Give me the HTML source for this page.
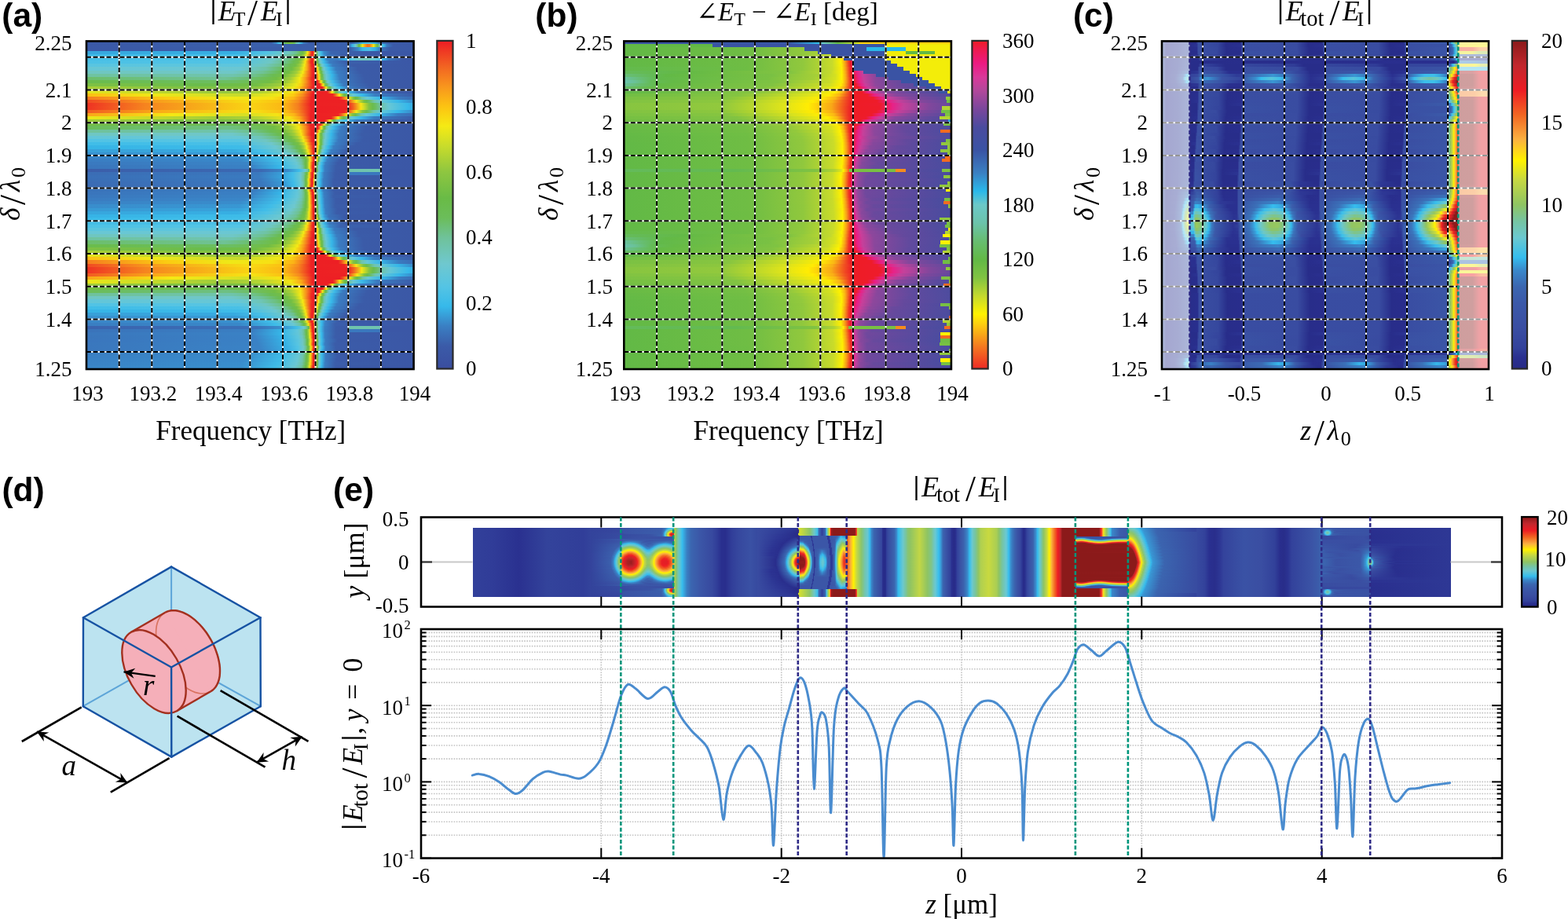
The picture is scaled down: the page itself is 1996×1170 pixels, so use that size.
<!DOCTYPE html>
<html><head><meta charset="utf-8"><title>figure</title>
<style>html,body{margin:0;padding:0;background:#fff}body{width:1996px;height:1170px;position:relative;overflow:hidden}i{position:absolute;display:block}</style>
</head><body>
<i style="left:110px;top:52px;width:417px;height:4px;background:linear-gradient(90deg,#3b59a7 0,#3b5fab 235.5px,#3987c8 241.5px,#3cbbe9 244.5px,#6fc8cd 248.5px,#6dc080 251.5px,#6bbd5e 252.5px,#75bf44 256.5px,#76bf44 260.5px,#6bbd5c 264.5px,#6fc5b5 267.5px,#58c5e1 270.5px,#37afe3 273.5px,#3a7bc0 276.5px,#3b5ba8 283.5px,#3b62ad 337.5px,#3988c9 345.5px,#3bbbe9 351.5px,#4dc1e5 360.5px,#36b2e5 367.5px,#3a76bc 374.5px,#3b5aa7 386.5px,#3b59a7 417px)"></i>
<i style="left:110px;top:56px;width:417px;height:4px;background:linear-gradient(90deg,#3b59a7 0,#3b61ad 250.5px,#3b5eaa 269.5px,#3b61ad 330.5px,#3a7ec3 335.5px,#36b6e8 338.5px,#6cc7d2 342.5px,#6fc29e 344.5px,#6abc51 346.5px,#70bd45 347.5px,#ccdd2a 350.5px,#eee818 351.5px,#f9a11a 354.5px,#f37121 357.5px,#f47920 360.5px,#face13 364.5px,#f5ea14 365.5px,#8dc640 368.5px,#6abc4d 370.5px,#6cbe65 371.5px,#6fc296 372.5px,#6fc8cf 374.5px,#37baea 378.5px,#3a78be 382.5px,#3b5aa8 390.5px,#3b59a7 417px)"></i>
<i style="left:110px;top:60px;width:417px;height:5px;background:linear-gradient(90deg,#3b59a7 0,#3b60ac 336.5px,#3988c9 345.5px,#3bbbe9 351.5px,#4dc1e5 360.5px,#36b2e5 367.5px,#3a76bc 374.5px,#3b5aa7 386.5px,#3b59a7 417px)"></i>
<i style="left:110px;top:65px;width:417px;height:4px;background:linear-gradient(90deg,#37a7de 0,#37afe3 189.5px,#51c3e5 229.5px,#6fc7c2 256.5px,#6ec18c 267.5px,#6abc55 272.5px,#6fbd45 275.5px,#9acb3c 278.5px,#f5ea14 281.5px,#ee3123 286.5px,#ed1e24 287.5px,#ee2524 288.5px,#f36a21 289.5px,#fbc812 290.5px,#bcd730 291.5px,#75bf44 292.5px,#6cbe63 293.5px,#6fc4a9 294.5px,#6ec8cf 295.5px,#3fbce8 298.5px,#3989ca 302.5px,#3b65af 311.5px,#3b58a6 369.5px,#3b57a6 417px)"></i>
<i style="left:110px;top:69px;width:417px;height:4px;background:linear-gradient(90deg,#3cbbe9 0,#44bee7 197.5px,#6fc8ce 242.5px,#6ec190 261.5px,#6abc53 269.5px,#74be44 273.5px,#96c93d 276.5px,#f6e514 280.5px,#ef3d23 285.5px,#ed1c24 287.5px,#ef3323 288.5px,#f9d313 290.5px,#b8d631 291.5px,#77bf44 292.5px,#6bbd5a 293.5px,#6fc3a1 294.5px,#6fc7c7 295.5px,#46bfe7 298.5px,#389fd9 301.5px,#3a76bc 306.5px,#3b5ca9 326.5px,#3b57a6 417px)"></i>
<i style="left:110px;top:73px;width:417px;height:4px;background:linear-gradient(90deg,#46bfe7 0,#4ec2e5 195.5px,#6fc7c5 238.5px,#6ec189 257.5px,#6abc52 266.5px,#74be44 271.5px,#9ecc3a 275.5px,#f4ea15 279.5px,#f47920 283.5px,#ee2724 286.5px,#ed1d24 287.5px,#ee2624 288.5px,#f15c22 289.5px,#faa918 290.5px,#ebe719 291.5px,#9ecc3a 292.5px,#6ebc45 293.5px,#6bbe62 294.5px,#6fc3a1 295.5px,#65c7d6 297.5px,#36b9ea 301.5px,#3a80c3 306.5px,#3a7abf 319.5px,#37aee2 329.5px,#58c5e1 338.5px,#6fc6c1 348.5px,#6fc6bc 358.5px,#61c6da 367.5px,#37b1e5 377.5px,#3a77bd 385.5px,#3b59a7 401.5px,#3b57a6 417px)"></i>
<i style="left:110px;top:77px;width:417px;height:4px;background:linear-gradient(90deg,#4cc1e6 0,#52c3e4 193.5px,#6fc7c3 234.5px,#6ec189 253.5px,#6abc52 263.5px,#77bf44 269.5px,#9ccb3b 273.5px,#f6e314 278.5px,#ee2f23 285.5px,#ed1c24 287.5px,#ee2e23 288.5px,#f4ea14 291.5px,#afd234 292.5px,#7cc143 293.5px,#6abc51 294.5px,#6fc4ad 296.5px,#64c6d7 298.5px,#3abae9 302.5px,#3a7cc1 309.5px,#3b60ac 329.5px,#3b57a6 417px)"></i>
<i style="left:110px;top:81px;width:417px;height:4px;background:linear-gradient(90deg,#59c5e0 0,#5ec6dc 196.5px,#6fc6be 227.5px,#6ec187 247.5px,#6abc52 259.5px,#74be44 266.5px,#a2ce39 272.5px,#f2e916 277.5px,#f89b1c 281.5px,#ee2a24 286.5px,#ed1c24 288.5px,#ee2c24 289.5px,#f8961d 291.5px,#f9d213 292.5px,#d2df26 293.5px,#97c93d 294.5px,#72be44 295.5px,#6abc54 296.5px,#6fc4aa 298.5px,#69c7d4 300.5px,#39bae9 305.5px,#3a7bc0 313.5px,#3b5ba8 338.5px,#3b58a6 417px)"></i>
<i style="left:110px;top:85px;width:417px;height:5px;background:linear-gradient(90deg,#67c7d5 0,#6ac7d3 195.5px,#6fc3a6 228.5px,#6cbe68 246.5px,#6fbd45 261.5px,#a1cd39 270.5px,#eee817 276.5px,#faae17 280.5px,#ef3323 286.5px,#ed1c24 289.5px,#ee2a24 290.5px,#f6831f 292.5px,#f1e916 294.5px,#8ac541 296.5px,#6dbc45 297.5px,#6bbd56 298.5px,#6fc3a6 300.5px,#6dc8d1 302.5px,#38baea 308.5px,#3a7bc0 317.5px,#3b5ba8 345.5px,#3b58a6 417px)"></i>
<i style="left:110px;top:90px;width:417px;height:4px;background:linear-gradient(90deg,#6fc6c0 0,#6fc7c7 186.5px,#6fc296 224.5px,#6abc54 245.5px,#72be44 257.5px,#a0cd3a 267.5px,#f5e914 275.5px,#f47920 282.5px,#ee2724 287.5px,#ed2024 290.5px,#ef3923 291.5px,#fbc812 294.5px,#e8e61b 295.5px,#89c541 297.5px,#6ebd45 298.5px,#6abc53 299.5px,#6fc39e 301.5px,#67c7d5 304.5px,#38baea 310.5px,#3a7dc1 319.5px,#3b5ba8 348.5px,#3b58a6 417px)"></i>
<i style="left:110px;top:94px;width:417px;height:4px;background:linear-gradient(90deg,#6fc3a0 0,#6fc4ae 186.5px,#6ec18b 214.5px,#6abc53 237.5px,#75bf44 252.5px,#a3ce39 264.5px,#f2e916 273.5px,#f9a11a 279.5px,#ee2724 287.5px,#ed1c24 290.5px,#ee2924 291.5px,#f47420 293.5px,#f9d413 295.5px,#dce221 296.5px,#85c341 298.5px,#6cbc46 299.5px,#6abc54 300.5px,#6fc29e 302.5px,#69c7d4 305.5px,#36b8e9 312.5px,#3a7cc1 321.5px,#3b5ba8 352.5px,#3b58a6 417px)"></i>
<i style="left:110px;top:98px;width:417px;height:4px;background:linear-gradient(90deg,#6cbe6b 0,#6fc296 175.5px,#6cbe6a 211.5px,#6fbd45 241.5px,#9fcc3a 259.5px,#f4ea14 271.5px,#f99c1b 278.5px,#ee2a24 286.5px,#ed1c24 290.5px,#ee2424 291.5px,#f36a22 293.5px,#fbc912 295.5px,#e9e61a 296.5px,#8dc640 298.5px,#73be44 299.5px,#6cbe6a 301.5px,#6fc294 302.5px,#6cc8d1 305.5px,#3dbce9 311.5px,#3a7bc0 322.5px,#3b5ba8 354.5px,#3b58a6 417px)"></i>
<i style="left:110px;top:102px;width:417px;height:4px;background:linear-gradient(90deg,#6abc4c 0,#6cbe62 185.5px,#71bd45 232.5px,#a1cd39 255.5px,#f6e514 271.5px,#f8951d 279.5px,#ee2a24 287.5px,#ed1d24 293.5px,#ee2d24 294.5px,#f57f1f 296.5px,#f7df13 298.5px,#d0de27 299.5px,#7ec143 301.5px,#69bb49 302.5px,#6bbd59 303.5px,#6fc3a5 305.5px,#6fc8ce 307.5px,#3fbce8 313.5px,#3a7bc0 324.5px,#3b5ba8 355.5px,#3b58a6 417px)"></i>
<i style="left:110px;top:106px;width:417px;height:4px;background:linear-gradient(90deg,#7ec143 0,#6abc4c 145.5px,#72be45 216.5px,#a1cd39 247.5px,#ede818 267.5px,#fbcb12 273.5px,#f26822 282.5px,#ed2324 288.5px,#ed2124 296.5px,#ef3823 297.5px,#fcc312 300.5px,#eee817 301.5px,#8fc640 303.5px,#74be44 304.5px,#6cbe6a 306.5px,#6fc295 307.5px,#6bc7d2 310.5px,#3cbbe9 316.5px,#3a7abf 327.5px,#3b5ba8 359.5px,#3b58a6 417px)"></i>
<i style="left:110px;top:110px;width:417px;height:5px;background:linear-gradient(90deg,#aad036 0,#81c242 116.5px,#7ec143 202.5px,#a6cf38 236.5px,#eee818 263.5px,#facf13 270.5px,#f57f1f 279.5px,#ee2324 287.5px,#ed1d24 299.5px,#ee2c24 300.5px,#f47620 302.5px,#fad113 304.5px,#e3e41d 305.5px,#8cc540 307.5px,#6abc4e 309.5px,#6cbe63 310.5px,#6fc4a8 312.5px,#66c7d6 315.5px,#36b9ea 322.5px,#3a7ec2 331.5px,#3b5ca9 362.5px,#3b58a6 417px)"></i>
<i style="left:110px;top:115px;width:417px;height:4px;background:linear-gradient(90deg,#e6e51c 0,#96c93d 175.5px,#add235 219.5px,#f6e314 262.5px,#faab18 274.5px,#ed2024 288.5px,#ed2124 306.5px,#f04d23 308.5px,#f8db13 312.5px,#e0e31f 313.5px,#80c242 316.5px,#6dbc45 317.5px,#6bbd60 319.5px,#6fc29e 321.5px,#68c7d4 325.5px,#36b8ea 334.5px,#3a7cc1 346.5px,#3b5ba8 387.5px,#3b59a7 417px)"></i>
<i style="left:110px;top:119px;width:417px;height:4px;background:linear-gradient(90deg,#fcbe13 0,#efe817 84.5px,#c5db2c 195.5px,#efe817 244.5px,#fbcb12 263.5px,#f78c1e 275.5px,#ed1f24 287.5px,#ed2324 313.5px,#f15822 316.5px,#f8dc13 321.5px,#e9e61a 322.5px,#86c441 326.5px,#6abb46 328.5px,#6cbe6b 331.5px,#6fc4a7 334.5px,#67c7d5 339.5px,#36b9ea 351.5px,#3a7dc1 367.5px,#3b5da9 417px)"></i>
<i style="left:110px;top:123px;width:417px;height:4px;background:linear-gradient(90deg,#f57d20 0,#fbcb12 101.5px,#efe817 182.5px,#f7e114 236.5px,#fbb615 263.5px,#f47720 275.5px,#ed2124 286.5px,#ed2224 321.5px,#f15223 325.5px,#f5e914 333.5px,#88c441 339.5px,#69bb46 342.5px,#6bbd59 345.5px,#6fc3a6 350.5px,#67c7d5 357.5px,#37b9ea 373.5px,#3a7bc0 397.5px,#3b6cb5 417px)"></i>
<i style="left:110px;top:127px;width:417px;height:4px;background:linear-gradient(90deg,#f04923 0,#f8971d 77.5px,#f7dc13 205.5px,#fcbe13 252.5px,#f78a1e 269.5px,#ed2024 286.5px,#ed2124 328.5px,#f15d22 334.5px,#f6e314 343.5px,#c0d92e 347.5px,#79c043 353.5px,#6abc4b 356.5px,#6cbe69 360.5px,#6fc4ab 366.5px,#65c7d7 375.5px,#36b7e9 396.5px,#3988c9 417px)"></i>
<i style="left:110px;top:131px;width:417px;height:4px;background:linear-gradient(90deg,#ee3123 0,#f6831f 74.5px,#f9d413 207.5px,#fbb615 251.5px,#f57d20 269.5px,#ed2024 285.5px,#ed2324 332.5px,#f26422 339.5px,#f6e614 349.5px,#81c242 359.5px,#6abc4d 364.5px,#6cbe68 368.5px,#6fc3a5 374.5px,#68c7d4 384.5px,#37b9ea 408.5px,#37a6dd 417px)"></i>
<i style="left:110px;top:135px;width:417px;height:5px;background:linear-gradient(90deg,#ef3323 0,#f6841f 74.5px,#f9d413 207.5px,#fbb715 251.5px,#f57f1f 269.5px,#ed1f24 286.5px,#ed2124 332.5px,#f25f22 339.5px,#f7e214 349.5px,#d6e024 352.5px,#83c342 359.5px,#6abc4c 364.5px,#6cbe63 368.5px,#6fc4a9 375.5px,#67c7d6 385.5px,#36b9ea 409.5px,#37a6de 417px)"></i>
<i style="left:110px;top:140px;width:417px;height:4px;background:linear-gradient(90deg,#f15a22 0,#faab18 90.5px,#f6e214 209.5px,#fbbc14 254.5px,#f6831f 270.5px,#ed1e24 286.5px,#ee2324 328.5px,#f26422 334.5px,#f5e914 343.5px,#86c441 351.5px,#6abc4d 356.5px,#6cbf6f 360.5px,#6fc3a7 365.5px,#67c7d5 374.5px,#36b9ea 395.5px,#3987c8 417px)"></i>
<i style="left:110px;top:144px;width:417px;height:4px;background:linear-gradient(90deg,#f9a519 0,#f5e814 108.5px,#d7e024 201.5px,#f6e314 243.5px,#fbb416 264.5px,#f26822 276.5px,#ed2024 285.5px,#ee2424 320.5px,#f36b21 325.5px,#f7de13 331.5px,#efe817 332.5px,#84c342 338.5px,#6abc4f 342.5px,#6cbf71 345.5px,#6fc4a9 349.5px,#66c7d6 356.5px,#36b6e8 373.5px,#3a7bc0 396.5px,#3b6cb5 417px)"></i>
<i style="left:110px;top:148px;width:417px;height:4px;background:linear-gradient(90deg,#ede818 0,#9dcc3b 173.5px,#b3d433 218.5px,#f6e314 258.5px,#faa719 271.5px,#ed2124 285.5px,#ed2124 311.5px,#f15223 314.5px,#f9d513 319.5px,#f1e916 320.5px,#8bc541 324.5px,#6abc4c 327.5px,#6cbe64 329.5px,#6fc3a4 332.5px,#69c7d4 337.5px,#37b9ea 349.5px,#3a7cc1 366.5px,#3b5ca9 417px)"></i>
<i style="left:110px;top:152px;width:417px;height:4px;background:linear-gradient(90deg,#a3ce39 0,#7dc143 119.5px,#7bc043 202.5px,#a3ce39 236.5px,#efe817 262.5px,#fcc412 270.5px,#f26322 279.5px,#ed2124 285.5px,#ed2124 303.5px,#f04c23 305.5px,#f8db13 309.5px,#e1e41f 310.5px,#80c242 313.5px,#6dbc45 314.5px,#6bbd5f 316.5px,#6fc29e 318.5px,#68c7d4 322.5px,#36b8ea 331.5px,#3a7cc1 343.5px,#3b5ba8 384.5px,#3b59a7 417px)"></i>
<i style="left:110px;top:156px;width:417px;height:4px;background:linear-gradient(90deg,#73be44 0,#6abc53 183.5px,#72be45 223.5px,#9fcc3a 249.5px,#ede818 266.5px,#facc12 271.5px,#f15c22 280.5px,#ed2124 285.5px,#ed2224 297.5px,#f25e22 299.5px,#f6e314 302.5px,#81c242 305.5px,#69bb46 306.5px,#6bbd55 307.5px,#6fc29c 309.5px,#6bc7d2 312.5px,#3fbce8 318.5px,#3a7ac0 330.5px,#3b5ba8 364.5px,#3b58a6 417px)"></i>
<i style="left:110px;top:160px;width:417px;height:5px;background:linear-gradient(90deg,#6bbd58 0,#6ec084 179.5px,#70bd45 238.5px,#9fcc3a 257.5px,#f5e914 270.5px,#f78d1e 278.5px,#ee2924 285.5px,#ed1c24 291.5px,#ee2624 294.5px,#f37021 296.5px,#f9d113 298.5px,#dfe320 299.5px,#86c441 301.5px,#6cbc46 302.5px,#6abc55 303.5px,#6fc39f 305.5px,#68c7d4 308.5px,#3abae9 314.5px,#3a7bc0 324.5px,#3b5ba8 355.5px,#3b58a6 417px)"></i>
<i style="left:110px;top:165px;width:417px;height:4px;background:linear-gradient(90deg,#6fc29c 0,#6fc4ab 185.5px,#6ec189 212.5px,#6abc54 234.5px,#73be44 249.5px,#9dcc3b 261.5px,#f6e414 272.5px,#f47620 280.5px,#ed2324 286.5px,#ed1e24 291.5px,#ee3023 292.5px,#fbb516 295.5px,#f6e314 296.5px,#9dcb3b 298.5px,#69bb4a 300.5px,#6bbd5a 301.5px,#6fc3a7 303.5px,#6fc8cf 305.5px,#3ebce8 311.5px,#3a7bc0 322.5px,#3b5ba8 353.5px,#3b58a6 417px)"></i>
<i style="left:110px;top:169px;width:417px;height:4px;background:linear-gradient(90deg,#6fc7c3 0,#6fc7c9 185.5px,#6fc296 223.5px,#6abc54 243.5px,#74be44 255.5px,#9ecc3a 264.5px,#f6e314 273.5px,#f15422 282.5px,#ed2224 286.5px,#ed1c24 289.5px,#ee2924 290.5px,#f47321 292.5px,#f9d313 294.5px,#dee320 295.5px,#87c441 297.5px,#6dbc45 298.5px,#6abc53 299.5px,#6fc29c 301.5px,#6ac7d3 304.5px,#36b9ea 311.5px,#3a7dc1 320.5px,#3b5ca8 350.5px,#3b58a6 417px)"></i>
<i style="left:110px;top:173px;width:417px;height:4px;background:linear-gradient(90deg,#62c6d9 0,#67c7d5 195.5px,#6fc5b5 222.5px,#6ec085 239.5px,#6abc54 251.5px,#73be44 260.5px,#a3ce39 268.5px,#f6e514 275.5px,#ee2b24 286.5px,#ed1c24 289.5px,#ee2424 290.5px,#f36a21 292.5px,#fbca12 294.5px,#e7e61b 295.5px,#8bc540 297.5px,#71be45 298.5px,#6cbe6c 300.5px,#6fc297 301.5px,#6bc7d2 304.5px,#3cbbe9 310.5px,#3a7abf 321.5px,#3b5ba8 353.5px,#3b58a6 417px)"></i>
<i style="left:110px;top:177px;width:417px;height:4px;background:linear-gradient(90deg,#51c3e5 0,#58c5e1 194.5px,#6fc6c2 228.5px,#6ec187 247.5px,#6abc54 257.5px,#72be45 264.5px,#9acb3c 270.5px,#efe817 276.5px,#faa918 280.5px,#ee3123 286.5px,#ed1c24 289.5px,#ee2624 290.5px,#f47221 292.5px,#f9d613 294.5px,#d9e123 295.5px,#81c242 297.5px,#69bb47 298.5px,#6bbd58 299.5px,#6fc3a6 301.5px,#6fc8cf 303.5px,#3dbbe9 309.5px,#3a79bf 320.5px,#3b5ba8 351.5px,#3b58a6 417px)"></i>
<i style="left:110px;top:181px;width:417px;height:4px;background:linear-gradient(90deg,#40bde8 0,#49c0e6 193.5px,#6fc7cb 235.5px,#6ec18b 254.5px,#6abc53 263.5px,#76bf44 269.5px,#a5ce38 274.5px,#f6e314 279.5px,#ef3423 287.5px,#ed1c24 290.5px,#ee2e24 291.5px,#f78b1e 293.5px,#fcc312 294.5px,#e9e61a 295.5px,#85c341 297.5px,#69bb46 298.5px,#6bbd58 299.5px,#6fc4aa 301.5px,#6bc7d2 303.5px,#38baea 309.5px,#3a7dc2 317.5px,#3b5ca9 343.5px,#3b58a6 417px)"></i>
<i style="left:110px;top:185px;width:417px;height:5px;background:linear-gradient(90deg,#36b4e6 0,#3ebce8 198.5px,#6bc7d2 240.5px,#6fc294 259.5px,#6abc54 267.5px,#75bf44 272.5px,#a1cd39 276.5px,#f2e915 280.5px,#f78b1e 284.5px,#ee2a24 288.5px,#ed1c24 290.5px,#ee3123 291.5px,#f8d913 294.5px,#cadc2a 295.5px,#90c73f 296.5px,#6ebd45 297.5px,#6bbd57 298.5px,#6fc4ad 300.5px,#67c7d5 302.5px,#38baea 307.5px,#3a7ec2 314.5px,#3b5ca9 337.5px,#3b58a6 417px)"></i>
<i style="left:110px;top:190px;width:417px;height:4px;background:linear-gradient(90deg,#38a0d9 0,#37abe0 188.5px,#46bfe7 221.5px,#6fc7ca 252.5px,#6ec18c 265.5px,#6abc52 271.5px,#70bd45 274.5px,#a3ce38 278.5px,#ebe719 281.5px,#fcc013 283.5px,#ee2e24 288.5px,#ed1d24 290.5px,#ef3823 291.5px,#fbb915 293.5px,#e5e51d 294.5px,#a1cd39 295.5px,#74be44 296.5px,#6bbd56 297.5px,#6ec18e 298.5px,#6fc8cf 300.5px,#41bde8 304.5px,#3a7fc3 311.5px,#3b5ca9 331.5px,#3b57a6 417px)"></i>
<i style="left:110px;top:194px;width:417px;height:4px;background:linear-gradient(90deg,#3991cf 0,#389cd7 191.5px,#40bde8 226.5px,#6fc8cf 257.5px,#6fc297 268.5px,#6abc51 274.5px,#79c043 277.5px,#b0d334 280.5px,#e9e61a 282.5px,#f8d813 283.5px,#ee3123 288.5px,#ed1d24 290.5px,#f04223 291.5px,#f8d713 293.5px,#bcd730 294.5px,#7ec143 295.5px,#6abc53 296.5px,#6fc5b7 298.5px,#5dc5dd 300.5px,#37b0e4 304.5px,#3a7dc1 309.5px,#3b5ba8 328.5px,#3b57a6 417px)"></i>
<i style="left:110px;top:198px;width:417px;height:4px;background:linear-gradient(90deg,#3a85c7 0,#3990cf 193.5px,#3fbce8 234.5px,#6dc8d0 262.5px,#6fc29d 271.5px,#6abc54 276.5px,#6cbc46 278.5px,#a0cd3a 281.5px,#e0e31f 283.5px,#f7dd13 284.5px,#f04323 288.5px,#ed1c24 290.5px,#ee3223 291.5px,#f9d213 293.5px,#b9d631 294.5px,#78bf44 295.5px,#6bbd59 296.5px,#6fc3a0 297.5px,#6fc7c6 298.5px,#46bfe7 301.5px,#38a0d9 304.5px,#3a76bc 309.5px,#3b5aa7 329.5px,#3b57a6 417px)"></i>
<i style="left:110px;top:202px;width:417px;height:4px;background:linear-gradient(90deg,#3a7dc2 0,#3988c9 196.5px,#3ebce8 241.5px,#6bc7d2 265.5px,#6fc3a0 273.5px,#6abc50 278.5px,#69bb46 279.5px,#8ac541 281.5px,#f2e915 284.5px,#f89b1c 286.5px,#f04423 288.5px,#ee2724 289.5px,#ed1c24 290.5px,#ef4023 291.5px,#f8991c 292.5px,#ece719 293.5px,#90c73f 294.5px,#6abc4e 295.5px,#6fc6be 297.5px,#56c4e3 299.5px,#37ace1 302.5px,#3a7cc1 306.5px,#3b5ba8 322.5px,#3b57a6 417px)"></i>
<i style="left:110px;top:206px;width:417px;height:4px;background:linear-gradient(90deg,#3a79bf 0,#3a84c6 203.5px,#3ebce8 247.5px,#69c7d3 267.5px,#6fc4aa 273.5px,#6dbf76 276.5px,#6bbd5b 277.5px,#6abb46 279.5px,#92c73f 281.5px,#e2e41e 283.5px,#f9d313 284.5px,#f04523 287.5px,#ee2624 288.5px,#ed1c24 289.5px,#f04d23 290.5px,#faae17 291.5px,#d0de27 292.5px,#7dc143 293.5px,#6bbd5a 294.5px,#6fc3a7 295.5px,#6ec8d0 296.5px,#3dbce9 299.5px,#3a7dc1 304.5px,#3b5ba8 319.5px,#3b57a6 417px)"></i>
<i style="left:110px;top:210px;width:417px;height:5px;background:linear-gradient(90deg,#3a76bc 0,#3a81c4 209.5px,#36b6e8 245.5px,#62c6d9 267.5px,#6fc6c0 272.5px,#6fc29d 275.5px,#6abc54 278.5px,#69bb48 279.5px,#90c73f 281.5px,#e7e61b 283.5px,#fbca12 284.5px,#ef3623 287.5px,#ed1e24 288.5px,#ee2b24 289.5px,#f57f1f 290.5px,#f6e414 291.5px,#97c93d 292.5px,#6abc4e 293.5px,#6fc295 294.5px,#6fc7c5 295.5px,#50c2e5 297.5px,#36b4e7 299.5px,#3a7dc1 303.5px,#3b5ca8 317.5px,#3b57a6 417px)"></i>
<i style="left:110px;top:215px;width:417px;height:4px;background:linear-gradient(90deg,#3b5eaa 0,#3b69b3 222.5px,#398bcb 256.5px,#3cbbe9 270.5px,#6ac7d3 278.5px,#6fc3a1 281.5px,#6bbd57 283.5px,#f7e114 284.5px,#f04523 287.5px,#ee2424 288.5px,#ed1f24 289.5px,#f26322 290.5px,#fbcb12 291.5px,#afd234 292.5px,#69bb46 293.5px,#6fc6bd 295.5px,#53c3e4 297.5px,#36b7e9 299.5px,#3a7dc2 303.5px,#3b5ba8 317.5px,#3b59a7 333.5px,#6fc4ac 334.5px,#6fc5b0 374.5px,#3b57a6 375.5px,#3b57a6 417px)"></i>
<i style="left:110px;top:219px;width:417px;height:4px;background:linear-gradient(90deg,#3b6db5 0,#3a78be 218.5px,#38a0d9 249.5px,#41bde8 262.5px,#68c7d5 272.5px,#6fc3a6 276.5px,#6abc52 279.5px,#6ebd45 280.5px,#88c441 281.5px,#b1d333 282.5px,#f8da13 283.5px,#ef3b23 286.5px,#ed1f24 287.5px,#ee2b24 288.5px,#f6821f 289.5px,#f5e814 290.5px,#90c73f 291.5px,#6abc51 292.5px,#6fc29d 293.5px,#6fc8cb 294.5px,#3dbbe9 297.5px,#3a7bc0 302.5px,#3b5ba8 316.5px,#3b59a6 333.5px,#3a7abf 334.5px,#3a76bd 374.5px,#3b57a6 375.5px,#3b57a6 417px)"></i>
<i style="left:110px;top:223px;width:417px;height:4px;background:linear-gradient(90deg,#3a6fb7 0,#3a7bc0 219.5px,#37a5dc 250.5px,#42bde8 262.5px,#6ac7d3 272.5px,#6fc29e 276.5px,#6bbd5a 278.5px,#6abc4b 279.5px,#97c93d 281.5px,#f7e114 283.5px,#ef3e23 286.5px,#ed2024 287.5px,#ee2924 288.5px,#f57d20 289.5px,#f6e414 290.5px,#93c83e 291.5px,#6abc50 292.5px,#6fc29c 293.5px,#6fc7ca 294.5px,#4cc1e6 296.5px,#37afe3 298.5px,#3a7bc0 302.5px,#3b5ba8 316.5px,#3b57a6 417px)"></i>
<i style="left:110px;top:227px;width:417px;height:4px;background:linear-gradient(90deg,#3a6eb6 0,#3a79bf 221.5px,#389fd8 250.5px,#42bde8 263.5px,#6ac7d3 272.5px,#6fc299 276.5px,#6abc55 278.5px,#6bbc46 279.5px,#85c341 280.5px,#e5e51c 282.5px,#fcc512 283.5px,#f15123 285.5px,#ee2824 286.5px,#ed1d24 287.5px,#f15722 288.5px,#fcc013 289.5px,#b9d631 290.5px,#6ebc45 291.5px,#6fc6ba 293.5px,#53c4e4 295.5px,#36b7e9 297.5px,#3a7dc1 301.5px,#3b5ba8 315.5px,#3b57a6 417px)"></i>
<i style="left:110px;top:231px;width:417px;height:4px;background:linear-gradient(90deg,#3b6cb5 0,#3a78be 223.5px,#389bd6 251.5px,#3ebce8 263.5px,#66c7d6 272.5px,#6fc5b5 275.5px,#6ec083 277.5px,#6bbd59 278.5px,#69bb4a 279.5px,#7dc143 280.5px,#a3ce39 281.5px,#d8e123 282.5px,#fad013 283.5px,#f15c22 285.5px,#ee2e24 286.5px,#ed1c24 287.5px,#f04823 288.5px,#faae17 289.5px,#cadc2a 290.5px,#77bf44 291.5px,#6cbe6c 292.5px,#6fc5b3 293.5px,#68c7d5 294.5px,#37b9ea 297.5px,#3a7ec2 301.5px,#3b5ca9 314.5px,#3b57a6 417px)"></i>
<i style="left:110px;top:235px;width:417px;height:5px;background:linear-gradient(90deg,#3b6bb4 0,#3a77bd 225.5px,#3899d4 252.5px,#3ebce8 264.5px,#65c7d7 272.5px,#6fc5b3 275.5px,#6dc07c 277.5px,#6bbd57 278.5px,#69bb46 279.5px,#85c342 280.5px,#e9e61a 282.5px,#fcc013 283.5px,#f04a23 285.5px,#ee2424 286.5px,#ed2124 287.5px,#f26922 288.5px,#f9d113 289.5px,#a7cf37 290.5px,#69bb49 291.5px,#6fc7c2 293.5px,#50c2e5 295.5px,#36b3e6 297.5px,#3a7cc0 301.5px,#3b5ba8 315.5px,#3b57a6 417px)"></i>
<i style="left:110px;top:240px;width:417px;height:4px;background:linear-gradient(90deg,#3a73ba 0,#3a7ec2 214.5px,#37b1e4 248.5px,#5dc5dd 267.5px,#6fc7c5 272.5px,#6fc29d 275.5px,#6bbd5f 277.5px,#71bd45 279.5px,#89c541 280.5px,#e5e51c 282.5px,#fbc812 283.5px,#f15922 285.5px,#ee2d24 286.5px,#ed1c24 287.5px,#f04623 288.5px,#faac18 289.5px,#ccdd29 290.5px,#78bf44 291.5px,#6cbe6a 292.5px,#6fc5b2 293.5px,#68c7d4 294.5px,#37b9ea 297.5px,#3a7ec2 301.5px,#3b5ca9 314.5px,#3b57a6 417px)"></i>
<i style="left:110px;top:244px;width:417px;height:4px;background:linear-gradient(90deg,#3a75bc 0,#3a80c4 211.5px,#36b6e8 247.5px,#63c6d9 268.5px,#6fc6bb 273.5px,#6ec18d 276.5px,#6bbd56 278.5px,#69bb49 279.5px,#94c83e 281.5px,#f3e915 283.5px,#f6841f 285.5px,#ee2824 287.5px,#ed1d24 288.5px,#f15622 289.5px,#fcbf13 290.5px,#bad630 291.5px,#6ebd45 292.5px,#6fc6ba 294.5px,#53c4e4 296.5px,#36b7e9 298.5px,#3a7dc1 302.5px,#3b5ba8 316.5px,#3b57a6 417px)"></i>
<i style="left:110px;top:248px;width:417px;height:4px;background:linear-gradient(90deg,#3a78be 0,#3a83c5 206.5px,#3ebce8 250.5px,#66c7d6 268.5px,#6fc5b7 273.5px,#6ec18a 276.5px,#6bbd57 278.5px,#75bf44 280.5px,#8cc540 281.5px,#e2e41e 283.5px,#facd13 284.5px,#ef3523 287.5px,#ed1d24 288.5px,#ef3323 289.5px,#f7901e 290.5px,#e8e61b 291.5px,#87c441 292.5px,#6bbd57 293.5px,#6fc3a5 294.5px,#6ec8d0 295.5px,#3abbe9 298.5px,#3a80c4 302.5px,#3b5eaa 314.5px,#3b57a6 417px)"></i>
<i style="left:110px;top:252px;width:417px;height:4px;background:linear-gradient(90deg,#3a7cc1 0,#3a86c8 200.5px,#3dbce9 245.5px,#69c7d4 267.5px,#6fc4ae 273.5px,#6dc07f 276.5px,#69bb49 279.5px,#8cc540 281.5px,#dee320 283.5px,#f9d313 284.5px,#ef3c23 287.5px,#ed2024 288.5px,#ee2724 289.5px,#f47920 290.5px,#f7e114 291.5px,#97c93d 292.5px,#6abc4f 293.5px,#6fc29a 294.5px,#6fc7c9 295.5px,#4dc1e5 297.5px,#37b0e4 299.5px,#3a7bc0 303.5px,#3b5ba8 317.5px,#3b57a6 417px)"></i>
<i style="left:110px;top:256px;width:417px;height:4px;background:linear-gradient(90deg,#3a82c5 0,#398dcc 196.5px,#3fbce8 240.5px,#6ac7d3 265.5px,#6fc3a3 273.5px,#6abc50 278.5px,#6bbb46 279.5px,#92c73f 281.5px,#e2e41e 283.5px,#f9d113 284.5px,#ef3e23 287.5px,#ed2124 288.5px,#ed2324 289.5px,#f36f21 290.5px,#f8d713 291.5px,#a2cd39 292.5px,#69bb4b 293.5px,#6ec190 294.5px,#6fc7c4 295.5px,#4fc2e5 297.5px,#36b3e6 299.5px,#3a7cc1 303.5px,#3b5ba8 317.5px,#3b57a6 417px)"></i>
<i style="left:110px;top:260px;width:417px;height:5px;background:linear-gradient(90deg,#398dcc 0,#3897d3 194.5px,#40bde8 234.5px,#6ec8cf 264.5px,#6fc298 273.5px,#6bbd55 277.5px,#6dbc45 279.5px,#90c73f 281.5px,#dae122 283.5px,#f8dc13 284.5px,#f04f23 287.5px,#ee2a24 288.5px,#ed1c24 289.5px,#f04423 290.5px,#faa819 291.5px,#d2df26 292.5px,#7cc143 293.5px,#6bbe62 294.5px,#6fc4ae 295.5px,#6ac7d3 296.5px,#39bae9 299.5px,#3a7fc3 303.5px,#3b5da9 316.5px,#3b57a6 417px)"></i>
<i style="left:110px;top:265px;width:417px;height:4px;background:linear-gradient(90deg,#3899d4 0,#38a3db 193.5px,#41bde8 227.5px,#6ec8cf 260.5px,#6fc29a 271.5px,#6abc55 276.5px,#6abb46 278.5px,#a0cd3a 281.5px,#e6e51c 283.5px,#f9d213 284.5px,#f04b23 287.5px,#ee2a24 288.5px,#ed1c24 289.5px,#f04123 290.5px,#f9a21a 291.5px,#d9e123 292.5px,#80c242 293.5px,#6bbd59 294.5px,#6fc4a8 295.5px,#6dc8d0 296.5px,#3bbbe9 299.5px,#3a7bc0 304.5px,#3b5ba8 319.5px,#3b57a6 417px)"></i>
<i style="left:110px;top:269px;width:417px;height:4px;background:linear-gradient(90deg,#37a6dd 0,#37afe3 191.5px,#4fc2e5 231.5px,#6fc7c3 259.5px,#6fc295 269.5px,#6abc52 275.5px,#76bf44 278.5px,#96c93d 280.5px,#f5ea14 283.5px,#ee2924 288.5px,#ed1c24 289.5px,#ef3e23 290.5px,#f89a1c 291.5px,#e5e51d 292.5px,#88c441 293.5px,#6abc53 294.5px,#6fc29d 295.5px,#6fc7c9 296.5px,#4fc2e5 298.5px,#36b5e7 300.5px,#3a7ec2 304.5px,#3b5ca9 318.5px,#3b57a6 417px)"></i>
<i style="left:110px;top:273px;width:417px;height:4px;background:linear-gradient(90deg,#36b3e6 0,#3ebce8 203.5px,#6dc8d1 248.5px,#6fc296 266.5px,#6bbd55 273.5px,#74be44 277.5px,#a0cd3a 280.5px,#f5e814 283.5px,#ef3223 288.5px,#ed1f24 289.5px,#ed2224 290.5px,#f26222 291.5px,#fcc013 292.5px,#c5da2d 293.5px,#7ac043 294.5px,#6bbd5a 295.5px,#6fc3a5 296.5px,#6fc8cd 297.5px,#41bde8 300.5px,#3896d3 303.5px,#3a72b9 308.5px,#3b5aa7 328.5px,#3b57a6 417px)"></i>
<i style="left:110px;top:277px;width:417px;height:4px;background:linear-gradient(90deg,#3abbe9 0,#42bee8 197.5px,#6ec8cf 243.5px,#6ec191 263.5px,#6abc51 272.5px,#76bf44 276.5px,#9bcb3b 279.5px,#e3e41d 282.5px,#f7df13 283.5px,#ef3923 288.5px,#ed1c24 290.5px,#ef3b23 291.5px,#f7de13 293.5px,#acd135 294.5px,#70bd45 295.5px,#6cbe65 296.5px,#6fc3a7 297.5px,#6fc8cc 298.5px,#44bee7 301.5px,#389dd7 304.5px,#3a75bc 309.5px,#3b5aa7 329.5px,#3b57a6 417px)"></i>
<i style="left:110px;top:281px;width:417px;height:5px;background:linear-gradient(90deg,#43bee7 0,#4ac0e6 195.5px,#6fc7c8 239.5px,#6ec189 259.5px,#6abc52 268.5px,#6fbd45 272.5px,#a2cd39 277.5px,#f6e514 281.5px,#ef3623 287.5px,#ed1c24 289.5px,#ee3123 290.5px,#fcc013 292.5px,#d5e025 293.5px,#8bc540 294.5px,#69bb4a 295.5px,#6fc4ac 297.5px,#6fc8cc 298.5px,#48c0e6 301.5px,#37a6dd 304.5px,#3a7abf 309.5px,#3b5ba8 329.5px,#3b57a6 417px)"></i>
<i style="left:110px;top:286px;width:417px;height:4px;background:linear-gradient(90deg,#4ec2e5 0,#54c4e4 194.5px,#6fc6c2 234.5px,#6ec18b 253.5px,#6abc52 264.5px,#75bf44 270.5px,#a3ce39 275.5px,#ede718 279.5px,#fbc812 281.5px,#ee2c24 287.5px,#ed1c24 289.5px,#ef3623 290.5px,#fbb615 292.5px,#e7e61b 293.5px,#a3ce38 294.5px,#75bf44 295.5px,#6bbd55 296.5px,#6fc5b2 298.5px,#6fc8ce 299.5px,#41bde8 303.5px,#3a86c8 309.5px,#3b62ae 323.5px,#3b57a6 417px)"></i>
<i style="left:110px;top:290px;width:417px;height:4px;background:linear-gradient(90deg,#5ac5df 0,#60c6db 197.5px,#6fc6bf 226.5px,#6ec187 247.5px,#6abc54 259.5px,#74be44 267.5px,#9fcc3a 273.5px,#f6e314 279.5px,#ef3223 287.5px,#ed1d24 289.5px,#ed1f24 290.5px,#ef3d23 291.5px,#f5ea14 294.5px,#85c342 296.5px,#69bb49 297.5px,#6cbe62 298.5px,#6fc299 299.5px,#6fc8ce 301.5px,#3dbce9 306.5px,#3a7abf 315.5px,#3b5ba8 341.5px,#3b58a6 417px)"></i>
<i style="left:110px;top:294px;width:417px;height:4px;background:linear-gradient(90deg,#68c7d5 0,#6bc7d2 195.5px,#6fc3a3 229.5px,#6abc51 254.5px,#74be44 262.5px,#a5ce38 270.5px,#f4ea15 276.5px,#f57d20 282.5px,#ee2f23 286.5px,#ed1e24 289.5px,#ef3323 290.5px,#facc12 293.5px,#dfe31f 294.5px,#80c242 296.5px,#69bb4a 297.5px,#6bbd5e 298.5px,#6ec190 299.5px,#6fc7c5 301.5px,#4dc1e5 305.5px,#37aee3 309.5px,#3a7abf 317.5px,#3b5ba8 346.5px,#3b58a6 417px)"></i>
<i style="left:110px;top:298px;width:417px;height:4px;background:linear-gradient(90deg,#6fc6c0 0,#6fc7c7 186.5px,#6fc295 224.5px,#6abc54 245.5px,#73be44 257.5px,#9bcb3b 266.5px,#f6e314 275.5px,#f37021 282.5px,#ed2324 287.5px,#ed1c24 289.5px,#ee2a24 290.5px,#f57a20 292.5px,#f7de13 294.5px,#d0de28 295.5px,#7cc143 297.5px,#69bb4b 298.5px,#6bbd5d 299.5px,#6fc4aa 301.5px,#63c6d8 304.5px,#36b8ea 310.5px,#3a7ec2 318.5px,#3b5ca9 346.5px,#3b58a6 417px)"></i>
<i style="left:110px;top:302px;width:417px;height:4px;background:linear-gradient(90deg,#6fc3a0 0,#6fc4ae 185.5px,#6ec18a 214.5px,#6abc53 236.5px,#74be44 251.5px,#a1cd39 263.5px,#f6e314 273.5px,#f37021 281.5px,#ee2724 286.5px,#ed1c24 289.5px,#ee2924 290.5px,#f47520 292.5px,#f9d513 294.5px,#dbe221 295.5px,#85c341 297.5px,#6bbc46 298.5px,#6abc55 299.5px,#6fc29e 301.5px,#69c7d4 304.5px,#36b7e9 311.5px,#3a7cc1 320.5px,#3b5ba8 351.5px,#3b58a6 417px)"></i>
<i style="left:110px;top:306px;width:417px;height:5px;background:linear-gradient(90deg,#6cbe6b 0,#6fc296 175.5px,#6cbe6a 211.5px,#70bd45 241.5px,#9dcb3b 258.5px,#f6e614 271.5px,#f6841f 279.5px,#ee2524 286.5px,#ed1f24 290.5px,#ef3423 291.5px,#f6e514 295.5px,#9ccb3b 297.5px,#69bb4a 299.5px,#6bbd5a 300.5px,#6fc3a5 302.5px,#66c7d6 305.5px,#36b5e7 312.5px,#3a7cc1 321.5px,#3b5ba8 352.5px,#3b58a6 417px)"></i>
<i style="left:110px;top:311px;width:417px;height:4px;background:linear-gradient(90deg,#6abc4c 0,#6bbe62 185.5px,#71bd45 231.5px,#a1cd39 253.5px,#f5e914 268.5px,#f8991c 276.5px,#ee2424 285.5px,#ed1c24 290.5px,#ee2824 291.5px,#f47421 293.5px,#f9d413 295.5px,#dce221 296.5px,#84c342 298.5px,#6bbc46 299.5px,#6bbd55 300.5px,#6fc3a0 302.5px,#68c7d5 305.5px,#3abae9 311.5px,#3a7cc0 321.5px,#3b5ba8 352.5px,#3b58a6 417px)"></i>
<i style="left:110px;top:315px;width:417px;height:4px;background:linear-gradient(90deg,#7ec143 0,#6abc4c 145.5px,#71bd45 215.5px,#a2ce39 246.5px,#f1e916 265.5px,#fab216 273.5px,#ed2224 285.5px,#ed2124 293.5px,#ef3a23 294.5px,#fcc612 297.5px,#ece719 298.5px,#8dc640 300.5px,#72be44 301.5px,#6cbe6c 303.5px,#6fc297 304.5px,#6bc7d2 307.5px,#3bbbe9 313.5px,#3a7cc1 323.5px,#3b5ba8 353.5px,#3b58a6 417px)"></i>
<i style="left:110px;top:319px;width:417px;height:4px;background:linear-gradient(90deg,#aad036 0,#81c242 116.5px,#7ec143 202.5px,#a5cf38 235.5px,#efe817 262.5px,#fcbf13 271.5px,#f15123 281.5px,#ed2024 286.5px,#ed1c24 297.5px,#ee2624 298.5px,#f26822 300.5px,#fcc312 302.5px,#f2e916 303.5px,#99ca3c 305.5px,#69bb49 307.5px,#6bbd58 308.5px,#6fc3a1 310.5px,#69c7d4 313.5px,#38baea 320.5px,#3a7cc1 330.5px,#3b5ba8 363.5px,#3b58a6 417px)"></i>
<i style="left:110px;top:323px;width:417px;height:4px;background:linear-gradient(90deg,#e6e51c 0,#96c93d 175.5px,#aed235 219.5px,#f6e414 260.5px,#faab18 272.5px,#ed2024 286.5px,#ed2324 304.5px,#f15023 306.5px,#f7df13 310.5px,#b7d531 312.5px,#7dc143 314.5px,#6abb46 315.5px,#6cbe64 317.5px,#6fc3a0 319.5px,#67c7d5 323.5px,#36b7e9 332.5px,#3a7cc1 344.5px,#3b5ba8 385.5px,#3b59a7 417px)"></i>
<i style="left:110px;top:327px;width:417px;height:4px;background:linear-gradient(90deg,#fcbe13 0,#efe817 84.5px,#c5db2c 195.5px,#efe817 243.5px,#face13 261.5px,#f8941d 273.5px,#ed1f24 286.5px,#ee2424 312.5px,#f15b22 315.5px,#f7de13 320.5px,#e7e61b 321.5px,#85c341 325.5px,#69bb46 327.5px,#6bbd58 329.5px,#6fc4a9 333.5px,#67c7d6 338.5px,#36b8e9 350.5px,#3a7dc1 366.5px,#3b5ca9 417px)"></i>
<i style="left:110px;top:331px;width:417px;height:5px;background:linear-gradient(90deg,#f57d20 0,#fbcb12 101.5px,#efe817 182.5px,#f7e014 236.5px,#fbb416 263.5px,#f47420 275.5px,#ed2024 286.5px,#ed1f24 320.5px,#f04823 324.5px,#f7df13 332.5px,#dae122 334.5px,#83c342 339.5px,#6abc4f 343.5px,#6dbf72 346.5px,#6fc4aa 350.5px,#66c7d6 357.5px,#36b5e8 374.5px,#3a7bc0 397.5px,#3b6cb5 417px)"></i>
<i style="left:110px;top:336px;width:417px;height:4px;background:linear-gradient(90deg,#f04923 0,#f8971d 77.5px,#f7dc13 205.5px,#fcbe13 252.5px,#f6891e 269.5px,#ed1f24 286.5px,#ed2224 328.5px,#f26022 334.5px,#f6e514 343.5px,#7fc242 352.5px,#6abc4c 356.5px,#6cbe6b 360.5px,#6fc4ac 366.5px,#65c6d7 375.5px,#36b7e8 396.5px,#3987c9 417px)"></i>
<i style="left:110px;top:340px;width:417px;height:4px;background:linear-gradient(90deg,#ee3123 0,#f6831f 74.5px,#f9d413 208.5px,#fbb715 252.5px,#f57e1f 270.5px,#ed1e24 287.5px,#ed2224 333.5px,#f26222 340.5px,#f6e414 350.5px,#82c242 360.5px,#6abc4c 365.5px,#6cbe65 369.5px,#6fc3a4 375.5px,#66c7d6 386.5px,#36b8e9 410.5px,#37a8df 417px)"></i>
<i style="left:110px;top:344px;width:417px;height:4px;background:linear-gradient(90deg,#ef3323 0,#f6841f 74.5px,#f9d413 207.5px,#fbb815 251.5px,#f5811f 269.5px,#ed1f24 286.5px,#ee2424 333.5px,#f26722 340.5px,#f5e914 350.5px,#86c441 359.5px,#69bb4a 364.5px,#6cbe6a 369.5px,#6fc3a7 375.5px,#68c7d5 385.5px,#36b9ea 409.5px,#37a7de 417px)"></i>
<i style="left:110px;top:348px;width:417px;height:4px;background:linear-gradient(90deg,#f15a22 0,#faab18 90.5px,#f6e314 209.5px,#fbbd13 255.5px,#f6861f 271.5px,#ed2024 287.5px,#ed2124 329.5px,#f15c22 335.5px,#f6e214 344.5px,#d0de27 347.5px,#81c242 353.5px,#69bb4b 357.5px,#6cbe68 361.5px,#6fc4ab 367.5px,#65c7d7 376.5px,#36b7e9 397.5px,#3989ca 417px)"></i>
<i style="left:110px;top:352px;width:417px;height:4px;background:linear-gradient(90deg,#f9a519 0,#f5e814 108.5px,#d6e024 202.5px,#f6e314 245.5px,#fbb216 267.5px,#f26622 279.5px,#ed2024 288.5px,#ed1f24 322.5px,#f04a23 326.5px,#f7e114 334.5px,#d8e123 336.5px,#82c342 341.5px,#69bb49 344.5px,#6bbe61 347.5px,#6fc3a1 351.5px,#69c7d4 358.5px,#36b9ea 375.5px,#3a7cc1 398.5px,#3a6db6 417px)"></i>
<i style="left:110px;top:356px;width:417px;height:5px;background:linear-gradient(90deg,#ede818 0,#9ccb3b 174.5px,#b3d433 219.5px,#f6e314 260.5px,#faa918 273.5px,#ed2324 287.5px,#ed1e24 313.5px,#f04823 316.5px,#f6e314 322.5px,#82c242 327.5px,#69bb48 329.5px,#6bbd5a 331.5px,#6fc29e 334.5px,#6bc7d2 339.5px,#3bbbe9 350.5px,#3a7bc0 369.5px,#3b5da9 417px)"></i>
<i style="left:110px;top:361px;width:417px;height:4px;background:linear-gradient(90deg,#a3ce39 0,#7cc143 120.5px,#7ac043 202.5px,#a5ce38 238.5px,#ece718 264.5px,#f8db13 269.5px,#f8951d 278.5px,#ee2824 287.5px,#ed1c24 295.5px,#ed2024 306.5px,#f04923 308.5px,#f8d713 312.5px,#e5e51c 313.5px,#82c342 316.5px,#6abc4f 318.5px,#6bbd5b 319.5px,#6fc29c 321.5px,#69c7d4 325.5px,#36b9ea 334.5px,#3a7cc1 346.5px,#3b5ba8 387.5px,#3b59a7 417px)"></i>
<i style="left:110px;top:365px;width:417px;height:4px;background:linear-gradient(90deg,#73be44 0,#6abc54 181.5px,#72be45 224.5px,#a1cd39 251.5px,#ece719 268.5px,#f8d813 272.5px,#f5821f 280.5px,#ee2624 287.5px,#ed1c24 299.5px,#ee2724 300.5px,#f36c21 302.5px,#fbc712 304.5px,#eee818 305.5px,#95c93e 307.5px,#69bb4b 309.5px,#6bbd5a 310.5px,#6fc3a3 312.5px,#68c7d4 315.5px,#37b9ea 322.5px,#3a7cc1 332.5px,#3b5ba8 365.5px,#3b58a6 417px)"></i>
<i style="left:110px;top:369px;width:417px;height:4px;background:linear-gradient(90deg,#6bbd58 0,#6ec084 179.5px,#71bd45 239.5px,#9fcc3a 258.5px,#f6e414 272.5px,#f6871f 280.5px,#ee2624 287.5px,#ed1d24 295.5px,#ee2f23 296.5px,#f5821f 298.5px,#f6e214 300.5px,#7cc143 303.5px,#69bb4a 304.5px,#6bbd5b 305.5px,#6fc4a7 307.5px,#6ec8d0 309.5px,#3ebce8 315.5px,#3a7ac0 326.5px,#3b5ba8 357.5px,#3b58a6 417px)"></i>
<i style="left:110px;top:373px;width:417px;height:4px;background:linear-gradient(90deg,#6fc29c 0,#6fc4ab 185.5px,#6ec187 213.5px,#6abc54 234.5px,#75be44 250.5px,#a0cd3a 262.5px,#f4ea14 272.5px,#f7921d 279.5px,#ee2924 286.5px,#ed1c24 291.5px,#ed2124 292.5px,#ef3823 293.5px,#fcc312 296.5px,#efe817 297.5px,#90c73f 299.5px,#75be44 300.5px,#6cbe67 302.5px,#6fc193 303.5px,#6cc8d1 306.5px,#3cbbe9 312.5px,#3a7abf 323.5px,#3b5ba8 355.5px,#3b58a6 417px)"></i>
<i style="left:110px;top:377px;width:417px;height:4px;background:linear-gradient(90deg,#6fc7c3 0,#6fc7c9 185.5px,#6fc297 223.5px,#6abc53 244.5px,#73be44 255.5px,#a1cd39 265.5px,#f5ea14 273.5px,#f37121 281.5px,#ee2624 286.5px,#ed1e24 290.5px,#ee3223 291.5px,#f6e214 295.5px,#7dc143 298.5px,#69bb49 299.5px,#6bbd59 300.5px,#6fc3a4 302.5px,#67c7d6 305.5px,#36b6e8 312.5px,#3a7cc1 321.5px,#3b5ba8 352.5px,#3b58a6 417px)"></i>
<i style="left:110px;top:381px;width:417px;height:5px;background:linear-gradient(90deg,#62c6d9 0,#67c7d5 195.5px,#6fc5b5 222.5px,#6dc081 240.5px,#6abc54 251.5px,#72be45 260.5px,#a0cd3a 268.5px,#f5e814 275.5px,#f25f22 283.5px,#ee2424 287.5px,#ed2024 290.5px,#ef3623 291.5px,#fcbe13 294.5px,#f5ea14 295.5px,#96c93d 297.5px,#6abc4c 299.5px,#6bbd60 300.5px,#6fc4a9 302.5px,#64c6d7 305.5px,#38baea 311.5px,#3a7bc0 321.5px,#3b5ba8 353.5px,#3b58a6 417px)"></i>
<i style="left:110px;top:386px;width:417px;height:4px;background:linear-gradient(90deg,#51c3e5 0,#58c5e1 194.5px,#6fc6c1 228.5px,#6ec18b 246.5px,#6bbd55 256.5px,#75bf44 264.5px,#a2ce39 270.5px,#f6e414 276.5px,#ee2824 286.5px,#ed2124 289.5px,#ef3b23 290.5px,#fbcb12 293.5px,#e4e51d 294.5px,#87c441 296.5px,#6dbc45 297.5px,#6abc55 298.5px,#6fc3a0 300.5px,#67c7d5 303.5px,#38baea 309.5px,#3a7dc1 318.5px,#3b5ba8 347.5px,#3b58a6 417px)"></i>
<i style="left:110px;top:390px;width:417px;height:4px;background:linear-gradient(90deg,#40bde8 0,#49c0e6 193.5px,#6fc7c9 235.5px,#6ec18b 253.5px,#6abc52 262.5px,#73be44 267.5px,#9fcc3a 272.5px,#f5e814 277.5px,#f26422 283.5px,#ee2924 286.5px,#ed1c24 288.5px,#ee2824 289.5px,#f5801f 291.5px,#f5ea14 293.5px,#8cc540 295.5px,#6ebd45 296.5px,#6abc55 297.5px,#6fc3a5 299.5px,#6dc8d0 301.5px,#39bae9 307.5px,#3a7bc0 316.5px,#3b5ba8 344.5px,#3b58a6 417px)"></i>
<i style="left:110px;top:394px;width:417px;height:4px;background:linear-gradient(90deg,#36b4e6 0,#3fbce8 198.5px,#6cc8d1 240.5px,#6ec191 258.5px,#6bbd56 265.5px,#73be44 270.5px,#9fcc3a 274.5px,#f1e916 278.5px,#f78b1e 282.5px,#ee2a24 286.5px,#ed1c24 288.5px,#ee3123 289.5px,#f8da13 292.5px,#cadc2b 293.5px,#8fc640 294.5px,#6ebc45 295.5px,#6bbd57 296.5px,#6fc4ae 298.5px,#67c7d5 300.5px,#38baea 305.5px,#3a7ec2 312.5px,#3b5ca9 335.5px,#3b58a6 417px)"></i>
<i style="left:110px;top:398px;width:417px;height:4px;background:linear-gradient(90deg,#38a0d9 0,#37abe1 188.5px,#47bfe7 221.5px,#6fc7c9 251.5px,#6ec18c 263.5px,#6bbd56 268.5px,#73be44 272.5px,#98ca3c 275.5px,#f6e614 279.5px,#ef3623 285.5px,#ed1c24 287.5px,#ee2824 288.5px,#f15922 289.5px,#f7e013 291.5px,#82c242 293.5px,#6abc4d 294.5px,#6fc3a7 296.5px,#66c7d6 298.5px,#3bbbe9 302.5px,#3a7cc1 309.5px,#3b5ba8 330.5px,#3b57a6 417px)"></i>
<i style="left:110px;top:402px;width:417px;height:4px;background:linear-gradient(90deg,#3991cf 0,#389cd7 190.5px,#40bde8 225.5px,#6ec8d0 255.5px,#6fc295 266.5px,#6abc54 271.5px,#73be44 274.5px,#a5cf38 277.5px,#f6e214 280.5px,#ef3923 285.5px,#ed1c24 287.5px,#ef3323 288.5px,#fcc312 290.5px,#d1df27 291.5px,#8ac541 292.5px,#6abc4c 293.5px,#6fc4ad 295.5px,#6fc8cd 296.5px,#47bfe7 299.5px,#37a5dd 302.5px,#3a7abf 307.5px,#3b5ba8 327.5px,#3b57a6 417px)"></i>
<i style="left:110px;top:406px;width:417px;height:5px;background:linear-gradient(90deg,#3a86c8 0,#3991cf 193.5px,#3fbce8 233.5px,#6ec8d0 260.5px,#6fc193 269.5px,#6abc54 273.5px,#6dbc45 275.5px,#a6cf37 278.5px,#e9e61a 280.5px,#f9d313 281.5px,#ef3823 285.5px,#ed2224 286.5px,#ed1d24 287.5px,#f04623 288.5px,#f3e915 290.5px,#9dcc3b 291.5px,#69bb46 292.5px,#6fc4ae 294.5px,#6ec8d0 295.5px,#37b9ea 299.5px,#3a7dc2 304.5px,#3b5ca9 320.5px,#3b57a6 417px)"></i>
<i style="left:110px;top:411px;width:417px;height:4px;background:linear-gradient(90deg,#3a7ec2 0,#3988c9 195.5px,#3ebce8 240.5px,#6ac7d3 263.5px,#6fc3a1 271.5px,#6abc4f 276.5px,#7bc043 278.5px,#add235 280.5px,#f6e514 282.5px,#ef3b23 286.5px,#ed2224 287.5px,#ed1e24 288.5px,#f15422 289.5px,#fab017 290.5px,#d4df25 291.5px,#82c242 292.5px,#6bbd55 293.5px,#6fc29e 294.5px,#6fc7c7 295.5px,#52c3e4 297.5px,#37b9ea 299.5px,#3a81c5 303.5px,#3b5eab 316.5px,#3b57a6 417px)"></i>
<i style="left:110px;top:415px;width:417px;height:4px;background:linear-gradient(90deg,#3b63ae 0,#3a6fb7 216.5px,#3991cf 249.5px,#3fbce8 266.5px,#6cc8d1 276.5px,#6fc3a7 279.5px,#6abc52 282.5px,#6cbc46 283.5px,#faac18 284.5px,#f04c23 286.5px,#ee2924 287.5px,#ed1c24 288.5px,#f04123 289.5px,#f99f1b 290.5px,#e0e31f 291.5px,#86c441 292.5px,#6abc55 293.5px,#6fc3a0 294.5px,#6fc8cb 295.5px,#3fbce8 298.5px,#3a7dc2 303.5px,#3b5ca9 317.5px,#3b59a7 333.5px,#6fc4ac 334.5px,#6fc5b0 374.5px,#3b57a6 375.5px,#3b57a6 417px)"></i>
<i style="left:110px;top:419px;width:417px;height:4px;background:linear-gradient(90deg,#3a73ba 0,#3a7fc3 212.5px,#36b5e7 248.5px,#60c6db 268.5px,#6fc6c1 273.5px,#6fc29b 276.5px,#6bbe61 278.5px,#6dbc45 280.5px,#a3ce39 282.5px,#cede28 283.5px,#fcc212 284.5px,#ee3123 287.5px,#ed1d24 288.5px,#ef3523 289.5px,#f7911e 290.5px,#ebe719 291.5px,#8ac541 292.5px,#6abc54 293.5px,#6fc39f 294.5px,#6fc8cb 295.5px,#3ebce8 298.5px,#3a7cc1 303.5px,#3b5ca8 317.5px,#3b59a7 333.5px,#3a7abf 334.5px,#3a76bd 374.5px,#3b57a6 375.5px,#3b57a6 417px)"></i>
<i style="left:110px;top:423px;width:417px;height:4px;background:linear-gradient(90deg,#3a77bd 0,#3a82c5 211.5px,#36b7e8 248.5px,#63c6d8 269.5px,#6fc5b8 274.5px,#6ec085 277.5px,#6abc52 279.5px,#6abb46 280.5px,#9ecc3a 282.5px,#f6e314 284.5px,#f04823 287.5px,#ee2524 288.5px,#ed1e24 289.5px,#f15c22 290.5px,#fcc412 291.5px,#b7d531 292.5px,#6dbc45 293.5px,#6fc6ba 295.5px,#54c4e4 297.5px,#36b9ea 299.5px,#3a7ec2 303.5px,#3b5ca8 317.5px,#3b57a6 417px)"></i>
<i style="left:110px;top:427px;width:417px;height:4px;background:linear-gradient(90deg,#3a76bc 0,#3a81c5 214.5px,#36b4e7 250.5px,#5ec6dc 269.5px,#6fc6c2 274.5px,#6fc296 277.5px,#6bbd58 279.5px,#77bf44 281.5px,#91c73f 282.5px,#f1e916 284.5px,#fbbd13 285.5px,#f14f23 287.5px,#ee2824 288.5px,#ed1c24 289.5px,#f15322 290.5px,#fbbb14 291.5px,#bfd82f 292.5px,#71bd45 293.5px,#6dbf75 294.5px,#6fc5b7 295.5px,#66c7d6 296.5px,#36b9ea 299.5px,#3a7dc2 303.5px,#3b5ca9 316.5px,#3b57a6 417px)"></i>
<i style="left:110px;top:431px;width:417px;height:5px;background:linear-gradient(90deg,#3a76bd 0,#3a81c5 216.5px,#36b3e6 252.5px,#5dc5dd 270.5px,#6fc6c1 275.5px,#6ec18f 278.5px,#6abc54 280.5px,#69bb46 281.5px,#a4ce38 283.5px,#d6e024 284.5px,#f9d613 285.5px,#ef3723 288.5px,#ed1e24 289.5px,#ee3223 290.5px,#f78e1e 291.5px,#eae71a 292.5px,#88c441 293.5px,#6bbd56 294.5px,#6fc3a4 295.5px,#6ec8d0 296.5px,#3bbbe9 299.5px,#3a7abf 304.5px,#3b5ba8 319.5px,#3b57a6 417px)"></i>
<i style="left:110px;top:436px;width:417px;height:4px;background:linear-gradient(90deg,#3a77bd 0,#3a82c5 218.5px,#37b2e5 253.5px,#58c5e1 269.5px,#6fc7c2 275.5px,#6ec18e 278.5px,#6abc52 280.5px,#6dbc45 281.5px,#86c441 282.5px,#e3e41d 284.5px,#fbc912 285.5px,#f15722 287.5px,#ee2c24 288.5px,#ed1c24 289.5px,#f04a23 290.5px,#fab116 291.5px,#c7db2c 292.5px,#75bf44 293.5px,#6cbf6e 294.5px,#6fc5b4 295.5px,#67c7d5 296.5px,#37b9ea 299.5px,#3a7ec2 303.5px,#3b5ca9 316.5px,#3b57a6 417px)"></i>
<i style="left:110px;top:440px;width:417px;height:4px;background:linear-gradient(90deg,#3a77bd 0,#3a83c6 220.5px,#37afe3 254.5px,#53c4e4 269.5px,#6fc7c5 276.5px,#6ec191 279.5px,#6abc53 281.5px,#6dbc45 282.5px,#86c441 283.5px,#e4e51d 285.5px,#fbc712 286.5px,#f15522 288.5px,#ee2a24 289.5px,#ed1c24 290.5px,#f15023 291.5px,#fbb815 292.5px,#c0d92e 293.5px,#72be45 294.5px,#6dbf75 295.5px,#6fc5b7 296.5px,#66c7d6 297.5px,#36b9ea 300.5px,#3a7dc2 304.5px,#3b5ca9 317.5px,#3b57a6 417px)"></i>
<i style="left:110px;top:444px;width:417px;height:4px;background:linear-gradient(90deg,#3a77bd 0,#3a83c6 222.5px,#37aee3 255.5px,#4dc2e5 268.5px,#6ec8d0 275.5px,#6fc3a4 278.5px,#6cbe63 280.5px,#74be44 282.5px,#91c73f 283.5px,#f6e614 285.5px,#ef4023 288.5px,#ed2024 289.5px,#ee2824 290.5px,#f57b20 291.5px,#f6e314 292.5px,#95c93e 293.5px,#6abc50 294.5px,#6fc29b 295.5px,#6fc7ca 296.5px,#4cc1e6 298.5px,#37afe3 300.5px,#3a7bc0 304.5px,#3b5ba8 318.5px,#3b57a6 417px)"></i>
<i style="left:110px;top:448px;width:417px;height:4px;background:linear-gradient(90deg,#3a7fc3 0,#398aca 204.5px,#3ebce8 251.5px,#67c7d5 270.5px,#6fc5b3 275.5px,#6fc298 277.5px,#6bbd5f 279.5px,#6cbc45 281.5px,#a2ce39 283.5px,#d0de27 284.5px,#f7de13 285.5px,#f04223 288.5px,#ed2224 289.5px,#ed2324 290.5px,#f36f21 291.5px,#f8d713 292.5px,#a1cd39 293.5px,#6abc4c 294.5px,#6ec192 295.5px,#6fc7c5 296.5px,#4fc2e5 298.5px,#37b2e5 300.5px,#3a7bc0 304.5px,#3b5ba8 318.5px,#3b57a6 417px)"></i>
<i style="left:110px;top:452px;width:417px;height:4px;background:linear-gradient(90deg,#3a80c4 0,#398bcb 202.5px,#3ebce8 248.5px,#68c7d4 269.5px,#6fc4a9 275.5px,#6cbe6d 278.5px,#69bb4b 280.5px,#8bc540 282.5px,#e1e41f 284.5px,#facf13 285.5px,#ef3623 288.5px,#ed1e24 289.5px,#ee3023 290.5px,#f78b1e 291.5px,#ece718 292.5px,#89c541 293.5px,#6bbd55 294.5px,#6fc3a3 295.5px,#6fc8cf 296.5px,#3bbbe9 299.5px,#3a7abf 304.5px,#3b5ba8 319.5px,#3b57a6 417px)"></i>
<i style="left:110px;top:456px;width:417px;height:5px;background:linear-gradient(90deg,#3a82c5 0,#398ccc 200.5px,#3fbce8 246.5px,#69c7d4 268.5px,#6fc4ae 274.5px,#6dc07f 277.5px,#6abc54 279.5px,#78bf44 281.5px,#8dc640 282.5px,#e1e41e 284.5px,#fad013 285.5px,#ef3923 288.5px,#ed1f24 289.5px,#ee2b24 290.5px,#f5ea14 292.5px,#8ec640 293.5px,#6abc52 294.5px,#6fc39f 295.5px,#6fc8cc 296.5px,#3cbbe9 299.5px,#3a7abf 304.5px,#3b5ba8 318.5px,#3b57a6 417px)"></i>
<i style="left:110px;top:461px;width:417px;height:4px;background:linear-gradient(90deg,#3a83c6 0,#398ecd 198.5px,#3fbce8 243.5px,#6ac7d3 267.5px,#6fc3a5 274.5px,#6cbf6f 277.5px,#6abc4e 279.5px,#80c242 281.5px,#c2d92d 283.5px,#efe817 284.5px,#fcc412 285.5px,#ee3123 288.5px,#ed1d24 289.5px,#ef3823 290.5px,#f8981c 291.5px,#e0e31f 292.5px,#83c342 293.5px,#6bbd59 294.5px,#6fc4a9 295.5px,#6cc8d1 296.5px,#3abae9 299.5px,#3a7fc3 303.5px,#3b5da9 316.5px,#3b57a6 417px)"></i>
<i style="left:110px;top:465px;width:417px;height:4px;background:linear-gradient(90deg,#3a86c8 0,#3990ce 196.5px,#3fbce8 239.5px,#6bc7d2 265.5px,#6fc3a3 273.5px,#6abc50 278.5px,#6abb46 279.5px,#8ec640 281.5px,#dde221 283.5px,#f8d713 284.5px,#f04423 287.5px,#ee2424 288.5px,#ed1f24 289.5px,#f26122 290.5px,#fbc912 291.5px,#b0d334 292.5px,#69bb46 293.5px,#6fc6be 295.5px,#52c3e4 297.5px,#36b6e8 299.5px,#3a7dc1 303.5px,#3b5ba8 317.5px,#3b57a6 417px)"></i>
<i style="left:794px;top:52px;width:417px;height:4px;background:linear-gradient(90deg,#3a53a4 0,#3a59a8 211.5px,#30a2da 239.5px,#32bae6 247.5px,#52c2d5 251.5px,#6cc8c7 253.5px,#6ac199 261.5px,#64ba46 272.5px,#9bcc3a 286.5px,#dee41a 299.5px,#fdd20f 300.5px,#fdd20f 417px)"></i>
<i style="left:794px;top:56px;width:417px;height:4px;background:linear-gradient(90deg,#62b946 0,#63b946 112.5px,#3a53a4 113.5px,#3a53a4 331.5px,#f3ed09 332.5px,#f3ed09 417px)"></i>
<i style="left:794px;top:60px;width:417px;height:5px;background:linear-gradient(90deg,#62b946 0,#6fbd44 158.5px,#91c83d 228.5px,#92c93d 229.5px,#3a53a4 230.5px,#3a53a4 308.5px,#2ab8ea 309.5px,#2ab8ea 358.5px,#f3ed09 359.5px,#f3ed09 417px)"></i>
<i style="left:794px;top:65px;width:417px;height:4px;background:linear-gradient(90deg,#62b946 0,#6fbd44 158.5px,#91c83d 228.5px,#a5cf37 246.5px,#3a53a4 247.5px,#3a53a4 331.5px,#f3ed09 332.5px,#f3ed09 358.5px,#62b946 359.5px,#62b946 395.5px,#f3ed09 396.5px,#f3ed09 417px)"></i>
<i style="left:794px;top:69px;width:417px;height:4px;background:linear-gradient(90deg,#62b946 0,#6fbd44 158.5px,#91c83d 228.5px,#c4d92e 263.5px,#3a53a4 264.5px,#3a53a4 331.5px,#f3ed09 332.5px,#f3ed09 417px)"></i>
<i style="left:794px;top:73px;width:417px;height:4px;background:linear-gradient(90deg,#62b946 0,#6fbd44 158.5px,#91c83d 228.5px,#c9db2a 265.5px,#ffee02 276.5px,#fcc611 279.5px,#3a53a4 280.5px,#3a53a4 331.5px,#f3ed09 332.5px,#f3ed09 417px)"></i>
<i style="left:794px;top:77px;width:417px;height:4px;background:linear-gradient(90deg,#62b946 0,#6fbd44 158.5px,#91c83d 228.5px,#c8db2b 265.5px,#fff101 276.5px,#f8a318 281.5px,#ef3623 286.5px,#ee1c27 288.5px,#ed1a63 291.5px,#3a53a4 292.5px,#3a53a4 339.5px,#f3ed09 340.5px,#f3ed09 417px)"></i>
<i style="left:794px;top:81px;width:417px;height:4px;background:linear-gradient(90deg,#62b947 0,#6fbd44 158.5px,#91c83d 228.5px,#c8db2b 265.5px,#f5ee08 275.5px,#fee904 277.5px,#f7941b 282.5px,#ef3b23 286.5px,#ee1c25 288.5px,#ed1a53 291.5px,#3a53a4 292.5px,#3a53a4 347.5px,#f3ed09 348.5px,#f3ed09 417px)"></i>
<i style="left:794px;top:85px;width:417px;height:5px;background:linear-gradient(90deg,#63ba4d 0,#6ebd44 156.5px,#90c83d 227.5px,#c7da2b 265.5px,#ffed03 277.5px,#f79c1a 282.5px,#ef3224 287.5px,#ee1b34 290.5px,#ed1b45 291.5px,#3a53a4 292.5px,#3a53a4 355.5px,#f3ed09 356.5px,#f3ed09 417px)"></i>
<i style="left:794px;top:90px;width:417px;height:4px;background:linear-gradient(90deg,#65bb5c 0,#63b946 77.5px,#83c441 212.5px,#c3d92e 263.5px,#f1ec0b 275.5px,#fff001 277.5px,#f8a418 282.5px,#ef3823 287.5px,#ee1c25 289.5px,#e72288 297.5px,#c4419b 303.5px,#be439b 304.5px,#3a53a4 305.5px,#3a53a4 363.5px,#f3ed09 364.5px,#f3ed09 417px)"></i>
<i style="left:794px;top:94px;width:417px;height:4px;background:linear-gradient(90deg,#68be79 0,#62b946 53.5px,#7ac143 189.5px,#a8d036 247.5px,#d4e022 269.5px,#fff200 277.5px,#f9aa17 282.5px,#ef3d23 287.5px,#ee1b30 291.5px,#e72288 298.5px,#c6409a 304.5px,#8b479c 319.5px,#89479c 320.5px,#3a53a4 321.5px,#3a53a4 371.5px,#f3ed09 372.5px,#f3ed09 417px)"></i>
<i style="left:794px;top:98px;width:417px;height:4px;background:linear-gradient(90deg,#6ac2a2 0,#68be79 19.5px,#62b94a 46.5px,#79c143 183.5px,#a4cf37 241.5px,#d6e120 269.5px,#fff100 277.5px,#f9ad16 282.5px,#ef3324 288.5px,#ee1c28 291.5px,#e72389 299.5px,#c6409a 305.5px,#8b479c 320.5px,#74489c 336.5px,#3a53a4 337.5px,#3a53a4 379.5px,#f3ed09 380.5px,#f3ed09 417px)"></i>
<i style="left:794px;top:102px;width:417px;height:4px;background:linear-gradient(90deg,#6bc4af 0,#6ac196 14.5px,#64bb56 35.5px,#65ba46 63.5px,#7fc342 195.5px,#c7da2b 261.5px,#f6ee07 275.5px,#fee307 278.5px,#f7981a 283.5px,#ef3523 288.5px,#ee1c25 290.5px,#ee1c2d 293.5px,#e72288 300.5px,#c5409a 306.5px,#8c479c 320.5px,#67499d 352.5px,#3a53a4 353.5px,#3a53a4 387.5px,#f3ed09 388.5px,#f3ed09 417px)"></i>
<i style="left:794px;top:106px;width:417px;height:4px;background:linear-gradient(90deg,#6ac19a 0,#67bd71 19.5px,#64ba46 46.5px,#81c342 189.5px,#d2df23 262.5px,#ffeb03 276.5px,#fab315 281.5px,#ef3423 288.5px,#ee1c25 290.5px,#ee1c2a 295.5px,#e72288 302.5px,#ca3f9a 307.5px,#8f479c 320.5px,#65499d 356.5px,#5f4a9e 368.5px,#3a53a4 369.5px,#3a53a4 395.5px,#f3ed09 396.5px,#f3ed09 417px)"></i>
<i style="left:794px;top:110px;width:417px;height:5px;background:linear-gradient(90deg,#66bc6a 0,#68bb45 42.5px,#81c342 177.5px,#d5e021 256.5px,#ffee02 273.5px,#f9b016 280.5px,#ef3224 288.5px,#ee1c25 291.5px,#ee1c26 298.5px,#ea1e85 305.5px,#c6409a 311.5px,#8b479c 325.5px,#614a9e 364.5px,#584a9e 384.5px,#3a53a4 385.5px,#3a53a4 403.5px,#f3ed09 404.5px,#f3ed09 417px)"></i>
<i style="left:794px;top:115px;width:417px;height:4px;background:linear-gradient(90deg,#62b948 0,#85c541 165.5px,#d6e120 245.5px,#ffef02 268.5px,#fab814 277.5px,#ee2f24 288.5px,#ee1c25 291.5px,#ee1c26 303.5px,#e82087 311.5px,#c2429b 318.5px,#88479c 334.5px,#5f4a9e 376.5px,#554b9e 400.5px,#3a53a4 401.5px,#3a53a4 411.5px,#f3ed09 412.5px,#f3ed09 417px)"></i>
<i style="left:794px;top:119px;width:417px;height:4px;background:linear-gradient(90deg,#71be44 0,#84c441 146.5px,#d8e11f 231.5px,#ffec03 261.5px,#fab315 274.5px,#ee2d24 288.5px,#ee1c25 291.5px,#ee1c2b 310.5px,#e82087 319.5px,#c6409a 327.5px,#86479c 347.5px,#5a4a9e 399.5px,#534b9e 417px)"></i>
<i style="left:794px;top:123px;width:417px;height:4px;background:linear-gradient(90deg,#7bc143 0,#87c540 133.5px,#d9e21d 217.5px,#ffec03 250.5px,#fab515 269.5px,#f15222 282.5px,#ee2b24 288.5px,#ee1c25 292.5px,#ee1c2d 317.5px,#e72389 329.5px,#c4419b 339.5px,#83479c 364.5px,#5d4a9e 409.5px,#91c83d 410.5px,#91c83d 417px)"></i>
<i style="left:794px;top:127px;width:417px;height:4px;background:linear-gradient(90deg,#81c342 0,#8cc73e 126.5px,#dae21d 205.5px,#ffec03 240.5px,#fab016 265.5px,#f15522 280.5px,#ee1c25 290.5px,#ee1c29 322.5px,#e82187 337.5px,#c6409a 349.5px,#82479c 379.5px,#66499d 410.5px,#71be44 411.5px,#71be44 417px)"></i>
<i style="left:794px;top:131px;width:417px;height:4px;background:linear-gradient(90deg,#87c540 0,#92c93d 126.5px,#dce31c 200.5px,#ffec03 234.5px,#f9a817 264.5px,#ee2b24 287.5px,#ee1c25 291.5px,#ee1c2d 326.5px,#e82188 342.5px,#c3419b 356.5px,#7e479c 391.5px,#68499d 417px)"></i>
<i style="left:794px;top:135px;width:417px;height:5px;background:linear-gradient(90deg,#87c540 0,#92c93d 126.5px,#dce31c 200.5px,#ffec03 234.5px,#f9a717 264.5px,#ee2c24 286.5px,#ee1c25 289.5px,#ee1c2a 325.5px,#e72288 342.5px,#c5419b 355.5px,#80479c 389.5px,#71489d 404.5px,#b3d433 405.5px,#b3d433 417px)"></i>
<i style="left:794px;top:140px;width:417px;height:4px;background:linear-gradient(90deg,#81c342 0,#8cc73e 126.5px,#dae21d 205.5px,#ffeb03 240.5px,#f9ad16 265.5px,#ee2c24 286.5px,#ee1c25 290.5px,#ee1c2a 321.5px,#e82187 336.5px,#c6409a 348.5px,#81479c 379.5px,#6a499d 403.5px,#71be44 404.5px,#71be44 417px)"></i>
<i style="left:794px;top:144px;width:417px;height:4px;background:linear-gradient(90deg,#7cc243 0,#86c540 132.5px,#d9e21e 216.5px,#ffec03 249.5px,#fab814 267.5px,#f25f21 279.5px,#ee2c24 286.5px,#ee1c25 290.5px,#ee1c2b 315.5px,#e82188 327.5px,#c5409a 337.5px,#84479c 362.5px,#5d4a9e 408.5px,#80c342 409.5px,#80c342 417px)"></i>
<i style="left:794px;top:148px;width:417px;height:4px;background:linear-gradient(90deg,#76c043 0,#81c342 143.5px,#d7e11f 230.5px,#ffed02 259.5px,#fbbb13 271.5px,#f14d22 282.5px,#ee1c25 289.5px,#ee1c2c 308.5px,#e82087 317.5px,#c5409a 325.5px,#86479c 345.5px,#5a4a9e 397.5px,#594a9e 401.5px,#b3d433 402.5px,#b3d433 417px)"></i>
<i style="left:794px;top:152px;width:417px;height:4px;background:linear-gradient(90deg,#71be44 0,#7dc242 150.5px,#d5e021 243.5px,#ffeb03 267.5px,#fab614 275.5px,#ee2d24 286.5px,#ee1c25 289.5px,#ee1c28 301.5px,#e72389 309.5px,#c6409a 315.5px,#8c479c 330.5px,#624a9e 369.5px,#504b9f 412.5px,#2eaae0 413.5px,#2eaae0 417px)"></i>
<i style="left:794px;top:156px;width:417px;height:4px;background:linear-gradient(90deg,#6cbc45 0,#78c043 152.5px,#a1ce38 212.5px,#d9e21e 257.5px,#ffee02 271.5px,#f9ac16 278.5px,#ee2f24 286.5px,#ee1c25 289.5px,#ee1c29 296.5px,#e82187 303.5px,#c4419b 309.5px,#8a479c 323.5px,#604a9e 365.5px,#514b9f 406.5px,#78c043 407.5px,#78c043 417px)"></i>
<i style="left:794px;top:160px;width:417px;height:5px;background:linear-gradient(90deg,#68bb45 0,#74bf44 154.5px,#96ca3b 213.5px,#d5e021 262.5px,#ffeb03 274.5px,#fab215 279.5px,#ef3324 286.5px,#ee1c25 289.5px,#ee1c2c 293.5px,#e62389 300.5px,#c93f9a 305.5px,#8e479c 318.5px,#65499d 354.5px,#4d4c9f 417px)"></i>
<i style="left:794px;top:165px;width:417px;height:4px;background:linear-gradient(90deg,#66ba46 0,#72be44 155.5px,#93c93c 219.5px,#d3df22 265.5px,#fff001 275.5px,#fab115 280.5px,#ef3823 286.5px,#ee1c25 288.5px,#ee1c2a 291.5px,#e91f86 298.5px,#c7409a 304.5px,#8d479c 318.5px,#63499d 359.5px,#524b9f 402.5px,#f36b21 403.5px,#f36b21 417px)"></i>
<i style="left:794px;top:169px;width:417px;height:4px;background:linear-gradient(90deg,#64ba46 0,#70be44 157.5px,#92c93d 223.5px,#cddd27 265.5px,#fff001 276.5px,#f9ab17 281.5px,#ef3124 287.5px,#ee1c29 290.5px,#e62489 298.5px,#c5419b 304.5px,#8b479c 319.5px,#604a9e 366.5px,#4e4c9f 417px)"></i>
<i style="left:794px;top:173px;width:417px;height:4px;background:linear-gradient(90deg,#63b946 0,#6fbd44 157.5px,#91c93d 226.5px,#ccdc28 266.5px,#ffed02 277.5px,#f8a019 282.5px,#ef3623 287.5px,#ee1c25 289.5px,#ec1a6e 295.5px,#dd3396 300.5px,#a1489b 311.5px,#75489c 334.5px,#4e4c9f 417px)"></i>
<i style="left:794px;top:177px;width:417px;height:4px;background:linear-gradient(90deg,#63b946 0,#6fbd44 157.5px,#91c83d 227.5px,#c9db2a 266.5px,#f7ee07 276.5px,#fee805 278.5px,#f7931b 283.5px,#ef3c23 287.5px,#ee1c2a 290.5px,#e82087 297.5px,#c6409a 303.5px,#8c479c 317.5px,#62499d 359.5px,#4f4b9f 409.5px,#80c342 410.5px,#80c342 417px)"></i>
<i style="left:794px;top:181px;width:417px;height:4px;background:linear-gradient(90deg,#62b946 0,#6fbd44 158.5px,#91c83d 228.5px,#cbdc29 267.5px,#ffec03 278.5px,#f79b1a 283.5px,#ef3224 288.5px,#ee1b35 291.5px,#e6248a 297.5px,#bf439b 303.5px,#86479c 317.5px,#5d4a9e 367.5px,#504b9f 403.5px,#91c83d 404.5px,#91c83d 417px)"></i>
<i style="left:794px;top:185px;width:417px;height:5px;background:linear-gradient(90deg,#62b946 0,#6fbd44 158.5px,#91c83d 228.5px,#cadc29 267.5px,#ffee02 278.5px,#f8a019 283.5px,#ef3523 288.5px,#ee1b34 291.5px,#e72188 296.5px,#c3419b 301.5px,#88479c 313.5px,#64499d 348.5px,#4d4c9f 411.5px,#91c83d 412.5px,#91c83d 417px)"></i>
<i style="left:794px;top:190px;width:417px;height:4px;background:linear-gradient(90deg,#62b946 0,#6fbd44 158.5px,#90c83d 228.5px,#cadb2a 267.5px,#fff001 278.5px,#f8a318 283.5px,#ef3723 288.5px,#ee1c27 290.5px,#e91f86 295.5px,#c83f9a 299.5px,#8f479c 308.5px,#6d489d 328.5px,#4f4c9f 402.5px,#91c83d 403.5px,#91c83d 417px)"></i>
<i style="left:794px;top:194px;width:417px;height:4px;background:linear-gradient(90deg,#62b946 0,#6fbd44 158.5px,#90c83d 228.5px,#cadb2a 267.5px,#fff001 278.5px,#f8a418 283.5px,#ef3723 288.5px,#ee1c27 290.5px,#eb1b83 294.5px,#c5409a 298.5px,#8c479c 306.5px,#6b499d 325.5px,#4b4c9f 411.5px,#91c83d 412.5px,#91c83d 417px)"></i>
<i style="left:794px;top:198px;width:417px;height:4px;background:linear-gradient(90deg,#62b946 0,#6fbd44 158.5px,#90c83d 228.5px,#cadb29 267.5px,#ffef01 278.5px,#f8a119 283.5px,#ef3623 288.5px,#ee1c29 290.5px,#ec1a7a 293.5px,#d13c9a 296.5px,#91479c 303.5px,#6e489d 317.5px,#4c4c9f 408.5px,#f36b21 409.5px,#f36b21 417px)"></i>
<i style="left:794px;top:202px;width:417px;height:4px;background:linear-gradient(90deg,#62b946 0,#6fbd44 158.5px,#90c83d 228.5px,#cadc29 267.5px,#ffed02 278.5px,#f79d19 283.5px,#ef3324 288.5px,#ee1c2e 290.5px,#e91f86 293.5px,#c4419b 296.5px,#8e479c 302.5px,#6c489d 316.5px,#4c4c9f 404.5px,#f36b21 405.5px,#f36b21 417px)"></i>
<i style="left:794px;top:206px;width:417px;height:4px;background:linear-gradient(90deg,#62b946 0,#6fbd44 158.5px,#90c83d 228.5px,#c8db2b 266.5px,#f5ee08 276.5px,#feea04 278.5px,#f7961b 283.5px,#ee3024 288.5px,#ee2a24 289.5px,#ed1a5c 291.5px,#e3298e 293.5px,#b9459b 296.5px,#83479c 303.5px,#65499d 324.5px,#4a4c9f 417px)"></i>
<i style="left:794px;top:210px;width:417px;height:5px;background:linear-gradient(90deg,#62b946 0,#6fbd44 158.5px,#91c83d 228.5px,#c9db2a 266.5px,#fff101 277.5px,#f8a418 282.5px,#ef3823 287.5px,#ee1c28 289.5px,#e82087 292.5px,#be439b 295.5px,#88479c 301.5px,#68499d 317.5px,#4a4c9f 417px)"></i>
<i style="left:794px;top:215px;width:417px;height:4px;background:linear-gradient(90deg,#64bb5b 0,#63ba50 142.5px,#80c342 244.5px,#b0d234 268.5px,#dde41b 276.5px,#fdf102 279.5px,#f9a817 283.5px,#f26221 286.5px,#78c043 287.5px,#78c043 345.5px,#f68c1d 346.5px,#f68c1d 358.5px,#584b9e 359.5px,#4c4c9f 404.5px,#80c342 405.5px,#80c342 417px)"></i>
<i style="left:794px;top:219px;width:417px;height:4px;background:linear-gradient(90deg,#62b946 0,#6fbd44 158.5px,#91c83d 228.5px,#c8db2b 265.5px,#f5ee08 275.5px,#fee904 277.5px,#f7941b 282.5px,#ef3b23 286.5px,#ee1c25 288.5px,#ea1e85 291.5px,#be439b 294.5px,#87479c 300.5px,#68499d 316.5px,#4a4c9f 417px)"></i>
<i style="left:794px;top:223px;width:417px;height:4px;background:linear-gradient(90deg,#62b946 0,#6fbd44 158.5px,#91c83d 228.5px,#c8db2b 265.5px,#fff101 276.5px,#f8a318 281.5px,#ef3623 286.5px,#ee1c2a 288.5px,#e5258a 291.5px,#c93f9a 293.5px,#90479c 298.5px,#6e489d 309.5px,#4b4c9f 406.5px,#91c83d 407.5px,#91c83d 417px)"></i>
<i style="left:794px;top:227px;width:417px;height:4px;background:linear-gradient(90deg,#62b946 0,#6fbd44 158.5px,#91c83d 228.5px,#c9db2a 265.5px,#ffee02 276.5px,#f89e19 281.5px,#ef3324 286.5px,#ee1b31 288.5px,#ec1a7a 290.5px,#d73a9a 292.5px,#96489b 297.5px,#70489d 307.5px,#4a4c9f 417px)"></i>
<i style="left:794px;top:231px;width:417px;height:4px;background:linear-gradient(90deg,#62b946 0,#6fbd44 158.5px,#91c83d 228.5px,#c9db2a 265.5px,#ffed03 276.5px,#f79a1a 281.5px,#ef3124 286.5px,#ee2a24 287.5px,#ee1b36 288.5px,#ec1a7f 290.5px,#d43b9a 292.5px,#94479c 297.5px,#70489d 307.5px,#4a4c9f 411.5px,#91c83d 412.5px,#91c83d 417px)"></i>
<i style="left:794px;top:235px;width:417px;height:5px;background:linear-gradient(90deg,#62b946 0,#6fbd44 158.5px,#91c83d 228.5px,#c9db2a 265.5px,#ffec03 276.5px,#f79a1a 281.5px,#ef3124 286.5px,#ee2a24 287.5px,#ee1b37 288.5px,#ec1a81 290.5px,#d33b9a 292.5px,#94479c 297.5px,#70489d 307.5px,#4d4c9f 401.5px,#91c83d 402.5px,#91c83d 417px)"></i>
<i style="left:794px;top:240px;width:417px;height:4px;background:linear-gradient(90deg,#62b946 0,#6fbd44 158.5px,#91c83d 228.5px,#c9db2a 265.5px,#ffed02 276.5px,#f79c1a 281.5px,#ef3224 286.5px,#ee1b34 288.5px,#ec1a7e 290.5px,#d53b9a 292.5px,#95479c 297.5px,#70489d 307.5px,#4b4c9f 409.5px,#fff200 410.5px,#fff200 417px)"></i>
<i style="left:794px;top:244px;width:417px;height:4px;background:linear-gradient(90deg,#62b946 0,#6fbd44 158.5px,#91c83d 228.5px,#c9db2a 265.5px,#ffef01 276.5px,#f8a019 281.5px,#ef3423 286.5px,#ee1c2e 288.5px,#ec1a77 290.5px,#d9399a 292.5px,#96489b 297.5px,#70489d 307.5px,#4a4c9f 417px)"></i>
<i style="left:794px;top:248px;width:417px;height:4px;background:linear-gradient(90deg,#62b946 0,#6fbd44 158.5px,#91c83d 228.5px,#c8db2b 265.5px,#f6ee07 275.5px,#fee705 277.5px,#f6901c 282.5px,#ef3823 286.5px,#ee1c27 288.5px,#e72288 291.5px,#cb3e9a 293.5px,#91479c 298.5px,#6e489d 309.5px,#4a4c9f 417px)"></i>
<i style="left:794px;top:252px;width:417px;height:4px;background:linear-gradient(90deg,#62b946 0,#6fbd44 158.5px,#91c83d 228.5px,#c7da2b 265.5px,#ffeb03 277.5px,#f9ad16 281.5px,#ee3024 287.5px,#ee2a24 288.5px,#ee1b39 289.5px,#ec1a82 291.5px,#c0429b 294.5px,#87479c 300.5px,#68499d 316.5px,#4b4c9f 407.5px,#78c043 408.5px,#78c043 417px)"></i>
<i style="left:794px;top:256px;width:417px;height:4px;background:linear-gradient(90deg,#62b946 0,#6fbd44 158.5px,#91c83d 228.5px,#c9db2a 266.5px,#ffef01 277.5px,#f8a019 282.5px,#ef3523 287.5px,#ee1c2d 289.5px,#ec1a75 291.5px,#d93899 293.5px,#97489b 298.5px,#71489d 308.5px,#4b4c9f 406.5px,#f36b21 407.5px,#f36b21 417px)"></i>
<i style="left:794px;top:260px;width:417px;height:5px;background:linear-gradient(90deg,#62b946 0,#6fbd44 158.5px,#90c83d 228.5px,#c8db2a 266.5px,#f6ee07 276.5px,#fee805 278.5px,#f6921c 283.5px,#ef3a23 287.5px,#ee1c25 289.5px,#e91e85 292.5px,#be439b 295.5px,#87479c 301.5px,#68499d 317.5px,#4a4c9f 412.5px,#91c83d 413.5px,#91c83d 417px)"></i>
<i style="left:794px;top:265px;width:417px;height:4px;background:linear-gradient(90deg,#62b946 0,#6fbd44 158.5px,#90c83d 228.5px,#c8db2b 266.5px,#ffeb03 278.5px,#f79a1a 283.5px,#ef3124 288.5px,#ee2a24 289.5px,#ee1b35 290.5px,#ec1a7c 292.5px,#d83a9a 294.5px,#98489b 299.5px,#71489d 309.5px,#4a4c9f 417px)"></i>
<i style="left:794px;top:269px;width:417px;height:4px;background:linear-gradient(90deg,#62b946 0,#6ebd44 158.5px,#90c83d 228.5px,#cadc29 267.5px,#ffee02 278.5px,#f89f19 283.5px,#ef3423 288.5px,#ee1c2d 290.5px,#e72288 293.5px,#bf439b 296.5px,#89479c 302.5px,#69499d 318.5px,#4a4c9f 417px)"></i>
<i style="left:794px;top:273px;width:417px;height:4px;background:linear-gradient(90deg,#62b946 0,#6ebd44 158.5px,#90c83d 228.5px,#cadb2a 267.5px,#fff001 278.5px,#f8a318 283.5px,#ef3723 288.5px,#ee1c28 290.5px,#ec1a82 293.5px,#c83f9a 296.5px,#8f479c 302.5px,#6c489d 316.5px,#4a4c9f 417px)"></i>
<i style="left:794px;top:277px;width:417px;height:4px;background:linear-gradient(90deg,#62b946 0,#6fbd44 158.5px,#90c83d 228.5px,#cadb2a 267.5px,#fff001 278.5px,#f8a418 283.5px,#ef3723 288.5px,#ee1c27 290.5px,#e62389 294.5px,#c4419b 297.5px,#8c479c 304.5px,#6b499d 321.5px,#4e4c9f 401.5px,#91c83d 402.5px,#91c83d 417px)"></i>
<i style="left:794px;top:281px;width:417px;height:5px;background:linear-gradient(90deg,#62b946 0,#6fbd44 158.5px,#90c83d 228.5px,#cadb2a 267.5px,#ffef01 278.5px,#f8a218 283.5px,#ef3623 288.5px,#ee1c28 290.5px,#eb1c83 294.5px,#d03c9a 297.5px,#91479c 305.5px,#6d489d 322.5px,#4c4c9f 410.5px,#78c043 411.5px,#78c043 417px)"></i>
<i style="left:794px;top:286px;width:417px;height:4px;background:linear-gradient(90deg,#62b946 0,#6fbd44 158.5px,#90c83d 228.5px,#cadc29 267.5px,#ffed02 278.5px,#f89e19 283.5px,#ef3424 288.5px,#ee1c29 290.5px,#e72188 295.5px,#c6409a 299.5px,#8a479c 309.5px,#6a499d 333.5px,#4d4c9f 408.5px,#78c043 409.5px,#78c043 417px)"></i>
<i style="left:794px;top:290px;width:417px;height:4px;background:linear-gradient(90deg,#62b947 0,#6fbd44 158.5px,#91c83d 228.5px,#c8db2b 266.5px,#ffeb03 278.5px,#f7981a 283.5px,#ee3024 288.5px,#ee1c2b 290.5px,#eb1b83 295.5px,#c83f9a 300.5px,#8d479c 311.5px,#6a499d 338.5px,#4d4c9f 412.5px,#fff200 413.5px,#fff200 417px)"></i>
<i style="left:794px;top:294px;width:417px;height:4px;background:linear-gradient(90deg,#63ba4d 0,#6ebd44 156.5px,#91c93d 228.5px,#c9db2a 266.5px,#fff100 277.5px,#f8a618 282.5px,#ef3923 287.5px,#ee1c25 289.5px,#e82087 296.5px,#ca3f9a 301.5px,#8f479c 313.5px,#69499d 343.5px,#4f4b9f 408.5px,#b3d433 409.5px,#b3d433 417px)"></i>
<i style="left:794px;top:298px;width:417px;height:4px;background:linear-gradient(90deg,#65bb5c 0,#63b946 77.5px,#83c441 212.5px,#c3d92e 263.5px,#f3ed09 275.5px,#fee208 278.5px,#f5871e 283.5px,#ef3424 287.5px,#ee1c30 290.5px,#eb1c84 296.5px,#c93f9a 302.5px,#8d479c 316.5px,#64499d 355.5px,#514b9f 405.5px,#fff200 406.5px,#fff200 417px)"></i>
<i style="left:794px;top:302px;width:417px;height:4px;background:linear-gradient(90deg,#68be79 0,#62b946 53.5px,#7ac143 189.5px,#a8d036 246.5px,#d7e11f 269.5px,#fff200 276.5px,#f9aa17 281.5px,#ef3d23 286.5px,#ee1b30 290.5px,#e72288 297.5px,#c6409a 303.5px,#8b479c 318.5px,#604a9e 365.5px,#4f4c9f 413.5px,#71be44 414.5px,#71be44 417px)"></i>
<i style="left:794px;top:306px;width:417px;height:5px;background:linear-gradient(90deg,#6ac2a2 0,#68be79 19.5px,#62b94a 46.5px,#79c143 183.5px,#a4cf38 240.5px,#d4e022 267.5px,#ffec03 276.5px,#f8a019 281.5px,#ef3723 286.5px,#ee1c25 288.5px,#ee1b3a 291.5px,#e82087 297.5px,#c83f9a 303.5px,#8c479c 318.5px,#614a9e 363.5px,#524b9e 402.5px,#fff200 403.5px,#fff200 417px)"></i>
<i style="left:794px;top:311px;width:417px;height:4px;background:linear-gradient(90deg,#6bc4af 0,#6ac196 14.5px,#64bb56 35.5px,#65ba46 63.5px,#7fc342 195.5px,#c6da2c 259.5px,#f5ee08 273.5px,#fee307 276.5px,#f7951b 281.5px,#ef3324 286.5px,#ee1c25 289.5px,#ed1b3c 292.5px,#e72389 298.5px,#c4419b 304.5px,#89479c 319.5px,#5f4a9e 366.5px,#524b9e 401.5px,#78c043 402.5px,#78c043 417px)"></i>
<i style="left:794px;top:315px;width:417px;height:4px;background:linear-gradient(90deg,#6ac19a 0,#67bd71 19.5px,#64ba46 46.5px,#81c342 189.5px,#d1df24 260.5px,#fff101 273.5px,#f9ad16 279.5px,#ee3024 286.5px,#ee1c25 289.5px,#ee1c2f 293.5px,#ea1d85 299.5px,#c7409a 305.5px,#8b479c 319.5px,#614a9e 361.5px,#4f4b9f 410.5px,#80c342 411.5px,#80c342 417px)"></i>
<i style="left:794px;top:319px;width:417px;height:4px;background:linear-gradient(90deg,#66bc6a 0,#68bb45 42.5px,#82c442 177.5px,#d4e022 254.5px,#ffed02 271.5px,#f9ab17 278.5px,#ee2e24 286.5px,#ee1c25 289.5px,#ee1c2a 296.5px,#e72288 303.5px,#ca3f9a 308.5px,#8e479c 321.5px,#64499d 357.5px,#514b9f 405.5px,#b3d433 406.5px,#b3d433 417px)"></i>
<i style="left:794px;top:323px;width:417px;height:4px;background:linear-gradient(90deg,#62b948 0,#85c541 165.5px,#d6e120 244.5px,#ffeb03 267.5px,#fab714 275.5px,#ee2e24 286.5px,#ee1c25 289.5px,#ee1c28 301.5px,#e72288 309.5px,#c0429b 316.5px,#88479c 332.5px,#5e4a9e 376.5px,#4f4b9f 417px)"></i>
<i style="left:794px;top:327px;width:417px;height:4px;background:linear-gradient(90deg,#71be44 0,#84c441 146.5px,#d7e11f 230.5px,#ffed02 259.5px,#fab515 272.5px,#ee2d24 286.5px,#ee1c25 289.5px,#ee1c2a 308.5px,#e91f86 317.5px,#c6409a 325.5px,#87479c 345.5px,#5b4a9e 396.5px,#544b9e 412.5px,#71be44 413.5px,#71be44 417px)"></i>
<i style="left:794px;top:331px;width:417px;height:5px;background:linear-gradient(90deg,#7bc143 0,#87c540 133.5px,#d8e21e 216.5px,#ffec03 249.5px,#fab914 267.5px,#f26221 279.5px,#ee2d24 286.5px,#ee1c25 289.5px,#ee1c29 315.5px,#e91f86 327.5px,#c7409a 337.5px,#85479c 362.5px,#5f4a9e 405.5px,#71be44 406.5px,#71be44 417px)"></i>
<i style="left:794px;top:336px;width:417px;height:4px;background:linear-gradient(90deg,#81c342 0,#8cc73e 126.5px,#dae21d 205.5px,#ffeb03 240.5px,#f9af16 265.5px,#f15122 280.5px,#ee2a24 288.5px,#ee1c25 290.5px,#ee1c2c 322.5px,#e72389 337.5px,#c4419b 349.5px,#80479c 380.5px,#624a9e 417px)"></i>
<i style="left:794px;top:340px;width:417px;height:4px;background:linear-gradient(90deg,#87c540 0,#92c93d 126.5px,#dce31c 200.5px,#ffec03 234.5px,#f9a817 264.5px,#ee2b24 287.5px,#ee1c25 291.5px,#ee1c2c 326.5px,#e82187 342.5px,#c4419b 356.5px,#7f479c 390.5px,#6d489d 409.5px,#91c83d 410.5px,#91c83d 417px)"></i>
<i style="left:794px;top:344px;width:417px;height:4px;background:linear-gradient(90deg,#87c540 0,#92c93d 126.5px,#dce31c 200.5px,#ffec03 234.5px,#f9aa17 264.5px,#f04323 282.5px,#ee2a24 288.5px,#ee1c25 290.5px,#ee1c2b 326.5px,#e72389 343.5px,#c5419b 356.5px,#80479c 390.5px,#68499d 417px)"></i>
<i style="left:794px;top:348px;width:417px;height:4px;background:linear-gradient(90deg,#81c342 0,#8cc73e 126.5px,#dae21d 205.5px,#ffec03 240.5px,#f9ae16 266.5px,#f15122 281.5px,#ee2a24 289.5px,#ee1c25 291.5px,#ee1c2b 323.5px,#e72289 338.5px,#c4419b 350.5px,#80479c 381.5px,#62499d 417px)"></i>
<i style="left:794px;top:352px;width:417px;height:4px;background:linear-gradient(90deg,#7cc243 0,#86c540 132.5px,#d9e21d 217.5px,#ffec03 250.5px,#fab714 269.5px,#f25f21 281.5px,#ee2c24 288.5px,#ee1c25 291.5px,#ee1c2a 317.5px,#e82187 329.5px,#c5409a 339.5px,#84479c 364.5px,#614a9e 403.5px,#80c342 404.5px,#80c342 417px)"></i>
<i style="left:794px;top:356px;width:417px;height:5px;background:linear-gradient(90deg,#76c043 0,#81c342 143.5px,#d8e11f 231.5px,#ffec03 261.5px,#fab515 274.5px,#ee2e24 288.5px,#ee1c25 291.5px,#ee1c29 310.5px,#ea1e85 319.5px,#c7409a 327.5px,#87479c 347.5px,#5a4a9e 398.5px,#544b9e 413.5px,#91c83d 414.5px,#91c83d 417px)"></i>
<i style="left:794px;top:361px;width:417px;height:4px;background:linear-gradient(90deg,#71be44 0,#7dc242 150.5px,#d5e021 244.5px,#ffeb03 269.5px,#f9b016 278.5px,#ee3024 288.5px,#ee1c25 291.5px,#ee1c2d 304.5px,#e91f86 311.5px,#c93f9a 317.5px,#8d479c 332.5px,#63499d 368.5px,#524b9e 406.5px,#f36b21 407.5px,#f36b21 417px)"></i>
<i style="left:794px;top:365px;width:417px;height:4px;background:linear-gradient(90deg,#6cbc45 0,#78c043 152.5px,#a2ce38 213.5px,#dae21d 259.5px,#ffee02 273.5px,#f9b016 280.5px,#ef3224 288.5px,#ee1c25 291.5px,#ee1c26 298.5px,#e91e85 305.5px,#c6409a 311.5px,#8b479c 325.5px,#614a9e 364.5px,#4e4c9f 417px)"></i>
<i style="left:794px;top:369px;width:417px;height:4px;background:linear-gradient(90deg,#68bb45 0,#74bf44 154.5px,#96ca3c 213.5px,#d4e021 263.5px,#fff100 275.5px,#fab016 281.5px,#ef3224 288.5px,#ee1c25 291.5px,#ee1c2c 295.5px,#e6248a 302.5px,#c2429b 308.5px,#89479c 322.5px,#604a9e 365.5px,#4d4c9f 417px)"></i>
<i style="left:794px;top:373px;width:417px;height:4px;background:linear-gradient(90deg,#66ba46 0,#72be44 155.5px,#93c93c 219.5px,#d3df22 266.5px,#fff200 276.5px,#fab714 281.5px,#ee3124 288.5px,#ee1c25 291.5px,#ed1b3f 294.5px,#e6248a 300.5px,#c3419b 306.5px,#89479c 321.5px,#5f4a9e 368.5px,#4e4c9f 417px)"></i>
<i style="left:794px;top:377px;width:417px;height:4px;background:linear-gradient(90deg,#64ba46 0,#70be44 157.5px,#92c93d 223.5px,#cedd26 266.5px,#ffed02 277.5px,#f8a418 282.5px,#ef3a23 287.5px,#ee1c25 289.5px,#ee1b37 292.5px,#e91e85 298.5px,#c93f9a 304.5px,#8c479c 319.5px,#614a9e 363.5px,#4e4c9f 417px)"></i>
<i style="left:794px;top:381px;width:417px;height:5px;background:linear-gradient(90deg,#63b946 0,#6fbd44 157.5px,#92c93d 226.5px,#ccdc28 266.5px,#ffed03 277.5px,#f89f19 282.5px,#ef3523 287.5px,#ee1c25 289.5px,#e91e85 297.5px,#c93f9a 303.5px,#8e479c 317.5px,#65499d 356.5px,#4e4c9f 417px)"></i>
<i style="left:794px;top:386px;width:417px;height:4px;background:linear-gradient(90deg,#63b946 0,#6fbd44 157.5px,#91c83d 227.5px,#c8db2b 265.5px,#fdf102 276.5px,#fbc012 280.5px,#ee3024 287.5px,#ee1b33 290.5px,#e91f86 296.5px,#c7409a 302.5px,#8c479c 316.5px,#63499d 357.5px,#514b9f 402.5px,#78c043 403.5px,#78c043 417px)"></i>
<i style="left:794px;top:390px;width:417px;height:4px;background:linear-gradient(90deg,#62b946 0,#6fbd44 158.5px,#91c93d 228.5px,#c8db2b 265.5px,#f7ee06 275.5px,#fee705 277.5px,#f6901c 282.5px,#ef3923 286.5px,#ee1c25 288.5px,#e82087 295.5px,#c93f9a 300.5px,#8f479c 312.5px,#69499d 342.5px,#4d4c9f 413.5px,#91c83d 414.5px,#91c83d 417px)"></i>
<i style="left:794px;top:394px;width:417px;height:4px;background:linear-gradient(90deg,#62b946 0,#6fbd44 158.5px,#91c83d 228.5px,#c9db2a 265.5px,#ffef01 276.5px,#f8a019 281.5px,#ef3523 286.5px,#ee1b35 289.5px,#e72288 294.5px,#c3419b 299.5px,#88479c 311.5px,#65499d 345.5px,#4c4c9f 417px)"></i>
<i style="left:794px;top:398px;width:417px;height:4px;background:linear-gradient(90deg,#62b946 0,#6fbd44 158.5px,#91c83d 228.5px,#c9db2a 265.5px,#ffed02 276.5px,#f79c1a 281.5px,#ef3224 286.5px,#ee1c2b 288.5px,#e62389 293.5px,#c5419b 297.5px,#8a479c 307.5px,#6a499d 331.5px,#4b4c9f 417px)"></i>
<i style="left:794px;top:402px;width:417px;height:4px;background:linear-gradient(90deg,#62b946 0,#6fbd44 158.5px,#91c83d 228.5px,#c9db2a 265.5px,#ffec03 276.5px,#f79a1a 281.5px,#ef3124 286.5px,#ee1c2f 288.5px,#e72288 292.5px,#cb3e9a 295.5px,#8f479c 303.5px,#6c489d 321.5px,#4b4c9f 413.5px,#f36b21 414.5px,#f36b21 417px)"></i>
<i style="left:794px;top:406px;width:417px;height:5px;background:linear-gradient(90deg,#62b946 0,#6fbd44 158.5px,#91c83d 228.5px,#c9db2a 265.5px,#ffed03 276.5px,#f79a1a 281.5px,#ef3124 286.5px,#ee1b30 288.5px,#eb1b83 291.5px,#cc3e9a 294.5px,#8f479c 301.5px,#6d489d 316.5px,#4c4c9f 405.5px,#b3d433 406.5px,#b3d433 417px)"></i>
<i style="left:794px;top:411px;width:417px;height:4px;background:linear-gradient(90deg,#62b946 0,#6fbd44 158.5px,#91c83d 228.5px,#c9db2a 265.5px,#ffee02 276.5px,#f89d19 281.5px,#ef3324 286.5px,#ee1c2f 288.5px,#e91f86 291.5px,#c4419b 294.5px,#8d479c 300.5px,#6c489d 314.5px,#4b4c9f 410.5px,#91c83d 411.5px,#91c83d 417px)"></i>
<i style="left:794px;top:415px;width:417px;height:4px;background:linear-gradient(90deg,#64bb5b 0,#63ba50 142.5px,#80c342 243.5px,#aed235 267.5px,#dae21d 275.5px,#ffea04 279.5px,#f36821 285.5px,#78c043 286.5px,#78c043 345.5px,#f68c1d 346.5px,#f68c1d 358.5px,#584b9e 359.5px,#4b4c9f 407.5px,#f36b21 408.5px,#f36b21 417px)"></i>
<i style="left:794px;top:419px;width:417px;height:4px;background:linear-gradient(90deg,#62b946 0,#6fbd44 158.5px,#91c83d 228.5px,#c8db2b 265.5px,#f5ee08 275.5px,#fee904 277.5px,#f7931b 282.5px,#ef3b23 286.5px,#ee1c25 288.5px,#eb1c84 291.5px,#c1429b 294.5px,#89479c 300.5px,#69499d 315.5px,#4a4c9f 417px)"></i>
<i style="left:794px;top:423px;width:417px;height:4px;background:linear-gradient(90deg,#62b946 0,#6fbd44 158.5px,#91c83d 228.5px,#cadb2a 266.5px,#ffed02 277.5px,#f79c1a 282.5px,#ef3224 287.5px,#ee1b33 289.5px,#ec1a7b 291.5px,#d73a9a 293.5px,#96489b 298.5px,#71489d 308.5px,#4d4c9f 402.5px,#fff200 403.5px,#fff200 417px)"></i>
<i style="left:794px;top:427px;width:417px;height:4px;background:linear-gradient(90deg,#62b946 0,#6fbd44 158.5px,#91c83d 228.5px,#c9db2a 266.5px,#fff101 277.5px,#f8a418 282.5px,#ef3723 287.5px,#ee1c29 289.5px,#e62389 292.5px,#ca3f9a 294.5px,#91479c 299.5px,#6e489d 310.5px,#4c4c9f 402.5px,#f36b21 403.5px,#f36b21 417px)"></i>
<i style="left:794px;top:431px;width:417px;height:5px;background:linear-gradient(90deg,#62b946 0,#6fbd44 158.5px,#90c83d 228.5px,#c8db2b 266.5px,#f5ee08 276.5px,#feea04 278.5px,#f7961b 283.5px,#ef3d23 287.5px,#ee2a24 289.5px,#ed1a62 291.5px,#eb1c84 292.5px,#bf439b 295.5px,#87479c 301.5px,#68499d 317.5px,#4c4c9f 402.5px,#71be44 403.5px,#71be44 417px)"></i>
<i style="left:794px;top:436px;width:417px;height:4px;background:linear-gradient(90deg,#62b946 0,#6fbd44 158.5px,#90c83d 228.5px,#cadc29 267.5px,#ffed02 278.5px,#f79c19 283.5px,#ef3324 288.5px,#ee1b32 290.5px,#ec1a7b 292.5px,#d63a9a 294.5px,#95479c 299.5px,#70489d 309.5px,#4d4c9f 401.5px,#78c043 402.5px,#78c043 417px)"></i>
<i style="left:794px;top:440px;width:417px;height:4px;background:linear-gradient(90deg,#62b946 0,#6ebd44 158.5px,#90c83d 228.5px,#cadb29 267.5px,#ffef01 278.5px,#f8a119 283.5px,#ef3623 288.5px,#ee1c2b 290.5px,#ec1a73 292.5px,#da3899 294.5px,#97489b 299.5px,#71489d 309.5px,#4a4c9f 417px)"></i>
<i style="left:794px;top:444px;width:417px;height:4px;background:linear-gradient(90deg,#62b946 0,#6ebd44 158.5px,#90c83d 228.5px,#cadb2a 267.5px,#fff001 278.5px,#f8a318 283.5px,#ef3723 288.5px,#ee1c29 290.5px,#e62489 293.5px,#c93f9a 295.5px,#90479c 300.5px,#6e489d 311.5px,#4a4c9f 413.5px,#80c342 414.5px,#80c342 417px)"></i>
<i style="left:794px;top:448px;width:417px;height:4px;background:linear-gradient(90deg,#62b946 0,#6ebd44 158.5px,#90c83d 228.5px,#cadb2a 267.5px,#fff001 278.5px,#f8a318 283.5px,#ef3723 288.5px,#ee1c29 290.5px,#e6248a 293.5px,#c93f9a 295.5px,#90479c 300.5px,#6e489d 311.5px,#4d4c9f 401.5px,#91c83d 402.5px,#91c83d 417px)"></i>
<i style="left:794px;top:452px;width:417px;height:4px;background:linear-gradient(90deg,#62b946 0,#6ebd44 158.5px,#90c83d 228.5px,#cadb29 267.5px,#ffef02 278.5px,#f8a119 283.5px,#ef3523 288.5px,#ee1c2c 290.5px,#ec1a74 292.5px,#da3899 294.5px,#97489b 299.5px,#70489d 309.5px,#4a4c9f 417px)"></i>
<i style="left:794px;top:456px;width:417px;height:5px;background:linear-gradient(90deg,#62b946 0,#6fbd44 158.5px,#90c83d 228.5px,#c8db2b 266.5px,#ffec03 278.5px,#f79c1a 283.5px,#ef3224 288.5px,#ee1b33 290.5px,#ec1a7c 292.5px,#d53a9a 294.5px,#95479c 299.5px,#70489d 309.5px,#4c4c9f 402.5px,#fff200 403.5px,#fff200 417px)"></i>
<i style="left:794px;top:461px;width:417px;height:4px;background:linear-gradient(90deg,#62b946 0,#6fbd44 158.5px,#90c83d 228.5px,#c8db2b 266.5px,#f5ee07 276.5px,#fee904 278.5px,#f7951b 283.5px,#ef3c23 287.5px,#ee2a24 289.5px,#ed1a64 291.5px,#ea1d84 292.5px,#be439b 295.5px,#87479c 301.5px,#68499d 317.5px,#4c4c9f 403.5px,#78c043 404.5px,#78c043 417px)"></i>
<i style="left:794px;top:465px;width:417px;height:4px;background:linear-gradient(90deg,#62b946 0,#6fbd44 158.5px,#91c83d 228.5px,#c9db2a 266.5px,#fff001 277.5px,#f8a318 282.5px,#ef3623 287.5px,#ee1c2a 289.5px,#e6248a 292.5px,#c93f9a 294.5px,#91479c 299.5px,#6e489d 310.5px,#4a4c9f 417px)"></i>
<i style="left:1479px;top:52px;width:416px;height:4px;background:linear-gradient(90deg,#3b74ba 0,#3a4da2 2.5px,#2a2f8f 5.5px,#2f3a96 20.5px,#3a53a5 34.5px,#282d8a 35.5px,#282d8a 43.5px,#3a51a4 46.5px,#34449c 72.5px,#282d8a 81.5px,#282d8a 99.5px,#3a51a4 102.5px,#394ca1 171.5px,#282d8a 186.5px,#282d8a 203.5px,#3a51a4 206.5px,#394ca1 275.5px,#282d8a 290.5px,#282d8a 307.5px,#3a51a4 310.5px,#3b5aaa 364.5px,#3a86c8 367.5px,#37ace3 368.5px,#45c0e5 369.5px,#6fc6bf 371.5px,#97c75f 374.5px,#c3d745 376.5px,#fdd61b 377.5px,#fee111 400.5px,#ffeb07 416px)"></i>
<i style="left:1479px;top:56px;width:416px;height:4px;background:linear-gradient(90deg,#3b74ba 0,#3a4da2 2.5px,#2a2f8f 5.5px,#2f3a96 20.5px,#3a53a5 34.5px,#282d8a 35.5px,#2c3392 44.5px,#3a50a3 46.5px,#35469d 71.5px,#282d8a 81.5px,#2a3090 100.5px,#3a4fa3 102.5px,#394ca1 171.5px,#282d8a 186.5px,#2a3090 204.5px,#3a4fa3 206.5px,#394ca1 275.5px,#282d8a 290.5px,#2a3090 308.5px,#3a4fa3 310.5px,#3a52a5 365.5px,#3b65af 368.5px,#3991d0 370.5px,#35baec 371.5px,#6ac8d1 373.5px,#8ac46f 376.5px,#fee30f 377.5px,#ffed05 400.5px,#fbf005 416px)"></i>
<i style="left:1479px;top:60px;width:416px;height:5px;background:linear-gradient(90deg,#3b74ba 0,#3a4da2 2.5px,#2a2f8f 5.5px,#2f3a96 20.5px,#3a53a5 34.5px,#282d8a 35.5px,#2a2f8e 44.5px,#3a4fa3 46.5px,#36489e 70.5px,#282d8a 82.5px,#292e8d 100.5px,#3a4ea2 102.5px,#394ca1 171.5px,#282d8a 187.5px,#292e8d 204.5px,#3a4ea2 206.5px,#394ca1 275.5px,#282d8a 291.5px,#292e8d 308.5px,#3a4ea2 310.5px,#3b55a6 363.5px,#34439c 364.5px,#3b6ab3 370.5px,#3bbeea 373.5px,#6dc7c9 375.5px,#73c5ac 376.5px,#f04323 377.5px,#f04523 395.5px,#f78f33 404.5px,#f89837 416px)"></i>
<i style="left:1479px;top:65px;width:416px;height:4px;background:linear-gradient(90deg,#3b74ba 0,#3a4da2 2.5px,#2a2f8f 5.5px,#2f3a96 20.5px,#3a53a5 34.5px,#282d8a 35.5px,#292d8b 44.5px,#3a4da2 46.5px,#37499f 69.5px,#282d8a 82.5px,#282d8a 100.5px,#3a51a4 103.5px,#384ba0 172.5px,#282d8a 187.5px,#282d8a 204.5px,#3a51a4 207.5px,#384ba0 276.5px,#282d8a 291.5px,#282d8a 308.5px,#3a51a4 311.5px,#3b54a6 363.5px,#34439c 364.5px,#3b6ab3 370.5px,#3bbeeb 373.5px,#6dc7c9 375.5px,#73c5ad 376.5px,#e9e81a 377.5px,#e7e71c 395.5px,#bbd449 402.5px,#abce53 408.5px,#abce53 416px)"></i>
<i style="left:1479px;top:69px;width:416px;height:4px;background:linear-gradient(90deg,#3b74ba 0,#3a4da2 2.5px,#2a2f8f 5.5px,#2f3a96 20.5px,#3a53a5 34.5px,#282d8a 35.5px,#2c3492 45.5px,#3a4fa2 47.5px,#34439c 71.5px,#282d8a 80.5px,#2a3090 101.5px,#3a4ea2 103.5px,#37499f 171.5px,#282d8a 185.5px,#2a3090 205.5px,#3a4ea2 207.5px,#37499f 275.5px,#282d8a 289.5px,#2a3090 309.5px,#3a4ea2 311.5px,#3a51a4 365.5px,#3b72b9 369.5px,#3a87c9 370.5px,#36aee4 371.5px,#46c0e4 372.5px,#6fc6be 374.5px,#86c47b 376.5px,#3b5fac 377.5px,#3b59a9 416px)"></i>
<i style="left:1479px;top:73px;width:416px;height:4px;background:linear-gradient(90deg,#3b74ba 0,#3a4da2 2.5px,#2a2f8f 5.5px,#2f3a96 20.5px,#3a53a5 34.5px,#282d8a 35.5px,#292e8c 46.5px,#34459c 48.5px,#2e3895 65.5px,#282d8a 82.5px,#282d8a 102.5px,#35469d 105.5px,#313e98 167.5px,#282d8a 179.5px,#282d8a 206.5px,#35469d 209.5px,#313e98 271.5px,#282d8a 283.5px,#282d8a 310.5px,#35469d 313.5px,#35469d 363.5px,#292e8c 364.5px,#3a51a4 368.5px,#3b70b8 372.5px,#3a85c8 373.5px,#37abe2 374.5px,#44c0e6 375.5px,#60c6d6 376.5px,#2f3a96 377.5px,#2f3a96 416px)"></i>
<i style="left:1479px;top:77px;width:416px;height:4px;background:linear-gradient(90deg,#3b74ba 0,#3a4da2 2.5px,#2a2f8f 5.5px,#2f3b96 20.5px,#3a53a5 34.5px,#282d8a 35.5px,#2a2f8f 363.5px,#272a86 371.5px,#3a52a5 376.5px,#3a87c9 377.5px,#3a7dc2 399.5px,#3b70b8 416px)"></i>
<i style="left:1479px;top:81px;width:416px;height:4px;background:linear-gradient(90deg,#3b74ba 0,#3a4da2 2.5px,#2a2f8f 5.5px,#2f3b97 20.5px,#3b54a6 34.5px,#282d8a 35.5px,#282d8a 46.5px,#35459d 49.5px,#2e3995 65.5px,#282d8a 80.5px,#282d8a 102.5px,#35469d 105.5px,#303c97 168.5px,#282d8a 180.5px,#282d8a 206.5px,#35469d 209.5px,#303c97 272.5px,#282d8a 284.5px,#282d8a 310.5px,#35469d 313.5px,#35469d 363.5px,#3b6ab3 367.5px,#3cbeea 370.5px,#6dc7c8 372.5px,#8fc463 375.5px,#a6cc56 376.5px,#fee30e 377.5px,#fee60c 395.5px,#fdf102 397.5px,#c6d843 406.5px,#c6d843 416px)"></i>
<i style="left:1479px;top:85px;width:416px;height:5px;background:linear-gradient(90deg,#3b74ba 0,#3a4da2 2.5px,#2a2f8f 5.5px,#2f3a96 19.5px,#3b57a8 34.5px,#282d8a 35.5px,#282d8a 45.5px,#394ca1 47.5px,#36469e 70.5px,#282d8a 81.5px,#282d8a 101.5px,#3a50a3 104.5px,#37499f 172.5px,#282d8a 185.5px,#282d8a 205.5px,#3a50a3 208.5px,#37499f 276.5px,#282d8a 289.5px,#282d8a 309.5px,#3a50a3 312.5px,#3a53a5 363.5px,#5ac5d9 364.5px,#81c485 367.5px,#91c562 368.5px,#bed548 370.5px,#f6ee0b 372.5px,#fedd14 373.5px,#fcbe33 374.5px,#f99f39 375.5px,#f5812d 376.5px,#4cc2e1 377.5px,#49c1e3 416px)"></i>
<i style="left:1479px;top:90px;width:416px;height:4px;background:linear-gradient(90deg,#3b74ba 0,#3a4da2 2.5px,#2a2f8f 5.5px,#2f3b96 18.5px,#3b6bb4 34.5px,#292f8e 35.5px,#2e3895 45.5px,#3b56a7 48.5px,#36489e 74.5px,#2a2f8f 85.5px,#2a2f8f 101.5px,#3a4fa3 103.5px,#3b58a8 158.5px,#313d98 180.5px,#282d8b 188.5px,#292e8d 205.5px,#3a4fa2 207.5px,#3b58a9 261.5px,#313e99 284.5px,#292d8c 292.5px,#2a3190 309.5px,#3a50a3 311.5px,#3b5dab 353.5px,#3b59a9 363.5px,#72c6b4 364.5px,#8bc46e 366.5px,#cedb3a 369.5px,#ebe918 370.5px,#fee909 371.5px,#faab3e 373.5px,#f15023 376.5px,#a52023 377.5px,#a82124 395.5px,#e21f26 403.5px,#ed2124 409.5px,#ed2124 416px)"></i>
<i style="left:1479px;top:94px;width:416px;height:4px;background:linear-gradient(90deg,#3b74ba 0,#3a4da2 2.5px,#2a308f 5.5px,#303c97 17.5px,#3b66b0 27.5px,#3a89cb 29.5px,#37bded 31.5px,#4cc2e1 34.5px,#33419b 35.5px,#37499f 45.5px,#3b6cb4 50.5px,#3b60ad 66.5px,#2f3b97 95.5px,#313d98 101.5px,#3b5cab 105.5px,#3a7bc0 124.5px,#3997d4 141.5px,#3a53a5 172.5px,#292f8e 189.5px,#2d3593 205.5px,#3b57a8 208.5px,#3a7dc1 229.5px,#3997d4 245.5px,#3a53a5 276.5px,#2a3090 293.5px,#34449c 309.5px,#3b6ab3 315.5px,#38a2dc 327.5px,#3bbeeb 334.5px,#3ebfe9 346.5px,#37a9e1 353.5px,#3b76bc 363.5px,#92c561 364.5px,#bed547 366.5px,#f6ee0a 368.5px,#fedc15 369.5px,#fcbd33 370.5px,#f99f39 371.5px,#f26222 373.5px,#ee2624 375.5px,#e11f26 376.5px,#8c1a1a 377.5px,#8f1b1b 395.5px,#d0232a 403.5px,#df1f27 407.5px,#df1f27 416px)"></i>
<i style="left:1479px;top:98px;width:416px;height:4px;background:linear-gradient(90deg,#3b74ba 0,#3a4da2 2.5px,#2a308f 5.5px,#2f3a96 16.5px,#3b69b2 26.5px,#3cbeea 29.5px,#67c7d2 31.5px,#70c6ba 34.5px,#36479e 35.5px,#3b58a8 46.5px,#3a85c8 49.5px,#3994d2 58.5px,#3b54a6 76.5px,#34449c 101.5px,#3b63af 106.5px,#398ece 119.5px,#38beec 126.5px,#59c4da 139.5px,#3abeeb 151.5px,#3b65af 165.5px,#2a308f 189.5px,#303c97 205.5px,#3b5eac 209.5px,#3a85c8 222.5px,#38beed 230.5px,#59c4da 243.5px,#3abeeb 255.5px,#3b65b0 269.5px,#2d3694 293.5px,#3a52a5 310.5px,#3a86c9 315.5px,#39beec 321.5px,#6dc7c6 330.5px,#75c4a7 340.5px,#6fc7c0 350.5px,#57c4db 356.5px,#35bbed 361.5px,#37a6de 363.5px,#e6e71d 364.5px,#ffed04 365.5px,#fbaf40 367.5px,#f15422 370.5px,#eb1c24 372.5px,#b32428 375.5px,#8b1a1a 377.5px,#8e1b1b 395.5px,#d0232a 403.5px,#de2027 407.5px,#de2027 416px)"></i>
<i style="left:1479px;top:102px;width:416px;height:4px;background:linear-gradient(90deg,#3b74ba 0,#3a4da2 2.5px,#2a308f 5.5px,#303c97 17.5px,#3b66b0 27.5px,#3a89cb 29.5px,#37bded 31.5px,#4cc2e1 34.5px,#33419b 35.5px,#3a52a4 46.5px,#3b6db5 51.5px,#3b5aa9 69.5px,#2f3b97 98.5px,#303c97 101.5px,#3b5caa 105.5px,#3a7bc0 124.5px,#3997d4 141.5px,#3a53a5 172.5px,#292f8e 189.5px,#2c3493 205.5px,#3b57a8 208.5px,#3a7fc3 230.5px,#3997d4 245.5px,#3a53a5 276.5px,#2a3090 293.5px,#34449c 309.5px,#3b6ab3 315.5px,#38a2dc 327.5px,#3bbeeb 334.5px,#3ebfe9 346.5px,#37aae1 353.5px,#3b76bc 363.5px,#fdd31e 364.5px,#fbb53c 365.5px,#ef3b23 369.5px,#ed1e24 370.5px,#b62429 373.5px,#8b1a1a 375.5px,#8e1b1b 395.5px,#d0232a 403.5px,#de2027 407.5px,#de2027 416px)"></i>
<i style="left:1479px;top:106px;width:416px;height:4px;background:linear-gradient(90deg,#3b74ba 0,#3a4da2 2.5px,#2a2f8f 5.5px,#2f3b96 18.5px,#3b6bb4 34.5px,#2a2f8f 35.5px,#2d3693 45.5px,#3b56a7 48.5px,#37489f 74.5px,#2a2f8f 85.5px,#292f8e 101.5px,#3a4fa2 103.5px,#3b59a9 156.5px,#313f99 180.5px,#292d8b 188.5px,#292e8d 205.5px,#3a4ea2 207.5px,#3b59a9 259.5px,#323f99 284.5px,#292e8c 292.5px,#2a308f 309.5px,#3a50a3 311.5px,#3b5eac 351.5px,#3b5aa9 363.5px,#e7e71c 364.5px,#ffed05 365.5px,#fbaf3f 367.5px,#f15322 370.5px,#eb1d24 372.5px,#b22328 375.5px,#8b1a1a 377.5px,#8e1b1b 395.5px,#d0232a 403.5px,#de2027 407.5px,#de2027 416px)"></i>
<i style="left:1479px;top:110px;width:416px;height:5px;background:linear-gradient(90deg,#3b74ba 0,#3a4da2 2.5px,#2a2f8f 5.5px,#2f3a96 19.5px,#3b57a8 34.5px,#282d8b 35.5px,#292e8d 45.5px,#3a4ea2 47.5px,#384aa0 70.5px,#282d8b 84.5px,#292d8b 101.5px,#394da1 103.5px,#3a50a3 169.5px,#2d3794 181.5px,#282d8b 205.5px,#394da1 207.5px,#3a50a3 273.5px,#2d3794 285.5px,#292d8b 309.5px,#394da1 311.5px,#3b55a7 363.5px,#94c660 364.5px,#c1d646 366.5px,#f9ef07 368.5px,#fcba36 370.5px,#f57d2c 372.5px,#ed2324 375.5px,#df1f27 376.5px,#931c1d 377.5px,#961d1e 395.5px,#d42229 403.5px,#e31f26 408.5px,#e31f26 416px)"></i>
<i style="left:1479px;top:115px;width:416px;height:4px;background:linear-gradient(90deg,#3b74ba 0,#3a4da2 2.5px,#2a2f8f 5.5px,#2f3b97 20.5px,#3b54a6 34.5px,#282d8a 35.5px,#292e8d 45.5px,#3a4ea2 47.5px,#36489e 71.5px,#282d8a 84.5px,#292d8b 101.5px,#394da1 103.5px,#3a4ea2 171.5px,#282d8a 188.5px,#292d8b 205.5px,#394da1 207.5px,#3a4ea2 275.5px,#282d8a 292.5px,#292d8b 309.5px,#394da1 311.5px,#3b55a6 363.5px,#74c5ac 364.5px,#8fc463 366.5px,#d6df30 369.5px,#f3ed0e 370.5px,#fee012 371.5px,#fcc130 372.5px,#f9a23a 373.5px,#f26522 375.5px,#f04723 376.5px,#f5822d 377.5px,#f78b31 397.5px,#faaa3e 407.5px,#faaa3e 416px)"></i>
<i style="left:1479px;top:119px;width:416px;height:4px;background:linear-gradient(90deg,#3b74ba 0,#3a4da2 2.5px,#2a2f8f 5.5px,#2f3b96 20.5px,#3a53a5 34.5px,#282d8a 35.5px,#292f8e 45.5px,#3a4fa2 47.5px,#36489e 71.5px,#282d8a 83.5px,#292e8c 101.5px,#3a4ea2 103.5px,#394ca1 172.5px,#282d8a 188.5px,#292e8c 205.5px,#3a4ea2 207.5px,#394ca1 276.5px,#282d8a 292.5px,#292e8c 309.5px,#3a4ea2 311.5px,#3b55a6 363.5px,#6dc7c9 364.5px,#8fc463 367.5px,#d5df31 370.5px,#f2ec0f 371.5px,#fee011 372.5px,#fcc12f 373.5px,#f9a33b 374.5px,#f26622 376.5px,#f5822d 377.5px,#f78b31 397.5px,#faaa3e 407.5px,#faaa3e 416px)"></i>
<i style="left:1479px;top:123px;width:416px;height:4px;background:linear-gradient(90deg,#3b74ba 0,#3a4da2 2.5px,#2a2f8f 5.5px,#2f3a96 20.5px,#3a53a5 34.5px,#282d8a 35.5px,#2a2f8f 45.5px,#3a4fa3 47.5px,#35469d 72.5px,#282d8a 83.5px,#292e8d 101.5px,#3a4ea2 103.5px,#394ca1 172.5px,#282d8a 187.5px,#292e8d 205.5px,#3a4ea2 207.5px,#394ca1 276.5px,#282d8a 291.5px,#292e8d 309.5px,#3a4ea2 311.5px,#3b55a6 363.5px,#53c3dd 364.5px,#6cc8cc 365.5px,#8dc469 368.5px,#d2dd35 371.5px,#efea13 372.5px,#fee50d 373.5px,#faa73c 375.5px,#f68830 376.5px,#931c1d 377.5px,#961d1e 395.5px,#d42229 403.5px,#e31f26 408.5px,#e31f26 416px)"></i>
<i style="left:1479px;top:127px;width:416px;height:4px;background:linear-gradient(90deg,#3b74ba 0,#3a4da2 2.5px,#2a2f8f 5.5px,#2f3a96 20.5px,#3a53a5 34.5px,#282d8a 35.5px,#2b3291 45.5px,#3a50a3 47.5px,#35469d 72.5px,#282d8a 82.5px,#2a2f8f 101.5px,#3a4fa3 103.5px,#394ca1 172.5px,#282d8a 187.5px,#2a2f8f 205.5px,#3a4fa3 207.5px,#394ca1 276.5px,#282d8a 291.5px,#2a2f8f 309.5px,#3a4fa3 311.5px,#3b55a6 363.5px,#398fce 364.5px,#36b7ea 365.5px,#68c7d2 367.5px,#89c472 370.5px,#cada3e 373.5px,#ffec06 375.5px,#fdcd24 376.5px,#8b1a1a 377.5px,#8e1b1b 395.5px,#d0232a 403.5px,#de2027 407.5px,#de2027 416px)"></i>
<i style="left:1479px;top:131px;width:416px;height:4px;background:linear-gradient(90deg,#3b74ba 0,#3a4da2 2.5px,#2a2f8f 5.5px,#2f3a96 20.5px,#3a53a5 34.5px,#282d8a 35.5px,#282d8a 44.5px,#3a50a4 47.5px,#35469d 72.5px,#282d8a 82.5px,#2b3291 101.5px,#3a50a3 103.5px,#394ca1 172.5px,#282d8a 187.5px,#2b3291 205.5px,#3a50a3 207.5px,#394ca1 276.5px,#282d8a 291.5px,#2b3291 309.5px,#3a50a3 311.5px,#3b5baa 364.5px,#3a86c9 367.5px,#36ade3 368.5px,#46c0e5 369.5px,#6fc6be 371.5px,#97c75e 374.5px,#c4d744 376.5px,#8b1a1a 377.5px,#8e1b1b 395.5px,#d0232a 403.5px,#de2027 407.5px,#de2027 416px)"></i>
<i style="left:1479px;top:135px;width:416px;height:5px;background:linear-gradient(90deg,#3b74ba 0,#3a4da2 2.5px,#2a2f8f 5.5px,#2f3a96 20.5px,#3a53a5 34.5px,#282d8a 35.5px,#282d8a 44.5px,#3a51a4 47.5px,#34449c 73.5px,#282d8a 82.5px,#282d8a 100.5px,#3a51a4 103.5px,#394ca1 172.5px,#282d8a 187.5px,#282d8a 204.5px,#3a51a4 207.5px,#394ca1 276.5px,#282d8a 291.5px,#282d8a 308.5px,#3a51a4 311.5px,#3a53a5 365.5px,#3b66b0 368.5px,#3995d3 370.5px,#36bdee 371.5px,#6bc8ce 373.5px,#8cc46b 376.5px,#8b1a1a 377.5px,#8e1b1b 395.5px,#d0232a 403.5px,#de2027 407.5px,#de2027 416px)"></i>
<i style="left:1479px;top:140px;width:416px;height:4px;background:linear-gradient(90deg,#3b74ba 0,#3a4da2 2.5px,#2a2f8f 5.5px,#2f3a96 20.5px,#3a53a5 34.5px,#282d8a 35.5px,#282d8b 44.5px,#394da1 46.5px,#384ba0 68.5px,#282d8a 83.5px,#282d8a 100.5px,#3a51a4 103.5px,#384ba0 172.5px,#282d8a 187.5px,#282d8a 204.5px,#3a51a4 207.5px,#384ba0 276.5px,#282d8a 291.5px,#282d8a 308.5px,#3a51a4 311.5px,#3a53a5 365.5px,#3b66b0 368.5px,#3995d3 370.5px,#36bdee 371.5px,#6bc8ce 373.5px,#8cc46b 376.5px,#8b1a1a 377.5px,#8e1b1b 395.5px,#d0232a 403.5px,#de2027 407.5px,#de2027 416px)"></i>
<i style="left:1479px;top:144px;width:416px;height:4px;background:linear-gradient(90deg,#3b74ba 0,#3a4da2 2.5px,#2a2f8f 5.5px,#2f3a96 20.5px,#3a53a5 34.5px,#282d8a 35.5px,#292e8d 44.5px,#3a4ea2 46.5px,#36489e 70.5px,#282d8a 82.5px,#292d8b 100.5px,#3a4da2 102.5px,#394ca1 171.5px,#282d8a 187.5px,#292d8b 204.5px,#3a4da2 206.5px,#394ca1 275.5px,#282d8a 291.5px,#292d8b 308.5px,#3a4da2 310.5px,#3b5baa 364.5px,#3a86c9 367.5px,#36ade3 368.5px,#46c0e5 369.5px,#6fc6be 371.5px,#97c75e 374.5px,#c4d744 376.5px,#8b1a1a 377.5px,#8e1b1b 395.5px,#d0232a 403.5px,#de2027 407.5px,#de2027 416px)"></i>
<i style="left:1479px;top:148px;width:416px;height:4px;background:linear-gradient(90deg,#3b74ba 0,#3a4da2 2.5px,#2a2f8f 5.5px,#2f3a96 20.5px,#3a53a5 34.5px,#282d8a 35.5px,#2a3090 44.5px,#3a4fa3 46.5px,#35469d 71.5px,#282d8a 81.5px,#292f8e 100.5px,#3a4fa2 102.5px,#394ca1 171.5px,#282d8a 186.5px,#292f8e 204.5px,#3a4fa2 206.5px,#394ca1 275.5px,#282d8a 290.5px,#292f8e 308.5px,#3a4fa2 310.5px,#3b55a6 363.5px,#398ece 364.5px,#36b7ea 365.5px,#68c7d2 367.5px,#89c472 370.5px,#cada3e 373.5px,#ffec06 375.5px,#fdcd24 376.5px,#8b1a1a 377.5px,#8e1b1b 395.5px,#d0232a 403.5px,#de2027 407.5px,#de2027 416px)"></i>
<i style="left:1479px;top:152px;width:416px;height:4px;background:linear-gradient(90deg,#3b74ba 0,#3a4da2 2.5px,#2a2f8f 5.5px,#2f3a96 20.5px,#3a53a5 34.5px,#282d8a 35.5px,#282d8a 43.5px,#3a51a4 46.5px,#35459d 71.5px,#282d8a 81.5px,#2b3392 100.5px,#3a50a3 102.5px,#394ca1 171.5px,#282d8a 186.5px,#2b3392 204.5px,#3a50a3 206.5px,#394ca1 275.5px,#282d8a 290.5px,#2b3392 308.5px,#3a50a3 310.5px,#3b55a6 363.5px,#53c3dd 364.5px,#6cc8cd 365.5px,#8dc469 368.5px,#d1dd36 371.5px,#eeea14 372.5px,#fee50d 373.5px,#faa73c 375.5px,#f68930 376.5px,#8b1a1a 377.5px,#8e1b1b 395.5px,#d0232a 403.5px,#de2027 407.5px,#de2027 416px)"></i>
<i style="left:1479px;top:156px;width:416px;height:4px;background:linear-gradient(90deg,#3b74ba 0,#3a4da2 2.5px,#2a2f8f 5.5px,#2f3a96 20.5px,#3a53a5 34.5px,#282d8a 35.5px,#282d8a 43.5px,#3a52a4 46.5px,#34439c 72.5px,#282d8a 81.5px,#282d8a 99.5px,#3a51a4 102.5px,#384ba0 171.5px,#282d8a 186.5px,#282d8a 203.5px,#3a51a4 206.5px,#384ba0 275.5px,#282d8a 290.5px,#282d8a 307.5px,#3a51a4 310.5px,#3b55a6 363.5px,#6cc8cd 364.5px,#8dc469 367.5px,#d1dd36 370.5px,#eeea14 371.5px,#fee50d 372.5px,#faa73c 374.5px,#f36a24 376.5px,#8b1a1a 377.5px,#8e1b1b 395.5px,#d0232a 403.5px,#de2027 407.5px,#de2027 416px)"></i>
<i style="left:1479px;top:160px;width:416px;height:9px;background:linear-gradient(90deg,#3b74ba 0,#3a4da2 2.5px,#2a2f8f 5.5px,#2f3a96 20.5px,#3a53a5 34.5px,#282d8a 35.5px,#2a2f8f 43.5px,#3a4fa3 45.5px,#36489e 69.5px,#282d8a 81.5px,#292e8d 99.5px,#3a4ea2 101.5px,#394ca1 170.5px,#282d8a 186.5px,#292e8d 203.5px,#3a4ea2 205.5px,#394ca1 274.5px,#282d8a 290.5px,#292e8d 307.5px,#3a4ea2 309.5px,#3b55a6 363.5px,#6ec7c3 364.5px,#93c561 367.5px,#c0d647 369.5px,#f8ef08 371.5px,#fcbc35 373.5px,#f57e2c 375.5px,#f26022 376.5px,#8b1a1a 377.5px,#8e1b1b 395.5px,#d0232a 403.5px,#de2027 407.5px,#de2027 416px)"></i>
<i style="left:1479px;top:169px;width:416px;height:4px;background:linear-gradient(90deg,#3b74ba 0,#3a4da2 2.5px,#2a2f8f 5.5px,#2f3a96 20.5px,#3a53a5 34.5px,#282d8a 35.5px,#282d8a 42.5px,#3a51a4 45.5px,#34449c 71.5px,#282d8a 80.5px,#282d8a 98.5px,#3a50a3 101.5px,#394ca1 170.5px,#282d8a 185.5px,#282d8a 202.5px,#3a50a3 205.5px,#394ca1 274.5px,#282d8a 289.5px,#282d8a 306.5px,#3a50a3 309.5px,#3b55a6 363.5px,#6ec7c2 364.5px,#94c660 367.5px,#c1d646 369.5px,#f9ef07 371.5px,#fcba36 373.5px,#f57d2c 375.5px,#f25f22 376.5px,#8b1a1a 377.5px,#8e1b1b 395.5px,#d0232a 403.5px,#de2027 407.5px,#de2027 416px)"></i>
<i style="left:1479px;top:173px;width:416px;height:4px;background:linear-gradient(90deg,#3b74ba 0,#3a4da2 2.5px,#2a2f8f 5.5px,#2f3a96 20.5px,#3a53a5 34.5px,#282d8a 35.5px,#282d8b 42.5px,#394da1 44.5px,#384ba0 66.5px,#282d8a 81.5px,#282d8a 98.5px,#3a51a4 101.5px,#384ba0 170.5px,#282d8a 185.5px,#282d8a 202.5px,#3a51a4 205.5px,#384ba0 274.5px,#282d8a 289.5px,#282d8a 306.5px,#3a51a4 309.5px,#3b55a6 363.5px,#6ec7c2 364.5px,#94c660 367.5px,#c1d646 369.5px,#f9ef07 371.5px,#fcba36 373.5px,#f57d2c 375.5px,#f25f22 376.5px,#8b1a1a 377.5px,#8e1b1b 395.5px,#d0232a 403.5px,#de2027 407.5px,#de2027 416px)"></i>
<i style="left:1479px;top:177px;width:416px;height:4px;background:linear-gradient(90deg,#3b74ba 0,#3a4da2 2.5px,#2a2f8f 5.5px,#2f3a96 20.5px,#3a53a5 34.5px,#282d8a 35.5px,#292f8e 42.5px,#3a4fa2 44.5px,#36489e 68.5px,#282d8a 80.5px,#292e8c 98.5px,#3a4ea2 100.5px,#394ca1 169.5px,#282d8a 185.5px,#292e8c 202.5px,#3a4ea2 204.5px,#394ca1 273.5px,#282d8a 289.5px,#292e8c 306.5px,#3a4ea2 308.5px,#3b55a6 363.5px,#6ec7c2 364.5px,#94c660 367.5px,#c1d646 369.5px,#f9ef07 371.5px,#fcba36 373.5px,#f57d2c 375.5px,#f25f22 376.5px,#8b1a1a 377.5px,#8e1b1b 395.5px,#d0232a 403.5px,#de2027 407.5px,#de2027 416px)"></i>
<i style="left:1479px;top:181px;width:416px;height:4px;background:linear-gradient(90deg,#3b74ba 0,#3a4da2 2.5px,#2a2f8f 5.5px,#2f3a96 20.5px,#3a53a5 34.5px,#282d8a 35.5px,#2c3493 42.5px,#3a50a3 44.5px,#35469d 69.5px,#282d8a 79.5px,#2a3090 98.5px,#3a4fa3 100.5px,#394ca1 169.5px,#282d8a 184.5px,#2a3090 202.5px,#3a4fa3 204.5px,#394ca1 273.5px,#282d8a 288.5px,#2a3090 306.5px,#3a4fa3 308.5px,#3b55a6 363.5px,#6ec7c2 364.5px,#94c660 367.5px,#c1d646 369.5px,#f9ef07 371.5px,#fcba36 373.5px,#f57d2c 375.5px,#f25f22 376.5px,#8b1a1a 377.5px,#8e1b1b 395.5px,#d0232a 403.5px,#de2027 407.5px,#de2027 416px)"></i>
<i style="left:1479px;top:185px;width:416px;height:5px;background:linear-gradient(90deg,#3b74ba 0,#3a4da2 2.5px,#2a2f8f 5.5px,#2f3a96 20.5px,#3a53a5 34.5px,#282d8a 35.5px,#282d8a 41.5px,#3a51a4 44.5px,#34439c 70.5px,#282d8a 79.5px,#282d8a 97.5px,#3a51a4 100.5px,#394ba1 169.5px,#282d8a 184.5px,#282d8a 201.5px,#3a51a4 204.5px,#394ba1 273.5px,#282d8a 288.5px,#282d8a 305.5px,#3a51a4 308.5px,#3b55a6 363.5px,#6ec7c2 364.5px,#94c660 367.5px,#c1d646 369.5px,#f9ef07 371.5px,#fcba36 373.5px,#f57d2c 375.5px,#f25f22 376.5px,#8b1a1a 377.5px,#8e1b1b 395.5px,#d0232a 403.5px,#de2027 407.5px,#de2027 416px)"></i>
<i style="left:1479px;top:190px;width:416px;height:8px;background:linear-gradient(90deg,#3b74ba 0,#3a4da2 2.5px,#2a2f8f 5.5px,#2f3a96 20.5px,#3a53a5 34.5px,#282d8a 35.5px,#292f8e 41.5px,#3a4ea2 43.5px,#36489e 67.5px,#282d8a 79.5px,#292e8c 97.5px,#3a4da2 99.5px,#394ca1 168.5px,#282d8a 184.5px,#292e8c 201.5px,#3a4da2 203.5px,#394ca1 272.5px,#282d8a 288.5px,#292e8c 305.5px,#3a4da2 307.5px,#3b55a6 363.5px,#6ec7c2 364.5px,#94c660 367.5px,#c1d646 369.5px,#f9ef07 371.5px,#fcba36 373.5px,#f57d2c 375.5px,#f25f22 376.5px,#8b1a1a 377.5px,#8e1b1b 395.5px,#d0232a 403.5px,#de2027 407.5px,#de2027 416px)"></i>
<i style="left:1479px;top:198px;width:416px;height:4px;background:linear-gradient(90deg,#3b74ba 0,#3a4da2 2.5px,#2a2f8f 5.5px,#2f3a96 20.5px,#3a53a5 34.5px,#282d8a 35.5px,#282d8a 40.5px,#3a50a4 43.5px,#35469d 68.5px,#282d8a 78.5px,#2b3291 97.5px,#3a50a3 99.5px,#394ca1 168.5px,#282d8a 183.5px,#2b3291 201.5px,#3a50a3 203.5px,#394ca1 272.5px,#282d8a 287.5px,#2b3291 305.5px,#3a50a3 307.5px,#3b55a6 363.5px,#6ec7c2 364.5px,#94c660 367.5px,#c1d646 369.5px,#f9ef07 371.5px,#fcba36 373.5px,#f57d2c 375.5px,#f25f22 376.5px,#8b1a1a 377.5px,#8e1b1b 395.5px,#d0232a 403.5px,#de2027 407.5px,#de2027 416px)"></i>
<i style="left:1479px;top:202px;width:416px;height:4px;background:linear-gradient(90deg,#3b74ba 0,#3a4da2 2.5px,#2a2f8f 5.5px,#2f3b96 20.5px,#3a53a5 34.5px,#282d8a 35.5px,#282d8a 40.5px,#3a51a4 43.5px,#34439c 69.5px,#282d8a 78.5px,#282d8a 96.5px,#3a51a4 99.5px,#384ba0 168.5px,#282d8a 183.5px,#282d8a 200.5px,#3a51a4 203.5px,#384ba0 272.5px,#282d8a 287.5px,#282d8a 304.5px,#3a51a4 307.5px,#3b55a6 363.5px,#6ec7c2 364.5px,#94c660 367.5px,#c1d646 369.5px,#f9ef07 371.5px,#fcba36 373.5px,#f57d2c 375.5px,#f25f22 376.5px,#8b1a1a 377.5px,#8e1b1b 395.5px,#d0232a 403.5px,#de2027 407.5px,#de2027 416px)"></i>
<i style="left:1479px;top:206px;width:416px;height:9px;background:linear-gradient(90deg,#3b74ba 0,#3a4da2 2.5px,#2a2f8f 5.5px,#2f3b96 20.5px,#3b54a6 34.5px,#282d8a 35.5px,#292e8d 40.5px,#3a4ea2 42.5px,#36489e 66.5px,#282d8a 78.5px,#292d8c 96.5px,#3a4da2 98.5px,#394ca1 167.5px,#282d8a 183.5px,#292d8c 200.5px,#3a4da2 202.5px,#394ca1 271.5px,#282d8a 287.5px,#292d8c 304.5px,#3a4da2 306.5px,#3b55a6 363.5px,#6ec7c2 364.5px,#94c660 367.5px,#c1d646 369.5px,#f9ef07 371.5px,#fcba36 373.5px,#f57d2c 375.5px,#f25f22 376.5px,#8b1a1a 377.5px,#8e1b1b 395.5px,#d0232a 403.5px,#de2027 407.5px,#de2027 416px)"></i>
<i style="left:1479px;top:215px;width:416px;height:4px;background:linear-gradient(90deg,#3b74ba 0,#3a4da2 2.5px,#2a2f8f 5.5px,#2f3b97 20.5px,#3b54a6 34.5px,#282d8a 35.5px,#2c3392 40.5px,#3a50a3 42.5px,#35469d 67.5px,#282d8a 77.5px,#2a308f 96.5px,#3a4fa3 98.5px,#394ca1 167.5px,#282d8a 182.5px,#2a308f 200.5px,#3a4fa3 202.5px,#394ca1 271.5px,#282d8a 286.5px,#2a308f 304.5px,#3a4fa3 306.5px,#3b55a6 363.5px,#6ec7c2 364.5px,#94c660 367.5px,#c1d646 369.5px,#f9ef07 371.5px,#fcba36 373.5px,#f57d2c 375.5px,#f25f22 376.5px,#8b1a1a 377.5px,#8e1b1b 395.5px,#d0232a 403.5px,#de2027 407.5px,#de2027 416px)"></i>
<i style="left:1479px;top:219px;width:416px;height:4px;background:linear-gradient(90deg,#3b74ba 0,#3a4da2 2.5px,#2a2f8f 5.5px,#303b97 20.5px,#3b54a6 34.5px,#282d8b 35.5px,#282d8b 39.5px,#3a51a4 42.5px,#34449c 68.5px,#282d8a 77.5px,#2c3492 96.5px,#3a50a3 98.5px,#394ca1 167.5px,#282d8a 182.5px,#2c3492 200.5px,#3a50a3 202.5px,#394ca1 271.5px,#282d8a 286.5px,#2c3492 304.5px,#3a50a3 306.5px,#3b55a6 363.5px,#6ec7c2 364.5px,#94c660 367.5px,#c1d646 369.5px,#f9ef07 371.5px,#fcba36 373.5px,#f57d2c 375.5px,#f25f22 376.5px,#8b1a1a 377.5px,#8e1b1b 395.5px,#d0232a 403.5px,#de2027 407.5px,#de2027 416px)"></i>
<i style="left:1479px;top:223px;width:416px;height:8px;background:linear-gradient(90deg,#3b74ba 0,#3a4da2 2.5px,#2a2f8f 5.5px,#303c97 20.5px,#3b55a7 34.5px,#292d8b 35.5px,#292d8c 39.5px,#3a52a5 42.5px,#34449c 68.5px,#282d8a 77.5px,#282d8a 95.5px,#3a51a4 98.5px,#394ca1 167.5px,#282d8a 182.5px,#282d8a 199.5px,#3a51a4 202.5px,#394ca1 271.5px,#282d8a 286.5px,#282d8a 303.5px,#3a51a4 306.5px,#3b55a7 363.5px,#6ec7c2 364.5px,#94c660 367.5px,#c1d646 369.5px,#f9ef07 371.5px,#fcba36 373.5px,#f57d2c 375.5px,#f25f22 376.5px,#8b1a1a 377.5px,#8e1b1b 395.5px,#d0232a 403.5px,#de2027 407.5px,#de2027 416px)"></i>
<i style="left:1479px;top:231px;width:416px;height:4px;background:linear-gradient(90deg,#3b74ba 0,#3a4da2 2.5px,#2a2f8f 5.5px,#2f3a96 19.5px,#3b58a8 34.5px,#292e8d 35.5px,#2a2f8f 39.5px,#3a4fa3 41.5px,#384aa0 64.5px,#282d8b 78.5px,#282d8b 95.5px,#394ca1 97.5px,#3a52a4 161.5px,#2e3895 175.5px,#282d8a 194.5px,#282d8b 199.5px,#394ca1 201.5px,#3a52a4 265.5px,#2e3895 279.5px,#282d8a 298.5px,#282d8b 303.5px,#394ca1 305.5px,#3b56a7 363.5px,#6ec7c1 364.5px,#94c660 367.5px,#c1d646 369.5px,#faf006 371.5px,#fcba37 373.5px,#f25e22 376.5px,#8b1a1a 377.5px,#8e1b1b 395.5px,#d0232a 403.5px,#de2027 407.5px,#de2027 416px)"></i>
<i style="left:1479px;top:235px;width:416px;height:5px;background:linear-gradient(90deg,#3b74ba 0,#3a4da2 2.5px,#2a2f8f 5.5px,#303b97 19.5px,#3b5baa 34.5px,#2a2f8f 35.5px,#2c3492 39.5px,#3a51a4 41.5px,#37499f 65.5px,#292d8b 77.5px,#292d8c 95.5px,#3a4da2 97.5px,#3a50a3 164.5px,#2c3492 176.5px,#292d8c 199.5px,#3a4da2 201.5px,#3a50a3 268.5px,#2c3492 280.5px,#292d8c 303.5px,#3a4da2 305.5px,#3b58a8 363.5px,#6fc7c0 364.5px,#95c65f 367.5px,#c2d745 369.5px,#fbf005 371.5px,#fcb838 373.5px,#f15d22 376.5px,#931c1d 377.5px,#961d1e 395.5px,#d42229 403.5px,#e31f26 408.5px,#e31f26 416px)"></i>
<i style="left:1479px;top:240px;width:416px;height:4px;background:linear-gradient(90deg,#3b74ba 0,#3a4da2 2.5px,#2a2f8f 5.5px,#303d98 19.5px,#3b61ae 34.5px,#2c3493 35.5px,#303c97 39.5px,#3b56a7 42.5px,#33439b 69.5px,#292d8c 77.5px,#292e8d 95.5px,#3a4ea2 97.5px,#3a52a4 163.5px,#2d3593 176.5px,#292e8d 199.5px,#3a4ea2 201.5px,#3a52a4 267.5px,#2d3593 280.5px,#292e8d 303.5px,#3a4ea2 305.5px,#3b5baa 363.5px,#6fc6be 364.5px,#97c75e 367.5px,#c4d744 369.5px,#fef102 371.5px,#fbb53b 373.5px,#f15a22 376.5px,#f5822d 377.5px,#f78b31 397.5px,#faaa3e 407.5px,#faaa3e 416px)"></i>
<i style="left:1479px;top:244px;width:416px;height:4px;background:linear-gradient(90deg,#3b74ba 0,#3a4da2 2.5px,#2a2f8f 5.5px,#2f3b97 18.5px,#3b70b7 34.5px,#313e99 35.5px,#34449c 39.5px,#3b5baa 44.5px,#33419b 70.5px,#292e8c 77.5px,#292f8e 95.5px,#3a4fa2 97.5px,#3b56a7 159.5px,#2e3895 176.5px,#292f8e 199.5px,#3a4fa2 201.5px,#3b56a7 263.5px,#2e3895 280.5px,#292f8e 303.5px,#3a4fa2 305.5px,#3b61ad 363.5px,#71c6b8 364.5px,#9cc95b 367.5px,#cada3e 369.5px,#ffed05 371.5px,#fbaf3f 373.5px,#f15422 376.5px,#f5822d 377.5px,#f78b31 397.5px,#faaa3e 407.5px,#faaa3e 416px)"></i>
<i style="left:1479px;top:248px;width:416px;height:4px;background:linear-gradient(90deg,#3b74ba 0,#3a4da2 2.5px,#2a2f8f 5.5px,#313d98 18.5px,#3b67b1 29.5px,#3a8dce 34.5px,#35469d 35.5px,#3a52a4 40.5px,#3b61ad 45.5px,#32409a 71.5px,#292e8d 78.5px,#292f8e 95.5px,#3a4fa3 97.5px,#3b5eac 154.5px,#303b97 176.5px,#292e8d 186.5px,#2a2f8e 199.5px,#3a4fa3 201.5px,#3b5eac 258.5px,#303b97 280.5px,#292e8d 290.5px,#2a2f8e 303.5px,#3a4fa3 305.5px,#3b73ba 363.5px,#74c5ab 364.5px,#90c462 366.5px,#bdd548 368.5px,#f4ed0d 370.5px,#fedf13 371.5px,#fcc031 372.5px,#f9a13a 373.5px,#f26422 375.5px,#f04623 376.5px,#931c1d 377.5px,#961d1e 395.5px,#d42229 403.5px,#e31f26 408.5px,#e31f26 416px)"></i>
<i style="left:1479px;top:252px;width:416px;height:4px;background:linear-gradient(90deg,#3b74ba 0,#3a4da2 2.5px,#2a308f 5.5px,#303b97 17.5px,#3b63ae 27.5px,#36bded 32.5px,#3fbfe8 34.5px,#394ca1 35.5px,#3b56a7 40.5px,#3b6eb6 44.5px,#313f99 72.5px,#292f8e 79.5px,#2a2f8f 95.5px,#3a4fa3 97.5px,#3b6bb4 148.5px,#2f3b97 177.5px,#292e8d 189.5px,#2a2f8f 199.5px,#3a4fa3 201.5px,#3b6bb4 252.5px,#2f3b97 281.5px,#292e8d 293.5px,#2a2f8f 303.5px,#3a4fa3 305.5px,#3b73ba 339.5px,#389ad6 355.5px,#37abe2 362.5px,#37a7df 363.5px,#7dc48f 364.5px,#8dc469 365.5px,#d1dd36 368.5px,#eeea13 369.5px,#fee50d 370.5px,#faa73c 372.5px,#f04c23 375.5px,#ee2e23 376.5px,#8b1a1a 377.5px,#8e1b1b 395.5px,#d0232a 403.5px,#de2027 407.5px,#de2027 416px)"></i>
<i style="left:1479px;top:256px;width:416px;height:4px;background:linear-gradient(90deg,#3b74ba 0,#3a4da2 2.5px,#2a308f 5.5px,#313d98 17.5px,#3b64af 26.5px,#3a8dcd 28.5px,#36b2e7 29.5px,#64c7d4 32.5px,#6cc8cc 34.5px,#3a52a5 35.5px,#3b5eab 40.5px,#3a81c5 42.5px,#3a78bd 50.5px,#2f3996 74.5px,#2a308f 95.5px,#3a50a3 97.5px,#3b75bc 129.5px,#3a85c7 147.5px,#32419a 177.5px,#292f8e 188.5px,#2a3090 199.5px,#3a50a3 201.5px,#3b75bc 233.5px,#3a85c7 251.5px,#32419a 281.5px,#292f8e 292.5px,#2a3090 303.5px,#3a50a3 305.5px,#3b72b9 331.5px,#38beec 348.5px,#6cc8cc 361.5px,#6ac8d0 363.5px,#93c561 364.5px,#bfd647 366.5px,#f8ef09 368.5px,#fedb16 369.5px,#fcbc34 370.5px,#f99d39 371.5px,#f26022 373.5px,#ee2524 375.5px,#e01f27 376.5px,#8b1a1a 377.5px,#8e1b1b 395.5px,#d0232a 403.5px,#de2027 407.5px,#de2027 416px)"></i>
<i style="left:1479px;top:260px;width:416px;height:5px;background:linear-gradient(90deg,#3b74ba 0,#3a4da2 2.5px,#2a308f 5.5px,#2f3b97 16.5px,#3b63ae 25.5px,#3994d2 27.5px,#38beec 28.5px,#6cc8cc 30.5px,#79c49a 33.5px,#7ac497 34.5px,#3b59a9 35.5px,#3b5baa 39.5px,#3b6cb5 40.5px,#36b3e8 42.5px,#35baec 45.5px,#3b60ad 60.5px,#2a308f 83.5px,#2a3090 95.5px,#3a50a3 97.5px,#3b71b9 121.5px,#35bdee 141.5px,#37a9e1 151.5px,#3b5eac 165.5px,#2a3090 188.5px,#2a3090 199.5px,#3a50a3 201.5px,#3b71b9 225.5px,#35bdee 245.5px,#37a9e1 255.5px,#3b5eac 269.5px,#2a3090 292.5px,#2a3090 303.5px,#3a50a3 305.5px,#3b72b9 326.5px,#389bd7 333.5px,#3cbeea 338.5px,#6ec7c5 350.5px,#7ec48f 356.5px,#8ec465 360.5px,#8dc469 363.5px,#bdd548 364.5px,#f4ed0d 366.5px,#fedf13 367.5px,#fcc031 368.5px,#f9a13a 369.5px,#f26422 371.5px,#ee2924 373.5px,#d1232a 375.5px,#be262c 376.5px,#8b1a1a 377.5px,#8e1b1b 395.5px,#d0232a 403.5px,#de2027 407.5px,#de2027 416px)"></i>
<i style="left:1479px;top:265px;width:416px;height:4px;background:linear-gradient(90deg,#3b74ba 0,#3a4da2 2.5px,#2a308f 5.5px,#303c98 16.5px,#3b60ad 24.5px,#3a8dcd 26.5px,#38beec 27.5px,#6fc7bf 29.5px,#8ec467 32.5px,#97c75e 34.5px,#3b65af 35.5px,#3b68b2 39.5px,#3fbfe8 41.5px,#58c4db 42.5px,#57c4db 46.5px,#35baec 52.5px,#3a79be 58.5px,#3b55a6 66.5px,#2a308f 87.5px,#2a3090 95.5px,#3a50a3 97.5px,#3b72b9 117.5px,#38a0da 125.5px,#3cbeea 130.5px,#5fc5d7 142.5px,#45c0e5 153.5px,#36afe5 157.5px,#3b65af 165.5px,#2a3090 191.5px,#2a3190 199.5px,#3a50a3 201.5px,#3b72b9 221.5px,#38a0da 229.5px,#3cbeea 234.5px,#5fc5d7 246.5px,#45c0e5 257.5px,#36afe5 261.5px,#3b65af 269.5px,#2a3090 295.5px,#2b3191 303.5px,#3a50a3 305.5px,#3b74bb 323.5px,#38a0db 329.5px,#39beec 332.5px,#6dc7c6 340.5px,#85c47d 350.5px,#a3cb57 354.5px,#d4de33 358.5px,#edea15 361.5px,#e7e71d 363.5px,#fef101 364.5px,#fbb53b 366.5px,#ef3c23 370.5px,#ed1f24 371.5px,#b72529 374.5px,#8b1a1a 376.5px,#8e1b1b 395.5px,#d0232a 403.5px,#de2027 407.5px,#de2027 416px)"></i>
<i style="left:1479px;top:269px;width:416px;height:4px;background:linear-gradient(90deg,#3b74ba 0,#3a4da2 2.5px,#2a308f 5.5px,#313e98 16.5px,#3b65af 24.5px,#3a7fc3 25.5px,#36afe5 26.5px,#53c3dd 27.5px,#6ec7c2 28.5px,#8ac46f 30.5px,#adcf51 32.5px,#b9d34b 34.5px,#3a84c7 35.5px,#3a86c9 39.5px,#39beec 40.5px,#66c7d3 41.5px,#72c5b2 43.5px,#65c7d4 50.5px,#38beec 55.5px,#3b71b8 61.5px,#394da1 71.5px,#2a3090 91.5px,#2b3291 95.5px,#3a50a3 97.5px,#3b72b9 114.5px,#38a0da 121.5px,#3dbfea 125.5px,#6dc7c9 134.5px,#72c6b3 144.5px,#63c6d5 154.5px,#36b7ea 160.5px,#3b75bc 165.5px,#3b54a6 172.5px,#2a3191 195.5px,#2b3291 199.5px,#3b56a7 202.5px,#3b72b9 218.5px,#38a0da 225.5px,#3dbfea 229.5px,#6dc7c9 238.5px,#72c6b3 248.5px,#63c6d5 258.5px,#36b7ea 264.5px,#3b75bc 269.5px,#3b54a6 276.5px,#2b3191 299.5px,#2b3392 303.5px,#3b56a7 306.5px,#3b72b9 320.5px,#3996d3 325.5px,#35bced 328.5px,#6ec7c5 335.5px,#96c75f 346.5px,#c6d843 352.5px,#fef102 355.5px,#fbb13f 358.5px,#f68a31 361.5px,#f79134 363.5px,#faa73c 364.5px,#f04c23 367.5px,#e61e25 369.5px,#ad2226 372.5px,#8b1a1a 374.5px,#8e1b1b 395.5px,#d0232a 403.5px,#de2027 407.5px,#de2027 416px)"></i>
<i style="left:1479px;top:273px;width:416px;height:4px;background:linear-gradient(90deg,#3b74ba 0,#3a4da2 2.5px,#2a308f 5.5px,#2f3a96 15.5px,#3b5eac 23.5px,#3b6db5 24.5px,#3a8ccd 25.5px,#3dbfea 26.5px,#66c7d3 27.5px,#86c479 29.5px,#9ec95a 30.5px,#d2dd35 33.5px,#d5df31 34.5px,#35b9eb 35.5px,#35b9eb 39.5px,#59c4da 40.5px,#7cc493 42.5px,#81c486 44.5px,#5ec5d7 54.5px,#36b4e8 58.5px,#3b76bc 62.5px,#3b55a7 68.5px,#2b3291 91.5px,#2c3492 95.5px,#3b56a7 98.5px,#3b72b9 112.5px,#389bd7 118.5px,#35bdee 121.5px,#6dc7c7 129.5px,#80c489 141.5px,#7ac499 149.5px,#60c6d6 158.5px,#35bbed 162.5px,#3a7bc0 166.5px,#3b59a9 171.5px,#2c3392 196.5px,#2c3493 199.5px,#3b56a7 202.5px,#3b72b9 216.5px,#389bd7 222.5px,#35bdee 225.5px,#6dc7c7 233.5px,#80c489 245.5px,#7ac499 253.5px,#60c6d6 262.5px,#35bbed 266.5px,#3a7bc0 270.5px,#3b59a9 275.5px,#2c3392 300.5px,#2d3593 303.5px,#3b56a7 306.5px,#3b77bd 319.5px,#3997d4 323.5px,#37bded 326.5px,#6ec7c5 332.5px,#93c561 340.5px,#cddb3b 348.5px,#f5ed0c 351.5px,#feea08 352.5px,#fcba36 354.5px,#f5822e 356.5px,#f04b23 358.5px,#ed2324 360.5px,#ed2124 363.5px,#f26723 364.5px,#ee2b24 366.5px,#e41e26 367.5px,#aa2225 370.5px,#8b1a1a 372.5px,#8e1b1b 395.5px,#d0232a 403.5px,#de2027 407.5px,#de2027 416px)"></i>
<i style="left:1479px;top:277px;width:416px;height:4px;background:linear-gradient(90deg,#3b74ba 0,#3a4da2 2.5px,#2a308f 5.5px,#2f3a96 15.5px,#3b60ad 23.5px,#3b72b9 24.5px,#46c0e5 26.5px,#6cc7ca 27.5px,#8ec467 29.5px,#d6df31 32.5px,#e6e71d 34.5px,#4fc2e0 35.5px,#4fc2e0 39.5px,#6cc8cd 40.5px,#8ac470 42.5px,#91c562 44.5px,#67c7d2 55.5px,#35baec 59.5px,#3b76bc 63.5px,#3b55a6 69.5px,#2b3392 91.5px,#2d3593 95.5px,#3b59a9 99.5px,#3b73ba 111.5px,#3996d3 116.5px,#3cbeea 120.5px,#6ec7c2 127.5px,#8dc469 139.5px,#8cc46a 147.5px,#70c6bc 157.5px,#5fc5d7 160.5px,#39beec 163.5px,#3a7bc0 167.5px,#3b5dab 171.5px,#2c3493 195.5px,#2d3694 199.5px,#3b59a9 203.5px,#3b73ba 215.5px,#3996d4 220.5px,#3cbeea 224.5px,#6ec7c2 231.5px,#8dc469 243.5px,#8cc46a 251.5px,#70c6bc 261.5px,#5fc5d7 264.5px,#39beec 267.5px,#3a7bc0 271.5px,#3b5dab 275.5px,#2c3593 298.5px,#2d3794 303.5px,#3b5aa9 307.5px,#3a78be 318.5px,#37a9e1 323.5px,#3cbeea 325.5px,#6dc7c7 330.5px,#99c85d 338.5px,#d5df31 345.5px,#ffef03 349.5px,#fbb53b 352.5px,#ef3d23 356.5px,#ed1c24 357.5px,#b42428 361.5px,#ba252a 363.5px,#f04323 364.5px,#ee2524 365.5px,#a62023 369.5px,#901b1c 370.5px,#8e1b1b 395.5px,#d0232a 403.5px,#de2027 407.5px,#de2027 416px)"></i>
<i style="left:1479px;top:281px;width:416px;height:5px;background:linear-gradient(90deg,#3b74ba 0,#3a4da2 2.5px,#2a308f 5.5px,#2f3a96 15.5px,#3b60ad 23.5px,#3b72b9 24.5px,#46c0e5 26.5px,#6cc7ca 27.5px,#8ec467 29.5px,#d6df31 32.5px,#e6e71d 34.5px,#5fc5d7 35.5px,#5ec5d7 39.5px,#6dc7c6 40.5px,#90c462 42.5px,#9cc95b 44.5px,#89c471 48.5px,#65c7d3 56.5px,#36b3e7 60.5px,#3a7cc1 63.5px,#3b5cab 67.5px,#2c3492 90.5px,#2d3694 95.5px,#3b59a9 99.5px,#3b77bd 111.5px,#389fda 116.5px,#3bbeeb 119.5px,#6dc7c9 125.5px,#91c562 137.5px,#97c75f 147.5px,#86c479 152.5px,#5dc5d8 161.5px,#35bdee 164.5px,#3b76bc 168.5px,#3b55a6 174.5px,#2d3693 197.5px,#33439b 200.5px,#3b5dab 205.5px,#3b77bd 215.5px,#389fda 220.5px,#3bbeeb 223.5px,#6dc7c9 229.5px,#91c562 241.5px,#97c75f 251.5px,#86c479 256.5px,#5dc5d8 265.5px,#35bdee 268.5px,#3b76bc 272.5px,#3b55a6 278.5px,#2d3694 301.5px,#34439c 304.5px,#3b5eac 309.5px,#3b75bc 317.5px,#3996d4 321.5px,#39beec 324.5px,#6dc7c8 329.5px,#92c561 336.5px,#d5df32 343.5px,#fef201 347.5px,#fbb13f 351.5px,#ef3c23 355.5px,#eb1d25 356.5px,#aa2225 359.5px,#8f1b1b 362.5px,#961d1e 363.5px,#f04323 364.5px,#ee2524 365.5px,#a62023 369.5px,#901b1c 370.5px,#8e1b1b 395.5px,#d0232a 403.5px,#de2027 407.5px,#de2027 416px)"></i>
<i style="left:1479px;top:286px;width:416px;height:4px;background:linear-gradient(90deg,#3b74ba 0,#3a4da2 2.5px,#2a308f 5.5px,#2f3a96 15.5px,#3b5eac 23.5px,#3b6db5 24.5px,#3a8ccd 25.5px,#3dbfea 26.5px,#66c7d3 27.5px,#86c479 29.5px,#9ec95a 30.5px,#d2dd35 33.5px,#d5df31 34.5px,#5fc5d7 35.5px,#5ec5d7 39.5px,#6bc8cf 40.5px,#8cc469 42.5px,#9cc95c 44.5px,#8ac471 48.5px,#66c7d3 56.5px,#36b4e8 60.5px,#3a7cc1 63.5px,#3b5dab 67.5px,#2c3492 90.5px,#313e98 96.5px,#3b5baa 100.5px,#3b77bd 111.5px,#389fda 116.5px,#3bbeeb 119.5px,#6dc7c9 125.5px,#91c562 137.5px,#97c75f 147.5px,#86c479 152.5px,#5ec5d7 161.5px,#36bded 164.5px,#3a77bd 168.5px,#3b57a8 173.5px,#2d3693 197.5px,#313e99 200.5px,#3b5caa 204.5px,#3b77bd 215.5px,#389fda 220.5px,#3bbeeb 223.5px,#6dc7c9 229.5px,#91c562 241.5px,#97c75f 251.5px,#86c479 256.5px,#5ec5d7 265.5px,#36bded 268.5px,#3a77bd 272.5px,#3b57a8 277.5px,#2d3694 300.5px,#32409a 304.5px,#3b5dab 308.5px,#3b75bc 317.5px,#3996d4 321.5px,#39beec 324.5px,#6dc7c8 329.5px,#92c561 336.5px,#d5df32 343.5px,#fef201 347.5px,#fbb13f 351.5px,#ef3c23 355.5px,#eb1d25 356.5px,#aa2225 359.5px,#8f1b1b 362.5px,#961d1e 363.5px,#f26723 364.5px,#ee2b24 366.5px,#e41e26 367.5px,#aa2225 370.5px,#8b1a1a 372.5px,#8e1b1b 395.5px,#d0232a 403.5px,#de2027 407.5px,#de2027 416px)"></i>
<i style="left:1479px;top:290px;width:416px;height:4px;background:linear-gradient(90deg,#3b74ba 0,#3a4da2 2.5px,#2a308f 5.5px,#313e98 16.5px,#3b65af 24.5px,#3a7fc3 25.5px,#36afe5 26.5px,#53c3dd 27.5px,#6ec7c2 28.5px,#8ac46f 30.5px,#adcf51 32.5px,#b9d34b 34.5px,#4fc2e0 35.5px,#55c3dc 40.5px,#80c488 42.5px,#8cc46a 43.5px,#8ec467 45.5px,#5cc5d8 56.5px,#35bdee 59.5px,#3a78be 63.5px,#3b58a8 68.5px,#2b3392 91.5px,#2e3895 96.5px,#3b57a8 99.5px,#3b73ba 111.5px,#3996d3 116.5px,#3cbeea 120.5px,#6ec7c2 127.5px,#8dc469 139.5px,#8cc46a 147.5px,#70c6bb 157.5px,#60c6d6 160.5px,#36b3e7 164.5px,#3a7ec3 167.5px,#3b59a9 172.5px,#2c3593 196.5px,#2e3995 200.5px,#3b58a8 203.5px,#3b73ba 215.5px,#3996d4 220.5px,#3cbeea 224.5px,#6ec7c2 231.5px,#8dc469 243.5px,#8cc46a 251.5px,#70c6bb 261.5px,#60c6d6 264.5px,#36b3e7 268.5px,#3a7ec2 271.5px,#3b59a9 276.5px,#2c3593 300.5px,#2f3a96 304.5px,#3b58a8 307.5px,#3a78be 318.5px,#37a9e1 323.5px,#3cbeea 325.5px,#6dc7c7 330.5px,#99c85d 338.5px,#d5df31 345.5px,#ffef03 349.5px,#fbb53b 352.5px,#ef3d23 356.5px,#ed1c24 357.5px,#b42428 361.5px,#ba252a 363.5px,#faa73c 364.5px,#f04c23 367.5px,#e61e25 369.5px,#ad2226 372.5px,#8b1a1a 374.5px,#8e1b1b 395.5px,#d0232a 403.5px,#de2027 407.5px,#de2027 416px)"></i>
<i style="left:1479px;top:294px;width:416px;height:4px;background:linear-gradient(90deg,#3b74ba 0,#3a4da2 2.5px,#2a308f 5.5px,#303c98 16.5px,#3b60ad 24.5px,#3a8dcd 26.5px,#38beec 27.5px,#6fc7bf 29.5px,#8ec467 32.5px,#97c75e 34.5px,#35b9eb 35.5px,#36b7ea 40.5px,#59c4da 41.5px,#7bc496 43.5px,#7fc48d 45.5px,#60c6d6 54.5px,#35b9eb 58.5px,#3a7abf 62.5px,#3b59a9 67.5px,#2b3291 90.5px,#2c3593 96.5px,#3b56a7 99.5px,#3b72b9 112.5px,#389bd7 118.5px,#35bdee 121.5px,#6dc7c7 129.5px,#80c488 141.5px,#7ac498 149.5px,#62c6d5 158.5px,#38beed 162.5px,#3b75bb 167.5px,#3a53a5 174.5px,#2c3392 196.5px,#2d3593 200.5px,#3b56a7 203.5px,#3b72b9 216.5px,#389bd7 222.5px,#35bdee 225.5px,#6dc7c7 233.5px,#80c488 245.5px,#7ac498 253.5px,#62c6d5 262.5px,#38beed 266.5px,#3b75bb 271.5px,#3a53a5 278.5px,#2c3392 300.5px,#2d3694 304.5px,#3b57a8 307.5px,#3b77bd 319.5px,#3997d4 323.5px,#37bded 326.5px,#6ec7c5 332.5px,#93c561 340.5px,#cddb3b 348.5px,#f5ed0c 351.5px,#feea08 352.5px,#fcba36 354.5px,#f5822e 356.5px,#f04b23 358.5px,#ed2324 360.5px,#ed2124 363.5px,#fef101 364.5px,#fbb53b 366.5px,#ef3c23 370.5px,#ed1f24 371.5px,#b72529 374.5px,#8b1a1a 376.5px,#8e1b1b 395.5px,#d0232a 403.5px,#de2027 407.5px,#de2027 416px)"></i>
<i style="left:1479px;top:298px;width:416px;height:4px;background:linear-gradient(90deg,#3b74ba 0,#3a4da2 2.5px,#2a308f 5.5px,#2f3b97 16.5px,#3b63ae 25.5px,#3994d2 27.5px,#38beec 28.5px,#6cc8cc 30.5px,#79c49a 33.5px,#7ac497 34.5px,#3a84c7 35.5px,#3a83c6 40.5px,#37a9e0 41.5px,#56c4dc 42.5px,#6ec7c5 43.5px,#71c6b7 45.5px,#5fc5d7 51.5px,#35b8eb 56.5px,#3a7fc3 60.5px,#3b5aa9 66.5px,#2a3090 89.5px,#2b3291 96.5px,#3b54a6 99.5px,#3b72b9 114.5px,#38a0da 121.5px,#3dbfea 125.5px,#6dc7c9 134.5px,#72c5b3 144.5px,#64c7d4 154.5px,#35bdee 160.5px,#3b72b9 166.5px,#384ba0 177.5px,#2b3191 197.5px,#2c3392 200.5px,#3b55a6 203.5px,#3b72b9 218.5px,#38a0da 225.5px,#3dbfea 229.5px,#6dc7c9 238.5px,#72c5b3 248.5px,#64c7d4 258.5px,#35bdee 264.5px,#3b72b9 270.5px,#384ba0 281.5px,#2b3291 301.5px,#2c3492 304.5px,#3b55a6 307.5px,#3b72b9 320.5px,#3996d3 325.5px,#35bced 328.5px,#6ec7c5 335.5px,#96c75f 346.5px,#c6d843 352.5px,#fef102 355.5px,#fbb13f 358.5px,#f68a31 361.5px,#f79134 363.5px,#bdd548 364.5px,#f4ed0d 366.5px,#fedf13 367.5px,#fcc031 368.5px,#f9a13a 369.5px,#f26422 371.5px,#ee2924 373.5px,#d1232a 375.5px,#be262c 376.5px,#8b1a1a 377.5px,#8e1b1b 395.5px,#d0232a 403.5px,#de2027 407.5px,#de2027 416px)"></i>
<i style="left:1479px;top:302px;width:416px;height:4px;background:linear-gradient(90deg,#3b74ba 0,#3a4da2 2.5px,#2a308f 5.5px,#313d98 17.5px,#3b64af 26.5px,#3a8dcd 28.5px,#36b2e7 29.5px,#64c7d4 32.5px,#6cc8cc 34.5px,#3b65af 35.5px,#3b65af 40.5px,#3b70b7 41.5px,#389ed9 42.5px,#45c0e5 43.5px,#5ac5d9 45.5px,#35bdee 52.5px,#3b6fb7 60.5px,#2b3291 82.5px,#2a3090 96.5px,#3b57a7 100.5px,#3b72b9 117.5px,#38a0da 125.5px,#3cbeea 130.5px,#5fc5d7 142.5px,#46c0e4 153.5px,#36b4e8 157.5px,#3b6ab3 165.5px,#2b3191 189.5px,#2a3090 200.5px,#3b57a8 204.5px,#3b72b9 221.5px,#38a0da 229.5px,#3cbeea 234.5px,#5fc5d7 246.5px,#46c0e4 257.5px,#36b4e8 261.5px,#3b6ab3 269.5px,#2b3191 293.5px,#2b3191 304.5px,#3b57a8 308.5px,#3b74bb 323.5px,#38a0db 329.5px,#39beec 332.5px,#6dc7c6 340.5px,#85c47d 350.5px,#a3cb57 354.5px,#d4de33 358.5px,#edea15 361.5px,#e7e71d 363.5px,#93c561 364.5px,#bfd647 366.5px,#f8ef09 368.5px,#fedb16 369.5px,#fcbc34 370.5px,#f99d39 371.5px,#f26022 373.5px,#ee2524 375.5px,#e01f27 376.5px,#8b1a1a 377.5px,#8e1b1b 395.5px,#d0232a 403.5px,#de2027 407.5px,#de2027 416px)"></i>
<i style="left:1479px;top:306px;width:416px;height:5px;background:linear-gradient(90deg,#3b74ba 0,#3a4da2 2.5px,#2a308f 5.5px,#303b97 17.5px,#3b63ae 27.5px,#36bded 32.5px,#3fbfe8 34.5px,#3b59a9 35.5px,#3b5aaa 41.5px,#3b69b2 42.5px,#37ace3 44.5px,#36b5e9 46.5px,#3b60ad 61.5px,#2a308f 83.5px,#2a3090 97.5px,#3a50a3 99.5px,#3b75bb 122.5px,#35bdee 141.5px,#37abe2 151.5px,#3b5fac 166.5px,#2a3090 188.5px,#2a3190 201.5px,#3a50a3 203.5px,#3b75bb 226.5px,#35bdee 245.5px,#37abe2 255.5px,#3b5fac 270.5px,#2a3090 292.5px,#2b3191 305.5px,#3a50a4 307.5px,#3b72b9 326.5px,#389bd7 333.5px,#3cbeea 338.5px,#6ec7c5 350.5px,#7ec48f 356.5px,#8ec465 360.5px,#8dc469 363.5px,#7dc48f 364.5px,#8dc469 365.5px,#d1dd36 368.5px,#eeea14 369.5px,#fee50d 370.5px,#faa73c 372.5px,#f04c23 375.5px,#ee2e23 376.5px,#8b1a1a 377.5px,#8e1b1b 395.5px,#d0232a 403.5px,#de2027 407.5px,#de2027 416px)"></i>
<i style="left:1479px;top:311px;width:416px;height:4px;background:linear-gradient(90deg,#3b74ba 0,#3a4da2 2.5px,#2a2f8f 5.5px,#313d98 18.5px,#3b67b1 29.5px,#3a8dce 34.5px,#3a52a5 35.5px,#3b58a9 42.5px,#3a82c5 45.5px,#313d98 75.5px,#292f8e 83.5px,#292f8e 97.5px,#3a53a5 100.5px,#3b75bc 129.5px,#3a85c8 147.5px,#323f99 179.5px,#2a2f8f 187.5px,#292f8e 201.5px,#3a53a5 204.5px,#3b75bc 233.5px,#3a85c8 251.5px,#323f99 283.5px,#2a2f8f 291.5px,#292f8e 305.5px,#3b54a6 308.5px,#3b72b9 331.5px,#38beec 348.5px,#6cc8cc 361.5px,#6ac8d0 363.5px,#8fc463 366.5px,#d6df30 369.5px,#f3ed0e 370.5px,#fee012 371.5px,#fcc130 372.5px,#f9a23a 373.5px,#f26522 375.5px,#f04723 376.5px,#941c1d 377.5px,#961d1e 395.5px,#d52229 403.5px,#e31e26 408.5px,#e31e26 416px)"></i>
<i style="left:1479px;top:315px;width:416px;height:4px;background:linear-gradient(90deg,#3b74ba 0,#3a4da2 2.5px,#2a2f8f 5.5px,#2f3b97 18.5px,#3b70b7 34.5px,#394ca1 35.5px,#3a51a4 42.5px,#3b6bb4 46.5px,#2f3a96 75.5px,#292e8c 87.5px,#292e8d 97.5px,#3a52a4 100.5px,#3b6bb4 149.5px,#303b97 179.5px,#292e8d 188.5px,#292e8d 201.5px,#3a52a4 204.5px,#3b6bb4 253.5px,#303b97 283.5px,#292e8d 292.5px,#292e8d 305.5px,#3a52a4 308.5px,#3b73ba 339.5px,#389ad6 355.5px,#37abe2 362.5px,#37a7df 363.5px,#6fc6bd 364.5px,#98c75e 367.5px,#c4d744 369.5px,#fef101 371.5px,#fbb53b 373.5px,#f15a22 376.5px,#f89334 377.5px,#f99c38 397.5px,#fbb739 404.5px,#fcbc35 416px)"></i>
<i style="left:1479px;top:319px;width:416px;height:4px;background:linear-gradient(90deg,#3b74ba 0,#3a4da2 2.5px,#2a2f8f 5.5px,#303d98 19.5px,#3b61ae 34.5px,#35469d 35.5px,#37499f 42.5px,#3b60ad 47.5px,#313d98 74.5px,#292e8c 82.5px,#2a2f8f 98.5px,#3a50a3 100.5px,#3b5eac 155.5px,#313e99 178.5px,#292e8d 185.5px,#2a308f 202.5px,#3a50a3 204.5px,#3b5eac 259.5px,#313e99 282.5px,#292e8d 289.5px,#2a308f 306.5px,#3a50a3 308.5px,#3b73ba 363.5px,#5cc5d8 364.5px,#82c483 367.5px,#93c561 368.5px,#c0d647 370.5px,#f8ef09 372.5px,#fedb16 373.5px,#fcbc34 374.5px,#f99d38 375.5px,#f57f2c 376.5px,#f99b38 377.5px,#faa43b 397.5px,#fcbb35 403.5px,#fcc32d 416px)"></i>
<i style="left:1479px;top:323px;width:416px;height:4px;background:linear-gradient(90deg,#3b74ba 0,#3a4da2 2.5px,#2a2f8f 5.5px,#303b97 19.5px,#3b5baa 34.5px,#313e99 35.5px,#32419a 42.5px,#3b5aaa 46.5px,#32419a 73.5px,#292d8c 81.5px,#292d8c 98.5px,#394da1 100.5px,#3b58a8 159.5px,#303c97 178.5px,#292d8c 187.5px,#292d8c 202.5px,#394da1 204.5px,#3b58a8 263.5px,#303c97 282.5px,#292d8c 291.5px,#292d8c 306.5px,#3a4da2 308.5px,#3b61ad 363.5px,#3dbfe9 366.5px,#6dc7c6 368.5px,#90c562 371.5px,#bdd548 373.5px,#f5ed0c 375.5px,#fede13 376.5px,#ed1f24 377.5px,#ed2224 395.5px,#f57f2d 406.5px,#f57f2d 416px)"></i>
<i style="left:1479px;top:327px;width:416px;height:4px;background:linear-gradient(90deg,#3b74ba 0,#3a4da2 2.5px,#2a2f8f 5.5px,#2f3a96 19.5px,#3b58a8 34.5px,#2c3493 35.5px,#2c3492 42.5px,#3b55a6 45.5px,#35459d 71.5px,#292d8b 81.5px,#292d8b 98.5px,#3a51a4 101.5px,#3a50a3 168.5px,#292d8b 186.5px,#292d8b 202.5px,#3a51a4 205.5px,#3a50a3 272.5px,#292d8b 290.5px,#292d8b 306.5px,#3a51a4 309.5px,#3b5baa 363.5px,#3b55a7 365.5px,#3b70b8 368.5px,#3a85c8 369.5px,#37abe2 370.5px,#44c0e6 371.5px,#6fc7bf 373.5px,#96c75f 376.5px,#7ac497 377.5px,#78c49c 396.5px,#70c6ba 408.5px,#70c6ba 416px)"></i>
<i style="left:1479px;top:331px;width:416px;height:5px;background:linear-gradient(90deg,#3b74ba 0,#3a4da2 2.5px,#2a2f8f 5.5px,#303c98 20.5px,#3b56a7 34.5px,#2a2f8f 35.5px,#2a2f8f 42.5px,#3a52a5 45.5px,#36479e 70.5px,#282d8b 81.5px,#2a3090 99.5px,#3a50a3 101.5px,#3a4ea2 169.5px,#282d8b 186.5px,#2a3090 203.5px,#3a50a3 205.5px,#3a4ea2 273.5px,#282d8b 290.5px,#2a3090 307.5px,#3a50a3 309.5px,#3b58a8 363.5px,#33429b 364.5px,#3b66b0 370.5px,#3995d3 372.5px,#35bdee 373.5px,#6bc8cf 375.5px,#72c5b3 376.5px,#3b70b8 377.5px,#3b6fb7 416px)"></i>
<i style="left:1479px;top:336px;width:416px;height:4px;background:linear-gradient(90deg,#3b74ba 0,#3a4da2 2.5px,#2a2f8f 5.5px,#303c97 20.5px,#3b55a6 34.5px,#292e8d 35.5px,#2a3190 43.5px,#3a50a3 45.5px,#37489f 69.5px,#282d8b 81.5px,#292e8c 99.5px,#3a4ea2 101.5px,#3a4ea2 169.5px,#282d8b 186.5px,#292e8c 203.5px,#3a4ea2 205.5px,#3a4ea2 273.5px,#282d8b 290.5px,#292e8c 307.5px,#3a4ea2 309.5px,#3b55a7 365.5px,#3b70b8 368.5px,#3a85c8 369.5px,#37aae1 370.5px,#44c0e6 371.5px,#6fc7c0 373.5px,#96c65f 376.5px,#ffed05 377.5px,#f6ee0a 397.5px,#c6d843 406.5px,#c6d843 416px)"></i>
<i style="left:1479px;top:340px;width:416px;height:4px;background:linear-gradient(90deg,#3b74ba 0,#3a4da2 2.5px,#2a2f8f 5.5px,#303b97 20.5px,#3b54a6 34.5px,#292d8c 35.5px,#292e8c 43.5px,#3a4ea2 45.5px,#394ca1 67.5px,#282d8a 82.5px,#282d8a 99.5px,#3a51a4 102.5px,#394ca1 171.5px,#282d8a 186.5px,#282d8a 203.5px,#3a51a4 206.5px,#394ca1 275.5px,#282d8a 290.5px,#282d8a 307.5px,#3a51a4 310.5px,#3b55a7 363.5px,#3cbeea 366.5px,#6dc7c8 368.5px,#8fc463 371.5px,#d6df30 374.5px,#f3ec0e 375.5px,#fee012 376.5px,#cf232a 377.5px,#d72229 396.5px,#ed1d24 400.5px,#f04e23 406.5px,#f04e23 416px)"></i>
<i style="left:1479px;top:344px;width:416px;height:4px;background:linear-gradient(90deg,#3b74ba 0,#3a4da2 2.5px,#2a2f8f 5.5px,#2f3b97 20.5px,#3b54a6 34.5px,#292d8b 35.5px,#282d8b 43.5px,#3a51a4 46.5px,#34449c 72.5px,#282d8a 81.5px,#282d8a 99.5px,#3a50a3 102.5px,#394ca1 171.5px,#282d8a 186.5px,#282d8a 203.5px,#3a50a3 206.5px,#394ca1 275.5px,#282d8a 290.5px,#282d8a 307.5px,#3a50a4 310.5px,#3b55a6 363.5px,#58c4db 364.5px,#74c5ac 366.5px,#8fc463 368.5px,#d6df30 371.5px,#f3ed0e 372.5px,#fee012 373.5px,#fcc130 374.5px,#f9a23a 375.5px,#f6832e 376.5px,#f5ed0c 377.5px,#edea15 416px)"></i>
<i style="left:1479px;top:348px;width:416px;height:4px;background:linear-gradient(90deg,#3b74ba 0,#3a4da2 2.5px,#2a2f8f 5.5px,#2f3b97 20.5px,#3b54a6 34.5px,#282d8b 35.5px,#2b3392 44.5px,#3a50a3 46.5px,#35469d 71.5px,#282d8a 81.5px,#2a2f8f 100.5px,#3a4fa3 102.5px,#394ca1 171.5px,#282d8a 186.5px,#2a2f8f 204.5px,#3a4fa3 206.5px,#394ca1 275.5px,#282d8a 290.5px,#2a2f8f 308.5px,#3a4fa3 310.5px,#3b55a6 363.5px,#6dc7c8 364.5px,#8fc463 367.5px,#d6df30 370.5px,#f3ed0e 371.5px,#fee012 372.5px,#fcc130 373.5px,#f9a23a 374.5px,#f26522 376.5px,#eb1c24 377.5px,#ed2324 396.5px,#f26622 406.5px,#f26622 416px)"></i>
<i style="left:1479px;top:352px;width:416px;height:9px;background:linear-gradient(90deg,#3b74ba 0,#3a4da2 2.5px,#2a2f8f 5.5px,#2f3b96 20.5px,#3a53a5 34.5px,#282d8a 35.5px,#292e8d 44.5px,#3a4ea2 46.5px,#36489e 70.5px,#282d8a 83.5px,#292d8b 100.5px,#394da1 102.5px,#3a4ea2 170.5px,#282d8a 187.5px,#292d8b 204.5px,#394da1 206.5px,#3a4ea2 274.5px,#282d8a 291.5px,#292d8b 308.5px,#394da1 310.5px,#3b55a6 363.5px,#6ec7c2 364.5px,#94c660 367.5px,#c1d646 369.5px,#f9ef07 371.5px,#fcbb36 373.5px,#f57d2c 375.5px,#f25f22 376.5px,#8c1a1a 377.5px,#8f1b1b 395.5px,#d0232a 403.5px,#df2027 407.5px,#df2027 416px)"></i>
<i style="left:1479px;top:361px;width:416px;height:4px;background:linear-gradient(90deg,#3b74ba 0,#3a4da2 2.5px,#2a2f8f 5.5px,#2f3a96 20.5px,#3a53a5 34.5px,#282d8a 35.5px,#282d8a 44.5px,#3a51a4 47.5px,#34439c 73.5px,#282d8a 82.5px,#282d8a 100.5px,#3a51a4 103.5px,#394ba1 172.5px,#282d8a 187.5px,#282d8a 204.5px,#3a51a4 207.5px,#394ba1 276.5px,#282d8a 291.5px,#282d8a 308.5px,#3a51a4 311.5px,#3b55a6 363.5px,#6ec7c2 364.5px,#94c660 367.5px,#c1d646 369.5px,#f9ef07 371.5px,#fcba36 373.5px,#f57d2c 375.5px,#f25f22 376.5px,#8b1a1a 377.5px,#8e1b1b 395.5px,#d0232a 403.5px,#de2027 407.5px,#de2027 416px)"></i>
<i style="left:1479px;top:365px;width:416px;height:8px;background:linear-gradient(90deg,#3b74ba 0,#3a4da2 2.5px,#2a2f8f 5.5px,#2f3a96 20.5px,#3a53a5 34.5px,#282d8a 35.5px,#282d8a 44.5px,#3a50a3 47.5px,#35469d 72.5px,#282d8a 82.5px,#2b3191 101.5px,#3a50a3 103.5px,#394ca1 172.5px,#282d8a 187.5px,#2b3191 205.5px,#3a50a3 207.5px,#394ca1 276.5px,#282d8a 291.5px,#2b3191 309.5px,#3a50a3 311.5px,#3b55a6 363.5px,#6ec7c2 364.5px,#94c660 367.5px,#c1d646 369.5px,#f9ef07 371.5px,#fcba36 373.5px,#f57d2c 375.5px,#f25f22 376.5px,#8b1a1a 377.5px,#8e1b1b 395.5px,#d0232a 403.5px,#de2027 407.5px,#de2027 416px)"></i>
<i style="left:1479px;top:373px;width:416px;height:50px;background:linear-gradient(90deg,#3b74ba 0,#3a4da2 2.5px,#2a2f8f 5.5px,#2f3a96 20.5px,#3a53a5 34.5px,#282d8a 35.5px,#292f8e 45.5px,#3a4ea2 47.5px,#36489e 71.5px,#282d8a 83.5px,#292d8c 101.5px,#394da2 103.5px,#394ca1 172.5px,#282d8a 188.5px,#292d8c 205.5px,#394da2 207.5px,#394ca1 276.5px,#282d8a 292.5px,#292d8c 309.5px,#394da2 311.5px,#3b55a6 363.5px,#6ec7c2 364.5px,#94c660 367.5px,#c1d646 369.5px,#f9ef07 371.5px,#fcba36 373.5px,#f57d2c 375.5px,#f25f22 376.5px,#8b1a1a 377.5px,#8e1b1b 395.5px,#d0232a 403.5px,#de2027 407.5px,#de2027 416px)"></i>
<i style="left:1479px;top:423px;width:416px;height:4px;background:linear-gradient(90deg,#3b74ba 0,#3a4da2 2.5px,#2a2f8f 5.5px,#2f3a96 20.5px,#3a53a5 34.5px,#282d8a 35.5px,#282d8a 44.5px,#3a51a4 47.5px,#35459d 72.5px,#282d8a 82.5px,#2b3392 101.5px,#3a50a3 103.5px,#394ca1 172.5px,#282d8a 187.5px,#2b3392 205.5px,#3a50a3 207.5px,#394ca1 276.5px,#282d8a 291.5px,#2b3392 309.5px,#3a50a3 311.5px,#3b55a6 363.5px,#6ec7c2 364.5px,#94c660 367.5px,#c1d646 369.5px,#f9ef07 371.5px,#fcba36 373.5px,#f57d2c 375.5px,#f25f22 376.5px,#8b1a1a 377.5px,#8e1b1b 395.5px,#d0232a 403.5px,#de2027 407.5px,#de2027 416px)"></i>
<i style="left:1479px;top:427px;width:416px;height:4px;background:linear-gradient(90deg,#3b74ba 0,#3a4da2 2.5px,#2a2f8f 5.5px,#2f3a96 20.5px,#3a53a5 34.5px,#282d8a 35.5px,#282d8a 44.5px,#3a51a4 47.5px,#34439c 73.5px,#282d8a 82.5px,#282d8a 100.5px,#3a51a4 103.5px,#394ba1 172.5px,#282d8a 187.5px,#282d8a 204.5px,#3a51a4 207.5px,#394ba1 276.5px,#282d8a 291.5px,#282d8a 308.5px,#3a51a4 311.5px,#3b55a6 363.5px,#6ec7c2 364.5px,#94c660 367.5px,#c1d646 369.5px,#f9ef07 371.5px,#fcba36 373.5px,#f57d2c 375.5px,#f25f22 376.5px,#8b1a1a 377.5px,#8e1b1b 395.5px,#d0232a 403.5px,#de2027 407.5px,#de2027 416px)"></i>
<i style="left:1479px;top:431px;width:416px;height:9px;background:linear-gradient(90deg,#3b74ba 0,#3a4da2 2.5px,#2a2f8f 5.5px,#2f3a96 20.5px,#3a53a5 34.5px,#282d8a 35.5px,#292e8c 44.5px,#3a4ea2 46.5px,#374a9f 69.5px,#282d8a 83.5px,#292d8b 100.5px,#3a52a4 103.5px,#384ba0 172.5px,#282d8a 187.5px,#292d8b 204.5px,#3a52a4 207.5px,#384ba0 276.5px,#282d8a 291.5px,#292d8b 308.5px,#3a52a4 311.5px,#3b55a6 363.5px,#6ec7c2 364.5px,#94c660 367.5px,#c1d646 369.5px,#f9ef07 371.5px,#fcba36 373.5px,#f57d2c 375.5px,#f25f22 376.5px,#8b1a1a 377.5px,#8e1b1b 395.5px,#d0232a 403.5px,#de2027 407.5px,#de2027 416px)"></i>
<i style="left:1479px;top:440px;width:416px;height:4px;background:linear-gradient(90deg,#3b74ba 0,#3a4da2 2.5px,#2a2f8f 5.5px,#2f3b96 20.5px,#3a53a5 34.5px,#282d8a 35.5px,#2b3191 44.5px,#3a50a3 46.5px,#35469d 71.5px,#282d8a 81.5px,#2a2f8f 100.5px,#3a4fa3 102.5px,#394ca1 171.5px,#282d8a 186.5px,#2a2f8f 204.5px,#3a4fa3 206.5px,#394ca1 275.5px,#282d8a 290.5px,#2a2f8f 308.5px,#3a4fa3 310.5px,#3b55a6 363.5px,#6fc7c1 364.5px,#95c660 367.5px,#c1d646 369.5px,#faf006 371.5px,#fcb937 373.5px,#f15e22 376.5px,#8b1a1a 377.5px,#8e1b1b 395.5px,#d0232a 403.5px,#de2027 407.5px,#de2027 416px)"></i>
<i style="left:1479px;top:444px;width:416px;height:4px;background:linear-gradient(90deg,#3b74ba 0,#3a4da2 2.5px,#2a2f8f 5.5px,#2f3b97 20.5px,#3b54a6 34.5px,#282d8a 35.5px,#282d8a 43.5px,#3a51a4 46.5px,#34449c 72.5px,#282d8a 81.5px,#2c3492 100.5px,#3a50a3 102.5px,#394ca1 171.5px,#282d8a 186.5px,#2c3492 204.5px,#3a50a3 206.5px,#394ca1 275.5px,#282d8a 290.5px,#2c3492 308.5px,#3a50a3 310.5px,#3b55a6 363.5px,#70c6bd 364.5px,#98c75e 367.5px,#c5d844 369.5px,#fef201 371.5px,#fbb53b 373.5px,#f15922 376.5px,#bc262b 377.5px,#be262c 395.5px,#ed1c24 402.5px,#ef3d23 406.5px,#ef3d23 416px)"></i>
<i style="left:1479px;top:448px;width:416px;height:4px;background:linear-gradient(90deg,#3b74ba 0,#3a4da2 2.5px,#2a2f8f 5.5px,#2f3a96 19.5px,#3b57a8 34.5px,#282d8a 35.5px,#2d3694 47.5px,#292f8e 102.5px,#2f3996 113.5px,#292e8c 166.5px,#292f8e 206.5px,#2f3996 217.5px,#292e8c 270.5px,#292f8e 310.5px,#2f3996 321.5px,#2f3a96 363.5px,#292e8c 364.5px,#3b55a7 369.5px,#3b70b8 372.5px,#3a85c8 373.5px,#37aae1 374.5px,#44c0e6 375.5px,#5fc6d7 376.5px,#3b55a7 377.5px,#3a53a5 416px)"></i>
<i style="left:1479px;top:452px;width:416px;height:4px;background:linear-gradient(90deg,#3b74ba 0,#3a4da2 2.5px,#2a2f8f 5.5px,#2f3b96 18.5px,#3b6bb4 34.5px,#282d8a 35.5px,#292d8b 43.5px,#394da1 45.5px,#36479e 69.5px,#282d8a 81.5px,#282d8a 99.5px,#3a51a4 102.5px,#384ba0 170.5px,#282d8a 184.5px,#282d8a 203.5px,#3a51a4 206.5px,#384ba0 274.5px,#282d8a 288.5px,#282d8a 307.5px,#3a51a4 310.5px,#3b54a6 363.5px,#7cc493 364.5px,#8bc46c 365.5px,#cfdc39 368.5px,#ece917 369.5px,#fee80a 370.5px,#faaa3d 372.5px,#f04f23 375.5px,#ee3123 376.5px,#bad44a 377.5px,#b4d14e 396.5px,#8bc46e 407.5px,#8bc46e 416px)"></i>
<i style="left:1479px;top:456px;width:416px;height:5px;background:linear-gradient(90deg,#3b74ba 0,#3a4da2 2.5px,#2a308f 5.5px,#303c97 17.5px,#3b66b0 27.5px,#3a89cb 29.5px,#37bded 31.5px,#4cc2e1 34.5px,#292f8e 35.5px,#2a3191 42.5px,#3b54a6 45.5px,#3a53a5 69.5px,#2b3392 98.5px,#3b56a7 102.5px,#3b5caa 161.5px,#2f3a96 180.5px,#292e8c 191.5px,#2a3090 203.5px,#3a50a3 205.5px,#3b5eab 263.5px,#2f3a96 284.5px,#292e8c 295.5px,#2b3191 307.5px,#3a50a3 309.5px,#3b5fac 363.5px,#b8d34b 364.5px,#eeea14 366.5px,#fee50d 367.5px,#faa73c 369.5px,#f04c23 372.5px,#e61e25 374.5px,#c2272d 376.5px,#921c1d 377.5px,#951c1e 395.5px,#d52229 403.5px,#e41e26 407.5px,#e41e26 416px)"></i>
<i style="left:1479px;top:461px;width:416px;height:4px;background:linear-gradient(90deg,#3b74ba 0,#3a4da2 2.5px,#2a308f 5.5px,#2f3a96 16.5px,#3b69b2 26.5px,#3cbeea 29.5px,#67c7d2 31.5px,#70c6ba 34.5px,#2d3694 35.5px,#394ca1 43.5px,#3b6bb4 49.5px,#3a80c4 62.5px,#3a53a5 81.5px,#384aa0 99.5px,#3b5dab 104.5px,#3b6ab3 127.5px,#36b6e9 148.5px,#389ed9 157.5px,#3b5dab 169.5px,#2a2f8f 191.5px,#292e8d 202.5px,#3a52a4 205.5px,#3b70b8 233.5px,#36b5e9 251.5px,#37a4dd 260.5px,#3b5dab 273.5px,#2a308f 295.5px,#292f8e 306.5px,#3a53a5 309.5px,#3b71b8 331.5px,#36b6ea 349.5px,#37a5de 359.5px,#3990d0 363.5px,#b8d34b 364.5px,#eeea14 366.5px,#fee50d 367.5px,#faa73c 369.5px,#f04c23 372.5px,#e61e25 374.5px,#c2272d 376.5px,#8b1a1a 377.5px,#8e1b1b 395.5px,#d0232a 403.5px,#de2027 407.5px,#de2027 416px)"></i>
<i style="left:1479px;top:465px;width:416px;height:4px;background:linear-gradient(90deg,#3b74ba 0,#3a4da2 2.5px,#2a308f 5.5px,#303c97 17.5px,#3b66b0 27.5px,#3a89cb 29.5px,#37bded 31.5px,#4cc2e1 34.5px,#2b3291 35.5px,#32419a 42.5px,#3b61ad 47.5px,#3b67b1 63.5px,#33429b 98.5px,#3b5baa 103.5px,#3b6bb4 132.5px,#3a88ca 150.5px,#313d98 181.5px,#292e8c 197.5px,#292e8c 202.5px,#3a4da2 204.5px,#3b73ba 239.5px,#3a86c9 256.5px,#313d98 285.5px,#292e8d 301.5px,#292e8d 306.5px,#3a4ea2 308.5px,#3b74ba 337.5px,#3a88ca 354.5px,#3a79be 363.5px,#90c463 364.5px,#d6df30 367.5px,#f3ed0e 368.5px,#fedf12 369.5px,#fcc030 370.5px,#f9a23a 371.5px,#f26522 373.5px,#ee2924 375.5px,#e31e26 376.5px,#8b1a1a 377.5px,#8e1b1b 395.5px,#d0232a 403.5px,#de2027 407.5px,#de2027 416px)"></i>
<i style="left:602px;top:672px;width:1245px;height:88px;background:linear-gradient(90deg,#32409a 0,#303c98 25.5px,#2a3190 58.5px,#33439b 94.5px,#313e99 140.5px,#384ba0 164.5px,#3b58a8 173.5px,#3b65af 176.5px,#3a7ec2 178.5px,#3993d2 179.5px,#36b4e8 180.5px,#48c1e3 181.5px,#64c7d4 182.5px,#71c6b9 183.5px,#7cc493 184.5px,#8fc463 185.5px,#afcf51 186.5px,#d3de33 187.5px,#ffee04 188.5px,#fcc32e 189.5px,#faa83d 190.5px,#f36f26 192.5px,#ef3223 194.5px,#e71d25 195.5px,#be262c 197.5px,#b9252a 198.5px,#c9252b 200.5px,#ea1d25 205.5px,#ed2224 206.5px,#ef3923 208.5px,#f26723 211.5px,#fbaf40 216.5px,#fff200 221.5px,#f3ed0e 222.5px,#eeea13 223.5px,#f8ef08 224.5px,#ffef03 225.5px,#fbb73a 230.5px,#faab3e 231.5px,#f26222 237.5px,#ed2224 242.5px,#e91d25 243.5px,#e11f27 244.5px,#e91d25 245.5px,#ee2424 246.5px,#f25f22 250.5px,#f36d25 251.5px,#f68730 252.5px,#fbb739 253.5px,#fee40d 254.5px,#e4e61f 255.5px,#c1d646 256.5px,#8ec467 258.5px,#77c4a0 260.5px,#6dc7c6 262.5px,#64c6d4 263.5px,#43c0e6 265.5px,#37bded 266.5px,#3a8ccc 270.5px,#3b67b1 276.5px,#3b56a7 289.5px,#37499f 304.5px,#313e99 310.5px,#292f8e 316.5px,#292e8d 321.5px,#313e99 329.5px,#36479e 337.5px,#3a51a4 353.5px,#33429b 372.5px,#292f8e 379.5px,#282b88 383.5px,#2a2f8f 386.5px,#3a4ea2 391.5px,#3b59a9 394.5px,#3b6cb4 396.5px,#3a7fc3 397.5px,#3898d5 398.5px,#35bced 399.5px,#6bc8cf 401.5px,#73c5ae 402.5px,#83c482 403.5px,#9cc95c 404.5px,#bed548 405.5px,#ebe918 406.5px,#fdd021 407.5px,#f89435 408.5px,#f15422 409.5px,#ee2424 410.5px,#d62229 411.5px,#b72529 412.5px,#911b1c 413.5px,#8b1a1a 414.5px,#8b1a1a 421.5px,#8e1b1b 422.5px,#cc242b 423.5px,#ef3523 424.5px,#f57f2c 425.5px,#fcc32e 426.5px,#f1eb11 427.5px,#bed548 428.5px,#7cc493 429.5px,#56c4dc 430.5px,#3991d0 431.5px,#3b61ad 432.5px,#384ba0 433.5px,#2f3a96 434.5px,#303c97 435.5px,#3a50a3 437.5px,#3b6ab3 439.5px,#3a82c5 440.5px,#36b2e6 441.5px,#51c3df 442.5px,#6cc8cd 445.5px,#3fbfe9 448.5px,#36b6e9 449.5px,#3a81c5 450.5px,#3b61ae 451.5px,#3b57a8 452.5px,#3a52a4 453.5px,#35459d 454.5px,#2a3090 455.5px,#292e8d 456.5px,#2d3794 457.5px,#3b56a7 459.5px,#3a7abf 460.5px,#36afe5 461.5px,#62c6d5 462.5px,#7bc494 463.5px,#b0d050 464.5px,#e6e71e 465.5px,#fff002 466.5px,#fbb23e 468.5px,#f37026 470.5px,#ee2924 472.5px,#ef3323 473.5px,#f26322 476.5px,#faab3e 480.5px,#fcbd33 481.5px,#fff101 484.5px,#c5d844 488.5px,#92c561 493.5px,#74c5aa 498.5px,#68c7d1 502.5px,#44c0e6 504.5px,#36b6ea 505.5px,#3a85c8 507.5px,#3b65af 510.5px,#384ba0 518.5px,#35459d 520.5px,#2a308f 521.5px,#272b88 523.5px,#292e8d 525.5px,#313f99 526.5px,#374a9f 528.5px,#3b65af 536.5px,#3a8bcc 539.5px,#37a7df 540.5px,#36b8ea 541.5px,#3bbeeb 542.5px,#6cc8cc 547.5px,#7ac499 551.5px,#87c476 553.5px,#8fc463 556.5px,#c1d646 568.5px,#8fc463 578.5px,#80c489 583.5px,#71c6b8 586.5px,#6ac8d1 588.5px,#3dbfea 592.5px,#35b9eb 593.5px,#389cd8 595.5px,#3b74bb 597.5px,#3b65af 598.5px,#3b57a8 601.5px,#33429b 607.5px,#2a3090 609.5px,#282b88 612.5px,#2a2f8f 614.5px,#33429b 616.5px,#3a52a4 620.5px,#3b60ad 624.5px,#3b76bc 627.5px,#3a88ca 629.5px,#36b0e5 631.5px,#3abeeb 632.5px,#6ac8d0 635.5px,#6fc7c0 636.5px,#77c49f 639.5px,#91c562 643.5px,#b0d050 646.5px,#c8d940 656.5px,#aace54 666.5px,#8fc463 669.5px,#77c49e 673.5px,#6bc8d0 678.5px,#61c6d6 679.5px,#41bfe7 681.5px,#35b9eb 682.5px,#3991d0 684.5px,#3a7abf 686.5px,#3b64af 689.5px,#3b55a7 692.5px,#37499f 696.5px,#2c3493 699.5px,#282c8a 700.5px,#292e8d 702.5px,#35459d 705.5px,#3a51a4 708.5px,#3b5fac 712.5px,#3b65af 713.5px,#3b75bb 714.5px,#3a8dcd 716.5px,#35baec 718.5px,#55c4dc 720.5px,#67c7d2 721.5px,#74c5ab 723.5px,#7dc490 724.5px,#8ec465 726.5px,#c2d645 730.5px,#e6e71e 732.5px,#f9ef07 733.5px,#fee20f 734.5px,#fbb53b 736.5px,#f78e32 738.5px,#f36a24 740.5px,#ed1f24 744.5px,#d72229 746.5px,#ca252b 747.5px,#b42428 748.5px,#9b1e20 749.5px,#8b1a1a 750.5px,#8b1a1a 844.5px,#9f1f21 845.5px,#cc242b 846.5px,#ed2224 847.5px,#f15a22 848.5px,#f79033 849.5px,#fcc22f 850.5px,#fff101 851.5px,#d6df30 852.5px,#b7d34c 853.5px,#90c562 855.5px,#78c49d 857.5px,#6dc7c6 859.5px,#63c6d4 860.5px,#42c0e7 862.5px,#35b9eb 863.5px,#37a3dc 864.5px,#3a86c9 868.5px,#3b65b0 879.5px,#3b56a7 904.5px,#36479e 925.5px,#33429b 931.5px,#2a3090 937.5px,#292e8c 944.5px,#2d3694 950.5px,#34439c 955.5px,#3a52a5 981.5px,#3a4ea2 1003.5px,#32419a 1020.5px,#292e8d 1027.5px,#282d8a 1032.5px,#2b3392 1037.5px,#33429b 1042.5px,#3b54a6 1068.5px,#3b5caa 1076.5px,#3b6bb3 1081.5px,#384ba0 1094.5px,#33429b 1096.5px,#2a2f8f 1098.5px,#282c8a 1100.5px,#2a3090 1102.5px,#34449c 1104.5px,#384ba0 1109.5px,#33429b 1115.5px,#2a3090 1117.5px,#282c89 1120.5px,#2a3090 1122.5px,#313f99 1123.5px,#3b56a7 1128.5px,#3b66b0 1132.5px,#3a83c6 1134.5px,#3997d4 1137.5px,#36b1e6 1140.5px,#3a8bcc 1142.5px,#3b63ae 1146.5px,#3b56a7 1149.5px,#303b97 1162.5px,#2a308f 1169.5px,#2e3895 1245px)"></i>
<i style="left:752px;top:672px;width:128px;height:1px;background:linear-gradient(90deg,#33429b 0,#35459d 38.5px,#3a53a5 40.5px,#3b5dab 90.5px,#3a7bc0 95.5px,#35baec 99.5px,#46c0e4 103.5px,#3bbeea 105.5px,#c1d646 106.5px,#8ec467 108.5px,#72c6b4 111.5px,#53c3dd 114.5px,#37bded 116.5px,#3a7ec2 122.5px,#3b64af 128px)"></i>
<i style="left:752px;top:673px;width:128px;height:1px;background:linear-gradient(90deg,#33429b 0,#35469d 38.5px,#3a53a5 40.5px,#3b5dab 90.5px,#3b76bc 94.5px,#3dbfea 98.5px,#68c7d1 102.5px,#5dc5d8 105.5px,#c1d646 106.5px,#8ec467 108.5px,#72c6b4 111.5px,#53c3dd 114.5px,#37bded 116.5px,#3a7ec2 122.5px,#3b64af 128px)"></i>
<i style="left:752px;top:674px;width:128px;height:1px;background:linear-gradient(90deg,#33429b 0,#35469d 38.5px,#3a53a5 40.5px,#3b5eac 90.5px,#3b70b8 93.5px,#3992d1 95.5px,#36b3e7 96.5px,#6cc7ca 99.5px,#78c49e 102.5px,#77c49f 104.5px,#74c5ab 105.5px,#c1d646 106.5px,#8ec467 108.5px,#72c6b4 111.5px,#53c3dd 114.5px,#37bded 116.5px,#3a7ec2 122.5px,#3b64af 128px)"></i>
<i style="left:752px;top:675px;width:128px;height:1px;background:linear-gradient(90deg,#33429b 0,#36479e 38.5px,#3a53a5 40.5px,#3b5baa 89.5px,#3a78be 93.5px,#3a8acb 94.5px,#36afe5 95.5px,#66c7d3 97.5px,#8ac46f 100.5px,#a4cc57 102.5px,#9ac85d 105.5px,#c1d646 106.5px,#8ec467 108.5px,#72c6b4 111.5px,#53c3dd 114.5px,#37bded 116.5px,#3a7ec2 122.5px,#3b64af 128px)"></i>
<i style="left:752px;top:676px;width:128px;height:1px;background:linear-gradient(90deg,#33439b 0,#36479e 38.5px,#3a53a5 41.5px,#3b5cab 89.5px,#3b6fb7 92.5px,#3a81c5 93.5px,#43c0e6 95.5px,#67c7d2 96.5px,#87c478 98.5px,#f0eb12 102.5px,#f3ed0e 104.5px,#e2e522 105.5px,#c1d646 106.5px,#8ec467 108.5px,#72c6b4 111.5px,#53c3dd 114.5px,#37bded 116.5px,#3a7ec2 122.5px,#3b64af 128px)"></i>
<i style="left:752px;top:677px;width:128px;height:1px;background:linear-gradient(90deg,#33439b 0,#37489f 38.5px,#3a53a5 41.5px,#3b5dab 89.5px,#3b76bc 92.5px,#3a8dcd 93.5px,#35bdee 94.5px,#5cc5d8 95.5px,#72c5b2 96.5px,#88c474 97.5px,#fee60b 100.5px,#fcbd33 101.5px,#f89535 103.5px,#f89a37 104.5px,#fbb040 105.5px,#c1d646 106.5px,#8ec467 108.5px,#72c6b4 111.5px,#53c3dd 114.5px,#37bded 116.5px,#3a7ec2 122.5px,#3b64af 128px)"></i>
<i style="left:752px;top:678px;width:128px;height:1px;background:linear-gradient(90deg,#33439b 0,#37499f 38.5px,#3a53a5 42.5px,#3b5dab 89.5px,#3b69b2 91.5px,#389dd9 93.5px,#45c0e5 94.5px,#6dc7c8 95.5px,#7ec48e 96.5px,#d9e12d 98.5px,#fdd819 99.5px,#f99d38 100.5px,#f36c25 101.5px,#f04b23 102.5px,#ef3d23 103.5px,#f04223 104.5px,#f15a22 105.5px,#c1d646 106.5px,#8ec467 108.5px,#72c6b4 111.5px,#53c3dd 114.5px,#37bded 116.5px,#3a7ec2 122.5px,#3b64af 128px)"></i>
<i style="left:752px;top:679px;width:128px;height:1px;background:linear-gradient(90deg,#33439b 0,#384aa0 38.5px,#3a53a5 46.5px,#3b5eab 89.5px,#3b6cb4 91.5px,#3a80c4 92.5px,#37a9e1 93.5px,#51c3de 94.5px,#71c6b8 95.5px,#8ac470 96.5px,#bbd44a 97.5px,#fdf102 98.5px,#faab3e 99.5px,#f26823 100.5px,#ef3323 101.5px,#e51e26 102.5px,#de2027 104.5px,#ed1e24 105.5px,#c1d646 106.5px,#8ec467 108.5px,#72c6b4 111.5px,#53c3dd 114.5px,#37bded 116.5px,#3a7ec2 122.5px,#3b64af 128px)"></i>
<i style="left:752px;top:680px;width:128px;height:1px;background:linear-gradient(90deg,#33439b 0,#3a53a5 75.5px,#3b62ae 90.5px,#3a81c5 92.5px,#36aee4 93.5px,#56c4dc 94.5px,#72c5b1 95.5px,#8fc464 96.5px,#c4d744 97.5px,#fee50d 98.5px,#f89937 99.5px,#f15422 100.5px,#ed1d24 101.5px,#cc242b 103.5px,#e01f27 105.5px,#c1d646 106.5px,#8ec467 108.5px,#72c6b4 111.5px,#53c3dd 114.5px,#37bded 116.5px,#3a7ec2 122.5px,#3b64af 128px)"></i>
<i style="left:752px;top:681px;width:128px;height:1px;background:linear-gradient(90deg,#33439b 0,#3a53a5 76.5px,#3b62ae 90.5px,#3a80c4 92.5px,#37abe1 93.5px,#52c3de 94.5px,#71c6b6 95.5px,#8bc46d 96.5px,#bdd548 97.5px,#fff002 98.5px,#faa63c 99.5px,#f26322 100.5px,#ee2e24 101.5px,#e11f26 102.5px,#db2128 104.5px,#eb1d24 105.5px,#c1d646 106.5px,#8ec467 108.5px,#72c6b4 111.5px,#53c3dd 114.5px,#37bded 116.5px,#3a7ec2 122.5px,#3b64af 128px)"></i>
<i style="left:752px;top:682px;width:128px;height:1px;background:linear-gradient(90deg,#33439b 0,#3a53a5 76.5px,#3b62ae 90.5px,#3a7cc1 92.5px,#389fda 93.5px,#47c1e4 94.5px,#6ec7c5 95.5px,#80c489 96.5px,#dfe425 98.5px,#fdd120 99.5px,#f89435 100.5px,#f26222 101.5px,#f04123 102.5px,#ee3223 103.5px,#ef3723 104.5px,#f15023 105.5px,#c1d646 106.5px,#8ec467 108.5px,#72c6b4 111.5px,#53c3dd 114.5px,#37bded 116.5px,#3a7ec2 122.5px,#3b64af 128px)"></i>
<i style="left:752px;top:683px;width:128px;height:3px;background:linear-gradient(90deg,#33439b 0,#3a51a4 61.5px,#3a4fa3 105.5px,#c1d646 106.5px,#8ec467 108.5px,#72c6b4 111.5px,#53c3dd 114.5px,#37bded 116.5px,#3a7ec2 122.5px,#3b64af 128px)"></i>
<i style="left:752px;top:686px;width:128px;height:2px;background:linear-gradient(90deg,#33439b 0,#3b5baa 42.5px,#3b55a7 62.5px,#3b57a8 87.5px,#3b54a6 105.5px,#c1d646 106.5px,#8ec467 108.5px,#72c6b4 111.5px,#53c3dd 114.5px,#37bded 116.5px,#3a7ec2 122.5px,#3b64af 128px)"></i>
<i style="left:752px;top:688px;width:128px;height:1px;background:linear-gradient(90deg,#33439b 0,#3b54a6 38.5px,#3b6fb7 51.5px,#3a50a3 75.5px,#3b60ad 99.5px,#3b58a8 105.5px,#c1d646 106.5px,#8ec467 108.5px,#72c6b4 111.5px,#53c3dd 114.5px,#37bded 116.5px,#3a7ec2 122.5px,#3b64af 128px)"></i>
<i style="left:752px;top:689px;width:128px;height:1px;background:linear-gradient(90deg,#33439b 0,#3b56a7 38.5px,#3a7abf 45.5px,#3a7bc0 54.5px,#3a53a5 69.5px,#3b6ab3 97.5px,#3b5baa 105.5px,#c1d646 106.5px,#8ec467 108.5px,#72c6b4 111.5px,#53c3dd 114.5px,#37bded 116.5px,#3a7ec2 122.5px,#3b64af 128px)"></i>
<i style="left:752px;top:690px;width:128px;height:1px;background:linear-gradient(90deg,#33439b 0,#3b58a8 38.5px,#3b73ba 40.5px,#389ed9 50.5px,#3b5aa9 66.5px,#3b5dab 81.5px,#3a7dc2 95.5px,#3b61ad 105.5px,#c1d646 106.5px,#8ec467 108.5px,#72c6b4 111.5px,#53c3dd 114.5px,#37bded 116.5px,#3a7ec2 122.5px,#3b64af 128px)"></i>
<i style="left:752px;top:691px;width:128px;height:1px;background:linear-gradient(90deg,#33439b 0,#3b5aa9 38.5px,#3a7dc2 39.5px,#36bded 47.5px,#36b6e9 54.5px,#3b64af 64.5px,#3b58a8 76.5px,#3a7abf 86.5px,#3995d3 95.5px,#3b66b0 105.5px,#c1d646 106.5px,#8ec467 108.5px,#72c6b4 111.5px,#53c3dd 114.5px,#37bded 116.5px,#3a7ec2 122.5px,#3b64af 128px)"></i>
<i style="left:752px;top:692px;width:128px;height:1px;background:linear-gradient(90deg,#33439b 0,#3b5dab 38.5px,#3994d2 39.5px,#35bcee 42.5px,#55c3dc 49.5px,#3fbfe9 56.5px,#37a7df 59.5px,#3b70b8 64.5px,#3b58a8 73.5px,#3b71b9 82.5px,#36b7ea 92.5px,#37ace2 98.5px,#3b75bb 105.5px,#c1d646 106.5px,#8ec467 108.5px,#72c6b4 111.5px,#53c3dd 114.5px,#37bded 116.5px,#3a7ec2 122.5px,#3b64af 128px)"></i>
<i style="left:752px;top:693px;width:128px;height:1px;background:linear-gradient(90deg,#33439b 0,#3b5fac 37.5px,#3b61ad 38.5px,#36b6e9 39.5px,#6bc8ce 47.5px,#60c6d6 55.5px,#35bbed 60.5px,#3a7fc3 64.5px,#3b60ad 69.5px,#3b64af 78.5px,#3996d3 84.5px,#3abeeb 88.5px,#4bc1e2 95.5px,#36b5e9 101.5px,#3a84c7 105.5px,#c1d646 106.5px,#8ec467 108.5px,#72c6b4 111.5px,#53c3dd 114.5px,#37bded 116.5px,#3a7ec2 122.5px,#3b64af 128px)"></i>
<i style="left:752px;top:694px;width:128px;height:1px;background:linear-gradient(90deg,#33439b 0,#3b5eab 35.5px,#3b65b0 38.5px,#48c1e4 39.5px,#6dc7ca 43.5px,#74c5ac 50.5px,#62c6d5 58.5px,#35bbed 62.5px,#3a7cc1 66.5px,#3b61ad 71.5px,#3b6fb7 78.5px,#3997d5 82.5px,#3abeeb 85.5px,#64c7d4 92.5px,#56c4dc 99.5px,#36bdee 103.5px,#389fda 105.5px,#c1d646 106.5px,#8ec467 108.5px,#72c6b4 111.5px,#53c3dd 114.5px,#37bded 116.5px,#3a7ec2 122.5px,#3b64af 128px)"></i>
<i style="left:752px;top:695px;width:128px;height:1px;background:linear-gradient(90deg,#33439b 0,#3b5eac 34.5px,#3b6fb7 38.5px,#60c6d6 39.5px,#80c489 48.5px,#7dc491 53.5px,#65c7d3 60.5px,#36b5e8 64.5px,#3a80c4 67.5px,#3b64af 72.5px,#3b74bb 77.5px,#37a5de 81.5px,#3cbeea 83.5px,#6dc7c9 89.5px,#70c6bd 96.5px,#60c6d6 101.5px,#36bded 105.5px,#c1d646 106.5px,#8ec467 108.5px,#72c6b4 111.5px,#53c3dd 114.5px,#37bded 116.5px,#3a7ec2 122.5px,#3b64af 128px)"></i>
<i style="left:752px;top:696px;width:128px;height:1px;background:linear-gradient(90deg,#33439b 0,#3b5fac 33.5px,#3a7abf 38.5px,#6fc7c1 39.5px,#8cc469 46.5px,#90c462 52.5px,#7cc493 57.5px,#63c6d5 62.5px,#36bded 65.5px,#3a7cc1 69.5px,#3b70b7 74.5px,#3a8dcd 78.5px,#3abeeb 81.5px,#6dc7c7 86.5px,#78c49d 93.5px,#71c6b9 100.5px,#59c4da 104.5px,#4cc2e1 105.5px,#c1d646 106.5px,#8ec467 108.5px,#72c6b4 111.5px,#53c3dd 114.5px,#37bded 116.5px,#3a7ec2 122.5px,#3b64af 128px)"></i>
<i style="left:752px;top:697px;width:128px;height:1px;background:linear-gradient(90deg,#33439b 0,#3b5fac 32.5px,#3a86c9 38.5px,#75c4a7 39.5px,#90c463 43.5px,#adcf52 50.5px,#8cc46c 57.5px,#6bc8d0 63.5px,#3cbeea 66.5px,#3a82c6 70.5px,#3a81c4 75.5px,#37a8e0 78.5px,#35bbed 79.5px,#6ec7c5 84.5px,#85c47d 91.5px,#86c47a 96.5px,#63c6d4 105.5px,#c1d646 106.5px,#8ec467 108.5px,#72c6b4 111.5px,#53c3dd 114.5px,#37bded 116.5px,#3a7ec2 122.5px,#3b64af 128px)"></i>
<i style="left:752px;top:698px;width:128px;height:1px;background:linear-gradient(90deg,#33439b 0,#3b5eac 31.5px,#3a8bcc 37.5px,#389dd8 38.5px,#82c485 39.5px,#9ec95a 42.5px,#c6d843 49.5px,#b2d14e 55.5px,#8dc468 59.5px,#6cc7ca 64.5px,#36b8ea 68.5px,#3a8acc 71.5px,#3a89ca 74.5px,#39beec 78.5px,#6dc7c8 82.5px,#8ec467 89.5px,#98c75e 96.5px,#8cc46b 99.5px,#6fc7c1 105.5px,#c1d646 106.5px,#8ec467 108.5px,#72c6b4 111.5px,#53c3dd 114.5px,#37bded 116.5px,#3a7ec2 122.5px,#3b64af 128px)"></i>
<i style="left:752px;top:699px;width:128px;height:1px;background:linear-gradient(90deg,#33439b 0,#3b5eac 30.5px,#3a81c4 35.5px,#36b7ea 38.5px,#91c562 39.5px,#e1e423 47.5px,#e3e521 52.5px,#8ac46f 61.5px,#6ec7c5 65.5px,#36bded 69.5px,#389cd8 72.5px,#37abe2 75.5px,#3fbfe9 77.5px,#6fc7c1 81.5px,#94c660 87.5px,#b3d14e 94.5px,#90c462 101.5px,#74c5aa 105.5px,#c1d646 106.5px,#8ec467 108.5px,#72c6b4 111.5px,#53c3dd 114.5px,#37bded 116.5px,#3a7ec2 122.5px,#3b64af 128px)"></i>
<i style="left:752px;top:700px;width:128px;height:1px;background:linear-gradient(90deg,#33439b 0,#3b5dab 29.5px,#3a80c4 34.5px,#35bced 37.5px,#44c0e5 38.5px,#a6cc56 39.5px,#dce229 43.5px,#ffef03 47.5px,#ffed05 52.5px,#f6ee0b 54.5px,#b8d34b 59.5px,#8ec465 62.5px,#6ec7c3 66.5px,#3cbeea 70.5px,#35b9eb 74.5px,#6cc8cc 79.5px,#95c660 85.5px,#c8d941 92.5px,#bdd548 98.5px,#90c463 103.5px,#7ec48d 105.5px,#c1d646 106.5px,#8ec467 108.5px,#72c6b4 111.5px,#53c3dd 114.5px,#37bded 116.5px,#3a7ec2 122.5px,#3b64af 128px)"></i>
<i style="left:752px;top:701px;width:128px;height:1px;background:linear-gradient(90deg,#33439b 0,#3b5fac 29.5px,#3a7ec3 33.5px,#35bdee 36.5px,#58c4da 38.5px,#bad44a 39.5px,#faf005 43.5px,#fcc52c 49.5px,#feda17 54.5px,#fff200 56.5px,#b1d04f 61.5px,#91c562 63.5px,#6fc7c1 67.5px,#44c0e6 71.5px,#42c0e7 74.5px,#6dc7c9 78.5px,#90c463 83.5px,#e0e424 91.5px,#e3e521 96.5px,#8bc46d 105.5px,#c1d646 106.5px,#8ec467 108.5px,#72c6b4 111.5px,#53c3dd 114.5px,#37bded 116.5px,#3a7ec2 122.5px,#3b64af 128px)"></i>
<i style="left:752px;top:702px;width:128px;height:1px;background:linear-gradient(90deg,#33439b 0,#3b5eab 28.5px,#3a7bc0 32.5px,#38a0da 34.5px,#35baec 35.5px,#6bc8ce 38.5px,#d1dd36 39.5px,#f8ef08 41.5px,#fdd71a 43.5px,#fbb23e 46.5px,#faa43b 51.5px,#fcb938 54.5px,#fef101 58.5px,#c5d844 61.5px,#92c561 64.5px,#6fc7c1 68.5px,#54c3dd 71.5px,#52c3de 74.5px,#6dc7c7 77.5px,#94c660 82.5px,#d7e02f 87.5px,#fdf102 91.5px,#faf006 97.5px,#a9ce54 104.5px,#9bc85c 105.5px,#c1d646 106.5px,#8ec467 108.5px,#72c6b4 111.5px,#53c3dd 114.5px,#37bded 116.5px,#3a7ec2 122.5px,#3b64af 128px)"></i>
<i style="left:752px;top:703px;width:128px;height:1px;background:linear-gradient(90deg,#33439b 0,#3b60ad 28.5px,#3a84c7 32.5px,#36b4e8 34.5px,#6bc8cf 37.5px,#71c6b9 38.5px,#ebe917 39.5px,#fff101 40.5px,#fbb838 43.5px,#f6842f 48.5px,#f78f33 53.5px,#fbb33d 56.5px,#feea08 59.5px,#f3ec0e 60.5px,#c7d942 62.5px,#92c562 65.5px,#73c5af 68.5px,#63c6d4 71.5px,#62c6d5 74.5px,#75c4a4 78.5px,#96c75f 81.5px,#d2de35 85.5px,#fef102 88.5px,#fdce23 93.5px,#fee20f 98.5px,#f8ef08 100.5px,#bbd449 104.5px,#accf52 105.5px,#c1d646 106.5px,#8ec467 108.5px,#72c6b4 111.5px,#53c3dd 114.5px,#37bded 116.5px,#3a7ec2 122.5px,#3b64af 128px)"></i>
<i style="left:752px;top:704px;width:128px;height:1px;background:linear-gradient(90deg,#34439c 0,#3b5eac 27.5px,#3b72b9 30.5px,#398fcf 32.5px,#3dbfea 34.5px,#68c7d2 36.5px,#76c4a3 38.5px,#ffed05 39.5px,#fbac3e 42.5px,#f36b24 47.5px,#f26823 52.5px,#faa63c 57.5px,#fdce23 59.5px,#fee40d 60.5px,#f6ee0b 61.5px,#c7d842 63.5px,#8fc463 66.5px,#73c5b0 69.5px,#6bc8ce 72.5px,#6fc7c1 75.5px,#7ec48d 78.5px,#96c65f 80.5px,#c5d844 83.5px,#fbf005 86.5px,#fbb43c 92.5px,#fcbd33 97.5px,#ffee04 101.5px,#bdd548 105.5px,#c1d646 106.5px,#8ec467 108.5px,#72c6b4 111.5px,#53c3dd 114.5px,#37bded 116.5px,#3a7ec2 122.5px,#3b64af 128px)"></i>
<i style="left:752px;top:705px;width:128px;height:1px;background:linear-gradient(90deg,#34439c 0,#3b5fac 27.5px,#3a86c8 31.5px,#35bcee 33.5px,#6fc7c1 36.5px,#81c485 38.5px,#fdd31e 39.5px,#fcbb35 40.5px,#f79133 42.5px,#f04d23 47.5px,#f04623 51.5px,#f4792a 56.5px,#fbb33d 59.5px,#fee30e 61.5px,#f5ed0c 62.5px,#c4d744 64.5px,#8cc469 67.5px,#73c5af 70.5px,#6fc7c0 73.5px,#75c4a5 76.5px,#94c660 79.5px,#c5d843 82.5px,#fff002 85.5px,#fbb13f 89.5px,#f89535 94.5px,#fbb739 99.5px,#fee60c 102.5px,#f8ef08 103.5px,#c1d646 106.5px,#8ec467 108.5px,#72c6b4 111.5px,#53c3dd 114.5px,#37bded 116.5px,#3a7ec2 122.5px,#3b64af 128px)"></i>
<i style="left:752px;top:706px;width:128px;height:1px;background:linear-gradient(90deg,#34439c 0,#3b5dab 26.5px,#3b71b9 29.5px,#3991d0 31.5px,#41bfe8 33.5px,#6cc8ca 35.5px,#8dc467 38.5px,#fcbc35 39.5px,#f78c32 41.5px,#f15422 44.5px,#ee2c24 48.5px,#ee2f23 52.5px,#f37026 57.5px,#fbb23e 60.5px,#fee70b 62.5px,#f0eb12 63.5px,#bed547 65.5px,#89c471 68.5px,#77c4a0 70.5px,#72c5b3 73.5px,#7cc492 76.5px,#90c562 78.5px,#c3d745 81.5px,#ffee04 84.5px,#fbb53b 87.5px,#f5802d 92.5px,#f68930 97.5px,#fbac3e 100.5px,#f9ef07 104.5px,#c1d646 106.5px,#8ec467 108.5px,#72c6b4 111.5px,#53c3dd 114.5px,#37bded 116.5px,#3a7ec2 122.5px,#3b64af 128px)"></i>
<i style="left:752px;top:707px;width:128px;height:1px;background:linear-gradient(90deg,#34439c 0,#3b5eac 26.5px,#3a84c7 30.5px,#35bdee 32.5px,#65c7d3 34.5px,#78c49e 36.5px,#9ec95b 38.5px,#faa63c 39.5px,#f04c23 43.5px,#eb1d24 47.5px,#ed1e24 53.5px,#f36d25 58.5px,#fbb63a 61.5px,#ffee04 63.5px,#b7d34c 66.5px,#92c561 68.5px,#78c49e 71.5px,#77c4a1 74.5px,#9cc95b 78.5px,#d4de33 81.5px,#fff002 83.5px,#fbb040 86.5px,#f36e26 91.5px,#f36a24 96.5px,#faa63c 101.5px,#fdce23 103.5px,#fee40d 104.5px,#f5ee0b 105.5px,#c1d646 106.5px,#8ec467 108.5px,#72c6b4 111.5px,#53c3dd 114.5px,#37bded 116.5px,#3a7ec2 122.5px,#3b64af 128px)"></i>
<i style="left:752px;top:708px;width:128px;height:1px;background:linear-gradient(90deg,#34439c 0,#3b60ad 26.5px,#3a8bcc 30.5px,#3ebfe9 32.5px,#6cc7ca 34.5px,#93c561 37.5px,#aecf51 38.5px,#f79234 39.5px,#f04a23 42.5px,#e91d25 45.5px,#d82128 51.5px,#ed2024 55.5px,#f36f26 59.5px,#f9a33b 61.5px,#fcbf32 62.5px,#f8ef08 64.5px,#c3d745 66.5px,#8dc467 69.5px,#7ac497 72.5px,#82c483 75.5px,#a7cd55 78.5px,#ccdb3c 80.5px,#fbf005 82.5px,#fbb13f 85.5px,#f26122 90.5px,#f15023 95.5px,#f5812d 100.5px,#faa63c 102.5px,#fcbb36 103.5px,#ffea07 105.5px,#c1d646 106.5px,#8ec467 108.5px,#72c6b4 111.5px,#53c3dd 114.5px,#37bded 116.5px,#3a7ec2 122.5px,#3b64af 128px)"></i>
<i style="left:752px;top:709px;width:128px;height:1px;background:linear-gradient(90deg,#34439c 0,#3b5dab 25.5px,#3b72b9 28.5px,#3995d3 30.5px,#36b4e8 31.5px,#61c6d6 33.5px,#77c49f 35.5px,#89c473 36.5px,#bed548 38.5px,#f5802d 39.5px,#ef3623 42.5px,#e61e25 44.5px,#c9252b 50.5px,#ed1c24 56.5px,#f47629 60.5px,#fbae3f 62.5px,#feea08 64.5px,#ebe918 65.5px,#b9d34b 67.5px,#8ac46f 70.5px,#80c489 73.5px,#a0ca59 77.5px,#c2d745 79.5px,#f2ec10 81.5px,#fee70b 82.5px,#fbb63a 84.5px,#f15a22 89.5px,#ef3b23 94.5px,#f26022 99.5px,#faaa3d 103.5px,#feda17 105.5px,#c1d646 106.5px,#8ec467 108.5px,#72c6b4 111.5px,#53c3dd 114.5px,#37bded 116.5px,#3a7ec2 122.5px,#3b64af 128px)"></i>
<i style="left:752px;top:710px;width:128px;height:1px;background:linear-gradient(90deg,#34439c 0,#3b5dab 25.5px,#3b75bc 28.5px,#389dd8 30.5px,#36bdee 31.5px,#6ac8d1 33.5px,#7dc48f 35.5px,#90c462 36.5px,#cedc3a 38.5px,#f37026 39.5px,#ee2524 42.5px,#c5262c 47.5px,#c3262d 52.5px,#ed1e24 57.5px,#f26622 60.5px,#f99f39 62.5px,#fcbd33 63.5px,#fedc15 64.5px,#f7ee09 65.5px,#c1d646 67.5px,#89c473 71.5px,#85c47d 73.5px,#99c85d 76.5px,#cddb3b 79.5px,#fef201 81.5px,#fcbf31 83.5px,#faa73c 84.5px,#f15822 88.5px,#ee2b24 93.5px,#ef3923 97.5px,#f6852f 102.5px,#fbb33d 104.5px,#fdcc25 105.5px,#c1d646 106.5px,#8ec467 108.5px,#72c6b4 111.5px,#53c3dd 114.5px,#37bded 116.5px,#3a7ec2 122.5px,#3b64af 128px)"></i>
<i style="left:752px;top:711px;width:128px;height:1px;background:linear-gradient(90deg,#34439c 0,#3b5eac 25.5px,#3a78be 28.5px,#37a4dd 30.5px,#3cbeea 31.5px,#6dc7c9 33.5px,#9ac85d 36.5px,#b8d34b 37.5px,#dee327 38.5px,#f26222 39.5px,#ea1d25 42.5px,#b52429 48.5px,#bf262c 53.5px,#e61e25 57.5px,#ee2624 58.5px,#f47528 61.5px,#fbb13f 63.5px,#ffef02 65.5px,#c9da3f 67.5px,#8dc468 71.5px,#89c472 73.5px,#a0ca59 76.5px,#c0d646 78.5px,#efeb12 80.5px,#fee80a 81.5px,#fbb33d 83.5px,#f04b23 88.5px,#ed2124 92.5px,#ee2324 96.5px,#f26322 101.5px,#faa63c 104.5px,#fcc030 105.5px,#c1d646 106.5px,#8ec467 108.5px,#72c6b4 111.5px,#53c3dd 114.5px,#37bded 116.5px,#3a7ec2 122.5px,#3b64af 128px)"></i>
<i style="left:752px;top:712px;width:128px;height:1px;background:linear-gradient(90deg,#34439c 0,#3b5fac 25.5px,#3a7ac0 28.5px,#41bfe7 31.5px,#6ec7c3 33.5px,#88c475 35.5px,#c1d646 37.5px,#ece916 38.5px,#f15822 39.5px,#ed2324 41.5px,#b12327 47.5px,#af2327 52.5px,#ec1c24 58.5px,#f36a24 61.5px,#faa73c 63.5px,#fee60b 65.5px,#edea15 66.5px,#bbd44a 68.5px,#91c562 71.5px,#8fc463 74.5px,#c6d843 78.5px,#f8ef09 80.5px,#fedf13 81.5px,#faa93d 83.5px,#f15123 87.5px,#ed1c24 91.5px,#ed2024 97.5px,#f36d25 102.5px,#fbb73a 105.5px,#c1d646 106.5px,#8ec467 108.5px,#72c6b4 111.5px,#53c3dd 114.5px,#37bded 116.5px,#3a7ec2 122.5px,#3b64af 128px)"></i>
<i style="left:752px;top:713px;width:128px;height:1px;background:linear-gradient(90deg,#34439c 0,#3b5fac 25.5px,#3a7cc1 28.5px,#36afe5 30.5px,#5fc6d6 32.5px,#78c49c 34.5px,#8bc46c 35.5px,#c9da3f 37.5px,#f7ee09 38.5px,#f15023 39.5px,#ec1c24 41.5px,#aa2125 47.5px,#a82124 52.5px,#d92128 57.5px,#e71e25 58.5px,#f04623 60.5px,#f5802d 62.5px,#f9a039 63.5px,#fcbf31 64.5px,#fee012 65.5px,#f3ec0e 66.5px,#bfd547 68.5px,#8fc463 72.5px,#9cc95b 75.5px,#cbdb3d 78.5px,#fef101 80.5px,#fcbc34 82.5px,#f9a23a 83.5px,#f04823 87.5px,#ed1d24 90.5px,#e51e26 96.5px,#ee2f23 99.5px,#f57c2b 103.5px,#fbaf40 105.5px,#c1d646 106.5px,#8ec467 108.5px,#72c6b4 111.5px,#53c3dd 114.5px,#37bded 116.5px,#3a7ec2 122.5px,#3b64af 128px)"></i>
<i style="left:752px;top:714px;width:128px;height:4px;background:linear-gradient(90deg,#34439c 0,#3b60ad 25.5px,#3a7ec2 28.5px,#36b3e7 30.5px,#63c6d4 32.5px,#7bc495 34.5px,#8fc464 35.5px,#d1dd36 37.5px,#fff002 38.5px,#f04923 39.5px,#e81d25 41.5px,#ab2225 46.5px,#9d1e20 51.5px,#d52229 57.5px,#ee2424 59.5px,#f57a2a 62.5px,#fcb937 64.5px,#f8ef08 66.5px,#c3d745 68.5px,#98c75e 71.5px,#97c75f 74.5px,#d0dd37 78.5px,#ffee04 80.5px,#fbb63a 82.5px,#f04223 87.5px,#e91d25 90.5px,#e11f26 96.5px,#ec1c24 98.5px,#f25f22 102.5px,#faa93d 105.5px,#c1d646 106.5px,#8ec467 108.5px,#72c6b4 111.5px,#53c3dd 114.5px,#37bded 116.5px,#3a7ec2 122.5px,#3b64af 128px)"></i>
<i style="left:752px;top:718px;width:128px;height:1px;background:linear-gradient(90deg,#34439c 0,#3b5fac 25.5px,#3a7cc1 28.5px,#36afe5 30.5px,#5fc6d6 32.5px,#78c49c 34.5px,#8bc46c 35.5px,#c9da3f 37.5px,#f7ee09 38.5px,#f15023 39.5px,#ec1c24 41.5px,#aa2125 47.5px,#a82124 52.5px,#d92128 57.5px,#e71e25 58.5px,#f04623 60.5px,#f5802d 62.5px,#f9a039 63.5px,#fcbf31 64.5px,#fee012 65.5px,#f3ec0e 66.5px,#bfd547 68.5px,#8fc463 72.5px,#9cc95b 75.5px,#cbdb3d 78.5px,#fef101 80.5px,#fcbc34 82.5px,#f9a23a 83.5px,#f04823 87.5px,#ed1d24 90.5px,#e51e26 96.5px,#ee2f23 99.5px,#f57c2b 103.5px,#fbaf40 105.5px,#c1d646 106.5px,#8ec467 108.5px,#72c6b4 111.5px,#53c3dd 114.5px,#37bded 116.5px,#3a7ec2 122.5px,#3b64af 128px)"></i>
<i style="left:752px;top:719px;width:128px;height:1px;background:linear-gradient(90deg,#34439c 0,#3b5fac 25.5px,#3a7ac0 28.5px,#41bfe7 31.5px,#6ec7c3 33.5px,#88c475 35.5px,#c1d646 37.5px,#ece916 38.5px,#f15822 39.5px,#ed2324 41.5px,#b12327 47.5px,#af2327 52.5px,#ec1c24 58.5px,#f36a24 61.5px,#faa73c 63.5px,#fee60b 65.5px,#edea15 66.5px,#bbd44a 68.5px,#91c562 71.5px,#8fc463 74.5px,#c6d843 78.5px,#f8ef09 80.5px,#fedf13 81.5px,#faa93d 83.5px,#f15123 87.5px,#ed1c24 91.5px,#ed2024 97.5px,#f36d25 102.5px,#fbb73a 105.5px,#c1d646 106.5px,#8ec467 108.5px,#72c6b4 111.5px,#53c3dd 114.5px,#37bded 116.5px,#3a7ec2 122.5px,#3b64af 128px)"></i>
<i style="left:752px;top:720px;width:128px;height:1px;background:linear-gradient(90deg,#34439c 0,#3b5eac 25.5px,#3a78be 28.5px,#37a4dd 30.5px,#3cbeea 31.5px,#6dc7c9 33.5px,#9ac85d 36.5px,#b8d34b 37.5px,#dee327 38.5px,#f26222 39.5px,#ea1d25 42.5px,#b52429 48.5px,#bf262c 53.5px,#e61e25 57.5px,#ee2624 58.5px,#f47528 61.5px,#fbb13f 63.5px,#ffef02 65.5px,#c9da3f 67.5px,#8dc468 71.5px,#89c472 73.5px,#a0ca59 76.5px,#c0d646 78.5px,#efeb12 80.5px,#fee80a 81.5px,#fbb33d 83.5px,#f04b23 88.5px,#ed2124 92.5px,#ee2324 96.5px,#f26322 101.5px,#faa63c 104.5px,#fcc030 105.5px,#c1d646 106.5px,#8ec467 108.5px,#72c6b4 111.5px,#53c3dd 114.5px,#37bded 116.5px,#3a7ec2 122.5px,#3b64af 128px)"></i>
<i style="left:752px;top:721px;width:128px;height:1px;background:linear-gradient(90deg,#34439c 0,#3b5dab 25.5px,#3b75bc 28.5px,#389dd8 30.5px,#36bdee 31.5px,#6ac8d1 33.5px,#7dc48f 35.5px,#90c462 36.5px,#cedc3a 38.5px,#f37026 39.5px,#ee2524 42.5px,#c5262c 47.5px,#c3262d 52.5px,#ed1e24 57.5px,#f26622 60.5px,#f99f39 62.5px,#fcbd33 63.5px,#fedc15 64.5px,#f7ee09 65.5px,#c1d646 67.5px,#89c473 71.5px,#85c47d 73.5px,#99c85d 76.5px,#cddb3b 79.5px,#fef201 81.5px,#fcbf31 83.5px,#faa73c 84.5px,#f15822 88.5px,#ee2b24 93.5px,#ef3923 97.5px,#f6852f 102.5px,#fbb33d 104.5px,#fdcc25 105.5px,#c1d646 106.5px,#8ec467 108.5px,#72c6b4 111.5px,#53c3dd 114.5px,#37bded 116.5px,#3a7ec2 122.5px,#3b64af 128px)"></i>
<i style="left:752px;top:722px;width:128px;height:1px;background:linear-gradient(90deg,#34439c 0,#3b5dab 25.5px,#3b72b9 28.5px,#3995d3 30.5px,#36b4e8 31.5px,#61c6d6 33.5px,#77c49f 35.5px,#89c473 36.5px,#bed548 38.5px,#f5802d 39.5px,#ef3623 42.5px,#e61e25 44.5px,#c9252b 50.5px,#ed1c24 56.5px,#f47629 60.5px,#fbae3f 62.5px,#feea08 64.5px,#ebe918 65.5px,#b9d34b 67.5px,#8ac46f 70.5px,#80c489 73.5px,#a0ca59 77.5px,#c2d745 79.5px,#f2ec10 81.5px,#fee70b 82.5px,#fbb63a 84.5px,#f15a22 89.5px,#ef3b23 94.5px,#f26022 99.5px,#faaa3d 103.5px,#feda17 105.5px,#c1d646 106.5px,#8ec467 108.5px,#72c6b4 111.5px,#53c3dd 114.5px,#37bded 116.5px,#3a7ec2 122.5px,#3b64af 128px)"></i>
<i style="left:752px;top:723px;width:128px;height:1px;background:linear-gradient(90deg,#34439c 0,#3b60ad 26.5px,#3a8bcc 30.5px,#3ebfe9 32.5px,#6cc7ca 34.5px,#93c561 37.5px,#aecf51 38.5px,#f79234 39.5px,#f04a23 42.5px,#e91d25 45.5px,#d82128 51.5px,#ed2024 55.5px,#f36f26 59.5px,#f9a33b 61.5px,#fcbf32 62.5px,#f8ef08 64.5px,#c3d745 66.5px,#8dc467 69.5px,#7ac497 72.5px,#82c483 75.5px,#a7cd55 78.5px,#ccdb3c 80.5px,#fbf005 82.5px,#fbb13f 85.5px,#f26122 90.5px,#f15023 95.5px,#f5812d 100.5px,#faa63c 102.5px,#fcbb36 103.5px,#ffea07 105.5px,#c1d646 106.5px,#8ec467 108.5px,#72c6b4 111.5px,#53c3dd 114.5px,#37bded 116.5px,#3a7ec2 122.5px,#3b64af 128px)"></i>
<i style="left:752px;top:724px;width:128px;height:1px;background:linear-gradient(90deg,#34439c 0,#3b5eac 26.5px,#3a84c7 30.5px,#35bdee 32.5px,#65c7d3 34.5px,#78c49e 36.5px,#9ec95b 38.5px,#faa63c 39.5px,#f04c23 43.5px,#eb1d24 47.5px,#ed1e24 53.5px,#f36d25 58.5px,#fbb63a 61.5px,#ffee04 63.5px,#b7d34c 66.5px,#92c561 68.5px,#78c49e 71.5px,#77c4a1 74.5px,#9cc95b 78.5px,#d4de33 81.5px,#fff002 83.5px,#fbb040 86.5px,#f36e26 91.5px,#f36a24 96.5px,#faa63c 101.5px,#fdce23 103.5px,#fee40d 104.5px,#f5ee0b 105.5px,#c1d646 106.5px,#8ec467 108.5px,#72c6b4 111.5px,#53c3dd 114.5px,#37bded 116.5px,#3a7ec2 122.5px,#3b64af 128px)"></i>
<i style="left:752px;top:725px;width:128px;height:1px;background:linear-gradient(90deg,#34439c 0,#3b5dab 26.5px,#3b71b9 29.5px,#3991d0 31.5px,#41bfe8 33.5px,#6cc8ca 35.5px,#8dc467 38.5px,#fcbc35 39.5px,#f78c32 41.5px,#f15422 44.5px,#ee2c24 48.5px,#ee2f23 52.5px,#f37026 57.5px,#fbb23e 60.5px,#fee70b 62.5px,#f0eb12 63.5px,#bed547 65.5px,#89c471 68.5px,#77c4a0 70.5px,#72c5b3 73.5px,#7cc492 76.5px,#90c562 78.5px,#c3d745 81.5px,#ffee04 84.5px,#fbb53b 87.5px,#f5802d 92.5px,#f68930 97.5px,#fbac3e 100.5px,#f9ef07 104.5px,#c1d646 106.5px,#8ec467 108.5px,#72c6b4 111.5px,#53c3dd 114.5px,#37bded 116.5px,#3a7ec2 122.5px,#3b64af 128px)"></i>
<i style="left:752px;top:726px;width:128px;height:1px;background:linear-gradient(90deg,#34439c 0,#3b5fac 27.5px,#3a86c8 31.5px,#35bcee 33.5px,#6fc7c1 36.5px,#81c485 38.5px,#fdd31e 39.5px,#fcbb35 40.5px,#f79133 42.5px,#f04d23 47.5px,#f04623 51.5px,#f4792a 56.5px,#fbb33d 59.5px,#fee30e 61.5px,#f5ed0c 62.5px,#c4d744 64.5px,#8cc469 67.5px,#73c5af 70.5px,#6fc7c0 73.5px,#75c4a5 76.5px,#94c660 79.5px,#c5d843 82.5px,#fff002 85.5px,#fbb13f 89.5px,#f89535 94.5px,#fbb739 99.5px,#fee60c 102.5px,#f8ef08 103.5px,#c1d646 106.5px,#8ec467 108.5px,#72c6b4 111.5px,#53c3dd 114.5px,#37bded 116.5px,#3a7ec2 122.5px,#3b64af 128px)"></i>
<i style="left:752px;top:727px;width:128px;height:1px;background:linear-gradient(90deg,#34439c 0,#3b5eac 27.5px,#3b72b9 30.5px,#398fcf 32.5px,#3dbfea 34.5px,#68c7d2 36.5px,#76c4a3 38.5px,#ffed05 39.5px,#fbac3e 42.5px,#f36b24 47.5px,#f26823 52.5px,#faa63c 57.5px,#fdce23 59.5px,#fee40d 60.5px,#f6ee0b 61.5px,#c7d842 63.5px,#8fc463 66.5px,#73c5b0 69.5px,#6bc8ce 72.5px,#6fc7c1 75.5px,#7ec48d 78.5px,#96c65f 80.5px,#c5d844 83.5px,#fbf005 86.5px,#fbb43c 92.5px,#fcbd33 97.5px,#ffee04 101.5px,#bdd548 105.5px,#c1d646 106.5px,#8ec467 108.5px,#72c6b4 111.5px,#53c3dd 114.5px,#37bded 116.5px,#3a7ec2 122.5px,#3b64af 128px)"></i>
<i style="left:752px;top:728px;width:128px;height:1px;background:linear-gradient(90deg,#33439b 0,#3b60ad 28.5px,#3a84c7 32.5px,#36b4e8 34.5px,#6bc8cf 37.5px,#71c6b9 38.5px,#ebe917 39.5px,#fff101 40.5px,#fbb838 43.5px,#f6842f 48.5px,#f78f33 53.5px,#fbb33d 56.5px,#feea08 59.5px,#f3ec0e 60.5px,#c7d942 62.5px,#92c562 65.5px,#73c5af 68.5px,#63c6d4 71.5px,#62c6d5 74.5px,#75c4a4 78.5px,#96c75f 81.5px,#d2de35 85.5px,#fef102 88.5px,#fdce23 93.5px,#fee20f 98.5px,#f8ef08 100.5px,#bbd449 104.5px,#accf52 105.5px,#c1d646 106.5px,#8ec467 108.5px,#72c6b4 111.5px,#53c3dd 114.5px,#37bded 116.5px,#3a7ec2 122.5px,#3b64af 128px)"></i>
<i style="left:752px;top:729px;width:128px;height:1px;background:linear-gradient(90deg,#33439b 0,#3b5eab 28.5px,#3a7bc0 32.5px,#38a0da 34.5px,#35baec 35.5px,#6bc8ce 38.5px,#d1dd36 39.5px,#f8ef08 41.5px,#fdd71a 43.5px,#fbb23e 46.5px,#faa43b 51.5px,#fcb938 54.5px,#fef101 58.5px,#c5d844 61.5px,#92c561 64.5px,#6fc7c1 68.5px,#54c3dd 71.5px,#52c3de 74.5px,#6dc7c7 77.5px,#94c660 82.5px,#d7e02f 87.5px,#fdf102 91.5px,#faf006 97.5px,#a9ce54 104.5px,#9bc85c 105.5px,#c1d646 106.5px,#8ec467 108.5px,#72c6b4 111.5px,#53c3dd 114.5px,#37bded 116.5px,#3a7ec2 122.5px,#3b64af 128px)"></i>
<i style="left:752px;top:730px;width:128px;height:1px;background:linear-gradient(90deg,#33439b 0,#3b5fac 29.5px,#3a7ec3 33.5px,#35bdee 36.5px,#58c4da 38.5px,#bad44a 39.5px,#faf005 43.5px,#fcc52c 49.5px,#feda17 54.5px,#fff200 56.5px,#b1d04f 61.5px,#91c562 63.5px,#6fc7c1 67.5px,#44c0e6 71.5px,#42c0e7 74.5px,#6dc7c9 78.5px,#90c463 83.5px,#e0e424 91.5px,#e3e521 96.5px,#8bc46d 105.5px,#c1d646 106.5px,#8ec467 108.5px,#72c6b4 111.5px,#53c3dd 114.5px,#37bded 116.5px,#3a7ec2 122.5px,#3b64af 128px)"></i>
<i style="left:752px;top:731px;width:128px;height:1px;background:linear-gradient(90deg,#33439b 0,#3b5dab 29.5px,#3a80c4 34.5px,#35bced 37.5px,#44c0e5 38.5px,#a6cc56 39.5px,#dce229 43.5px,#ffef03 47.5px,#ffed05 52.5px,#f6ee0b 54.5px,#b8d34b 59.5px,#8ec465 62.5px,#6ec7c3 66.5px,#3cbeea 70.5px,#35b9eb 74.5px,#6cc8cc 79.5px,#95c660 85.5px,#c8d941 92.5px,#bdd548 98.5px,#90c463 103.5px,#7ec48d 105.5px,#c1d646 106.5px,#8ec467 108.5px,#72c6b4 111.5px,#53c3dd 114.5px,#37bded 116.5px,#3a7ec2 122.5px,#3b64af 128px)"></i>
<i style="left:752px;top:732px;width:128px;height:1px;background:linear-gradient(90deg,#33439b 0,#3b5eac 30.5px,#3a81c4 35.5px,#36b7ea 38.5px,#91c562 39.5px,#e1e423 47.5px,#e3e521 52.5px,#8ac46f 61.5px,#6ec7c5 65.5px,#36bded 69.5px,#389cd8 72.5px,#37abe2 75.5px,#3fbfe9 77.5px,#6fc7c1 81.5px,#94c660 87.5px,#b3d14e 94.5px,#90c462 101.5px,#74c5aa 105.5px,#c1d646 106.5px,#8ec467 108.5px,#72c6b4 111.5px,#53c3dd 114.5px,#37bded 116.5px,#3a7ec2 122.5px,#3b64af 128px)"></i>
<i style="left:752px;top:733px;width:128px;height:1px;background:linear-gradient(90deg,#33439b 0,#3b5eac 31.5px,#3a8bcc 37.5px,#389dd8 38.5px,#82c485 39.5px,#9ec95a 42.5px,#c6d843 49.5px,#b2d14e 55.5px,#8dc468 59.5px,#6cc7ca 64.5px,#36b8ea 68.5px,#3a8acc 71.5px,#3a89ca 74.5px,#39beec 78.5px,#6dc7c8 82.5px,#8ec467 89.5px,#98c75e 96.5px,#8cc46b 99.5px,#6fc7c1 105.5px,#c1d646 106.5px,#8ec467 108.5px,#72c6b4 111.5px,#53c3dd 114.5px,#37bded 116.5px,#3a7ec2 122.5px,#3b64af 128px)"></i>
<i style="left:752px;top:734px;width:128px;height:1px;background:linear-gradient(90deg,#33439b 0,#3b5fac 32.5px,#3a86c9 38.5px,#75c4a7 39.5px,#90c463 43.5px,#adcf52 50.5px,#8cc46c 57.5px,#6bc8d0 63.5px,#3cbeea 66.5px,#3a82c6 70.5px,#3a81c4 75.5px,#37a8e0 78.5px,#35bbed 79.5px,#6ec7c5 84.5px,#85c47d 91.5px,#86c47a 96.5px,#63c6d4 105.5px,#c1d646 106.5px,#8ec467 108.5px,#72c6b4 111.5px,#53c3dd 114.5px,#37bded 116.5px,#3a7ec2 122.5px,#3b64af 128px)"></i>
<i style="left:752px;top:735px;width:128px;height:1px;background:linear-gradient(90deg,#33439b 0,#3b5fac 33.5px,#3a7abf 38.5px,#6fc7c1 39.5px,#8cc469 46.5px,#90c462 52.5px,#7cc493 57.5px,#63c6d5 62.5px,#36bded 65.5px,#3a7cc1 69.5px,#3b70b7 74.5px,#3a8dcd 78.5px,#3abeeb 81.5px,#6dc7c7 86.5px,#78c49d 93.5px,#71c6b9 100.5px,#59c4da 104.5px,#4cc2e1 105.5px,#c1d646 106.5px,#8ec467 108.5px,#72c6b4 111.5px,#53c3dd 114.5px,#37bded 116.5px,#3a7ec2 122.5px,#3b64af 128px)"></i>
<i style="left:752px;top:736px;width:128px;height:1px;background:linear-gradient(90deg,#33439b 0,#3b5eac 34.5px,#3b6fb7 38.5px,#60c6d6 39.5px,#80c489 48.5px,#7dc491 53.5px,#65c7d3 60.5px,#36b5e8 64.5px,#3a80c4 67.5px,#3b64af 72.5px,#3b74bb 77.5px,#37a5de 81.5px,#3cbeea 83.5px,#6dc7c9 89.5px,#70c6bd 96.5px,#60c6d6 101.5px,#36bded 105.5px,#c1d646 106.5px,#8ec467 108.5px,#72c6b4 111.5px,#53c3dd 114.5px,#37bded 116.5px,#3a7ec2 122.5px,#3b64af 128px)"></i>
<i style="left:752px;top:737px;width:128px;height:1px;background:linear-gradient(90deg,#33439b 0,#3b5eab 35.5px,#3b65b0 38.5px,#48c1e4 39.5px,#6dc7ca 43.5px,#74c5ac 50.5px,#62c6d5 58.5px,#35bbed 62.5px,#3a7cc1 66.5px,#3b61ad 71.5px,#3b6fb7 78.5px,#3997d5 82.5px,#3abeeb 85.5px,#64c7d4 92.5px,#56c4dc 99.5px,#36bdee 103.5px,#389fda 105.5px,#c1d646 106.5px,#8ec467 108.5px,#72c6b4 111.5px,#53c3dd 114.5px,#37bded 116.5px,#3a7ec2 122.5px,#3b64af 128px)"></i>
<i style="left:752px;top:738px;width:128px;height:1px;background:linear-gradient(90deg,#33439b 0,#3b5fac 37.5px,#3b61ad 38.5px,#36b6e9 39.5px,#6bc8ce 47.5px,#60c6d6 55.5px,#35bbed 60.5px,#3a7fc3 64.5px,#3b60ad 69.5px,#3b64af 78.5px,#3996d3 84.5px,#3abeeb 88.5px,#4bc1e2 95.5px,#36b5e9 101.5px,#3a84c7 105.5px,#c1d646 106.5px,#8ec467 108.5px,#72c6b4 111.5px,#53c3dd 114.5px,#37bded 116.5px,#3a7ec2 122.5px,#3b64af 128px)"></i>
<i style="left:752px;top:739px;width:128px;height:1px;background:linear-gradient(90deg,#33439b 0,#3b5dab 38.5px,#3994d2 39.5px,#35bcee 42.5px,#55c3dc 49.5px,#3fbfe9 56.5px,#37a7df 59.5px,#3b70b8 64.5px,#3b58a8 73.5px,#3b71b9 82.5px,#36b7ea 92.5px,#37ace2 98.5px,#3b75bb 105.5px,#c1d646 106.5px,#8ec467 108.5px,#72c6b4 111.5px,#53c3dd 114.5px,#37bded 116.5px,#3a7ec2 122.5px,#3b64af 128px)"></i>
<i style="left:752px;top:740px;width:128px;height:1px;background:linear-gradient(90deg,#33439b 0,#3b5aa9 38.5px,#3a7dc2 39.5px,#36bded 47.5px,#36b6e9 54.5px,#3b64af 64.5px,#3b58a8 76.5px,#3a7abf 86.5px,#3995d3 95.5px,#3b66b0 105.5px,#c1d646 106.5px,#8ec467 108.5px,#72c6b4 111.5px,#53c3dd 114.5px,#37bded 116.5px,#3a7ec2 122.5px,#3b64af 128px)"></i>
<i style="left:752px;top:741px;width:128px;height:1px;background:linear-gradient(90deg,#33439b 0,#3b58a8 38.5px,#3b73ba 40.5px,#389ed9 50.5px,#3b5aa9 66.5px,#3b5dab 81.5px,#3a7dc2 95.5px,#3b61ad 105.5px,#c1d646 106.5px,#8ec467 108.5px,#72c6b4 111.5px,#53c3dd 114.5px,#37bded 116.5px,#3a7ec2 122.5px,#3b64af 128px)"></i>
<i style="left:752px;top:742px;width:128px;height:1px;background:linear-gradient(90deg,#33439b 0,#3b56a7 38.5px,#3a7abf 45.5px,#3a7bc0 54.5px,#3a53a5 69.5px,#3b6ab3 97.5px,#3b5baa 105.5px,#c1d646 106.5px,#8ec467 108.5px,#72c6b4 111.5px,#53c3dd 114.5px,#37bded 116.5px,#3a7ec2 122.5px,#3b64af 128px)"></i>
<i style="left:752px;top:743px;width:128px;height:1px;background:linear-gradient(90deg,#33439b 0,#3b54a6 38.5px,#3b6fb7 51.5px,#3a50a3 75.5px,#3b60ad 99.5px,#3b58a8 105.5px,#c1d646 106.5px,#8ec467 108.5px,#72c6b4 111.5px,#53c3dd 114.5px,#37bded 116.5px,#3a7ec2 122.5px,#3b64af 128px)"></i>
<i style="left:752px;top:744px;width:128px;height:2px;background:linear-gradient(90deg,#33439b 0,#3b5baa 42.5px,#3b55a7 62.5px,#3b57a8 87.5px,#3b54a6 105.5px,#c1d646 106.5px,#8ec467 108.5px,#72c6b4 111.5px,#53c3dd 114.5px,#37bded 116.5px,#3a7ec2 122.5px,#3b64af 128px)"></i>
<i style="left:752px;top:746px;width:128px;height:3px;background:linear-gradient(90deg,#33439b 0,#3a51a4 61.5px,#3a4fa3 105.5px,#c1d646 106.5px,#8ec467 108.5px,#72c6b4 111.5px,#53c3dd 114.5px,#37bded 116.5px,#3a7ec2 122.5px,#3b64af 128px)"></i>
<i style="left:752px;top:749px;width:128px;height:1px;background:linear-gradient(90deg,#33439b 0,#3a53a5 76.5px,#3b62ae 90.5px,#3a7cc1 92.5px,#389fda 93.5px,#47c1e4 94.5px,#6ec7c5 95.5px,#80c489 96.5px,#dfe425 98.5px,#fdd120 99.5px,#f89435 100.5px,#f26222 101.5px,#f04123 102.5px,#ee3223 103.5px,#ef3723 104.5px,#f15023 105.5px,#c1d646 106.5px,#8ec467 108.5px,#72c6b4 111.5px,#53c3dd 114.5px,#37bded 116.5px,#3a7ec2 122.5px,#3b64af 128px)"></i>
<i style="left:752px;top:750px;width:128px;height:1px;background:linear-gradient(90deg,#33439b 0,#3a53a5 76.5px,#3b62ae 90.5px,#3a80c4 92.5px,#37abe1 93.5px,#52c3de 94.5px,#71c6b6 95.5px,#8bc46d 96.5px,#bdd548 97.5px,#fff002 98.5px,#faa63c 99.5px,#f26322 100.5px,#ee2e24 101.5px,#e11f26 102.5px,#db2128 104.5px,#eb1d24 105.5px,#c1d646 106.5px,#8ec467 108.5px,#72c6b4 111.5px,#53c3dd 114.5px,#37bded 116.5px,#3a7ec2 122.5px,#3b64af 128px)"></i>
<i style="left:752px;top:751px;width:128px;height:1px;background:linear-gradient(90deg,#33439b 0,#3a53a5 75.5px,#3b62ae 90.5px,#3a81c5 92.5px,#36aee4 93.5px,#56c4dc 94.5px,#72c5b1 95.5px,#8fc464 96.5px,#c4d744 97.5px,#fee50d 98.5px,#f89937 99.5px,#f15422 100.5px,#ed1d24 101.5px,#cc242b 103.5px,#e01f27 105.5px,#c1d646 106.5px,#8ec467 108.5px,#72c6b4 111.5px,#53c3dd 114.5px,#37bded 116.5px,#3a7ec2 122.5px,#3b64af 128px)"></i>
<i style="left:752px;top:752px;width:128px;height:1px;background:linear-gradient(90deg,#33439b 0,#384aa0 38.5px,#3a53a5 46.5px,#3b5eab 89.5px,#3b6cb4 91.5px,#3a80c4 92.5px,#37a9e1 93.5px,#51c3de 94.5px,#71c6b8 95.5px,#8ac470 96.5px,#bbd44a 97.5px,#fdf102 98.5px,#faab3e 99.5px,#f26823 100.5px,#ef3323 101.5px,#e51e26 102.5px,#de2027 104.5px,#ed1e24 105.5px,#c1d646 106.5px,#8ec467 108.5px,#72c6b4 111.5px,#53c3dd 114.5px,#37bded 116.5px,#3a7ec2 122.5px,#3b64af 128px)"></i>
<i style="left:752px;top:753px;width:128px;height:1px;background:linear-gradient(90deg,#33439b 0,#37499f 38.5px,#3a53a5 42.5px,#3b5dab 89.5px,#3b69b2 91.5px,#389dd9 93.5px,#45c0e5 94.5px,#6dc7c8 95.5px,#7ec48e 96.5px,#d9e12d 98.5px,#fdd819 99.5px,#f99d38 100.5px,#f36c25 101.5px,#f04b23 102.5px,#ef3d23 103.5px,#f04223 104.5px,#f15a22 105.5px,#c1d646 106.5px,#8ec467 108.5px,#72c6b4 111.5px,#53c3dd 114.5px,#37bded 116.5px,#3a7ec2 122.5px,#3b64af 128px)"></i>
<i style="left:752px;top:754px;width:128px;height:1px;background:linear-gradient(90deg,#33439b 0,#37489f 38.5px,#3a53a5 41.5px,#3b5dab 89.5px,#3b76bc 92.5px,#3a8dcd 93.5px,#35bdee 94.5px,#5cc5d8 95.5px,#72c5b2 96.5px,#88c474 97.5px,#fee60b 100.5px,#fcbd33 101.5px,#f89535 103.5px,#f89a37 104.5px,#fbb040 105.5px,#c1d646 106.5px,#8ec467 108.5px,#72c6b4 111.5px,#53c3dd 114.5px,#37bded 116.5px,#3a7ec2 122.5px,#3b64af 128px)"></i>
<i style="left:752px;top:755px;width:128px;height:1px;background:linear-gradient(90deg,#33439b 0,#36479e 38.5px,#3a53a5 41.5px,#3b5cab 89.5px,#3b6fb7 92.5px,#3a81c5 93.5px,#43c0e6 95.5px,#67c7d2 96.5px,#87c478 98.5px,#f0eb12 102.5px,#f3ed0e 104.5px,#e2e522 105.5px,#c1d646 106.5px,#8ec467 108.5px,#72c6b4 111.5px,#53c3dd 114.5px,#37bded 116.5px,#3a7ec2 122.5px,#3b64af 128px)"></i>
<i style="left:752px;top:756px;width:128px;height:1px;background:linear-gradient(90deg,#33429b 0,#36479e 38.5px,#3a53a5 40.5px,#3b5baa 89.5px,#3a78be 93.5px,#3a8acb 94.5px,#36afe5 95.5px,#66c7d3 97.5px,#8ac46f 100.5px,#a4cc57 102.5px,#9ac85d 105.5px,#c1d646 106.5px,#8ec467 108.5px,#72c6b4 111.5px,#53c3dd 114.5px,#37bded 116.5px,#3a7ec2 122.5px,#3b64af 128px)"></i>
<i style="left:752px;top:757px;width:128px;height:1px;background:linear-gradient(90deg,#33429b 0,#35469d 38.5px,#3a53a5 40.5px,#3b5eac 90.5px,#3b70b8 93.5px,#3992d1 95.5px,#36b3e7 96.5px,#6cc7ca 99.5px,#78c49e 102.5px,#77c49f 104.5px,#74c5ab 105.5px,#c1d646 106.5px,#8ec467 108.5px,#72c6b4 111.5px,#53c3dd 114.5px,#37bded 116.5px,#3a7ec2 122.5px,#3b64af 128px)"></i>
<i style="left:752px;top:758px;width:128px;height:1px;background:linear-gradient(90deg,#33429b 0,#35469d 38.5px,#3a53a5 40.5px,#3b5dab 90.5px,#3b76bc 94.5px,#3dbfea 98.5px,#68c7d1 102.5px,#5dc5d8 105.5px,#c1d646 106.5px,#8ec467 108.5px,#72c6b4 111.5px,#53c3dd 114.5px,#37bded 116.5px,#3a7ec2 122.5px,#3b64af 128px)"></i>
<i style="left:752px;top:759px;width:128px;height:1px;background:linear-gradient(90deg,#33429b 0,#35459d 38.5px,#3a53a5 40.5px,#3b5dab 90.5px,#3a7bc0 95.5px,#35baec 99.5px,#46c0e4 103.5px,#3bbeea 105.5px,#c1d646 106.5px,#8ec467 108.5px,#72c6b4 111.5px,#53c3dd 114.5px,#37bded 116.5px,#3a7ec2 122.5px,#3b64af 128px)"></i>
<i style="left:964px;top:672px;width:136px;height:2px;background:linear-gradient(90deg,#394ca1 0,#2d3593 51.5px,#dae12c 52.5px,#9fca5a 63.5px,#8fc463 66.5px,#6dc7c6 72.5px,#3fbfe9 76.5px,#3b6ab3 78.5px,#32409a 82.5px,#3b66b0 86.5px,#389fda 87.5px,#60c6d6 88.5px,#a3cb57 90.5px,#dbe22a 91.5px,#f89736 92.5px,#ea1d25 93.5px,#961d1e 94.5px,#8b1a1a 97.5px,#8b1a1a 123.5px,#971d1e 124.5px,#d42229 125.5px,#f04a23 126.5px,#bad44a 127.5px,#8ac46e 132.5px,#78c49e 136px)"></i>
<i style="left:964px;top:674px;width:136px;height:2px;background:linear-gradient(90deg,#394ca1 0,#2d3794 40.5px,#2a308f 51.5px,#dae12c 52.5px,#9fca5a 63.5px,#8fc463 66.5px,#6dc7c6 72.5px,#3fbfe9 76.5px,#3b6ab3 78.5px,#32409a 82.5px,#3b66b0 86.5px,#389fda 87.5px,#60c6d6 88.5px,#a3cb57 90.5px,#dbe22a 91.5px,#f89736 92.5px,#ea1d25 93.5px,#961d1e 94.5px,#8b1a1a 97.5px,#8b1a1a 123.5px,#971d1e 124.5px,#d42229 125.5px,#f04a23 126.5px,#bad44a 127.5px,#8ac46e 132.5px,#78c49e 136px)"></i>
<i style="left:964px;top:676px;width:136px;height:2px;background:linear-gradient(90deg,#394ca1 0,#2e3895 35.5px,#292e8c 51.5px,#dae12c 52.5px,#9fca5a 63.5px,#8fc463 66.5px,#6dc7c6 72.5px,#3fbfe9 76.5px,#3b6ab3 78.5px,#32409a 82.5px,#3b66b0 86.5px,#389fda 87.5px,#60c6d6 88.5px,#a3cb57 90.5px,#dbe22a 91.5px,#f89736 92.5px,#ea1d25 93.5px,#961d1e 94.5px,#8b1a1a 97.5px,#8b1a1a 123.5px,#971d1e 124.5px,#d42229 125.5px,#f04a23 126.5px,#bad44a 127.5px,#8ac46e 132.5px,#78c49e 136px)"></i>
<i style="left:964px;top:678px;width:136px;height:2px;background:linear-gradient(90deg,#394ca1 0,#2e3895 32.5px,#282c89 51.5px,#dae12c 52.5px,#9fca5a 63.5px,#8fc463 66.5px,#6dc7c6 72.5px,#3fbfe9 76.5px,#3b6ab3 78.5px,#32409a 82.5px,#3b66b0 86.5px,#389fda 87.5px,#60c6d6 88.5px,#a3cb57 90.5px,#dbe22a 91.5px,#f89736 92.5px,#ea1d25 93.5px,#961d1e 94.5px,#8b1a1a 97.5px,#8b1a1a 123.5px,#971d1e 124.5px,#d42229 125.5px,#f04a23 126.5px,#bad44a 127.5px,#8ac46e 132.5px,#78c49e 136px)"></i>
<i style="left:964px;top:680px;width:136px;height:2px;background:linear-gradient(90deg,#394ca1 0,#2d3794 30.5px,#282c89 51.5px,#dae12c 52.5px,#9fca5a 63.5px,#8fc463 66.5px,#6dc7c6 72.5px,#3fbfe9 76.5px,#3b6ab3 78.5px,#32409a 82.5px,#3b66b0 86.5px,#389fda 87.5px,#60c6d6 88.5px,#a3cb57 90.5px,#dbe22a 91.5px,#f89736 92.5px,#ea1d25 93.5px,#961d1e 94.5px,#8b1a1a 97.5px,#8b1a1a 123.5px,#971d1e 124.5px,#d42229 125.5px,#f04a23 126.5px,#bad44a 127.5px,#8ac46e 132.5px,#78c49e 136px)"></i>
<i style="left:964px;top:682px;width:136px;height:1px;background:linear-gradient(90deg,#394ca1 0,#2e3795 28.5px,#272a87 53.5px,#3b56a7 54.5px,#3b56a7 67.5px,#2e3996 68.5px,#3b56a7 69.5px,#3b56a7 87.5px,#2e3996 88.5px,#2e3996 90.5px,#3b56a7 91.5px,#3b60ad 101.5px,#3a80c4 104.5px,#37a5de 106.5px,#3a77bd 113.5px,#f26322 114.5px,#faab3e 118.5px,#fff101 122.5px,#c5d844 126.5px,#8ac46e 132.5px,#78c49e 136px)"></i>
<i style="left:964px;top:683px;width:136px;height:1px;background:linear-gradient(90deg,#394ca1 0,#2e3795 27.5px,#292e8d 47.5px,#272b87 53.5px,#3b56a7 54.5px,#3b56a7 67.5px,#2e3996 68.5px,#2e3996 69.5px,#3b56a7 70.5px,#3b56a7 88.5px,#2e3996 89.5px,#2e3996 91.5px,#3b56a7 92.5px,#3b5fac 100.5px,#3a7bc0 103.5px,#37bded 106.5px,#3a83c6 113.5px,#f26322 114.5px,#faab3e 118.5px,#fff101 122.5px,#c5d844 126.5px,#8ac46e 132.5px,#78c49e 136px)"></i>
<i style="left:964px;top:684px;width:136px;height:1px;background:linear-gradient(90deg,#394ca1 0,#2e3795 26.5px,#292e8d 44.5px,#2c3593 51.5px,#282b88 53.5px,#3b56a7 54.5px,#3b56a7 67.5px,#2e3996 68.5px,#2e3996 69.5px,#3b56a7 70.5px,#3b56a7 88.5px,#2e3996 89.5px,#2e3996 91.5px,#3b56a7 92.5px,#3b5dab 99.5px,#3b75bc 102.5px,#389ed9 104.5px,#35bdee 105.5px,#46c0e5 106.5px,#36b6e9 110.5px,#3997d4 113.5px,#f26322 114.5px,#faab3e 118.5px,#fff101 122.5px,#c5d844 126.5px,#8ac46e 132.5px,#78c49e 136px)"></i>
<i style="left:964px;top:685px;width:136px;height:1px;background:linear-gradient(90deg,#394ca1 0,#2e3895 25.5px,#292e8c 41.5px,#303c97 51.5px,#282c8a 53.5px,#3b56a7 54.5px,#3b56a7 68.5px,#2e3996 69.5px,#3b56a7 70.5px,#3b56a7 88.5px,#2e3996 89.5px,#2e3996 91.5px,#3b56a7 92.5px,#3b60ad 99.5px,#3a7ec3 102.5px,#36b1e6 104.5px,#53c3dd 106.5px,#42c0e7 110.5px,#36b0e5 113.5px,#f26322 114.5px,#faab3e 118.5px,#fff101 122.5px,#c5d844 126.5px,#8ac46e 132.5px,#78c49e 136px)"></i>
<i style="left:964px;top:686px;width:136px;height:1px;background:linear-gradient(90deg,#394ca1 0,#2d3694 25.5px,#292f8e 40.5px,#33439b 51.5px,#292d8b 52.5px,#292d8b 53.5px,#3b59a9 54.5px,#3b56a7 68.5px,#2e3996 69.5px,#3b56a7 70.5px,#3b56a7 88.5px,#2e3996 89.5px,#2e3996 91.5px,#3b56a7 92.5px,#3b58a8 98.5px,#3a88ca 102.5px,#39beec 104.5px,#6ac8d0 107.5px,#3ebfe9 113.5px,#f26322 114.5px,#faab3e 118.5px,#fff101 122.5px,#c5d844 126.5px,#8ac46e 132.5px,#78c49e 136px)"></i>
<i style="left:964px;top:687px;width:136px;height:1px;background:linear-gradient(90deg,#394ca1 0,#2d3694 24.5px,#292e8d 38.5px,#36469e 51.5px,#292f8e 52.5px,#292f8e 53.5px,#3b60ad 54.5px,#3b56a7 68.5px,#2e3996 69.5px,#3b56a7 70.5px,#3b56a7 89.5px,#2e3996 90.5px,#2e3996 92.5px,#3b56a7 93.5px,#3b59a9 98.5px,#3899d6 102.5px,#36b7ea 103.5px,#6cc8cc 106.5px,#70c6bc 107.5px,#50c2df 113.5px,#f26322 114.5px,#faab3e 118.5px,#fff101 122.5px,#c5d844 126.5px,#8ac46e 132.5px,#78c49e 136px)"></i>
<i style="left:964px;top:688px;width:136px;height:1px;background:linear-gradient(90deg,#394ca1 0,#2d3794 23.5px,#292f8e 37.5px,#384ba0 51.5px,#2c3492 52.5px,#2c3492 53.5px,#3b68b1 54.5px,#3b56a7 66.5px,#3b56a7 68.5px,#2e3996 69.5px,#2e3996 70.5px,#3b56a7 71.5px,#3b56a7 89.5px,#2e3996 90.5px,#2e3996 92.5px,#3b56a7 93.5px,#3b5aa9 98.5px,#398ece 101.5px,#3ebfe9 103.5px,#6ac8d0 105.5px,#74c5ac 107.5px,#62c6d5 113.5px,#f26322 114.5px,#faab3e 118.5px,#fff101 122.5px,#c5d844 126.5px,#8ac46e 132.5px,#78c49e 136px)"></i>
<i style="left:964px;top:689px;width:136px;height:1px;background:linear-gradient(90deg,#394ca1 0,#2c3593 23.5px,#2a2f8e 36.5px,#3a50a3 51.5px,#313f99 52.5px,#323f99 53.5px,#3a7bc0 54.5px,#3b75bc 57.5px,#3b5caa 60.5px,#3b56a7 69.5px,#2e3996 70.5px,#3b56a7 71.5px,#3b56a7 89.5px,#2e3996 90.5px,#2e3996 92.5px,#3b56a7 93.5px,#3b5baa 98.5px,#3b68b1 99.5px,#35bdee 102.5px,#6ec7c3 105.5px,#79c49b 107.5px,#73c5ad 110.5px,#6dc7c6 113.5px,#f26322 114.5px,#faab3e 118.5px,#fff101 122.5px,#c5d844 126.5px,#8ac46e 132.5px,#78c49e 136px)"></i>
<i style="left:964px;top:690px;width:136px;height:1px;background:linear-gradient(90deg,#394ca1 0,#2d3694 22.5px,#292e8d 34.5px,#3a53a5 50.5px,#34449c 53.5px,#3997d4 54.5px,#3a8bcc 57.5px,#3b62ae 60.5px,#3b56a7 69.5px,#2e3996 70.5px,#3b56a7 71.5px,#3b56a7 89.5px,#2e3996 90.5px,#2e3996 92.5px,#3b56a7 93.5px,#3b5cab 98.5px,#3b6bb4 99.5px,#36b2e6 101.5px,#57c4db 103.5px,#71c6b5 105.5px,#81c486 107.5px,#85c47c 108.5px,#72c5b3 113.5px,#f26322 114.5px,#faab3e 118.5px,#fff101 122.5px,#c5d844 126.5px,#8ac46e 132.5px,#78c49e 136px)"></i>
<i style="left:964px;top:691px;width:136px;height:1px;background:linear-gradient(90deg,#394ca1 0,#2d3794 21.5px,#292e8d 33.5px,#3b55a6 49.5px,#3b56a7 51.5px,#37499f 53.5px,#38beec 54.5px,#36b4e8 57.5px,#3b6fb7 60.5px,#3b56a7 65.5px,#3b56a7 69.5px,#2e3996 70.5px,#3b56a7 71.5px,#3b56a7 89.5px,#2e3996 90.5px,#2e3996 93.5px,#3b56a7 94.5px,#3b5dab 98.5px,#3b6eb6 99.5px,#39beec 101.5px,#6fc7c0 104.5px,#91c562 108.5px,#77c49f 113.5px,#f26322 114.5px,#faab3e 118.5px,#fff101 122.5px,#c5d844 126.5px,#8ac46e 132.5px,#78c49e 136px)"></i>
<i style="left:964px;top:692px;width:136px;height:1px;background:linear-gradient(90deg,#394ca1 0,#2c3593 21.5px,#292e8d 32.5px,#3b56a7 47.5px,#3b59a9 51.5px,#3a4ea2 53.5px,#57c4db 54.5px,#4cc2e1 57.5px,#3ebfe9 58.5px,#3a83c6 60.5px,#3b5fac 63.5px,#3b56a7 69.5px,#2e3996 70.5px,#2e3996 71.5px,#3b56a7 72.5px,#3b56a7 90.5px,#2e3996 91.5px,#2e3996 93.5px,#3b56a7 94.5px,#3b5fac 98.5px,#3b72b9 99.5px,#37a5de 100.5px,#45c0e5 101.5px,#6cc8cb 103.5px,#92c561 107.5px,#a2cb58 108.5px,#87c478 112.5px,#82c484 113.5px,#f26322 114.5px,#faab3e 118.5px,#fff101 122.5px,#c5d844 126.5px,#8ac46e 132.5px,#78c49e 136px)"></i>
<i style="left:964px;top:693px;width:136px;height:1px;background:linear-gradient(90deg,#394ca1 0,#2d3794 20.5px,#292e8c 31.5px,#3b58a8 46.5px,#3b60ad 51.5px,#3a52a5 53.5px,#6ec7c3 54.5px,#60c6d6 58.5px,#42c0e7 59.5px,#37a8e0 60.5px,#3a85c8 61.5px,#3b60ad 64.5px,#3b56a7 69.5px,#2e3996 70.5px,#2e3996 71.5px,#3b56a7 72.5px,#3b56a7 90.5px,#2e3996 91.5px,#2e3996 93.5px,#3b56a7 94.5px,#3b60ad 98.5px,#3b75bb 99.5px,#37ace2 100.5px,#51c3de 101.5px,#6fc6be 103.5px,#8dc467 106.5px,#afd050 108.5px,#8cc46a 113.5px,#f26322 114.5px,#faab3e 118.5px,#fff101 122.5px,#c5d844 126.5px,#8ac46e 132.5px,#78c49e 136px)"></i>
<i style="left:964px;top:694px;width:136px;height:1px;background:linear-gradient(90deg,#394ca1 0,#2c3493 20.5px,#292f8e 31.5px,#3b5dab 46.5px,#3b69b2 51.5px,#3b57a8 52.5px,#3b57a8 53.5px,#77c4a0 54.5px,#71c6b7 58.5px,#44c0e5 60.5px,#37abe2 61.5px,#3a87c9 62.5px,#3b5baa 65.5px,#3b56a7 69.5px,#2e3996 70.5px,#2e3996 71.5px,#3b56a7 72.5px,#3b56a7 90.5px,#2e3996 91.5px,#2e3996 93.5px,#3b56a7 94.5px,#3b61ad 98.5px,#3a78be 99.5px,#36b3e7 100.5px,#5dc5d8 101.5px,#7bc496 104.5px,#97c75e 106.5px,#bbd449 108.5px,#9ac85d 113.5px,#f26322 114.5px,#faab3e 118.5px,#fff101 122.5px,#c5d844 126.5px,#8ac46e 132.5px,#78c49e 136px)"></i>
<i style="left:964px;top:695px;width:136px;height:1px;background:linear-gradient(90deg,#394ca1 0,#2d3694 19.5px,#292e8d 30.5px,#3b61ad 45.5px,#3a7bc0 51.5px,#3b5fac 52.5px,#3b5fac 53.5px,#8ac46f 54.5px,#7ec48d 58.5px,#64c7d4 60.5px,#45c0e5 61.5px,#37ace2 62.5px,#3a87c9 63.5px,#3b58a8 66.5px,#3b56a7 70.5px,#2e3996 71.5px,#3b56a7 72.5px,#3b56a7 90.5px,#2e3996 91.5px,#2e3996 93.5px,#3b56a7 94.5px,#3b62ae 98.5px,#3a7bc0 99.5px,#35b9eb 100.5px,#69c8d1 101.5px,#82c484 104.5px,#90c462 105.5px,#c7d942 108.5px,#cddb3b 109.5px,#a9ce54 113.5px,#f26322 114.5px,#faab3e 118.5px,#fff101 122.5px,#c5d844 126.5px,#8ac46e 132.5px,#78c49e 136px)"></i>
<i style="left:964px;top:696px;width:136px;height:1px;background:linear-gradient(90deg,#394ca1 0,#2c3593 19.5px,#292e8d 29.5px,#3b64af 44.5px,#3a8dcd 51.5px,#3b6ab3 52.5px,#3b6bb4 53.5px,#a5cc56 54.5px,#92c561 58.5px,#63c6d4 61.5px,#45c0e5 62.5px,#37abe2 63.5px,#3b6cb4 65.5px,#3b56a7 67.5px,#3b56a7 70.5px,#2e3996 71.5px,#3b56a7 72.5px,#3b56a7 90.5px,#2e3996 91.5px,#2e3996 93.5px,#3b56a7 94.5px,#3b63ae 98.5px,#3a7ec2 99.5px,#37bded 100.5px,#6dc7c8 101.5px,#89c473 104.5px,#e2e522 109.5px,#b8d34b 113.5px,#f26322 114.5px,#faab3e 118.5px,#fff101 122.5px,#c5d844 126.5px,#8ac46e 132.5px,#78c49e 136px)"></i>
<i style="left:964px;top:697px;width:136px;height:1px;background:linear-gradient(90deg,#394ca1 0,#2b3392 19.5px,#2a2f8e 29.5px,#3b66b0 43.5px,#37ace3 51.5px,#3a83c6 52.5px,#3a84c7 53.5px,#c4d744 54.5px,#aecf51 58.5px,#97c75e 59.5px,#71c6b9 61.5px,#42c0e7 63.5px,#37a7df 64.5px,#3b62ae 66.5px,#3b56a7 70.5px,#2e3996 71.5px,#3b56a7 72.5px,#3b59a9 85.5px,#3b56a7 90.5px,#2e3996 91.5px,#2e3996 94.5px,#3b56a7 95.5px,#3b64af 98.5px,#3a81c4 99.5px,#3bbeeb 100.5px,#6ec7c3 101.5px,#8fc463 104.5px,#cbda3d 107.5px,#f7ee0a 109.5px,#c7d942 113.5px,#f26322 114.5px,#faab3e 118.5px,#fff101 122.5px,#c5d844 126.5px,#8ac46e 132.5px,#78c49e 136px)"></i>
<i style="left:964px;top:698px;width:136px;height:1px;background:linear-gradient(90deg,#394ca1 0,#2d3593 18.5px,#292e8d 28.5px,#3b63ae 41.5px,#37a5de 47.5px,#3cbeea 50.5px,#40bfe8 51.5px,#36b0e5 52.5px,#36b2e7 53.5px,#ebe917 54.5px,#ccdb3c 58.5px,#93c561 60.5px,#6fc6bd 62.5px,#3ebfe9 64.5px,#389ad6 65.5px,#3b6ab3 66.5px,#3b56a7 68.5px,#3b56a7 70.5px,#2e3996 71.5px,#3b56a7 72.5px,#3b5fac 84.5px,#3b56a7 91.5px,#2e3996 92.5px,#2e3996 94.5px,#3b56a7 95.5px,#3b65af 98.5px,#3a84c7 99.5px,#3fbfe9 100.5px,#6fc7bf 101.5px,#88c474 103.5px,#d8e02d 107.5px,#f3ec0e 108.5px,#fee50d 109.5px,#fef201 110.5px,#dae12c 113.5px,#f26322 114.5px,#faab3e 118.5px,#fff101 122.5px,#c5d844 126.5px,#8ac46e 132.5px,#78c49e 136px)"></i>
<i style="left:964px;top:699px;width:136px;height:1px;background:linear-gradient(90deg,#394ca1 0,#2c3492 18.5px,#2a2f8f 28.5px,#3b63ae 40.5px,#37a3dd 45.5px,#3abeeb 47.5px,#59c4da 51.5px,#51c3df 53.5px,#fedc15 54.5px,#faf006 57.5px,#f2ec10 58.5px,#dbe12b 59.5px,#8dc467 61.5px,#77c49e 62.5px,#56c4dc 64.5px,#37bded 65.5px,#3a7ac0 66.5px,#3b60ad 67.5px,#3b56a7 70.5px,#2e3996 71.5px,#2e3996 72.5px,#3b56a7 73.5px,#3b67b1 81.5px,#3b56a7 91.5px,#2e3996 92.5px,#2e3996 94.5px,#3b56a7 95.5px,#3b66b0 98.5px,#3a86c9 99.5px,#42c0e7 100.5px,#70c6bb 101.5px,#81c486 102.5px,#8ec465 103.5px,#ccdb3c 106.5px,#fff001 108.5px,#fdd21f 109.5px,#ffec06 111.5px,#ece916 113.5px,#f26322 114.5px,#faab3e 118.5px,#fff101 122.5px,#c5d844 126.5px,#8ac46e 132.5px,#78c49e 136px)"></i>
<i style="left:964px;top:700px;width:136px;height:1px;background:linear-gradient(90deg,#394ca1 0,#2b3291 18.5px,#292e8d 27.5px,#3b6cb5 40.5px,#37bded 45.5px,#6cc8ce 50.5px,#6dc7c7 53.5px,#fbb040 54.5px,#fdd819 58.5px,#ffec06 59.5px,#cfdc38 60.5px,#88c475 62.5px,#6cc8cc 64.5px,#4fc2e0 65.5px,#398dce 66.5px,#3b66b0 67.5px,#3b56a7 70.5px,#2e3996 71.5px,#2e3996 72.5px,#3b56a7 73.5px,#3b5eac 78.5px,#3b75bc 82.5px,#3b56a7 89.5px,#3b56a7 91.5px,#2e3996 92.5px,#2e3996 94.5px,#3b56a7 95.5px,#3b68b1 98.5px,#3a89cb 99.5px,#46c0e5 100.5px,#71c6b7 101.5px,#87c477 102.5px,#abce53 104.5px,#d8e02e 106.5px,#f2ec0f 107.5px,#fee20f 108.5px,#fcc42d 109.5px,#fef101 113.5px,#f26322 114.5px,#faab3e 118.5px,#fff101 122.5px,#c5d844 126.5px,#8ac46e 132.5px,#78c49e 136px)"></i>
<i style="left:964px;top:701px;width:136px;height:1px;background:linear-gradient(90deg,#394ca1 0,#2c3593 17.5px,#2a2f8f 27.5px,#3b6ab3 39.5px,#389ad6 42.5px,#3cbeea 44.5px,#6dc7c6 48.5px,#76c4a4 53.5px,#f6862f 54.5px,#fbb040 58.5px,#fcbf31 59.5px,#f5ee0c 60.5px,#c2d745 61.5px,#9dc95b 62.5px,#72c5b3 64.5px,#65c7d3 65.5px,#36aee4 66.5px,#3b73ba 67.5px,#3b56a7 69.5px,#3b56a7 70.5px,#2e3996 71.5px,#2e3996 72.5px,#3b56a7 73.5px,#3b60ad 78.5px,#3a7ec3 82.5px,#3b56a7 89.5px,#3b56a7 91.5px,#2e3996 92.5px,#2e3996 94.5px,#3b56a7 95.5px,#3b6ab3 98.5px,#398ece 99.5px,#49c1e3 100.5px,#72c5b3 101.5px,#8dc469 102.5px,#c9d940 105.5px,#fef201 107.5px,#fbb63b 109.5px,#fcc52c 111.5px,#fee110 113.5px,#f26322 114.5px,#faab3e 118.5px,#fff101 122.5px,#c5d844 126.5px,#8ac46e 132.5px,#78c49e 136px)"></i>
<i style="left:964px;top:702px;width:136px;height:1px;background:linear-gradient(90deg,#394ca1 0,#2c3392 17.5px,#292e8d 26.5px,#3b66b0 38.5px,#3899d5 41.5px,#3fbfe9 43.5px,#6dc7c9 46.5px,#86c479 52.5px,#88c475 53.5px,#f15c22 54.5px,#f89435 59.5px,#fdd41d 60.5px,#e3e521 61.5px,#b5d24d 62.5px,#91c562 63.5px,#6fc7c0 65.5px,#41bfe7 66.5px,#3a80c4 67.5px,#3b62ae 68.5px,#3b56a7 71.5px,#2e3996 72.5px,#3b56a7 73.5px,#3b62ae 78.5px,#3a87c9 82.5px,#3b56a7 89.5px,#3b56a7 91.5px,#2e3996 92.5px,#2e3996 94.5px,#3b56a7 95.5px,#3b6cb4 98.5px,#3992d1 99.5px,#4cc2e1 100.5px,#73c5b0 101.5px,#93c660 102.5px,#d3de33 105.5px,#eeea14 106.5px,#fee70b 107.5px,#faa83d 109.5px,#faa43b 110.5px,#fbb23e 111.5px,#fdcf21 113.5px,#f26322 114.5px,#faab3e 118.5px,#fff101 122.5px,#c5d844 126.5px,#8ac46e 132.5px,#78c49e 136px)"></i>
<i style="left:964px;top:703px;width:136px;height:1px;background:linear-gradient(90deg,#394ca1 0,#2b3291 17.5px,#292f8e 26.5px,#3b64af 37.5px,#3994d2 40.5px,#3ebfe9 42.5px,#6ec7c4 45.5px,#91c562 50.5px,#a1ca59 53.5px,#ef3423 54.5px,#f36f26 59.5px,#fbac3e 60.5px,#ffeb06 61.5px,#cfdc38 62.5px,#88c476 64.5px,#57c4db 66.5px,#3993d2 67.5px,#3b67b1 68.5px,#3b56a7 71.5px,#2e3996 72.5px,#3b56a7 73.5px,#3b64af 78.5px,#3995d3 82.5px,#3b56a7 89.5px,#3b56a7 91.5px,#2e3996 92.5px,#2e3996 94.5px,#3b56a7 95.5px,#3b6eb6 98.5px,#3996d4 99.5px,#4fc2df 100.5px,#74c5ac 101.5px,#9bc85c 102.5px,#c3d745 104.5px,#f8ef08 106.5px,#fcbc34 108.5px,#f99c38 109.5px,#f79234 110.5px,#fbb040 112.5px,#fcbf32 113.5px,#f26322 114.5px,#faab3e 118.5px,#fff101 122.5px,#c5d844 126.5px,#8ac46e 132.5px,#78c49e 136px)"></i>
<i style="left:964px;top:704px;width:136px;height:1px;background:linear-gradient(90deg,#394ca1 0,#2b3191 17.5px,#2a308f 26.5px,#3b6cb4 37.5px,#37a8e0 40.5px,#3bbeeb 41.5px,#6ec7c2 44.5px,#93c561 48.5px,#bcd449 52.5px,#c0d647 53.5px,#e41e26 54.5px,#ee2624 56.5px,#f04b23 59.5px,#f6852f 60.5px,#fcc829 61.5px,#edea15 62.5px,#bcd449 63.5px,#97c75e 64.5px,#6bc8ce 66.5px,#36ade3 67.5px,#3b72b9 68.5px,#3b56a7 70.5px,#3b56a7 71.5px,#2e3996 72.5px,#3b56a7 73.5px,#3b66b0 78.5px,#37a5dd 82.5px,#3b56a7 89.5px,#3b56a7 91.5px,#2e3996 92.5px,#2e3996 94.5px,#3b56a7 95.5px,#3b5eac 97.5px,#3b70b7 98.5px,#389ad6 99.5px,#52c3de 100.5px,#74c5a9 101.5px,#a1cb58 102.5px,#cbda3d 104.5px,#ffef03 106.5px,#fbb13f 108.5px,#f79033 109.5px,#f5822d 110.5px,#fbaf40 113.5px,#f26322 114.5px,#faab3e 118.5px,#fff101 122.5px,#c5d844 126.5px,#8ac46e 132.5px,#78c49e 136px)"></i>
<i style="left:964px;top:705px;width:136px;height:1px;background:linear-gradient(90deg,#394ca1 0,#2c3493 16.5px,#292e8d 25.5px,#3b65af 36.5px,#389ed9 39.5px,#35bced 40.5px,#6ec7c4 43.5px,#9bc85c 47.5px,#e4e620 52.5px,#e9e81a 53.5px,#cd242b 54.5px,#ed1d24 58.5px,#ee2a24 59.5px,#f26022 60.5px,#faa63c 61.5px,#fee60b 62.5px,#89c472 65.5px,#71c6b8 66.5px,#3cbeea 67.5px,#3a7dc1 68.5px,#3b61ad 69.5px,#3b56a7 71.5px,#2e3996 72.5px,#3b56a7 73.5px,#3b60ad 77.5px,#3a82c6 79.5px,#36b3e7 82.5px,#36b0e5 83.5px,#3a80c4 86.5px,#3b56a7 89.5px,#3b56a7 91.5px,#2e3996 92.5px,#2e3996 94.5px,#3b56a7 95.5px,#3b5cab 97.5px,#3b71b9 98.5px,#389dd9 99.5px,#55c3dc 100.5px,#75c4a6 101.5px,#a4cb57 102.5px,#d4de33 104.5px,#efeb12 105.5px,#fee50d 106.5px,#faa63c 108.5px,#f47227 110.5px,#f9a13a 113.5px,#f26322 114.5px,#faab3e 118.5px,#fff101 122.5px,#c5d844 126.5px,#8ac46e 132.5px,#78c49e 136px)"></i>
<i style="left:964px;top:706px;width:136px;height:1px;background:linear-gradient(90deg,#394ca1 0,#2c3392 16.5px,#292f8e 25.5px,#3b6cb4 36.5px,#3990d0 38.5px,#36afe4 39.5px,#59c4da 41.5px,#7cc492 44.5px,#8bc46d 45.5px,#c8d940 48.5px,#f5ed0c 50.5px,#ffeb07 51.5px,#fdd819 53.5px,#b62429 54.5px,#e21f26 59.5px,#ef3e23 60.5px,#f6862f 61.5px,#fdc928 62.5px,#ece916 63.5px,#bbd449 64.5px,#96c75f 65.5px,#4cc2e1 67.5px,#3a87c9 68.5px,#3b64af 69.5px,#3b56a7 71.5px,#2e3996 72.5px,#3b56a7 73.5px,#3b61ad 77.5px,#3a87c9 79.5px,#37a6df 80.5px,#37bded 83.5px,#3a7ec2 87.5px,#3b61ae 88.5px,#3b56a7 91.5px,#2f3a96 92.5px,#2f3b97 95.5px,#3b56a7 96.5px,#3b5baa 97.5px,#3b73ba 98.5px,#38a1db 99.5px,#57c4db 100.5px,#76c4a4 101.5px,#a6cc56 102.5px,#dce22a 104.5px,#f7ef09 105.5px,#fedc15 106.5px,#fcbd33 107.5px,#f99d38 108.5px,#f26422 110.5px,#f89334 113.5px,#f26322 114.5px,#faab3e 118.5px,#fff101 122.5px,#c5d844 126.5px,#8ac46e 132.5px,#78c49e 136px)"></i>
<i style="left:964px;top:707px;width:136px;height:1px;background:linear-gradient(90deg,#394ca1 0,#2b3392 16.5px,#2a2f8f 25.5px,#3b64af 35.5px,#389fda 38.5px,#37bded 39.5px,#67c7d2 41.5px,#78c49c 43.5px,#9dc95b 45.5px,#cfdc39 47.5px,#edea16 48.5px,#fee80a 49.5px,#fcb937 51.5px,#f9a33b 53.5px,#9d1e20 54.5px,#d0232a 59.5px,#ed1e24 60.5px,#f26823 61.5px,#fbad3f 62.5px,#ffed05 63.5px,#cddb3b 64.5px,#a5cc56 65.5px,#80c489 66.5px,#5cc5d8 67.5px,#3899d5 68.5px,#3b69b3 69.5px,#3b56a7 70.5px,#3b56a7 71.5px,#2e3996 72.5px,#3b56a7 73.5px,#3b62ae 77.5px,#398fce 79.5px,#36b2e7 80.5px,#41bfe7 83.5px,#35baec 84.5px,#3a84c7 87.5px,#3b64af 88.5px,#3b56a7 91.5px,#3b56a7 92.5px,#2e3996 93.5px,#2f3a96 95.5px,#3b56a7 96.5px,#3b59a9 97.5px,#3b74bb 98.5px,#37a4dd 99.5px,#59c4da 100.5px,#76c4a1 101.5px,#a8cd55 102.5px,#e3e521 104.5px,#fff200 105.5px,#fbb53c 107.5px,#f15722 110.5px,#f6872f 113.5px,#f26322 114.5px,#faab3e 118.5px,#fff101 122.5px,#c5d844 126.5px,#8ac46e 132.5px,#78c49e 136px)"></i>
<i style="left:964px;top:708px;width:136px;height:1px;background:linear-gradient(90deg,#394ca1 0,#292e8c 24.5px,#3b67b1 35.5px,#3a8ccd 37.5px,#37ade3 38.5px,#41c0e7 39.5px,#6dc7c6 41.5px,#96c75f 44.5px,#cddb3b 46.5px,#f0eb12 47.5px,#fede13 48.5px,#fcbc35 49.5px,#f6842f 51.5px,#f36a24 53.5px,#8b1a1a 54.5px,#bf272c 59.5px,#dc2027 60.5px,#f04d23 61.5px,#f89435 62.5px,#fdd61b 63.5px,#e1e424 64.5px,#8ac470 66.5px,#6ac8d0 67.5px,#37aae1 68.5px,#3b71b8 69.5px,#3b56a7 70.5px,#3b56a7 71.5px,#2e3996 72.5px,#3b56a7 73.5px,#3b63af 77.5px,#3996d4 79.5px,#35bdee 80.5px,#4bc1e2 83.5px,#36b2e7 85.5px,#3a8ccd 87.5px,#3b68b1 88.5px,#3b56a7 91.5px,#3b56a7 92.5px,#2e3996 93.5px,#2f3996 95.5px,#3b56a7 96.5px,#3b58a9 97.5px,#3b75bc 98.5px,#37a6df 99.5px,#5bc5d9 100.5px,#77c49e 101.5px,#aace54 102.5px,#e9e81a 104.5px,#ffeb07 105.5px,#fbad3f 107.5px,#f36a24 109.5px,#f04c23 110.5px,#f57c2b 113.5px,#f26322 114.5px,#faab3e 118.5px,#fff101 122.5px,#c5d844 126.5px,#8ac46e 132.5px,#78c49e 136px)"></i>
<i style="left:964px;top:709px;width:136px;height:1px;background:linear-gradient(90deg,#394ca1 0,#292e8d 24.5px,#3b61ad 34.5px,#3997d4 37.5px,#35b9eb 38.5px,#66c7d3 40.5px,#7ac497 42.5px,#8cc46a 43.5px,#c3d745 45.5px,#e9e81a 46.5px,#fee012 47.5px,#fbb63a 48.5px,#f04e23 51.5px,#ef3823 53.5px,#8b1a1a 54.5px,#961d1e 57.5px,#ad2226 59.5px,#ef3423 61.5px,#fcc12f 63.5px,#f2ec0f 64.5px,#bfd647 65.5px,#95c660 66.5px,#6ec7c3 67.5px,#35baec 68.5px,#3a77bd 69.5px,#3b57a8 70.5px,#3b56a7 71.5px,#2e3996 72.5px,#303c97 73.5px,#3b56a7 74.5px,#3b64af 77.5px,#389dd8 79.5px,#3cbeea 80.5px,#53c3dd 83.5px,#35bdee 85.5px,#3996d3 87.5px,#3b6eb6 88.5px,#3b56a7 90.5px,#3b56a7 92.5px,#2e3996 93.5px,#2e3996 95.5px,#3b56a7 96.5px,#3b58a8 97.5px,#3b76bd 98.5px,#37a8e0 99.5px,#5dc5d8 100.5px,#78c49c 101.5px,#abce53 102.5px,#efeb13 104.5px,#fee50d 105.5px,#faa63c 107.5px,#f26322 109.5px,#f04123 110.5px,#f47227 113.5px,#f26322 114.5px,#faab3e 118.5px,#fff101 122.5px,#c5d844 126.5px,#8ac46e 132.5px,#78c49e 136px)"></i>
<i style="left:964px;top:710px;width:136px;height:1px;background:linear-gradient(90deg,#394ca1 0,#292e8d 24.5px,#3b63ae 34.5px,#3a84c7 36.5px,#3abeeb 38.5px,#6cc8cb 40.5px,#98c75e 43.5px,#dae12c 45.5px,#ffed05 46.5px,#fcbe33 47.5px,#f78f33 48.5px,#f26222 49.5px,#ee2824 51.5px,#e51e26 53.5px,#8b1a1a 54.5px,#911c1c 58.5px,#9d1e20 59.5px,#bd262b 60.5px,#ed1f24 61.5px,#f36924 62.5px,#fbaf3f 63.5px,#ffef03 64.5px,#cbda3d 65.5px,#a1ca59 66.5px,#71c6b7 67.5px,#3cbfea 68.5px,#3a7dc2 69.5px,#3b59a9 70.5px,#3b56a7 71.5px,#2e3996 72.5px,#303c97 73.5px,#3b56a7 74.5px,#3b65b0 77.5px,#3a7bc0 78.5px,#37a3dc 79.5px,#42c0e7 80.5px,#5ac5d9 83.5px,#36b3e7 86.5px,#389fda 87.5px,#3b73ba 88.5px,#3b56a7 90.5px,#3b56a7 92.5px,#2e3996 93.5px,#2e3996 95.5px,#3b56a7 96.5px,#3b57a8 97.5px,#3a77bd 98.5px,#37aae1 99.5px,#5ec5d7 100.5px,#79c49a 101.5px,#accf52 102.5px,#d9e12c 103.5px,#f4ed0d 104.5px,#fee012 105.5px,#fcc130 106.5px,#f9a13a 107.5px,#f15d22 109.5px,#ef3923 110.5px,#f26924 113.5px,#f26322 114.5px,#faab3e 118.5px,#fff101 122.5px,#c5d844 126.5px,#8ac46e 132.5px,#78c49e 136px)"></i>
<i style="left:964px;top:711px;width:136px;height:1px;background:linear-gradient(90deg,#394ca1 0,#292d8b 23.5px,#3b65af 34.5px,#3a88ca 36.5px,#37aae1 37.5px,#41bfe7 38.5px,#6ec7c2 40.5px,#89c473 42.5px,#c3d745 44.5px,#efea13 45.5px,#fdd21f 46.5px,#f99f39 47.5px,#f36a24 48.5px,#ed1f24 50.5px,#cc242b 53.5px,#8b1a1a 54.5px,#901b1c 59.5px,#ae2226 60.5px,#e41e26 61.5px,#f15822 62.5px,#f99f39 63.5px,#fee111 64.5px,#d7e02f 65.5px,#abce53 66.5px,#73c5ad 67.5px,#45c0e5 68.5px,#3a82c5 69.5px,#3b5baa 70.5px,#3b56a7 71.5px,#2e3996 72.5px,#303c97 73.5px,#3b56a7 74.5px,#3b66b0 77.5px,#3a7ec2 78.5px,#37a7df 79.5px,#47c1e4 80.5px,#61c6d6 83.5px,#35bbec 86.5px,#37a6df 87.5px,#3a78bd 88.5px,#3b5fac 89.5px,#3b56a7 92.5px,#2e3996 93.5px,#2e3996 95.5px,#3b56a7 96.5px,#3b57a8 97.5px,#3a78be 98.5px,#37ace3 99.5px,#5fc6d6 100.5px,#7ac498 101.5px,#aecf51 102.5px,#dde328 103.5px,#f8ef08 104.5px,#fedb16 105.5px,#fcbc34 106.5px,#f99c38 107.5px,#ef3423 110.5px,#f26222 113.5px,#f47328 115.5px,#faab3e 118.5px,#fff101 122.5px,#c5d844 126.5px,#8ac46e 132.5px,#78c49e 136px)"></i>
<i style="left:964px;top:712px;width:136px;height:1px;background:linear-gradient(90deg,#394ca1 0,#292d8b 23.5px,#3b66b0 34.5px,#398ece 36.5px,#36b1e6 37.5px,#62c6d5 39.5px,#7bc496 41.5px,#8ec464 42.5px,#d2dd35 44.5px,#fff002 45.5px,#fcbb35 46.5px,#f04a23 48.5px,#ee2524 49.5px,#ad2226 53.5px,#8b1a1a 54.5px,#8b1a1a 59.5px,#a11f22 60.5px,#da2128 61.5px,#f04b23 62.5px,#f79234 63.5px,#fdd51c 64.5px,#e1e423 65.5px,#b3d14e 66.5px,#75c4a4 67.5px,#4bc2e2 68.5px,#3a86c9 69.5px,#3b5dab 70.5px,#3b56a7 71.5px,#2e3996 72.5px,#303c97 73.5px,#3b56a7 74.5px,#3b68b1 77.5px,#3a7fc3 78.5px,#37abe2 79.5px,#4bc1e2 80.5px,#66c7d3 83.5px,#38beec 86.5px,#37ace3 87.5px,#3a7bc0 88.5px,#3b60ad 89.5px,#3b56a7 92.5px,#2e3996 93.5px,#2e3996 95.5px,#3b56a7 96.5px,#3b57a7 97.5px,#3a79be 98.5px,#36ade3 99.5px,#60c6d6 100.5px,#7bc497 101.5px,#aecf51 102.5px,#e1e424 103.5px,#fcf004 104.5px,#fcb838 106.5px,#ee2f23 110.5px,#f47328 115.5px,#faab3e 118.5px,#fff101 122.5px,#c5d844 126.5px,#8ac46e 132.5px,#78c49e 136px)"></i>
<i style="left:964px;top:713px;width:136px;height:1px;background:linear-gradient(90deg,#394ca1 0,#292d8c 23.5px,#3b69b2 34.5px,#3993d1 36.5px,#36b6ea 37.5px,#67c7d2 39.5px,#7ec48d 41.5px,#95c660 42.5px,#b5d24d 43.5px,#dee327 44.5px,#fee111 45.5px,#faa83d 46.5px,#f36d25 47.5px,#ef3823 48.5px,#e51e26 49.5px,#9a1e1f 52.5px,#8b1a1a 54.5px,#8b1a1a 59.5px,#981d1f 60.5px,#d42229 61.5px,#ef4023 62.5px,#f68930 63.5px,#fdcc25 64.5px,#e9e81a 65.5px,#b8d34b 66.5px,#78c49c 67.5px,#50c3df 68.5px,#3a8acc 69.5px,#3b5fac 70.5px,#3b56a7 71.5px,#2f3996 72.5px,#303c97 73.5px,#3b56a7 74.5px,#3b69b2 77.5px,#3a81c4 78.5px,#36aee4 79.5px,#4ec2e0 80.5px,#6ac8d1 83.5px,#3bbeeb 86.5px,#36b1e6 87.5px,#3a7ec2 88.5px,#3b61ad 89.5px,#3b56a7 92.5px,#2e3996 93.5px,#2e3996 95.5px,#3b56a7 96.5px,#3b56a7 97.5px,#3a79bf 98.5px,#36aee4 99.5px,#61c6d5 100.5px,#7bc495 101.5px,#afd050 102.5px,#e3e521 103.5px,#fef201 104.5px,#fbb53b 106.5px,#ee2c24 110.5px,#f47328 115.5px,#faab3e 118.5px,#fff101 122.5px,#c5d844 126.5px,#8ac46e 132.5px,#78c49e 136px)"></i>
<i style="left:964px;top:714px;width:136px;height:1px;background:linear-gradient(90deg,#394ca1 0,#292d8c 23.5px,#3b6ab3 34.5px,#3996d4 36.5px,#35baec 37.5px,#6ac8d0 39.5px,#81c486 41.5px,#99c85d 42.5px,#bbd44a 43.5px,#e6e71d 44.5px,#fdd61b 45.5px,#f99b38 46.5px,#f15d22 47.5px,#ee2c24 48.5px,#dc2028 49.5px,#c0272d 50.5px,#8b1a1a 52.5px,#921c1c 60.5px,#cf242a 61.5px,#ef3923 62.5px,#fcc62b 64.5px,#eeea14 65.5px,#bcd449 66.5px,#7bc497 67.5px,#54c3dd 68.5px,#398fce 69.5px,#3b60ad 70.5px,#3b56a7 71.5px,#2f3a96 72.5px,#303c97 73.5px,#3b56a7 74.5px,#3b6ab3 77.5px,#3a82c5 78.5px,#36b0e5 79.5px,#50c2df 80.5px,#6bc8cf 83.5px,#36b4e8 87.5px,#3a80c4 88.5px,#3b61ad 89.5px,#3b56a7 92.5px,#2e3996 93.5px,#2e3996 95.5px,#3b56a7 96.5px,#3b56a7 97.5px,#3a7abf 98.5px,#36afe5 99.5px,#62c6d5 100.5px,#7bc495 101.5px,#b0d050 102.5px,#e5e61f 103.5px,#fff101 104.5px,#fbb43d 106.5px,#f04e23 109.5px,#ee2a24 110.5px,#f47328 115.5px,#faab3e 118.5px,#fff101 122.5px,#c5d844 126.5px,#8ac46e 132.5px,#78c49e 136px)"></i>
<i style="left:964px;top:715px;width:136px;height:2px;background:linear-gradient(90deg,#394ca1 0,#292d8c 23.5px,#3b6bb4 34.5px,#3998d5 36.5px,#35bced 37.5px,#6bc8cf 39.5px,#82c483 41.5px,#9bc95c 42.5px,#bdd548 43.5px,#eae918 44.5px,#fdd120 45.5px,#f89535 46.5px,#f15522 47.5px,#ee2524 48.5px,#b8252a 50.5px,#921c1d 51.5px,#8e1b1b 60.5px,#cd242b 61.5px,#ef3623 62.5px,#fcc32d 64.5px,#f0eb11 65.5px,#bed548 66.5px,#7cc494 67.5px,#56c4dc 68.5px,#3991d0 69.5px,#3b61ad 70.5px,#3b56a7 71.5px,#2f3a96 72.5px,#303c97 73.5px,#3b56a7 74.5px,#3b6ab3 77.5px,#3a82c5 78.5px,#36b1e6 79.5px,#51c3df 80.5px,#6cc8ce 83.5px,#36b6e9 87.5px,#3a81c5 88.5px,#3b61ae 89.5px,#3b56a7 92.5px,#2e3996 93.5px,#2e3996 95.5px,#3b56a7 96.5px,#3b56a7 97.5px,#3a7abf 98.5px,#36afe5 99.5px,#62c6d5 100.5px,#7bc494 101.5px,#b0d050 102.5px,#e6e61e 103.5px,#fff002 104.5px,#fbb33d 106.5px,#f04d23 109.5px,#ee2924 110.5px,#f47328 115.5px,#faab3e 118.5px,#fff101 122.5px,#c5d844 126.5px,#8ac46e 132.5px,#78c49e 136px)"></i>
<i style="left:964px;top:717px;width:136px;height:1px;background:linear-gradient(90deg,#394ca1 0,#292d8c 23.5px,#3b6ab3 34.5px,#3996d4 36.5px,#35baec 37.5px,#6ac8d0 39.5px,#81c486 41.5px,#99c85d 42.5px,#bbd44a 43.5px,#e6e71d 44.5px,#fdd61b 45.5px,#f99b38 46.5px,#f15d22 47.5px,#ee2c24 48.5px,#dc2028 49.5px,#c0272d 50.5px,#8b1a1a 52.5px,#921c1c 60.5px,#cf242a 61.5px,#ef3923 62.5px,#fcc62b 64.5px,#eeea14 65.5px,#bcd449 66.5px,#7bc497 67.5px,#54c3dd 68.5px,#398fce 69.5px,#3b60ad 70.5px,#3b56a7 71.5px,#2f3a96 72.5px,#303c97 73.5px,#3b56a7 74.5px,#3b6ab3 77.5px,#3a82c5 78.5px,#36b0e5 79.5px,#50c2df 80.5px,#6bc8cf 83.5px,#36b4e8 87.5px,#3a80c4 88.5px,#3b61ad 89.5px,#3b56a7 92.5px,#2e3996 93.5px,#2e3996 95.5px,#3b56a7 96.5px,#3b56a7 97.5px,#3a7abf 98.5px,#36afe5 99.5px,#62c6d5 100.5px,#7bc495 101.5px,#b0d050 102.5px,#e5e61f 103.5px,#fff101 104.5px,#fbb43d 106.5px,#f04e23 109.5px,#ee2a24 110.5px,#f47328 115.5px,#faab3e 118.5px,#fff101 122.5px,#c5d844 126.5px,#8ac46e 132.5px,#78c49e 136px)"></i>
<i style="left:964px;top:718px;width:136px;height:1px;background:linear-gradient(90deg,#394ca1 0,#292d8c 23.5px,#3b69b2 34.5px,#3993d1 36.5px,#36b6ea 37.5px,#67c7d2 39.5px,#7ec48d 41.5px,#95c660 42.5px,#b5d24d 43.5px,#dee327 44.5px,#fee111 45.5px,#faa83d 46.5px,#f36d25 47.5px,#ef3823 48.5px,#e51e26 49.5px,#9a1e1f 52.5px,#8b1a1a 54.5px,#8b1a1a 59.5px,#981d1f 60.5px,#d42229 61.5px,#ef4023 62.5px,#f68930 63.5px,#fdcc25 64.5px,#e9e81a 65.5px,#b8d34b 66.5px,#78c49c 67.5px,#50c3df 68.5px,#3a8acc 69.5px,#3b5fac 70.5px,#3b56a7 71.5px,#2f3996 72.5px,#303c97 73.5px,#3b56a7 74.5px,#3b69b2 77.5px,#3a81c4 78.5px,#36aee4 79.5px,#4ec2e0 80.5px,#6ac8d1 83.5px,#3bbeeb 86.5px,#36b1e6 87.5px,#3a7ec2 88.5px,#3b61ad 89.5px,#3b56a7 92.5px,#2e3996 93.5px,#2e3996 95.5px,#3b56a7 96.5px,#3b56a7 97.5px,#3a79bf 98.5px,#36aee4 99.5px,#61c6d5 100.5px,#7bc495 101.5px,#afd050 102.5px,#e3e521 103.5px,#fef201 104.5px,#fbb53b 106.5px,#ee2c24 110.5px,#f47328 115.5px,#faab3e 118.5px,#fff101 122.5px,#c5d844 126.5px,#8ac46e 132.5px,#78c49e 136px)"></i>
<i style="left:964px;top:719px;width:136px;height:1px;background:linear-gradient(90deg,#394ca1 0,#292d8b 23.5px,#3b66b0 34.5px,#398ece 36.5px,#36b1e6 37.5px,#62c6d5 39.5px,#7bc496 41.5px,#8ec464 42.5px,#d2dd35 44.5px,#fff002 45.5px,#fcbb35 46.5px,#f04a23 48.5px,#ee2524 49.5px,#ad2226 53.5px,#8b1a1a 54.5px,#8b1a1a 59.5px,#a11f22 60.5px,#da2128 61.5px,#f04b23 62.5px,#f79234 63.5px,#fdd51c 64.5px,#e1e423 65.5px,#b3d14e 66.5px,#75c4a4 67.5px,#4bc2e2 68.5px,#3a86c9 69.5px,#3b5dab 70.5px,#3b56a7 71.5px,#2e3996 72.5px,#303c97 73.5px,#3b56a7 74.5px,#3b68b1 77.5px,#3a7fc3 78.5px,#37abe2 79.5px,#4bc1e2 80.5px,#66c7d3 83.5px,#38beec 86.5px,#37ace3 87.5px,#3a7bc0 88.5px,#3b60ad 89.5px,#3b56a7 92.5px,#2e3996 93.5px,#2e3996 95.5px,#3b56a7 96.5px,#3b57a7 97.5px,#3a79be 98.5px,#36ade3 99.5px,#60c6d6 100.5px,#7bc497 101.5px,#aecf51 102.5px,#e1e424 103.5px,#fcf004 104.5px,#fcb838 106.5px,#ee2f23 110.5px,#f47328 115.5px,#faab3e 118.5px,#fff101 122.5px,#c5d844 126.5px,#8ac46e 132.5px,#78c49e 136px)"></i>
<i style="left:964px;top:720px;width:136px;height:1px;background:linear-gradient(90deg,#394ca1 0,#292d8b 23.5px,#3b65af 34.5px,#3a88ca 36.5px,#37aae1 37.5px,#41bfe7 38.5px,#6ec7c2 40.5px,#89c473 42.5px,#c3d745 44.5px,#efea13 45.5px,#fdd21f 46.5px,#f99f39 47.5px,#f36a24 48.5px,#ed1f24 50.5px,#cc242b 53.5px,#8b1a1a 54.5px,#901b1c 59.5px,#ae2226 60.5px,#e41e26 61.5px,#f15822 62.5px,#f99f39 63.5px,#fee111 64.5px,#d7e02f 65.5px,#abce53 66.5px,#73c5ad 67.5px,#45c0e5 68.5px,#3a82c5 69.5px,#3b5baa 70.5px,#3b56a7 71.5px,#2e3996 72.5px,#303c97 73.5px,#3b56a7 74.5px,#3b66b0 77.5px,#3a7ec2 78.5px,#37a7df 79.5px,#47c1e4 80.5px,#61c6d6 83.5px,#35bbec 86.5px,#37a6df 87.5px,#3a78bd 88.5px,#3b5fac 89.5px,#3b56a7 92.5px,#2e3996 93.5px,#2e3996 95.5px,#3b56a7 96.5px,#3b57a8 97.5px,#3a78be 98.5px,#37ace3 99.5px,#5fc6d6 100.5px,#7ac498 101.5px,#aecf51 102.5px,#dde328 103.5px,#f8ef08 104.5px,#fedb16 105.5px,#fcbc34 106.5px,#f99c38 107.5px,#ef3423 110.5px,#f26222 113.5px,#f47328 115.5px,#faab3e 118.5px,#fff101 122.5px,#c5d844 126.5px,#8ac46e 132.5px,#78c49e 136px)"></i>
<i style="left:964px;top:721px;width:136px;height:1px;background:linear-gradient(90deg,#394ca1 0,#292e8d 24.5px,#3b63ae 34.5px,#3a84c7 36.5px,#3abeeb 38.5px,#6cc8cb 40.5px,#98c75e 43.5px,#dae12c 45.5px,#ffed05 46.5px,#fcbe33 47.5px,#f78f33 48.5px,#f26222 49.5px,#ee2824 51.5px,#e51e26 53.5px,#8b1a1a 54.5px,#911c1c 58.5px,#9d1e20 59.5px,#bd262b 60.5px,#ed1f24 61.5px,#f36924 62.5px,#fbaf3f 63.5px,#ffef03 64.5px,#cbda3d 65.5px,#a1ca59 66.5px,#71c6b7 67.5px,#3cbfea 68.5px,#3a7dc2 69.5px,#3b59a9 70.5px,#3b56a7 71.5px,#2e3996 72.5px,#303c97 73.5px,#3b56a7 74.5px,#3b65b0 77.5px,#3a7bc0 78.5px,#37a3dc 79.5px,#42c0e7 80.5px,#5ac5d9 83.5px,#36b3e7 86.5px,#389fda 87.5px,#3b73ba 88.5px,#3b56a7 90.5px,#3b56a7 92.5px,#2e3996 93.5px,#2e3996 95.5px,#3b56a7 96.5px,#3b57a8 97.5px,#3a77bd 98.5px,#37aae1 99.5px,#5ec5d7 100.5px,#79c49a 101.5px,#accf52 102.5px,#d9e12c 103.5px,#f4ed0d 104.5px,#fee012 105.5px,#fcc130 106.5px,#f9a13a 107.5px,#f15d22 109.5px,#ef3923 110.5px,#f26924 113.5px,#f26322 114.5px,#faab3e 118.5px,#fff101 122.5px,#c5d844 126.5px,#8ac46e 132.5px,#78c49e 136px)"></i>
<i style="left:964px;top:722px;width:136px;height:1px;background:linear-gradient(90deg,#394ca1 0,#292e8d 24.5px,#3b61ad 34.5px,#3997d4 37.5px,#35b9eb 38.5px,#66c7d3 40.5px,#7ac497 42.5px,#8cc46a 43.5px,#c3d745 45.5px,#e9e81a 46.5px,#fee012 47.5px,#fbb63a 48.5px,#f04e23 51.5px,#ef3823 53.5px,#8b1a1a 54.5px,#961d1e 57.5px,#ad2226 59.5px,#ef3423 61.5px,#fcc12f 63.5px,#f2ec0f 64.5px,#bfd647 65.5px,#95c660 66.5px,#6ec7c3 67.5px,#35baec 68.5px,#3a77bd 69.5px,#3b57a8 70.5px,#3b56a7 71.5px,#2e3996 72.5px,#303c97 73.5px,#3b56a7 74.5px,#3b64af 77.5px,#389dd8 79.5px,#3cbeea 80.5px,#53c3dd 83.5px,#35bdee 85.5px,#3996d3 87.5px,#3b6eb6 88.5px,#3b56a7 90.5px,#3b56a7 92.5px,#2e3996 93.5px,#2e3996 95.5px,#3b56a7 96.5px,#3b58a8 97.5px,#3b76bd 98.5px,#37a8e0 99.5px,#5dc5d8 100.5px,#78c49c 101.5px,#abce53 102.5px,#efeb13 104.5px,#fee50d 105.5px,#faa63c 107.5px,#f26322 109.5px,#f04123 110.5px,#f47227 113.5px,#f26322 114.5px,#faab3e 118.5px,#fff101 122.5px,#c5d844 126.5px,#8ac46e 132.5px,#78c49e 136px)"></i>
<i style="left:964px;top:723px;width:136px;height:1px;background:linear-gradient(90deg,#394ca1 0,#292e8c 24.5px,#3b67b1 35.5px,#3a8ccd 37.5px,#37ade3 38.5px,#41c0e7 39.5px,#6dc7c6 41.5px,#96c75f 44.5px,#cddb3b 46.5px,#f0eb12 47.5px,#fede13 48.5px,#fcbc35 49.5px,#f6842f 51.5px,#f36a24 53.5px,#8b1a1a 54.5px,#bf272c 59.5px,#dc2027 60.5px,#f04d23 61.5px,#f89435 62.5px,#fdd61b 63.5px,#e1e424 64.5px,#8ac470 66.5px,#6ac8d0 67.5px,#37aae1 68.5px,#3b71b8 69.5px,#3b56a7 70.5px,#3b56a7 71.5px,#2e3996 72.5px,#3b56a7 73.5px,#3b63af 77.5px,#3996d4 79.5px,#35bdee 80.5px,#4bc1e2 83.5px,#36b2e7 85.5px,#3a8ccd 87.5px,#3b68b1 88.5px,#3b56a7 91.5px,#3b56a7 92.5px,#2e3996 93.5px,#2f3996 95.5px,#3b56a7 96.5px,#3b58a9 97.5px,#3b75bc 98.5px,#37a6df 99.5px,#5bc5d9 100.5px,#77c49e 101.5px,#aace54 102.5px,#e9e81a 104.5px,#ffeb07 105.5px,#fbad3f 107.5px,#f36a24 109.5px,#f04c23 110.5px,#f57c2b 113.5px,#f26322 114.5px,#faab3e 118.5px,#fff101 122.5px,#c5d844 126.5px,#8ac46e 132.5px,#78c49e 136px)"></i>
<i style="left:964px;top:724px;width:136px;height:1px;background:linear-gradient(90deg,#394ca1 0,#2b3392 16.5px,#2a2f8f 25.5px,#3b64af 35.5px,#389fda 38.5px,#37bded 39.5px,#67c7d2 41.5px,#78c49c 43.5px,#9dc95b 45.5px,#cfdc39 47.5px,#edea16 48.5px,#fee80a 49.5px,#fcb937 51.5px,#f9a33b 53.5px,#9d1e20 54.5px,#d0232a 59.5px,#ed1e24 60.5px,#f26823 61.5px,#fbad3f 62.5px,#ffed05 63.5px,#cddb3b 64.5px,#a5cc56 65.5px,#80c489 66.5px,#5cc5d8 67.5px,#3899d5 68.5px,#3b69b3 69.5px,#3b56a7 70.5px,#3b56a7 71.5px,#2e3996 72.5px,#3b56a7 73.5px,#3b62ae 77.5px,#398fce 79.5px,#36b2e7 80.5px,#41bfe7 83.5px,#35baec 84.5px,#3a84c7 87.5px,#3b64af 88.5px,#3b56a7 91.5px,#3b56a7 92.5px,#2e3996 93.5px,#2f3a96 95.5px,#3b56a7 96.5px,#3b59a9 97.5px,#3b74bb 98.5px,#37a4dd 99.5px,#59c4da 100.5px,#76c4a1 101.5px,#a8cd55 102.5px,#e3e521 104.5px,#fff200 105.5px,#fbb53c 107.5px,#f15722 110.5px,#f6872f 113.5px,#f26322 114.5px,#faab3e 118.5px,#fff101 122.5px,#c5d844 126.5px,#8ac46e 132.5px,#78c49e 136px)"></i>
<i style="left:964px;top:725px;width:136px;height:1px;background:linear-gradient(90deg,#394ca1 0,#2c3392 16.5px,#292f8e 25.5px,#3b6cb4 36.5px,#3990d0 38.5px,#36afe4 39.5px,#59c4da 41.5px,#7cc492 44.5px,#8bc46d 45.5px,#c8d940 48.5px,#f5ed0c 50.5px,#ffeb07 51.5px,#fdd819 53.5px,#b62429 54.5px,#e21f26 59.5px,#ef3e23 60.5px,#f6862f 61.5px,#fdc928 62.5px,#ece916 63.5px,#bbd449 64.5px,#96c75f 65.5px,#4cc2e1 67.5px,#3a87c9 68.5px,#3b64af 69.5px,#3b56a7 71.5px,#2e3996 72.5px,#3b56a7 73.5px,#3b61ad 77.5px,#3a87c9 79.5px,#37a6df 80.5px,#37bded 83.5px,#3a7ec2 87.5px,#3b61ae 88.5px,#3b56a7 91.5px,#2f3a96 92.5px,#2f3b97 95.5px,#3b56a7 96.5px,#3b5baa 97.5px,#3b73ba 98.5px,#38a1db 99.5px,#57c4db 100.5px,#76c4a4 101.5px,#a6cc56 102.5px,#dce22a 104.5px,#f7ef09 105.5px,#fedc15 106.5px,#fcbd33 107.5px,#f99d38 108.5px,#f26422 110.5px,#f89334 113.5px,#f26322 114.5px,#faab3e 118.5px,#fff101 122.5px,#c5d844 126.5px,#8ac46e 132.5px,#78c49e 136px)"></i>
<i style="left:964px;top:726px;width:136px;height:1px;background:linear-gradient(90deg,#394ca1 0,#2c3493 16.5px,#292e8d 25.5px,#3b65af 36.5px,#389ed9 39.5px,#35bced 40.5px,#6ec7c4 43.5px,#9bc85c 47.5px,#e4e620 52.5px,#e9e81a 53.5px,#cd242b 54.5px,#ed1d24 58.5px,#ee2a24 59.5px,#f26022 60.5px,#faa63c 61.5px,#fee60b 62.5px,#89c472 65.5px,#71c6b8 66.5px,#3cbeea 67.5px,#3a7dc1 68.5px,#3b61ad 69.5px,#3b56a7 71.5px,#2e3996 72.5px,#3b56a7 73.5px,#3b60ad 77.5px,#3a82c6 79.5px,#36b3e7 82.5px,#36b0e5 83.5px,#3a80c4 86.5px,#3b56a7 89.5px,#3b56a7 91.5px,#2e3996 92.5px,#2e3996 94.5px,#3b56a7 95.5px,#3b5cab 97.5px,#3b71b9 98.5px,#389dd9 99.5px,#55c3dc 100.5px,#75c4a6 101.5px,#a4cb57 102.5px,#d4de33 104.5px,#efeb12 105.5px,#fee50d 106.5px,#faa63c 108.5px,#f47227 110.5px,#f9a13a 113.5px,#f26322 114.5px,#faab3e 118.5px,#fff101 122.5px,#c5d844 126.5px,#8ac46e 132.5px,#78c49e 136px)"></i>
<i style="left:964px;top:727px;width:136px;height:1px;background:linear-gradient(90deg,#394ca1 0,#2b3191 17.5px,#2a308f 26.5px,#3b6cb4 37.5px,#37a8e0 40.5px,#3bbeeb 41.5px,#6ec7c2 44.5px,#93c561 48.5px,#bcd449 52.5px,#c0d647 53.5px,#e41e26 54.5px,#ee2624 56.5px,#f04b23 59.5px,#f6852f 60.5px,#fcc829 61.5px,#edea15 62.5px,#bcd449 63.5px,#97c75e 64.5px,#6bc8ce 66.5px,#36ade3 67.5px,#3b72b9 68.5px,#3b56a7 70.5px,#3b56a7 71.5px,#2e3996 72.5px,#3b56a7 73.5px,#3b66b0 78.5px,#37a5dd 82.5px,#3b56a7 89.5px,#3b56a7 91.5px,#2e3996 92.5px,#2e3996 94.5px,#3b56a7 95.5px,#3b5eac 97.5px,#3b70b7 98.5px,#389ad6 99.5px,#52c3de 100.5px,#74c5a9 101.5px,#a1cb58 102.5px,#cbda3d 104.5px,#ffef03 106.5px,#fbb13f 108.5px,#f79033 109.5px,#f5822d 110.5px,#fbaf40 113.5px,#f26322 114.5px,#faab3e 118.5px,#fff101 122.5px,#c5d844 126.5px,#8ac46e 132.5px,#78c49e 136px)"></i>
<i style="left:964px;top:728px;width:136px;height:1px;background:linear-gradient(90deg,#394ca1 0,#2b3291 17.5px,#292f8e 26.5px,#3b64af 37.5px,#3994d2 40.5px,#3ebfe9 42.5px,#6ec7c4 45.5px,#91c562 50.5px,#a1ca59 53.5px,#ef3423 54.5px,#f36f26 59.5px,#fbac3e 60.5px,#ffeb06 61.5px,#cfdc38 62.5px,#88c476 64.5px,#57c4db 66.5px,#3993d2 67.5px,#3b67b1 68.5px,#3b56a7 71.5px,#2e3996 72.5px,#3b56a7 73.5px,#3b64af 78.5px,#3995d3 82.5px,#3b56a7 89.5px,#3b56a7 91.5px,#2e3996 92.5px,#2e3996 94.5px,#3b56a7 95.5px,#3b6eb6 98.5px,#3996d4 99.5px,#4fc2df 100.5px,#74c5ac 101.5px,#9bc85c 102.5px,#c3d745 104.5px,#f8ef08 106.5px,#fcbc34 108.5px,#f99c38 109.5px,#f79234 110.5px,#fbb040 112.5px,#fcbf32 113.5px,#f26322 114.5px,#faab3e 118.5px,#fff101 122.5px,#c5d844 126.5px,#8ac46e 132.5px,#78c49e 136px)"></i>
<i style="left:964px;top:729px;width:136px;height:1px;background:linear-gradient(90deg,#394ca1 0,#2c3392 17.5px,#292e8d 26.5px,#3b66b0 38.5px,#3899d5 41.5px,#3fbfe9 43.5px,#6dc7c9 46.5px,#86c479 52.5px,#88c475 53.5px,#f15c22 54.5px,#f89435 59.5px,#fdd41d 60.5px,#e3e521 61.5px,#b5d24d 62.5px,#91c562 63.5px,#6fc7c0 65.5px,#41bfe7 66.5px,#3a80c4 67.5px,#3b62ae 68.5px,#3b56a7 71.5px,#2e3996 72.5px,#3b56a7 73.5px,#3b62ae 78.5px,#3a87c9 82.5px,#3b56a7 89.5px,#3b56a7 91.5px,#2e3996 92.5px,#2e3996 94.5px,#3b56a7 95.5px,#3b6cb4 98.5px,#3992d1 99.5px,#4cc2e1 100.5px,#73c5b0 101.5px,#93c660 102.5px,#d3de33 105.5px,#eeea14 106.5px,#fee70b 107.5px,#faa83d 109.5px,#faa43b 110.5px,#fbb23e 111.5px,#fdcf21 113.5px,#f26322 114.5px,#faab3e 118.5px,#fff101 122.5px,#c5d844 126.5px,#8ac46e 132.5px,#78c49e 136px)"></i>
<i style="left:964px;top:730px;width:136px;height:1px;background:linear-gradient(90deg,#394ca1 0,#2c3593 17.5px,#2a2f8f 27.5px,#3b6ab3 39.5px,#389ad6 42.5px,#3cbeea 44.5px,#6dc7c6 48.5px,#76c4a4 53.5px,#f6862f 54.5px,#fbb040 58.5px,#fcbf31 59.5px,#f5ee0c 60.5px,#c2d745 61.5px,#9dc95b 62.5px,#72c5b3 64.5px,#65c7d3 65.5px,#36aee4 66.5px,#3b73ba 67.5px,#3b56a7 69.5px,#3b56a7 70.5px,#2e3996 71.5px,#2e3996 72.5px,#3b56a7 73.5px,#3b60ad 78.5px,#3a7ec3 82.5px,#3b56a7 89.5px,#3b56a7 91.5px,#2e3996 92.5px,#2e3996 94.5px,#3b56a7 95.5px,#3b6ab3 98.5px,#398ece 99.5px,#49c1e3 100.5px,#72c5b3 101.5px,#8dc469 102.5px,#c9d940 105.5px,#fef201 107.5px,#fbb63b 109.5px,#fcc52c 111.5px,#fee110 113.5px,#f26322 114.5px,#faab3e 118.5px,#fff101 122.5px,#c5d844 126.5px,#8ac46e 132.5px,#78c49e 136px)"></i>
<i style="left:964px;top:731px;width:136px;height:1px;background:linear-gradient(90deg,#394ca1 0,#2b3291 18.5px,#292e8d 27.5px,#3b6cb5 40.5px,#37bded 45.5px,#6cc8ce 50.5px,#6dc7c7 53.5px,#fbb040 54.5px,#fdd819 58.5px,#ffec06 59.5px,#cfdc38 60.5px,#88c475 62.5px,#6cc8cc 64.5px,#4fc2e0 65.5px,#398dce 66.5px,#3b66b0 67.5px,#3b56a7 70.5px,#2e3996 71.5px,#2e3996 72.5px,#3b56a7 73.5px,#3b5eac 78.5px,#3b75bc 82.5px,#3b56a7 89.5px,#3b56a7 91.5px,#2e3996 92.5px,#2e3996 94.5px,#3b56a7 95.5px,#3b68b1 98.5px,#3a89cb 99.5px,#46c0e5 100.5px,#71c6b7 101.5px,#87c477 102.5px,#abce53 104.5px,#d8e02e 106.5px,#f2ec0f 107.5px,#fee20f 108.5px,#fcc42d 109.5px,#fef101 113.5px,#f26322 114.5px,#faab3e 118.5px,#fff101 122.5px,#c5d844 126.5px,#8ac46e 132.5px,#78c49e 136px)"></i>
<i style="left:964px;top:732px;width:136px;height:1px;background:linear-gradient(90deg,#394ca1 0,#2c3492 18.5px,#2a2f8f 28.5px,#3b63ae 40.5px,#37a3dd 45.5px,#3abeeb 47.5px,#59c4da 51.5px,#51c3df 53.5px,#fedc15 54.5px,#faf006 57.5px,#f2ec10 58.5px,#dbe12b 59.5px,#8dc467 61.5px,#77c49e 62.5px,#56c4dc 64.5px,#37bded 65.5px,#3a7ac0 66.5px,#3b60ad 67.5px,#3b56a7 70.5px,#2e3996 71.5px,#2e3996 72.5px,#3b56a7 73.5px,#3b67b1 81.5px,#3b56a7 91.5px,#2e3996 92.5px,#2e3996 94.5px,#3b56a7 95.5px,#3b66b0 98.5px,#3a86c9 99.5px,#42c0e7 100.5px,#70c6bb 101.5px,#81c486 102.5px,#8ec465 103.5px,#ccdb3c 106.5px,#fff001 108.5px,#fdd21f 109.5px,#ffec06 111.5px,#ece916 113.5px,#f26322 114.5px,#faab3e 118.5px,#fff101 122.5px,#c5d844 126.5px,#8ac46e 132.5px,#78c49e 136px)"></i>
<i style="left:964px;top:733px;width:136px;height:1px;background:linear-gradient(90deg,#394ca1 0,#2d3593 18.5px,#292e8d 28.5px,#3b63ae 41.5px,#37a5de 47.5px,#3cbeea 50.5px,#40bfe8 51.5px,#36b0e5 52.5px,#36b2e7 53.5px,#ebe917 54.5px,#ccdb3c 58.5px,#93c561 60.5px,#6fc6bd 62.5px,#3ebfe9 64.5px,#389ad6 65.5px,#3b6ab3 66.5px,#3b56a7 68.5px,#3b56a7 70.5px,#2e3996 71.5px,#3b56a7 72.5px,#3b5fac 84.5px,#3b56a7 91.5px,#2e3996 92.5px,#2e3996 94.5px,#3b56a7 95.5px,#3b65af 98.5px,#3a84c7 99.5px,#3fbfe9 100.5px,#6fc7bf 101.5px,#88c474 103.5px,#d8e02d 107.5px,#f3ec0e 108.5px,#fee50d 109.5px,#fef201 110.5px,#dae12c 113.5px,#f26322 114.5px,#faab3e 118.5px,#fff101 122.5px,#c5d844 126.5px,#8ac46e 132.5px,#78c49e 136px)"></i>
<i style="left:964px;top:734px;width:136px;height:1px;background:linear-gradient(90deg,#394ca1 0,#2b3392 19.5px,#2a2f8e 29.5px,#3b66b0 43.5px,#37ace3 51.5px,#3a83c6 52.5px,#3a84c7 53.5px,#c4d744 54.5px,#aecf51 58.5px,#97c75e 59.5px,#71c6b9 61.5px,#42c0e7 63.5px,#37a7df 64.5px,#3b62ae 66.5px,#3b56a7 70.5px,#2e3996 71.5px,#3b56a7 72.5px,#3b59a9 85.5px,#3b56a7 90.5px,#2e3996 91.5px,#2e3996 94.5px,#3b56a7 95.5px,#3b64af 98.5px,#3a81c4 99.5px,#3bbeeb 100.5px,#6ec7c3 101.5px,#8fc463 104.5px,#cbda3d 107.5px,#f7ee0a 109.5px,#c7d942 113.5px,#f26322 114.5px,#faab3e 118.5px,#fff101 122.5px,#c5d844 126.5px,#8ac46e 132.5px,#78c49e 136px)"></i>
<i style="left:964px;top:735px;width:136px;height:1px;background:linear-gradient(90deg,#394ca1 0,#2c3593 19.5px,#292e8d 29.5px,#3b64af 44.5px,#3a8dcd 51.5px,#3b6ab3 52.5px,#3b6bb4 53.5px,#a5cc56 54.5px,#92c561 58.5px,#63c6d4 61.5px,#45c0e5 62.5px,#37abe2 63.5px,#3b6cb4 65.5px,#3b56a7 67.5px,#3b56a7 70.5px,#2e3996 71.5px,#3b56a7 72.5px,#3b56a7 90.5px,#2e3996 91.5px,#2e3996 93.5px,#3b56a7 94.5px,#3b63ae 98.5px,#3a7ec2 99.5px,#37bded 100.5px,#6dc7c8 101.5px,#89c473 104.5px,#e2e522 109.5px,#b8d34b 113.5px,#f26322 114.5px,#faab3e 118.5px,#fff101 122.5px,#c5d844 126.5px,#8ac46e 132.5px,#78c49e 136px)"></i>
<i style="left:964px;top:736px;width:136px;height:1px;background:linear-gradient(90deg,#394ca1 0,#2d3694 19.5px,#292e8d 30.5px,#3b61ad 45.5px,#3a7bc0 51.5px,#3b5fac 52.5px,#3b5fac 53.5px,#8ac46f 54.5px,#7ec48d 58.5px,#64c7d4 60.5px,#45c0e5 61.5px,#37ace2 62.5px,#3a87c9 63.5px,#3b58a8 66.5px,#3b56a7 70.5px,#2e3996 71.5px,#3b56a7 72.5px,#3b56a7 90.5px,#2e3996 91.5px,#2e3996 93.5px,#3b56a7 94.5px,#3b62ae 98.5px,#3a7bc0 99.5px,#35b9eb 100.5px,#69c8d1 101.5px,#82c484 104.5px,#90c462 105.5px,#c7d942 108.5px,#cddb3b 109.5px,#a9ce54 113.5px,#f26322 114.5px,#faab3e 118.5px,#fff101 122.5px,#c5d844 126.5px,#8ac46e 132.5px,#78c49e 136px)"></i>
<i style="left:964px;top:737px;width:136px;height:1px;background:linear-gradient(90deg,#394ca1 0,#2c3493 20.5px,#292f8e 31.5px,#3b5dab 46.5px,#3b69b2 51.5px,#3b57a8 52.5px,#3b57a8 53.5px,#77c4a0 54.5px,#71c6b7 58.5px,#44c0e5 60.5px,#37abe2 61.5px,#3a87c9 62.5px,#3b5baa 65.5px,#3b56a7 69.5px,#2e3996 70.5px,#2e3996 71.5px,#3b56a7 72.5px,#3b56a7 90.5px,#2e3996 91.5px,#2e3996 93.5px,#3b56a7 94.5px,#3b61ad 98.5px,#3a78be 99.5px,#36b3e7 100.5px,#5dc5d8 101.5px,#7bc496 104.5px,#97c75e 106.5px,#bbd449 108.5px,#9ac85d 113.5px,#f26322 114.5px,#faab3e 118.5px,#fff101 122.5px,#c5d844 126.5px,#8ac46e 132.5px,#78c49e 136px)"></i>
<i style="left:964px;top:738px;width:136px;height:1px;background:linear-gradient(90deg,#394ca1 0,#2d3794 20.5px,#292e8c 31.5px,#3b58a8 46.5px,#3b60ad 51.5px,#3a52a5 53.5px,#6ec7c3 54.5px,#60c6d6 58.5px,#42c0e7 59.5px,#37a8e0 60.5px,#3a85c8 61.5px,#3b60ad 64.5px,#3b56a7 69.5px,#2e3996 70.5px,#2e3996 71.5px,#3b56a7 72.5px,#3b56a7 90.5px,#2e3996 91.5px,#2e3996 93.5px,#3b56a7 94.5px,#3b60ad 98.5px,#3b75bb 99.5px,#37ace2 100.5px,#51c3de 101.5px,#6fc6be 103.5px,#8dc467 106.5px,#afd050 108.5px,#8cc46a 113.5px,#f26322 114.5px,#faab3e 118.5px,#fff101 122.5px,#c5d844 126.5px,#8ac46e 132.5px,#78c49e 136px)"></i>
<i style="left:964px;top:739px;width:136px;height:1px;background:linear-gradient(90deg,#394ca1 0,#2c3593 21.5px,#292e8d 32.5px,#3b56a7 47.5px,#3b59a9 51.5px,#3a4ea2 53.5px,#57c4db 54.5px,#4cc2e1 57.5px,#3ebfe9 58.5px,#3a83c6 60.5px,#3b5fac 63.5px,#3b56a7 69.5px,#2e3996 70.5px,#2e3996 71.5px,#3b56a7 72.5px,#3b56a7 90.5px,#2e3996 91.5px,#2e3996 93.5px,#3b56a7 94.5px,#3b5fac 98.5px,#3b72b9 99.5px,#37a5de 100.5px,#45c0e5 101.5px,#6cc8cb 103.5px,#92c561 107.5px,#a2cb58 108.5px,#87c478 112.5px,#82c484 113.5px,#f26322 114.5px,#faab3e 118.5px,#fff101 122.5px,#c5d844 126.5px,#8ac46e 132.5px,#78c49e 136px)"></i>
<i style="left:964px;top:740px;width:136px;height:1px;background:linear-gradient(90deg,#394ca1 0,#2d3794 21.5px,#292e8d 33.5px,#3b55a6 49.5px,#3b56a7 51.5px,#37499f 53.5px,#38beec 54.5px,#36b4e8 57.5px,#3b6fb7 60.5px,#3b56a7 65.5px,#3b56a7 69.5px,#2e3996 70.5px,#3b56a7 71.5px,#3b56a7 89.5px,#2e3996 90.5px,#2e3996 93.5px,#3b56a7 94.5px,#3b5dab 98.5px,#3b6eb6 99.5px,#39beec 101.5px,#6fc7c0 104.5px,#91c562 108.5px,#77c49f 113.5px,#f26322 114.5px,#faab3e 118.5px,#fff101 122.5px,#c5d844 126.5px,#8ac46e 132.5px,#78c49e 136px)"></i>
<i style="left:964px;top:741px;width:136px;height:1px;background:linear-gradient(90deg,#394ca1 0,#2d3694 22.5px,#292e8d 34.5px,#3a53a5 50.5px,#34449c 53.5px,#3997d4 54.5px,#3a8bcc 57.5px,#3b62ae 60.5px,#3b56a7 69.5px,#2e3996 70.5px,#3b56a7 71.5px,#3b56a7 89.5px,#2e3996 90.5px,#2e3996 92.5px,#3b56a7 93.5px,#3b5cab 98.5px,#3b6bb4 99.5px,#36b2e6 101.5px,#57c4db 103.5px,#71c6b5 105.5px,#81c486 107.5px,#85c47c 108.5px,#72c5b3 113.5px,#f26322 114.5px,#faab3e 118.5px,#fff101 122.5px,#c5d844 126.5px,#8ac46e 132.5px,#78c49e 136px)"></i>
<i style="left:964px;top:742px;width:136px;height:1px;background:linear-gradient(90deg,#394ca1 0,#2c3593 23.5px,#2a2f8e 36.5px,#3a50a3 51.5px,#313f99 52.5px,#323f99 53.5px,#3a7bc0 54.5px,#3b75bc 57.5px,#3b5caa 60.5px,#3b56a7 69.5px,#2e3996 70.5px,#3b56a7 71.5px,#3b56a7 89.5px,#2e3996 90.5px,#2e3996 92.5px,#3b56a7 93.5px,#3b5baa 98.5px,#3b68b1 99.5px,#35bdee 102.5px,#6ec7c3 105.5px,#79c49b 107.5px,#73c5ad 110.5px,#6dc7c6 113.5px,#f26322 114.5px,#faab3e 118.5px,#fff101 122.5px,#c5d844 126.5px,#8ac46e 132.5px,#78c49e 136px)"></i>
<i style="left:964px;top:743px;width:136px;height:1px;background:linear-gradient(90deg,#394ca1 0,#2d3794 23.5px,#292f8e 37.5px,#384ba0 51.5px,#2c3492 52.5px,#2c3492 53.5px,#3b68b1 54.5px,#3b56a7 66.5px,#3b56a7 68.5px,#2e3996 69.5px,#2e3996 70.5px,#3b56a7 71.5px,#3b56a7 89.5px,#2e3996 90.5px,#2e3996 92.5px,#3b56a7 93.5px,#3b5aa9 98.5px,#398ece 101.5px,#3ebfe9 103.5px,#6ac8d0 105.5px,#74c5ac 107.5px,#62c6d5 113.5px,#f26322 114.5px,#faab3e 118.5px,#fff101 122.5px,#c5d844 126.5px,#8ac46e 132.5px,#78c49e 136px)"></i>
<i style="left:964px;top:744px;width:136px;height:1px;background:linear-gradient(90deg,#394ca1 0,#2d3694 24.5px,#292e8d 38.5px,#36469e 51.5px,#292f8e 52.5px,#292f8e 53.5px,#3b60ad 54.5px,#3b56a7 68.5px,#2e3996 69.5px,#3b56a7 70.5px,#3b56a7 89.5px,#2e3996 90.5px,#2e3996 92.5px,#3b56a7 93.5px,#3b59a9 98.5px,#3899d6 102.5px,#36b7ea 103.5px,#6cc8cc 106.5px,#70c6bc 107.5px,#50c2df 113.5px,#f26322 114.5px,#faab3e 118.5px,#fff101 122.5px,#c5d844 126.5px,#8ac46e 132.5px,#78c49e 136px)"></i>
<i style="left:964px;top:745px;width:136px;height:1px;background:linear-gradient(90deg,#394ca1 0,#2d3694 25.5px,#292f8e 40.5px,#33439b 51.5px,#292d8b 52.5px,#292d8b 53.5px,#3b59a9 54.5px,#3b56a7 68.5px,#2e3996 69.5px,#3b56a7 70.5px,#3b56a7 88.5px,#2e3996 89.5px,#2e3996 91.5px,#3b56a7 92.5px,#3b58a8 98.5px,#3a88ca 102.5px,#39beec 104.5px,#6ac8d0 107.5px,#3ebfe9 113.5px,#f26322 114.5px,#faab3e 118.5px,#fff101 122.5px,#c5d844 126.5px,#8ac46e 132.5px,#78c49e 136px)"></i>
<i style="left:964px;top:746px;width:136px;height:1px;background:linear-gradient(90deg,#394ca1 0,#2e3895 25.5px,#292e8c 41.5px,#303c97 51.5px,#282c8a 53.5px,#3b56a7 54.5px,#3b56a7 68.5px,#2e3996 69.5px,#3b56a7 70.5px,#3b56a7 88.5px,#2e3996 89.5px,#2e3996 91.5px,#3b56a7 92.5px,#3b60ad 99.5px,#3a7ec3 102.5px,#36b1e6 104.5px,#53c3dd 106.5px,#42c0e7 110.5px,#36b0e5 113.5px,#f26322 114.5px,#faab3e 118.5px,#fff101 122.5px,#c5d844 126.5px,#8ac46e 132.5px,#78c49e 136px)"></i>
<i style="left:964px;top:747px;width:136px;height:1px;background:linear-gradient(90deg,#394ca1 0,#2e3795 26.5px,#292e8d 44.5px,#2c3593 51.5px,#282b88 53.5px,#3b56a7 54.5px,#3b56a7 67.5px,#2e3996 68.5px,#2e3996 69.5px,#3b56a7 70.5px,#3b56a7 88.5px,#2e3996 89.5px,#2e3996 91.5px,#3b56a7 92.5px,#3b5dab 99.5px,#3b75bc 102.5px,#389ed9 104.5px,#35bdee 105.5px,#46c0e5 106.5px,#36b6e9 110.5px,#3997d4 113.5px,#f26322 114.5px,#faab3e 118.5px,#fff101 122.5px,#c5d844 126.5px,#8ac46e 132.5px,#78c49e 136px)"></i>
<i style="left:964px;top:748px;width:136px;height:1px;background:linear-gradient(90deg,#394ca1 0,#2e3795 27.5px,#292e8d 47.5px,#272b87 53.5px,#3b56a7 54.5px,#3b56a7 67.5px,#2e3996 68.5px,#2e3996 69.5px,#3b56a7 70.5px,#3b56a7 88.5px,#2e3996 89.5px,#2e3996 91.5px,#3b56a7 92.5px,#3b5fac 100.5px,#3a7bc0 103.5px,#37bded 106.5px,#3a83c6 113.5px,#f26322 114.5px,#faab3e 118.5px,#fff101 122.5px,#c5d844 126.5px,#8ac46e 132.5px,#78c49e 136px)"></i>
<i style="left:964px;top:749px;width:136px;height:1px;background:linear-gradient(90deg,#394ca1 0,#2e3795 28.5px,#272a87 53.5px,#3b56a7 54.5px,#3b56a7 67.5px,#2e3996 68.5px,#3b56a7 69.5px,#3b56a7 87.5px,#2e3996 88.5px,#2e3996 90.5px,#3b56a7 91.5px,#3b60ad 101.5px,#3a80c4 104.5px,#37a5de 106.5px,#3a77bd 113.5px,#f26322 114.5px,#faab3e 118.5px,#fff101 122.5px,#c5d844 126.5px,#8ac46e 132.5px,#78c49e 136px)"></i>
<i style="left:964px;top:750px;width:136px;height:3px;background:linear-gradient(90deg,#394ca1 0,#2e3895 30.5px,#282c89 51.5px,#dae12c 52.5px,#9fca5a 63.5px,#8fc463 66.5px,#6dc7c6 72.5px,#3fbfe9 76.5px,#3b6ab3 78.5px,#32409a 82.5px,#3b66b0 86.5px,#389fda 87.5px,#60c6d6 88.5px,#a3cb57 90.5px,#dbe22a 91.5px,#f89736 92.5px,#ea1d25 93.5px,#961d1e 94.5px,#8b1a1a 97.5px,#8b1a1a 123.5px,#971d1e 124.5px,#d42229 125.5px,#f04a23 126.5px,#bad44a 127.5px,#8ac46e 132.5px,#78c49e 136px)"></i>
<i style="left:964px;top:753px;width:136px;height:2px;background:linear-gradient(90deg,#394ca1 0,#2e3794 34.5px,#282d8b 51.5px,#dae12c 52.5px,#9fca5a 63.5px,#8fc463 66.5px,#6dc7c6 72.5px,#3fbfe9 76.5px,#3b6ab3 78.5px,#32409a 82.5px,#3b66b0 86.5px,#389fda 87.5px,#60c6d6 88.5px,#a3cb57 90.5px,#dbe22a 91.5px,#f89736 92.5px,#ea1d25 93.5px,#961d1e 94.5px,#8b1a1a 97.5px,#8b1a1a 123.5px,#971d1e 124.5px,#d42229 125.5px,#f04a23 126.5px,#bad44a 127.5px,#8ac46e 132.5px,#78c49e 136px)"></i>
<i style="left:964px;top:755px;width:136px;height:2px;background:linear-gradient(90deg,#394ca1 0,#2d3794 38.5px,#292f8e 51.5px,#dae12c 52.5px,#9fca5a 63.5px,#8fc463 66.5px,#6dc7c6 72.5px,#3fbfe9 76.5px,#3b6ab3 78.5px,#32409a 82.5px,#3b66b0 86.5px,#389fda 87.5px,#60c6d6 88.5px,#a3cb57 90.5px,#dbe22a 91.5px,#f89736 92.5px,#ea1d25 93.5px,#961d1e 94.5px,#8b1a1a 97.5px,#8b1a1a 123.5px,#971d1e 124.5px,#d42229 125.5px,#f04a23 126.5px,#bad44a 127.5px,#8ac46e 132.5px,#78c49e 136px)"></i>
<i style="left:964px;top:757px;width:136px;height:2px;background:linear-gradient(90deg,#394ca1 0,#2d3794 43.5px,#2b3291 51.5px,#dae12c 52.5px,#9fca5a 63.5px,#8fc463 66.5px,#6dc7c6 72.5px,#3fbfe9 76.5px,#3b6ab3 78.5px,#32409a 82.5px,#3b66b0 86.5px,#389fda 87.5px,#60c6d6 88.5px,#a3cb57 90.5px,#dbe22a 91.5px,#f89736 92.5px,#ea1d25 93.5px,#961d1e 94.5px,#8b1a1a 97.5px,#8b1a1a 123.5px,#971d1e 124.5px,#d42229 125.5px,#f04a23 126.5px,#bad44a 127.5px,#8ac46e 132.5px,#78c49e 136px)"></i>
<i style="left:964px;top:759px;width:136px;height:1px;background:linear-gradient(90deg,#394ca1 0,#2e3794 51.5px,#dae12c 52.5px,#9fca5a 63.5px,#8fc463 66.5px,#6dc7c6 72.5px,#3fbfe9 76.5px,#3b6ab3 78.5px,#32409a 82.5px,#3b66b0 86.5px,#389fda 87.5px,#60c6d6 88.5px,#a3cb57 90.5px,#dbe22a 91.5px,#f89736 92.5px,#ea1d25 93.5px,#961d1e 94.5px,#8b1a1a 97.5px,#8b1a1a 123.5px,#971d1e 124.5px,#d42229 125.5px,#f04a23 126.5px,#bad44a 127.5px,#8ac46e 132.5px,#78c49e 136px)"></i>
<i style="left:1367px;top:672px;width:157px;height:1px;background:linear-gradient(90deg,#8b1a1a 0,#8b1a1a 31.5px,#941c1d 32.5px,#c3272d 33.5px,#e91d25 34.5px,#f15422 35.5px,#f89535 36.5px,#fdd61b 37.5px,#dde228 38.5px,#c1d646 39.5px,#95c65f 41.5px,#6fc7bf 44.5px,#46c0e5 46.5px,#36aee4 47.5px,#3a88ca 48.5px,#3b5eac 58.5px,#3b56a7 68.5px,#73c5b0 69.5px,#65c7d3 77.5px,#36bded 82.5px,#389bd7 85.5px,#3b65af 102.5px,#33439b 155.5px,#384ba0 157px)"></i>
<i style="left:1367px;top:673px;width:157px;height:1px;background:linear-gradient(90deg,#8b1a1a 0,#8b1a1a 31.5px,#941c1d 32.5px,#c3272d 33.5px,#e91d25 34.5px,#f15422 35.5px,#f89535 36.5px,#fdd61b 37.5px,#dde228 38.5px,#c1d646 39.5px,#95c65f 41.5px,#6fc7bf 44.5px,#46c0e5 46.5px,#36aee4 47.5px,#3a88ca 48.5px,#3b5eac 58.5px,#3b56a7 68.5px,#75c4a4 69.5px,#6ec7c4 76.5px,#35baec 83.5px,#3899d5 86.5px,#3b64af 104.5px,#33439b 155.5px,#384ba0 157px)"></i>
<i style="left:1367px;top:674px;width:157px;height:1px;background:linear-gradient(90deg,#8b1a1a 0,#8b1a1a 31.5px,#941c1d 32.5px,#c3272d 33.5px,#e91d25 34.5px,#f15422 35.5px,#f89535 36.5px,#fdd61b 37.5px,#dde228 38.5px,#c1d646 39.5px,#95c65f 41.5px,#6fc7bf 44.5px,#46c0e5 46.5px,#36aee4 47.5px,#3a88ca 48.5px,#3b5eac 58.5px,#3b56a7 68.5px,#7bc496 69.5px,#6ec7c3 77.5px,#3abeeb 83.5px,#3991d0 88.5px,#3b62ae 106.5px,#34439c 155.5px,#384ba0 157px)"></i>
<i style="left:1367px;top:675px;width:157px;height:1px;background:linear-gradient(90deg,#8b1a1a 0,#8b1a1a 31.5px,#941c1d 32.5px,#c3272d 33.5px,#e91d25 34.5px,#f15422 35.5px,#f89535 36.5px,#fdd61b 37.5px,#dde228 38.5px,#c1d646 39.5px,#95c65f 41.5px,#6fc7bf 44.5px,#46c0e5 46.5px,#36aee4 47.5px,#3a88ca 48.5px,#3b5eac 58.5px,#3b56a7 68.5px,#81c485 69.5px,#75c5a8 75.5px,#62c6d5 80.5px,#36bdee 84.5px,#3899d6 87.5px,#3b64af 104.5px,#34439c 155.5px,#384ba0 157px)"></i>
<i style="left:1367px;top:676px;width:157px;height:1px;background:linear-gradient(90deg,#8b1a1a 0,#8b1a1a 31.5px,#941c1d 32.5px,#c3272d 33.5px,#e91d25 34.5px,#f15422 35.5px,#f89535 36.5px,#fdd61b 37.5px,#dde228 38.5px,#c1d646 39.5px,#95c65f 41.5px,#6fc7bf 44.5px,#46c0e5 46.5px,#36aee4 47.5px,#3a88ca 48.5px,#3b5eac 58.5px,#3b56a7 68.5px,#88c475 69.5px,#7dc490 74.5px,#5fc6d7 81.5px,#36b7ea 85.5px,#3991d0 89.5px,#3b63ae 106.5px,#34439c 155.5px,#384ba0 157px)"></i>
<i style="left:1367px;top:677px;width:157px;height:1px;background:linear-gradient(90deg,#8b1a1a 0,#8b1a1a 31.5px,#941c1d 32.5px,#c3272d 33.5px,#e91d25 34.5px,#f15422 35.5px,#f89535 36.5px,#fdd61b 37.5px,#dde228 38.5px,#c1d646 39.5px,#95c65f 41.5px,#6fc7bf 44.5px,#46c0e5 46.5px,#36aee4 47.5px,#3a88ca 48.5px,#3b5eac 58.5px,#3b56a7 68.5px,#8fc464 69.5px,#83c481 74.5px,#5bc5d9 82.5px,#38beed 85.5px,#389ad6 88.5px,#3b65af 104.5px,#384ba0 157px)"></i>
<i style="left:1367px;top:678px;width:157px;height:1px;background:linear-gradient(90deg,#8b1a1a 0,#8b1a1a 31.5px,#941c1d 32.5px,#c3272d 33.5px,#e91d25 34.5px,#f15422 35.5px,#f89535 36.5px,#fdd61b 37.5px,#dde228 38.5px,#c1d646 39.5px,#95c65f 41.5px,#6fc7bf 44.5px,#46c0e5 46.5px,#36aee4 47.5px,#3a88ca 48.5px,#3b5eac 58.5px,#3b56a7 68.5px,#99c85d 69.5px,#8ac471 74.5px,#63c6d4 82.5px,#35b9eb 86.5px,#3997d4 89.5px,#3b63af 106.5px,#384ba0 157px)"></i>
<i style="left:1367px;top:679px;width:157px;height:1px;background:linear-gradient(90deg,#8b1a1a 0,#8b1a1a 31.5px,#941c1d 32.5px,#c3272d 33.5px,#e91d25 34.5px,#f15422 35.5px,#f89535 36.5px,#fdd61b 37.5px,#dde228 38.5px,#c1d646 39.5px,#95c65f 41.5px,#6fc7bf 44.5px,#46c0e5 46.5px,#36aee4 47.5px,#3a88ca 48.5px,#3b5eac 58.5px,#3b56a7 68.5px,#a3cb57 69.5px,#8bc46d 75.5px,#5ec5d7 83.5px,#38beec 86.5px,#3899d6 89.5px,#3b65af 105.5px,#384ba0 157px)"></i>
<i style="left:1367px;top:680px;width:157px;height:1px;background:linear-gradient(90deg,#8b1a1a 0,#8b1a1a 31.5px,#941c1d 32.5px,#c3272d 33.5px,#e91d25 34.5px,#f15422 35.5px,#f89535 36.5px,#fdd61b 37.5px,#dde228 38.5px,#c1d646 39.5px,#95c65f 41.5px,#6fc7bf 44.5px,#46c0e5 46.5px,#36aee4 47.5px,#3a88ca 48.5px,#3b5eac 58.5px,#3b56a7 68.5px,#aecf51 69.5px,#8cc46b 76.5px,#66c7d3 83.5px,#35b9eb 87.5px,#3996d3 90.5px,#3b63ae 107.5px,#384ba0 157px)"></i>
<i style="left:1367px;top:681px;width:157px;height:1px;background:linear-gradient(90deg,#8b1a1a 0,#8b1a1a 31.5px,#941c1d 32.5px,#c3272d 33.5px,#e91d25 34.5px,#f15422 35.5px,#f89535 36.5px,#fdd61b 37.5px,#dde228 38.5px,#c1d646 39.5px,#95c65f 41.5px,#6fc7bf 44.5px,#46c0e5 46.5px,#36aee4 47.5px,#3a88ca 48.5px,#3b5eac 58.5px,#3b56a7 68.5px,#b9d34a 69.5px,#9cc95b 75.5px,#84c47e 78.5px,#60c6d6 84.5px,#38beec 87.5px,#3899d5 90.5px,#3b64af 106.5px,#384ba0 157px)"></i>
<i style="left:1367px;top:682px;width:157px;height:1px;background:linear-gradient(90deg,#8b1a1a 0,#8b1a1a 31.5px,#941c1d 32.5px,#c3272d 33.5px,#e91d25 34.5px,#f15422 35.5px,#f89535 36.5px,#fdd61b 37.5px,#dde228 38.5px,#c1d646 39.5px,#95c65f 41.5px,#6fc7bf 44.5px,#46c0e5 46.5px,#36aee4 47.5px,#3a88ca 48.5px,#3b5eac 58.5px,#3b56a7 68.5px,#c9d940 69.5px,#9dc95b 76.5px,#82c483 79.5px,#67c7d2 84.5px,#36b8ea 88.5px,#3995d3 91.5px,#3b63ae 108.5px,#384ba0 157px)"></i>
<i style="left:1367px;top:683px;width:157px;height:1px;background:linear-gradient(90deg,#8b1a1a 0,#8b1a1a 1.5px,#3a52a4 2.5px,#3a52a4 68.5px,#dfe326 69.5px,#b0d050 75.5px,#90c562 78.5px,#6cc8cc 84.5px,#37bded 88.5px,#3998d5 91.5px,#3b64af 107.5px,#384ba0 157px)"></i>
<i style="left:1367px;top:684px;width:157px;height:1px;background:linear-gradient(90deg,#8b1a1a 0,#8b1a1a 1.5px,#3b59a9 2.5px,#3b6bb4 10.5px,#3a52a4 19.5px,#3b54a6 68.5px,#f6ee0b 69.5px,#d7e02f 73.5px,#b0d050 76.5px,#8ec466 79.5px,#6ec7c4 84.5px,#3dbfea 88.5px,#3994d2 92.5px,#3b62ae 109.5px,#384ba0 157px)"></i>
<i style="left:1367px;top:685px;width:157px;height:1px;background:linear-gradient(90deg,#8b1a1a 0,#8b1a1a 1.5px,#3899d6 2.5px,#3bbeeb 5.5px,#54c3dd 9.5px,#36b5e9 13.5px,#3b77bd 16.5px,#3b57a7 21.5px,#3b5aaa 46.5px,#3a7bc0 63.5px,#3a7cc1 68.5px,#fee30f 69.5px,#faf006 72.5px,#bad44a 76.5px,#8bc46e 80.5px,#6cc8cc 85.5px,#35bdee 89.5px,#3996d4 92.5px,#3b64af 108.5px,#384ba0 157px)"></i>
<i style="left:1367px;top:686px;width:157px;height:1px;background:linear-gradient(90deg,#8b1a1a 0,#8b1a1a 1.5px,#71c6b7 2.5px,#89c472 8.5px,#84c47f 11.5px,#61c6d6 16.5px,#3dbfe9 18.5px,#3a7cc1 22.5px,#3b5eab 27.5px,#3b5eac 38.5px,#3a84c7 44.5px,#35bced 48.5px,#60c6d6 57.5px,#68c7d2 68.5px,#fcc928 69.5px,#fedf13 72.5px,#ffee04 73.5px,#b8d34b 77.5px,#91c562 80.5px,#6ec7c5 85.5px,#3bbeeb 89.5px,#3899d5 92.5px,#3b65af 107.5px,#384ba0 157px)"></i>
<i style="left:1367px;top:687px;width:157px;height:1px;background:linear-gradient(90deg,#8b1a1a 0,#8b1a1a 1.5px,#aecf51 2.5px,#e1e423 9.5px,#bdd548 13.5px,#91c562 16.5px,#71c6b6 20.5px,#5bc5d9 23.5px,#38beec 26.5px,#398ece 31.5px,#3994d2 35.5px,#3abeeb 39.5px,#6dc7c8 44.5px,#8ac471 53.5px,#95c65f 61.5px,#97c75e 68.5px,#fbad3f 69.5px,#fcc52c 72.5px,#fee908 74.5px,#f2ec0f 75.5px,#c4d744 77.5px,#8cc46a 81.5px,#6cc8ce 86.5px,#35b9ec 90.5px,#3995d3 93.5px,#3b63af 109.5px,#384ba0 157px)"></i>
<i style="left:1367px;top:688px;width:157px;height:1px;background:linear-gradient(90deg,#8b1a1a 0,#8b1a1a 1.5px,#fedc15 2.5px,#fbaf3f 6.5px,#f99e39 9.5px,#fbb63a 12.5px,#ffef03 15.5px,#bbd449 19.5px,#8dc467 23.5px,#73c5ae 28.5px,#6fc7c1 33.5px,#76c4a3 38.5px,#96c75f 43.5px,#e5e61e 54.5px,#f6ee0b 68.5px,#f79134 69.5px,#faab3e 72.5px,#fdd120 74.5px,#fee909 75.5px,#efeb12 76.5px,#bed547 78.5px,#92c561 81.5px,#6dc7c7 86.5px,#38beec 90.5px,#3997d4 93.5px,#3b64af 109.5px,#384ba0 157px)"></i>
<i style="left:1367px;top:689px;width:157px;height:1px;background:linear-gradient(90deg,#8b1a1a 0,#8b1a1a 1.5px,#f36924 2.5px,#ee2e23 8.5px,#ef3823 11.5px,#f57b2b 15.5px,#fbb739 18.5px,#ffec06 21.5px,#dbe22a 24.5px,#bcd449 27.5px,#a6cc56 33.5px,#c5d843 39.5px,#fff002 44.5px,#fbb13f 50.5px,#f78d32 59.5px,#f68830 68.5px,#f47428 69.5px,#f78f33 72.5px,#fcb838 74.5px,#ffed05 76.5px,#b8d34b 79.5px,#8dc469 82.5px,#6fc7c0 86.5px,#4cc2e1 89.5px,#36b4e8 91.5px,#3899d6 93.5px,#3b66b0 107.5px,#384ba0 157px)"></i>
<i style="left:1367px;top:690px;width:157px;height:1px;background:linear-gradient(90deg,#8b1a1a 0,#8b1a1a 1.5px,#d82128 2.5px,#b12327 9.5px,#d72128 14.5px,#ed1f24 16.5px,#f4782a 21.5px,#fbb23f 25.5px,#fee50c 31.5px,#fed918 36.5px,#fbb040 40.5px,#f15023 48.5px,#ed2224 56.5px,#eb1d25 68.5px,#f15622 69.5px,#f47328 72.5px,#fcba37 75.5px,#fcf103 77.5px,#c3d745 79.5px,#93c561 82.5px,#6dc7ca 87.5px,#35bced 91.5px,#3995d3 94.5px,#3b63ae 110.5px,#384ba0 157px)"></i>
<i style="left:1367px;top:691px;width:157px;height:1px;background:linear-gradient(90deg,#8b1a1a 0,#8b1a1a 14.5px,#ce242a 19.5px,#ea1d25 22.5px,#f36e26 30.5px,#f36d25 35.5px,#eb1c24 43.5px,#ab2225 55.5px,#a21f22 68.5px,#ef3823 69.5px,#f15622 72.5px,#f9a13a 75.5px,#fcc031 76.5px,#fee012 77.5px,#f2ec10 78.5px,#bad44a 80.5px,#8cc46b 83.5px,#6ec7c3 87.5px,#39beec 91.5px,#3997d4 94.5px,#3b64af 109.5px,#384ba0 157px)"></i>
<i style="left:1367px;top:692px;width:157px;height:1px;background:linear-gradient(90deg,#8b1a1a 0,#8b1a1a 20.5px,#cd242b 27.5px,#dd2027 34.5px,#ac2225 42.5px,#8b1a1a 47.5px,#8b1a1a 68.5px,#ea1d25 69.5px,#ee2824 71.5px,#f36a24 74.5px,#faa83d 76.5px,#ffec06 78.5px,#c5d843 80.5px,#91c562 83.5px,#6cc8ce 88.5px,#36b6e9 92.5px,#3899d6 94.5px,#3b65b0 108.5px,#384ba0 157px)"></i>
<i style="left:1367px;top:693px;width:157px;height:1px;background:linear-gradient(90deg,#8b1a1a 0,#8e1b1b 35.5px,#8b1a1a 68.5px,#d62229 69.5px,#ec1c24 72.5px,#f36f26 75.5px,#fbb43c 77.5px,#fdd819 78.5px,#f6ee0b 79.5px,#bad44a 81.5px,#8ac46f 84.5px,#71c6b6 87.5px,#53c3dd 90.5px,#35bdee 92.5px,#3995d3 95.5px,#3b63ae 111.5px,#384ba0 157px)"></i>
<i style="left:1367px;top:694px;width:157px;height:1px;background:linear-gradient(90deg,#8b1a1a 0,#8b1a1a 68.5px,#c2272d 69.5px,#d92128 72.5px,#e91d25 73.5px,#f15522 75.5px,#f99e39 77.5px,#fcc32d 78.5px,#fee909 79.5px,#e5e61e 80.5px,#c4d744 81.5px,#8fc463 84.5px,#6fc7c1 88.5px,#3abeeb 92.5px,#3997d4 95.5px,#3b64af 110.5px,#384ba0 157px)"></i>
<i style="left:1367px;top:695px;width:157px;height:1px;background:linear-gradient(90deg,#8b1a1a 0,#8b1a1a 68.5px,#a72124 69.5px,#c6262c 72.5px,#ea1d25 74.5px,#f26022 76.5px,#fbae3f 78.5px,#fdd61b 79.5px,#f6ee0b 80.5px,#d3de34 81.5px,#a6cc55 83.5px,#88c475 85.5px,#6cc8cd 89.5px,#36b5e9 93.5px,#3899d6 95.5px,#3b65b0 109.5px,#384ba0 157px)"></i>
<i style="left:1367px;top:696px;width:157px;height:1px;background:linear-gradient(90deg,#8b1a1a 0,#901b1c 70.5px,#d92128 74.5px,#ed2024 75.5px,#f37027 77.5px,#f89a37 78.5px,#fcc22e 79.5px,#ffea07 80.5px,#c1d646 82.5px,#8cc46a 85.5px,#72c6b4 88.5px,#53c3dd 91.5px,#35bced 93.5px,#3994d2 96.5px,#3b63ae 112.5px,#384ba0 157px)"></i>
<i style="left:1367px;top:697px;width:157px;height:1px;background:linear-gradient(90deg,#8b1a1a 0,#8b1a1a 71.5px,#ac2226 73.5px,#df1f27 75.5px,#ee2f23 76.5px,#f6842f 78.5px,#fbaf40 79.5px,#fdd919 80.5px,#f1ec10 81.5px,#cddb3b 82.5px,#91c562 85.5px,#6fc7c1 89.5px,#39beec 93.5px,#3996d4 96.5px,#3b64af 111.5px,#384ba0 157px)"></i>
<i style="left:1367px;top:698px;width:157px;height:1px;background:linear-gradient(90deg,#8b1a1a 0,#8b1a1a 72.5px,#941c1d 73.5px,#ce242a 75.5px,#e91d25 76.5px,#f36f26 78.5px,#f99b38 79.5px,#fcc72a 80.5px,#fff002 81.5px,#bbd449 83.5px,#89c473 86.5px,#70c6bb 89.5px,#4dc2e1 92.5px,#36b3e7 94.5px,#3898d5 96.5px,#3b65b0 110.5px,#384ba0 157px)"></i>
<i style="left:1367px;top:699px;width:157px;height:1px;background:linear-gradient(90deg,#8b1a1a 0,#8b1a1a 73.5px,#9b1e20 74.5px,#da2128 76.5px,#ee2b24 77.5px,#f68830 79.5px,#fbb43c 80.5px,#fee012 81.5px,#e9e81a 82.5px,#c5d844 83.5px,#8dc469 86.5px,#71c6b5 89.5px,#51c3de 92.5px,#35b9ec 94.5px,#389ad6 96.5px,#3b67b1 109.5px,#384ba0 157px)"></i>
<i style="left:1367px;top:700px;width:157px;height:1px;background:linear-gradient(90deg,#8b1a1a 0,#8b1a1a 74.5px,#ca252b 76.5px,#e81d25 77.5px,#f47428 79.5px,#f9a23b 80.5px,#f7ef09 82.5px,#d1dd36 83.5px,#a3cb57 85.5px,#91c562 86.5px,#6ec7c2 90.5px,#37bded 94.5px,#3995d3 97.5px,#3b64af 112.5px,#384ba0 157px)"></i>
<i style="left:1367px;top:701px;width:157px;height:1px;background:linear-gradient(90deg,#8b1a1a 0,#921c1d 75.5px,#b9252a 76.5px,#da2128 77.5px,#ee2f23 78.5px,#f26022 79.5px,#f79133 80.5px,#fcbf32 81.5px,#ffeb07 82.5px,#bcd449 84.5px,#88c474 87.5px,#70c6bc 90.5px,#4bc1e2 93.5px,#36b0e5 95.5px,#3990cf 98.5px,#3b63ae 113.5px,#384ba0 157px)"></i>
<i style="left:1367px;top:702px;width:157px;height:1px;background:linear-gradient(90deg,#8b1a1a 0,#8b1a1a 75.5px,#cc242b 77.5px,#ec1c24 78.5px,#f57f2c 80.5px,#fbae3f 81.5px,#fedc15 82.5px,#ebe917 83.5px,#c5d843 84.5px,#8cc46b 87.5px,#71c6b7 90.5px,#3fbfe8 94.5px,#3899d6 97.5px,#3b65b0 111.5px,#384ba0 157px)"></i>
<i style="left:1367px;top:703px;width:157px;height:1px;background:linear-gradient(90deg,#8b1a1a 0,#921c1d 76.5px,#bd262c 77.5px,#df1f27 78.5px,#ef3a23 79.5px,#f36d25 80.5px,#f99e39 81.5px,#f8ef08 83.5px,#d1dd36 84.5px,#90c463 87.5px,#72c5b2 90.5px,#53c3dd 93.5px,#35bbed 95.5px,#389bd7 97.5px,#3b67b1 110.5px,#384ba0 157px)"></i>
<i style="left:1367px;top:704px;width:157px;height:1px;background:linear-gradient(90deg,#8b1a1a 0,#8b1a1a 76.5px,#d22329 78.5px,#ee2724 79.5px,#f15b22 80.5px,#fcbe33 82.5px,#ffec06 83.5px,#bbd449 85.5px,#95c660 87.5px,#6fc7c0 91.5px,#38beec 95.5px,#3995d3 98.5px,#3b64af 113.5px,#384ba0 157px)"></i>
<i style="left:1367px;top:705px;width:157px;height:1px;background:linear-gradient(90deg,#8b1a1a 0,#8b1a1a 76.5px,#9a1e1f 77.5px,#c6262c 78.5px,#e81d25 79.5px,#f57d2c 81.5px,#fbaf40 82.5px,#fede14 83.5px,#e9e81a 84.5px,#c3d745 85.5px,#8ac46f 88.5px,#70c6bb 91.5px,#4cc2e1 94.5px,#36b1e6 96.5px,#3990d0 99.5px,#3b63ae 114.5px,#384ba0 157px)"></i>
<i style="left:1367px;top:706px;width:157px;height:1px;background:linear-gradient(90deg,#8b1a1a 0,#8b1a1a 77.5px,#b7252a 78.5px,#dd2027 79.5px,#ef3923 80.5px,#f36d25 81.5px,#f9a03a 82.5px,#fdd021 83.5px,#f4ed0d 84.5px,#ccdb3b 85.5px,#8ec467 88.5px,#71c6b6 91.5px,#50c2df 94.5px,#36b6e9 96.5px,#3899d6 98.5px,#3b65af 112.5px,#384ba0 157px)"></i>
<i style="left:1367px;top:707px;width:157px;height:1px;background:linear-gradient(90deg,#8b1a1a 0,#8b1a1a 77.5px,#d1232a 79.5px,#ee2824 80.5px,#f25e22 81.5px,#f79234 82.5px,#fcc32e 83.5px,#fff101 84.5px,#d7e02f 85.5px,#b8d34b 86.5px,#92c562 88.5px,#6ec7c4 92.5px,#35bced 96.5px,#389bd7 98.5px,#3b67b0 111.5px,#384ba0 157px)"></i>
<i style="left:1367px;top:708px;width:157px;height:1px;background:linear-gradient(90deg,#8b1a1a 0,#8b1a1a 77.5px,#991d1f 78.5px,#c6262c 79.5px,#ea1d25 80.5px,#f6832e 82.5px,#fbb63b 83.5px,#fee50d 84.5px,#bdd548 86.5px,#88c476 89.5px,#6fc7bf 92.5px,#47c1e4 95.5px,#38beed 96.5px,#3995d3 99.5px,#3b64af 114.5px,#384ba0 157px)"></i>
<i style="left:1367px;top:709px;width:157px;height:1px;background:linear-gradient(90deg,#8b1a1a 0,#8b1a1a 78.5px,#ba252b 79.5px,#e01f27 80.5px,#ef4023 81.5px,#faa93d 83.5px,#fdd918 84.5px,#ece916 85.5px,#c5d844 86.5px,#8bc46e 89.5px,#70c6bb 92.5px,#4bc2e2 95.5px,#36b0e5 97.5px,#3990cf 100.5px,#3b63ae 115.5px,#384ba0 157px)"></i>
<i style="left:1367px;top:710px;width:157px;height:1px;background:linear-gradient(90deg,#8b1a1a 0,#8b1a1a 78.5px,#d62229 80.5px,#ee3123 81.5px,#f26723 82.5px,#f99c38 83.5px,#fdcd24 84.5px,#f6ee0a 85.5px,#cedc3a 86.5px,#8dc467 89.5px,#71c6b6 92.5px,#4fc2e0 95.5px,#36b5e9 97.5px,#3899d5 99.5px,#3b65af 113.5px,#384ba0 157px)"></i>
<i style="left:1367px;top:711px;width:157px;height:1px;background:linear-gradient(90deg,#8b1a1a 0,#8b1a1a 78.5px,#a01f21 79.5px,#ed2224 81.5px,#f15a22 82.5px,#f78f33 83.5px,#fcc12f 84.5px,#fff001 85.5px,#d7e02f 86.5px,#b8d34b 87.5px,#91c562 89.5px,#72c5b2 92.5px,#53c3de 95.5px,#35baec 97.5px,#389ad6 99.5px,#3b66b0 112.5px,#384ba0 157px)"></i>
<i style="left:1367px;top:712px;width:157px;height:1px;background:linear-gradient(90deg,#8b1a1a 0,#8b1a1a 78.5px,#941c1d 79.5px,#c4262c 80.5px,#e81d25 81.5px,#f6832e 83.5px,#fbb63a 84.5px,#fee60c 85.5px,#bcd449 87.5px,#95c65f 89.5px,#6fc7c1 93.5px,#36bded 97.5px,#3994d2 100.5px,#3b63af 115.5px,#384ba0 157px)"></i>
<i style="left:1367px;top:713px;width:157px;height:1px;background:linear-gradient(90deg,#8b1a1a 0,#8b1a1a 79.5px,#b9252a 80.5px,#e01f27 81.5px,#ef4023 82.5px,#faab3e 84.5px,#fedb16 85.5px,#eae819 86.5px,#c3d745 87.5px,#8ac471 90.5px,#70c6bd 93.5px,#5ac5d9 95.5px,#39beec 97.5px,#3996d4 100.5px,#3b64af 115.5px,#384ba0 157px)"></i>
<i style="left:1367px;top:714px;width:157px;height:1px;background:linear-gradient(90deg,#8b1a1a 0,#8b1a1a 79.5px,#d82128 81.5px,#ef3423 82.5px,#f36b24 83.5px,#f9a039 84.5px,#fdd120 85.5px,#f2ec0f 86.5px,#cada3e 87.5px,#8cc46a 90.5px,#71c6b8 93.5px,#4dc2e1 96.5px,#36b2e6 98.5px,#3997d5 100.5px,#3b64af 115.5px,#384ba0 157px)"></i>
<i style="left:1367px;top:715px;width:157px;height:2px;background:linear-gradient(90deg,#8b1a1a 0,#8b1a1a 79.5px,#a42023 80.5px,#ee2824 82.5px,#f26022 83.5px,#f89535 84.5px,#fcc72a 85.5px,#fbf004 86.5px,#d2de35 87.5px,#a1cb58 89.5px,#8fc464 90.5px,#72c6b4 93.5px,#50c3df 96.5px,#36b6ea 98.5px,#3899d6 100.5px,#3b65af 114.5px,#384ba0 157px)"></i>
<i style="left:1367px;top:717px;width:157px;height:1px;background:linear-gradient(90deg,#8b1a1a 0,#8b1a1a 79.5px,#d82128 81.5px,#ef3423 82.5px,#f36b24 83.5px,#f9a039 84.5px,#fdd120 85.5px,#f2ec0f 86.5px,#cada3e 87.5px,#8cc46a 90.5px,#71c6b8 93.5px,#4dc2e1 96.5px,#36b2e6 98.5px,#3997d5 100.5px,#3b64af 115.5px,#384ba0 157px)"></i>
<i style="left:1367px;top:718px;width:157px;height:1px;background:linear-gradient(90deg,#8b1a1a 0,#8b1a1a 79.5px,#b9252a 80.5px,#e01f27 81.5px,#ef4023 82.5px,#faab3e 84.5px,#fedb16 85.5px,#eae819 86.5px,#c3d745 87.5px,#8ac471 90.5px,#70c6bd 93.5px,#5ac5d9 95.5px,#39beec 97.5px,#3996d4 100.5px,#3b64af 115.5px,#384ba0 157px)"></i>
<i style="left:1367px;top:719px;width:157px;height:1px;background:linear-gradient(90deg,#8b1a1a 0,#8b1a1a 78.5px,#941c1d 79.5px,#c4262c 80.5px,#e81d25 81.5px,#f6832e 83.5px,#fbb63a 84.5px,#fee60c 85.5px,#bcd449 87.5px,#95c65f 89.5px,#6fc7c1 93.5px,#36bded 97.5px,#3994d2 100.5px,#3b63af 115.5px,#384ba0 157px)"></i>
<i style="left:1367px;top:720px;width:157px;height:1px;background:linear-gradient(90deg,#8b1a1a 0,#8b1a1a 78.5px,#a01f21 79.5px,#ed2224 81.5px,#f15a22 82.5px,#f78f33 83.5px,#fcc12f 84.5px,#fff001 85.5px,#d7e02f 86.5px,#b8d34b 87.5px,#91c562 89.5px,#72c5b2 92.5px,#53c3de 95.5px,#35baec 97.5px,#389ad6 99.5px,#3b66b0 112.5px,#384ba0 157px)"></i>
<i style="left:1367px;top:721px;width:157px;height:1px;background:linear-gradient(90deg,#8b1a1a 0,#8b1a1a 78.5px,#d62229 80.5px,#ee3123 81.5px,#f26723 82.5px,#f99c38 83.5px,#fdcd24 84.5px,#f6ee0a 85.5px,#cedc3a 86.5px,#8dc467 89.5px,#71c6b6 92.5px,#4fc2e0 95.5px,#36b5e9 97.5px,#3899d5 99.5px,#3b65af 113.5px,#384ba0 157px)"></i>
<i style="left:1367px;top:722px;width:157px;height:1px;background:linear-gradient(90deg,#8b1a1a 0,#8b1a1a 78.5px,#ba252b 79.5px,#e01f27 80.5px,#ef4023 81.5px,#faa93d 83.5px,#fdd918 84.5px,#ece916 85.5px,#c5d844 86.5px,#8bc46e 89.5px,#70c6bb 92.5px,#4bc2e2 95.5px,#36b0e5 97.5px,#3990cf 100.5px,#3b63ae 115.5px,#384ba0 157px)"></i>
<i style="left:1367px;top:723px;width:157px;height:1px;background:linear-gradient(90deg,#8b1a1a 0,#8b1a1a 77.5px,#991d1f 78.5px,#c6262c 79.5px,#ea1d25 80.5px,#f6832e 82.5px,#fbb63b 83.5px,#fee50d 84.5px,#bdd548 86.5px,#88c476 89.5px,#6fc7bf 92.5px,#47c1e4 95.5px,#38beed 96.5px,#3995d3 99.5px,#3b64af 114.5px,#384ba0 157px)"></i>
<i style="left:1367px;top:724px;width:157px;height:1px;background:linear-gradient(90deg,#8b1a1a 0,#8b1a1a 77.5px,#d1232a 79.5px,#ee2824 80.5px,#f25e22 81.5px,#f79234 82.5px,#fcc32e 83.5px,#fff101 84.5px,#d7e02f 85.5px,#b8d34b 86.5px,#92c562 88.5px,#6ec7c4 92.5px,#35bced 96.5px,#389bd7 98.5px,#3b67b0 111.5px,#384ba0 157px)"></i>
<i style="left:1367px;top:725px;width:157px;height:1px;background:linear-gradient(90deg,#8b1a1a 0,#8b1a1a 77.5px,#b7252a 78.5px,#dd2027 79.5px,#ef3923 80.5px,#f36d25 81.5px,#f9a03a 82.5px,#fdd021 83.5px,#f4ed0d 84.5px,#ccdb3b 85.5px,#8ec467 88.5px,#71c6b6 91.5px,#50c2df 94.5px,#36b6e9 96.5px,#3899d6 98.5px,#3b65af 112.5px,#384ba0 157px)"></i>
<i style="left:1367px;top:726px;width:157px;height:1px;background:linear-gradient(90deg,#8b1a1a 0,#8b1a1a 76.5px,#9a1e1f 77.5px,#c6262c 78.5px,#e81d25 79.5px,#f57d2c 81.5px,#fbaf40 82.5px,#fede14 83.5px,#e9e81a 84.5px,#c3d745 85.5px,#8ac46f 88.5px,#70c6bb 91.5px,#4cc2e1 94.5px,#36b1e6 96.5px,#3990d0 99.5px,#3b63ae 114.5px,#384ba0 157px)"></i>
<i style="left:1367px;top:727px;width:157px;height:1px;background:linear-gradient(90deg,#8b1a1a 0,#8b1a1a 76.5px,#d22329 78.5px,#ee2724 79.5px,#f15b22 80.5px,#fcbe33 82.5px,#ffec06 83.5px,#bbd449 85.5px,#95c660 87.5px,#6fc7c0 91.5px,#38beec 95.5px,#3995d3 98.5px,#3b64af 113.5px,#384ba0 157px)"></i>
<i style="left:1367px;top:728px;width:157px;height:1px;background:linear-gradient(90deg,#8b1a1a 0,#921c1d 76.5px,#bd262c 77.5px,#df1f27 78.5px,#ef3a23 79.5px,#f36d25 80.5px,#f99e39 81.5px,#f8ef08 83.5px,#d1dd36 84.5px,#90c463 87.5px,#72c5b2 90.5px,#53c3dd 93.5px,#35bbed 95.5px,#389bd7 97.5px,#3b67b1 110.5px,#384ba0 157px)"></i>
<i style="left:1367px;top:729px;width:157px;height:1px;background:linear-gradient(90deg,#8b1a1a 0,#8b1a1a 75.5px,#cc242b 77.5px,#ec1c24 78.5px,#f57f2c 80.5px,#fbae3f 81.5px,#fedc15 82.5px,#ebe917 83.5px,#c5d843 84.5px,#8cc46b 87.5px,#71c6b7 90.5px,#3fbfe8 94.5px,#3899d6 97.5px,#3b65b0 111.5px,#384ba0 157px)"></i>
<i style="left:1367px;top:730px;width:157px;height:1px;background:linear-gradient(90deg,#8b1a1a 0,#921c1d 75.5px,#b9252a 76.5px,#da2128 77.5px,#ee2f23 78.5px,#f26022 79.5px,#f79133 80.5px,#fcbf32 81.5px,#ffeb07 82.5px,#bcd449 84.5px,#88c474 87.5px,#70c6bc 90.5px,#4bc1e2 93.5px,#36b0e5 95.5px,#3990cf 98.5px,#3b63ae 113.5px,#384ba0 157px)"></i>
<i style="left:1367px;top:731px;width:157px;height:1px;background:linear-gradient(90deg,#8b1a1a 0,#8b1a1a 74.5px,#ca252b 76.5px,#e81d25 77.5px,#f47428 79.5px,#f9a23b 80.5px,#f7ef09 82.5px,#d1dd36 83.5px,#a3cb57 85.5px,#91c562 86.5px,#6ec7c2 90.5px,#37bded 94.5px,#3995d3 97.5px,#3b64af 112.5px,#384ba0 157px)"></i>
<i style="left:1367px;top:732px;width:157px;height:1px;background:linear-gradient(90deg,#8b1a1a 0,#8b1a1a 73.5px,#9b1e20 74.5px,#da2128 76.5px,#ee2b24 77.5px,#f68830 79.5px,#fbb43c 80.5px,#fee012 81.5px,#e9e81a 82.5px,#c5d844 83.5px,#8dc469 86.5px,#71c6b5 89.5px,#51c3de 92.5px,#35b9ec 94.5px,#389ad6 96.5px,#3b67b1 109.5px,#384ba0 157px)"></i>
<i style="left:1367px;top:733px;width:157px;height:1px;background:linear-gradient(90deg,#8b1a1a 0,#8b1a1a 72.5px,#941c1d 73.5px,#ce242a 75.5px,#e91d25 76.5px,#f36f26 78.5px,#f99b38 79.5px,#fcc72a 80.5px,#fff002 81.5px,#bbd449 83.5px,#89c473 86.5px,#70c6bb 89.5px,#4dc2e1 92.5px,#36b3e7 94.5px,#3898d5 96.5px,#3b65b0 110.5px,#384ba0 157px)"></i>
<i style="left:1367px;top:734px;width:157px;height:1px;background:linear-gradient(90deg,#8b1a1a 0,#8b1a1a 71.5px,#ac2226 73.5px,#df1f27 75.5px,#ee2f23 76.5px,#f6842f 78.5px,#fbaf40 79.5px,#fdd919 80.5px,#f1ec10 81.5px,#cddb3b 82.5px,#91c562 85.5px,#6fc7c1 89.5px,#39beec 93.5px,#3996d4 96.5px,#3b64af 111.5px,#384ba0 157px)"></i>
<i style="left:1367px;top:735px;width:157px;height:1px;background:linear-gradient(90deg,#8b1a1a 0,#901b1c 70.5px,#d92128 74.5px,#ed2024 75.5px,#f37027 77.5px,#f89a37 78.5px,#fcc22e 79.5px,#ffea07 80.5px,#c1d646 82.5px,#8cc46a 85.5px,#72c6b4 88.5px,#53c3dd 91.5px,#35bced 93.5px,#3994d2 96.5px,#3b63ae 112.5px,#384ba0 157px)"></i>
<i style="left:1367px;top:736px;width:157px;height:1px;background:linear-gradient(90deg,#8b1a1a 0,#8b1a1a 68.5px,#a72124 69.5px,#c6262c 72.5px,#ea1d25 74.5px,#f26022 76.5px,#fbae3f 78.5px,#fdd61b 79.5px,#f6ee0b 80.5px,#d3de34 81.5px,#a6cc55 83.5px,#88c475 85.5px,#6cc8cd 89.5px,#36b5e9 93.5px,#3899d6 95.5px,#3b65b0 109.5px,#384ba0 157px)"></i>
<i style="left:1367px;top:737px;width:157px;height:1px;background:linear-gradient(90deg,#8b1a1a 0,#8b1a1a 68.5px,#c2272d 69.5px,#d92128 72.5px,#e91d25 73.5px,#f15522 75.5px,#f99e39 77.5px,#fcc32d 78.5px,#fee909 79.5px,#e5e61e 80.5px,#c4d744 81.5px,#8fc463 84.5px,#6fc7c1 88.5px,#3abeeb 92.5px,#3997d4 95.5px,#3b64af 110.5px,#384ba0 157px)"></i>
<i style="left:1367px;top:738px;width:157px;height:1px;background:linear-gradient(90deg,#8b1a1a 0,#8e1b1b 35.5px,#8b1a1a 68.5px,#d62229 69.5px,#ec1c24 72.5px,#f36f26 75.5px,#fbb43c 77.5px,#fdd819 78.5px,#f6ee0b 79.5px,#bad44a 81.5px,#8ac46f 84.5px,#71c6b6 87.5px,#53c3dd 90.5px,#35bdee 92.5px,#3995d3 95.5px,#3b63ae 111.5px,#384ba0 157px)"></i>
<i style="left:1367px;top:739px;width:157px;height:1px;background:linear-gradient(90deg,#8b1a1a 0,#8b1a1a 20.5px,#cd242b 27.5px,#dd2027 34.5px,#ac2225 42.5px,#8b1a1a 47.5px,#8b1a1a 68.5px,#ea1d25 69.5px,#ee2824 71.5px,#f36a24 74.5px,#faa83d 76.5px,#ffec06 78.5px,#c5d843 80.5px,#91c562 83.5px,#6cc8ce 88.5px,#36b6e9 92.5px,#3899d6 94.5px,#3b65b0 108.5px,#384ba0 157px)"></i>
<i style="left:1367px;top:740px;width:157px;height:1px;background:linear-gradient(90deg,#8b1a1a 0,#8b1a1a 14.5px,#ce242a 19.5px,#ea1d25 22.5px,#f36e26 30.5px,#f36d25 35.5px,#eb1c24 43.5px,#ab2225 55.5px,#a21f22 68.5px,#ef3823 69.5px,#f15622 72.5px,#f9a13a 75.5px,#fcc031 76.5px,#fee012 77.5px,#f2ec10 78.5px,#bad44a 80.5px,#8cc46b 83.5px,#6ec7c3 87.5px,#39beec 91.5px,#3997d4 94.5px,#3b64af 109.5px,#384ba0 157px)"></i>
<i style="left:1367px;top:741px;width:157px;height:1px;background:linear-gradient(90deg,#8b1a1a 0,#8b1a1a 1.5px,#d82128 2.5px,#b12327 9.5px,#d72128 14.5px,#ed1f24 16.5px,#f4782a 21.5px,#fbb23f 25.5px,#fee50c 31.5px,#fed918 36.5px,#fbb040 40.5px,#f15023 48.5px,#ed2224 56.5px,#eb1d25 68.5px,#f15622 69.5px,#f47328 72.5px,#fcba37 75.5px,#fcf103 77.5px,#c3d745 79.5px,#93c561 82.5px,#6dc7ca 87.5px,#35bced 91.5px,#3995d3 94.5px,#3b63ae 110.5px,#384ba0 157px)"></i>
<i style="left:1367px;top:742px;width:157px;height:1px;background:linear-gradient(90deg,#8b1a1a 0,#8b1a1a 1.5px,#f36924 2.5px,#ee2e23 8.5px,#ef3823 11.5px,#f57b2b 15.5px,#fbb739 18.5px,#ffec06 21.5px,#dbe22a 24.5px,#bcd449 27.5px,#a6cc56 33.5px,#c5d843 39.5px,#fff002 44.5px,#fbb13f 50.5px,#f78d32 59.5px,#f68830 68.5px,#f47428 69.5px,#f78f33 72.5px,#fcb838 74.5px,#ffed05 76.5px,#b8d34b 79.5px,#8dc469 82.5px,#6fc7c0 86.5px,#4cc2e1 89.5px,#36b4e8 91.5px,#3899d6 93.5px,#3b66b0 107.5px,#384ba0 157px)"></i>
<i style="left:1367px;top:743px;width:157px;height:1px;background:linear-gradient(90deg,#8b1a1a 0,#8b1a1a 1.5px,#fedc15 2.5px,#fbaf3f 6.5px,#f99e39 9.5px,#fbb63a 12.5px,#ffef03 15.5px,#bbd449 19.5px,#8dc467 23.5px,#73c5ae 28.5px,#6fc7c1 33.5px,#76c4a3 38.5px,#96c75f 43.5px,#e5e61e 54.5px,#f6ee0b 68.5px,#f79134 69.5px,#faab3e 72.5px,#fdd120 74.5px,#fee909 75.5px,#efeb12 76.5px,#bed547 78.5px,#92c561 81.5px,#6dc7c7 86.5px,#38beec 90.5px,#3997d4 93.5px,#3b64af 109.5px,#384ba0 157px)"></i>
<i style="left:1367px;top:744px;width:157px;height:1px;background:linear-gradient(90deg,#8b1a1a 0,#8b1a1a 1.5px,#aecf51 2.5px,#e1e423 9.5px,#bdd548 13.5px,#91c562 16.5px,#71c6b6 20.5px,#5bc5d9 23.5px,#38beec 26.5px,#398ece 31.5px,#3994d2 35.5px,#3abeeb 39.5px,#6dc7c8 44.5px,#8ac471 53.5px,#95c65f 61.5px,#97c75e 68.5px,#fbad3f 69.5px,#fcc52c 72.5px,#fee908 74.5px,#f2ec0f 75.5px,#c4d744 77.5px,#8cc46a 81.5px,#6cc8ce 86.5px,#35b9ec 90.5px,#3995d3 93.5px,#3b63af 109.5px,#384ba0 157px)"></i>
<i style="left:1367px;top:745px;width:157px;height:1px;background:linear-gradient(90deg,#8b1a1a 0,#8b1a1a 1.5px,#71c6b7 2.5px,#89c472 8.5px,#84c47f 11.5px,#61c6d6 16.5px,#3dbfe9 18.5px,#3a7cc1 22.5px,#3b5eab 27.5px,#3b5eac 38.5px,#3a84c7 44.5px,#35bced 48.5px,#60c6d6 57.5px,#68c7d2 68.5px,#fcc928 69.5px,#fedf13 72.5px,#ffee04 73.5px,#b8d34b 77.5px,#91c562 80.5px,#6ec7c5 85.5px,#3bbeeb 89.5px,#3899d5 92.5px,#3b65af 107.5px,#384ba0 157px)"></i>
<i style="left:1367px;top:746px;width:157px;height:1px;background:linear-gradient(90deg,#8b1a1a 0,#8b1a1a 1.5px,#3899d6 2.5px,#3bbeeb 5.5px,#54c3dd 9.5px,#36b5e9 13.5px,#3b77bd 16.5px,#3b57a7 21.5px,#3b5aaa 46.5px,#3a7bc0 63.5px,#3a7cc1 68.5px,#fee30f 69.5px,#faf006 72.5px,#bad44a 76.5px,#8bc46e 80.5px,#6cc8cc 85.5px,#35bdee 89.5px,#3996d4 92.5px,#3b64af 108.5px,#384ba0 157px)"></i>
<i style="left:1367px;top:747px;width:157px;height:1px;background:linear-gradient(90deg,#8b1a1a 0,#8b1a1a 1.5px,#3b59a9 2.5px,#3b6bb4 10.5px,#3a52a4 19.5px,#3b54a6 68.5px,#f6ee0b 69.5px,#d7e02f 73.5px,#b0d050 76.5px,#8ec466 79.5px,#6ec7c4 84.5px,#3dbfea 88.5px,#3994d2 92.5px,#3b62ae 109.5px,#384ba0 157px)"></i>
<i style="left:1367px;top:748px;width:157px;height:1px;background:linear-gradient(90deg,#8b1a1a 0,#8b1a1a 1.5px,#3a52a4 2.5px,#3a52a4 68.5px,#dfe326 69.5px,#b0d050 75.5px,#90c562 78.5px,#6cc8cc 84.5px,#37bded 88.5px,#3998d5 91.5px,#3b64af 107.5px,#384ba0 157px)"></i>
<i style="left:1367px;top:749px;width:157px;height:1px;background:linear-gradient(90deg,#8b1a1a 0,#8b1a1a 31.5px,#941c1d 32.5px,#c3272d 33.5px,#e91d25 34.5px,#f15422 35.5px,#f89535 36.5px,#fdd61b 37.5px,#dde228 38.5px,#c1d646 39.5px,#95c65f 41.5px,#6fc7bf 44.5px,#46c0e5 46.5px,#36aee4 47.5px,#3a88ca 48.5px,#3b5eac 58.5px,#3b56a7 68.5px,#c9d940 69.5px,#9dc95b 76.5px,#82c483 79.5px,#67c7d2 84.5px,#36b8ea 88.5px,#3995d3 91.5px,#3b63ae 108.5px,#384ba0 157px)"></i>
<i style="left:1367px;top:750px;width:157px;height:1px;background:linear-gradient(90deg,#8b1a1a 0,#8b1a1a 31.5px,#941c1d 32.5px,#c3272d 33.5px,#e91d25 34.5px,#f15422 35.5px,#f89535 36.5px,#fdd61b 37.5px,#dde228 38.5px,#c1d646 39.5px,#95c65f 41.5px,#6fc7bf 44.5px,#46c0e5 46.5px,#36aee4 47.5px,#3a88ca 48.5px,#3b5eac 58.5px,#3b56a7 68.5px,#b9d34a 69.5px,#9cc95b 75.5px,#84c47e 78.5px,#60c6d6 84.5px,#38beec 87.5px,#3899d5 90.5px,#3b64af 106.5px,#384ba0 157px)"></i>
<i style="left:1367px;top:751px;width:157px;height:1px;background:linear-gradient(90deg,#8b1a1a 0,#8b1a1a 31.5px,#941c1d 32.5px,#c3272d 33.5px,#e91d25 34.5px,#f15422 35.5px,#f89535 36.5px,#fdd61b 37.5px,#dde228 38.5px,#c1d646 39.5px,#95c65f 41.5px,#6fc7bf 44.5px,#46c0e5 46.5px,#36aee4 47.5px,#3a88ca 48.5px,#3b5eac 58.5px,#3b56a7 68.5px,#aecf51 69.5px,#8cc46b 76.5px,#66c7d3 83.5px,#35b9eb 87.5px,#3996d3 90.5px,#3b63ae 107.5px,#384ba0 157px)"></i>
<i style="left:1367px;top:752px;width:157px;height:1px;background:linear-gradient(90deg,#8b1a1a 0,#8b1a1a 31.5px,#941c1d 32.5px,#c3272d 33.5px,#e91d25 34.5px,#f15422 35.5px,#f89535 36.5px,#fdd61b 37.5px,#dde228 38.5px,#c1d646 39.5px,#95c65f 41.5px,#6fc7bf 44.5px,#46c0e5 46.5px,#36aee4 47.5px,#3a88ca 48.5px,#3b5eac 58.5px,#3b56a7 68.5px,#a3cb57 69.5px,#8bc46d 75.5px,#5ec5d7 83.5px,#38beec 86.5px,#3899d6 89.5px,#3b65af 105.5px,#384ba0 157px)"></i>
<i style="left:1367px;top:753px;width:157px;height:1px;background:linear-gradient(90deg,#8b1a1a 0,#8b1a1a 31.5px,#941c1d 32.5px,#c3272d 33.5px,#e91d25 34.5px,#f15422 35.5px,#f89535 36.5px,#fdd61b 37.5px,#dde228 38.5px,#c1d646 39.5px,#95c65f 41.5px,#6fc7bf 44.5px,#46c0e5 46.5px,#36aee4 47.5px,#3a88ca 48.5px,#3b5eac 58.5px,#3b56a7 68.5px,#99c85d 69.5px,#8ac471 74.5px,#63c6d4 82.5px,#35b9eb 86.5px,#3997d4 89.5px,#3b63af 106.5px,#384ba0 157px)"></i>
<i style="left:1367px;top:754px;width:157px;height:1px;background:linear-gradient(90deg,#8b1a1a 0,#8b1a1a 31.5px,#941c1d 32.5px,#c3272d 33.5px,#e91d25 34.5px,#f15422 35.5px,#f89535 36.5px,#fdd61b 37.5px,#dde228 38.5px,#c1d646 39.5px,#95c65f 41.5px,#6fc7bf 44.5px,#46c0e5 46.5px,#36aee4 47.5px,#3a88ca 48.5px,#3b5eac 58.5px,#3b56a7 68.5px,#8fc464 69.5px,#83c481 74.5px,#5bc5d9 82.5px,#38beed 85.5px,#389ad6 88.5px,#3b65af 104.5px,#384ba0 157px)"></i>
<i style="left:1367px;top:755px;width:157px;height:1px;background:linear-gradient(90deg,#8b1a1a 0,#8b1a1a 31.5px,#941c1d 32.5px,#c3272d 33.5px,#e91d25 34.5px,#f15422 35.5px,#f89535 36.5px,#fdd61b 37.5px,#dde228 38.5px,#c1d646 39.5px,#95c65f 41.5px,#6fc7bf 44.5px,#46c0e5 46.5px,#36aee4 47.5px,#3a88ca 48.5px,#3b5eac 58.5px,#3b56a7 68.5px,#88c475 69.5px,#7dc490 74.5px,#5fc6d7 81.5px,#36b7ea 85.5px,#3991d0 89.5px,#3b63ae 106.5px,#34439c 155.5px,#384ba0 157px)"></i>
<i style="left:1367px;top:756px;width:157px;height:1px;background:linear-gradient(90deg,#8b1a1a 0,#8b1a1a 31.5px,#941c1d 32.5px,#c3272d 33.5px,#e91d25 34.5px,#f15422 35.5px,#f89535 36.5px,#fdd61b 37.5px,#dde228 38.5px,#c1d646 39.5px,#95c65f 41.5px,#6fc7bf 44.5px,#46c0e5 46.5px,#36aee4 47.5px,#3a88ca 48.5px,#3b5eac 58.5px,#3b56a7 68.5px,#81c485 69.5px,#75c5a8 75.5px,#62c6d5 80.5px,#36bdee 84.5px,#3899d6 87.5px,#3b64af 104.5px,#34439c 155.5px,#384ba0 157px)"></i>
<i style="left:1367px;top:757px;width:157px;height:1px;background:linear-gradient(90deg,#8b1a1a 0,#8b1a1a 31.5px,#941c1d 32.5px,#c3272d 33.5px,#e91d25 34.5px,#f15422 35.5px,#f89535 36.5px,#fdd61b 37.5px,#dde228 38.5px,#c1d646 39.5px,#95c65f 41.5px,#6fc7bf 44.5px,#46c0e5 46.5px,#36aee4 47.5px,#3a88ca 48.5px,#3b5eac 58.5px,#3b56a7 68.5px,#7bc496 69.5px,#6ec7c3 77.5px,#3abeeb 83.5px,#3991d0 88.5px,#3b62ae 106.5px,#34439c 155.5px,#384ba0 157px)"></i>
<i style="left:1367px;top:758px;width:157px;height:1px;background:linear-gradient(90deg,#8b1a1a 0,#8b1a1a 31.5px,#941c1d 32.5px,#c3272d 33.5px,#e91d25 34.5px,#f15422 35.5px,#f89535 36.5px,#fdd61b 37.5px,#dde228 38.5px,#c1d646 39.5px,#95c65f 41.5px,#6fc7bf 44.5px,#46c0e5 46.5px,#36aee4 47.5px,#3a88ca 48.5px,#3b5eac 58.5px,#3b56a7 68.5px,#75c4a4 69.5px,#6ec7c4 76.5px,#35baec 83.5px,#3899d5 86.5px,#3b64af 104.5px,#33439b 155.5px,#384ba0 157px)"></i>
<i style="left:1367px;top:759px;width:157px;height:1px;background:linear-gradient(90deg,#8b1a1a 0,#8b1a1a 31.5px,#941c1d 32.5px,#c3272d 33.5px,#e91d25 34.5px,#f15422 35.5px,#f89535 36.5px,#fdd61b 37.5px,#dde228 38.5px,#c1d646 39.5px,#95c65f 41.5px,#6fc7bf 44.5px,#46c0e5 46.5px,#36aee4 47.5px,#3a88ca 48.5px,#3b5eac 58.5px,#3b56a7 68.5px,#73c5b0 69.5px,#65c7d3 77.5px,#36bded 82.5px,#389bd7 85.5px,#3b65af 102.5px,#33439b 155.5px,#384ba0 157px)"></i>
<i style="left:1680px;top:672px;width:167px;height:1px;background:linear-gradient(90deg,#3b61ad 0,#3b66b0 2.5px,#3b54a6 3.5px,#3a53a5 17.5px,#3a52a4 64.5px,#2a3090 65.5px,#2e3895 167px)"></i>
<i style="left:1680px;top:673px;width:167px;height:1px;background:linear-gradient(90deg,#3b61ad 0,#3b66b0 2.5px,#3b56a7 3.5px,#3b64af 11.5px,#3a52a4 24.5px,#3a52a4 64.5px,#2a3090 65.5px,#2e3895 167px)"></i>
<i style="left:1680px;top:674px;width:167px;height:1px;background:linear-gradient(90deg,#3b61ad 0,#3b66b0 2.5px,#3b58a8 3.5px,#3a88ca 9.5px,#3b76bc 12.5px,#3b58a8 16.5px,#3a52a4 64.5px,#2a3090 65.5px,#2e3895 167px)"></i>
<i style="left:1680px;top:675px;width:167px;height:1px;background:linear-gradient(90deg,#3b61ad 0,#3b66b0 2.5px,#3b5baa 3.5px,#3a84c7 6.5px,#39beec 8.5px,#42c0e7 10.5px,#37bded 11.5px,#3b6db5 14.5px,#3b55a6 18.5px,#3a52a4 64.5px,#2a308f 65.5px,#2e3895 167px)"></i>
<i style="left:1680px;top:676px;width:167px;height:1px;background:linear-gradient(90deg,#3b61ad 0,#3b5fac 3.5px,#3a82c5 5.5px,#36afe5 6.5px,#64c6d4 8.5px,#6cc8cb 10.5px,#48c1e3 12.5px,#37a9e1 13.5px,#3a7fc3 14.5px,#3b66b0 15.5px,#3a52a5 21.5px,#3a52a4 64.5px,#2a2f8f 65.5px,#2e3895 167px)"></i>
<i style="left:1680px;top:677px;width:167px;height:1px;background:linear-gradient(90deg,#3b61ad 0,#3b61ae 3.5px,#3b72b9 4.5px,#41bfe7 6.5px,#65c7d4 7.5px,#74c5ac 9.5px,#70c6bd 11.5px,#61c6d6 12.5px,#3cbeea 13.5px,#398ece 14.5px,#3b6fb7 15.5px,#3b56a7 18.5px,#3a52a4 64.5px,#2a2f8f 65.5px,#2e3895 167px)"></i>
<i style="left:1680px;top:678px;width:167px;height:1px;background:linear-gradient(90deg,#3b61ad 0,#3b62ae 3.5px,#3b75bb 4.5px,#46c0e5 6.5px,#6bc8d0 7.5px,#75c4a4 9.5px,#75c4a5 10.5px,#67c7d2 12.5px,#41bfe7 13.5px,#3b71b9 15.5px,#3b56a7 18.5px,#3a52a4 64.5px,#2a2f8f 65.5px,#2e3895 167px)"></i>
<i style="left:1680px;top:679px;width:167px;height:1px;background:linear-gradient(90deg,#3b61ad 0,#3b61ad 3.5px,#3a8ccd 5.5px,#39beec 6.5px,#5cc5d8 7.5px,#71c6b6 9.5px,#6dc7c7 11.5px,#35bdee 13.5px,#3a87c9 14.5px,#3b60ad 16.5px,#3a52a4 28.5px,#3a52a4 64.5px,#2a2f8e 65.5px,#2e3895 167px)"></i>
<i style="left:1680px;top:680px;width:167px;height:1px;background:linear-gradient(90deg,#3b61ad 0,#3b65af 4.5px,#389cd8 6.5px,#3cbeea 7.5px,#5ec5d7 9.5px,#50c3df 11.5px,#39beec 12.5px,#3a78be 14.5px,#3b5dab 16.5px,#3a52a4 38.5px,#3a52a4 64.5px,#292f8e 65.5px,#2e3895 167px)"></i>
<i style="left:1680px;top:681px;width:167px;height:1px;background:linear-gradient(90deg,#3b61ad 0,#3b66b0 2.5px,#3b59a9 3.5px,#3b66b0 5.5px,#36b2e7 9.5px,#38a2dc 11.5px,#3b65b0 14.5px,#3a52a4 22.5px,#3a52a4 64.5px,#292f8e 65.5px,#2e3895 167px)"></i>
<i style="left:1680px;top:682px;width:167px;height:5px;background:linear-gradient(90deg,#3b61ad 0,#3b66b0 2.5px,#37499f 3.5px,#3a4fa3 55.5px,#384ba0 64.5px,#292f8e 65.5px,#2e3895 167px)"></i>
<i style="left:1680px;top:687px;width:167px;height:5px;background:linear-gradient(90deg,#3b61ad 0,#3b66b0 2.5px,#3a4fa3 3.5px,#3a4ea2 51.5px,#3a52a4 64.5px,#2a3090 65.5px,#2e3895 167px)"></i>
<i style="left:1680px;top:692px;width:167px;height:3px;background:linear-gradient(90deg,#3b61ad 0,#3b66b0 2.5px,#3a53a5 3.5px,#384ba0 48.5px,#3b58a8 63.5px,#3b56a7 64.5px,#2c3593 65.5px,#2e3895 167px)"></i>
<i style="left:1680px;top:695px;width:167px;height:3px;background:linear-gradient(90deg,#3b61ad 0,#3b66b0 2.5px,#3b55a7 4.5px,#384ba0 45.5px,#3b5dab 63.5px,#3b5baa 64.5px,#303c97 65.5px,#2b3191 105.5px,#2e3895 167px)"></i>
<i style="left:1680px;top:698px;width:167px;height:2px;background:linear-gradient(90deg,#3b61ad 0,#3b66b0 2.5px,#3b58a8 4.5px,#394da1 37.5px,#3b58a8 53.5px,#3b67b1 62.5px,#3b60ad 64.5px,#33439b 65.5px,#2a2f8f 98.5px,#2e3895 167px)"></i>
<i style="left:1680px;top:700px;width:167px;height:2px;background:linear-gradient(90deg,#3b61ad 0,#3b66b0 2.5px,#3b57a8 7.5px,#3a4ea2 48.5px,#3b71b8 62.5px,#3b64af 64.5px,#35459d 65.5px,#2a2f8e 98.5px,#2e3895 167px)"></i>
<i style="left:1680px;top:702px;width:167px;height:2px;background:linear-gradient(90deg,#3b61ad 0,#3a52a5 11.5px,#3b55a7 51.5px,#3a7cc1 62.5px,#3b6ab3 64.5px,#37499f 65.5px,#292f8e 97.5px,#2e3895 167px)"></i>
<i style="left:1680px;top:704px;width:167px;height:1px;background:linear-gradient(90deg,#3b61ad 0,#3a4fa3 24.5px,#3b58a9 52.5px,#3a84c7 62.5px,#3b72b9 64.5px,#394da1 65.5px,#292f8e 96.5px,#2e3895 167px)"></i>
<i style="left:1680px;top:705px;width:167px;height:1px;background:linear-gradient(90deg,#3b61ad 0,#3a50a3 24.5px,#3b59a9 52.5px,#3a8ccd 62.5px,#3a79be 64.5px,#3a4fa3 65.5px,#292f8e 96.5px,#2e3895 167px)"></i>
<i style="left:1680px;top:706px;width:167px;height:1px;background:linear-gradient(90deg,#3b61ad 0,#3a50a3 25.5px,#3b59a9 52.5px,#3899d6 62.5px,#3a80c4 64.5px,#3a52a4 65.5px,#292f8e 96.5px,#2e3895 167px)"></i>
<i style="left:1680px;top:707px;width:167px;height:1px;background:linear-gradient(90deg,#3b61ad 0,#3a50a3 26.5px,#3b59a9 52.5px,#398fcf 60.5px,#37a9e0 62.5px,#3a8ccc 64.5px,#3b55a6 65.5px,#292f8e 95.5px,#2e3895 167px)"></i>
<i style="left:1680px;top:708px;width:167px;height:1px;background:linear-gradient(90deg,#3b61ad 0,#3a51a4 27.5px,#3b5aa9 52.5px,#3898d5 60.5px,#35bced 62.5px,#37a4dd 64.5px,#3b59a9 65.5px,#292f8e 94.5px,#2e3895 167px)"></i>
<i style="left:1680px;top:709px;width:167px;height:1px;background:linear-gradient(90deg,#3b61ad 0,#3a53a5 12.5px,#3b57a8 51.5px,#3b70b8 55.5px,#3991d0 59.5px,#35baec 61.5px,#44c0e6 62.5px,#39beec 64.5px,#3b62ae 65.5px,#2a2f8e 93.5px,#2e3895 167px)"></i>
<i style="left:1680px;top:710px;width:167px;height:1px;background:linear-gradient(90deg,#3b61ad 0,#3b58a8 10.5px,#3b57a8 51.5px,#3b72b9 55.5px,#3898d5 59.5px,#3fbfe8 61.5px,#57c4db 62.5px,#52c3de 64.5px,#3a78be 65.5px,#3b56a7 69.5px,#2a2f8e 94.5px,#2e3895 167px)"></i>
<i style="left:1680px;top:711px;width:167px;height:1px;background:linear-gradient(90deg,#3b61ad 0,#3b5eac 8.5px,#3a51a4 23.5px,#3b58a8 51.5px,#3b73ba 55.5px,#38a0da 59.5px,#35bbec 60.5px,#6bc8d0 62.5px,#6cc8cd 64.5px,#37a7df 65.5px,#3b6db6 67.5px,#3a53a5 71.5px,#292f8e 95.5px,#2e3895 167px)"></i>
<i style="left:1680px;top:712px;width:167px;height:1px;background:linear-gradient(90deg,#3b61ad 0,#3b62ae 6.5px,#3a51a4 21.5px,#3b58a8 51.5px,#3b74ba 55.5px,#37a6df 59.5px,#3bbeea 60.5px,#70c6bc 62.5px,#73c5af 64.5px,#53c3dd 65.5px,#35bbed 66.5px,#3a83c6 67.5px,#3b66b0 68.5px,#37489f 77.5px,#292f8e 96.5px,#2e3895 167px)"></i>
<i style="left:1680px;top:713px;width:167px;height:1px;background:linear-gradient(90deg,#3b61ad 0,#3b64af 5.5px,#3a52a4 20.5px,#3b58a8 51.5px,#3b74bb 55.5px,#3995d3 58.5px,#43c0e6 60.5px,#67c7d2 61.5px,#74c5a9 62.5px,#7dc491 63.5px,#7ec48f 64.5px,#6fc7bf 65.5px,#58c4da 66.5px,#37a5de 67.5px,#3b73ba 68.5px,#3b59a9 70.5px,#2a2f8e 94.5px,#2e3895 167px)"></i>
<i style="left:1680px;top:714px;width:167px;height:1px;background:linear-gradient(90deg,#3b61ad 0,#3b64af 5.5px,#3a52a4 20.5px,#3b58a8 51.5px,#3b75bb 55.5px,#3998d5 58.5px,#36b1e6 59.5px,#48c1e3 60.5px,#6cc8cb 61.5px,#7ac498 62.5px,#87c477 63.5px,#89c472 64.5px,#6cc8cb 66.5px,#3bbeeb 67.5px,#3a7ec2 68.5px,#3b63ae 69.5px,#2a3191 89.5px,#2e3895 167px)"></i>
<i style="left:1680px;top:715px;width:167px;height:2px;background:linear-gradient(90deg,#3b61ad 0,#3b64af 5.5px,#3a52a4 20.5px,#3b58a8 51.5px,#3b75bb 55.5px,#3899d6 58.5px,#36b3e7 59.5px,#4bc2e2 60.5px,#6dc7c6 61.5px,#7ec48d 62.5px,#8dc469 63.5px,#8fc463 64.5px,#81c487 65.5px,#6fc6bd 66.5px,#46c0e5 67.5px,#3a84c7 68.5px,#3b64af 69.5px,#34449c 80.5px,#292f8e 97.5px,#2e3895 167px)"></i>
<i style="left:1680px;top:717px;width:167px;height:1px;background:linear-gradient(90deg,#3b61ad 0,#3b64af 5.5px,#3a52a4 20.5px,#3b58a8 51.5px,#3b75bb 55.5px,#3998d5 58.5px,#36b1e6 59.5px,#48c1e3 60.5px,#6cc8cb 61.5px,#7ac498 62.5px,#87c477 63.5px,#89c472 64.5px,#6cc8cb 66.5px,#3bbeeb 67.5px,#3a7ec2 68.5px,#3b63ae 69.5px,#2a3191 89.5px,#2e3895 167px)"></i>
<i style="left:1680px;top:718px;width:167px;height:1px;background:linear-gradient(90deg,#3b61ad 0,#3b64af 5.5px,#3a52a4 20.5px,#3b58a8 51.5px,#3b74bb 55.5px,#3995d3 58.5px,#43c0e6 60.5px,#67c7d2 61.5px,#74c5a9 62.5px,#7dc491 63.5px,#7ec48f 64.5px,#6fc7bf 65.5px,#58c4da 66.5px,#37a5de 67.5px,#3b73ba 68.5px,#3b59a9 70.5px,#2a2f8e 94.5px,#2e3895 167px)"></i>
<i style="left:1680px;top:719px;width:167px;height:1px;background:linear-gradient(90deg,#3b61ad 0,#3b62ae 6.5px,#3a51a4 21.5px,#3b58a8 51.5px,#3b74ba 55.5px,#37a6df 59.5px,#3bbeea 60.5px,#70c6bc 62.5px,#73c5af 64.5px,#53c3dd 65.5px,#35bbed 66.5px,#3a83c6 67.5px,#3b66b0 68.5px,#37489f 77.5px,#292f8e 96.5px,#2e3895 167px)"></i>
<i style="left:1680px;top:720px;width:167px;height:1px;background:linear-gradient(90deg,#3b61ad 0,#3b5eac 8.5px,#3a51a4 23.5px,#3b58a8 51.5px,#3b73ba 55.5px,#38a0da 59.5px,#35bbec 60.5px,#6bc8d0 62.5px,#6cc8cd 64.5px,#37a7df 65.5px,#3b6db6 67.5px,#3a53a5 71.5px,#292f8e 95.5px,#2e3895 167px)"></i>
<i style="left:1680px;top:721px;width:167px;height:1px;background:linear-gradient(90deg,#3b61ad 0,#3b58a8 10.5px,#3b57a8 51.5px,#3b72b9 55.5px,#3898d5 59.5px,#3fbfe8 61.5px,#57c4db 62.5px,#52c3de 64.5px,#3a78be 65.5px,#3b56a7 69.5px,#2a2f8e 94.5px,#2e3895 167px)"></i>
<i style="left:1680px;top:722px;width:167px;height:1px;background:linear-gradient(90deg,#3b61ad 0,#3a53a5 12.5px,#3b57a8 51.5px,#3b70b8 55.5px,#3991d0 59.5px,#35baec 61.5px,#44c0e6 62.5px,#39beec 64.5px,#3b62ae 65.5px,#2a2f8e 93.5px,#2e3895 167px)"></i>
<i style="left:1680px;top:723px;width:167px;height:1px;background:linear-gradient(90deg,#3b61ad 0,#3a51a4 27.5px,#3b5aa9 52.5px,#3898d5 60.5px,#35bced 62.5px,#37a4dd 64.5px,#3b59a9 65.5px,#292f8e 94.5px,#2e3895 167px)"></i>
<i style="left:1680px;top:724px;width:167px;height:1px;background:linear-gradient(90deg,#3b61ad 0,#3a50a3 26.5px,#3b59a9 52.5px,#398fcf 60.5px,#37a9e0 62.5px,#3a8ccc 64.5px,#3b55a6 65.5px,#292f8e 95.5px,#2e3895 167px)"></i>
<i style="left:1680px;top:725px;width:167px;height:1px;background:linear-gradient(90deg,#3b61ad 0,#3a50a3 25.5px,#3b59a9 52.5px,#3899d6 62.5px,#3a80c4 64.5px,#3a52a4 65.5px,#292f8e 96.5px,#2e3895 167px)"></i>
<i style="left:1680px;top:726px;width:167px;height:1px;background:linear-gradient(90deg,#3b61ad 0,#3a50a3 24.5px,#3b59a9 52.5px,#3a8ccd 62.5px,#3a79be 64.5px,#3a4fa3 65.5px,#292f8e 96.5px,#2e3895 167px)"></i>
<i style="left:1680px;top:727px;width:167px;height:2px;background:linear-gradient(90deg,#3b61ad 0,#3a51a4 12.5px,#3b56a7 51.5px,#3a81c5 62.5px,#3b6fb7 64.5px,#384ba0 65.5px,#292f8e 97.5px,#2e3895 167px)"></i>
<i style="left:1680px;top:729px;width:167px;height:2px;background:linear-gradient(90deg,#3b61ad 0,#3b66b0 2.5px,#3a4ea2 18.5px,#3b57a8 52.5px,#3b76bd 62.5px,#3b66b0 64.5px,#36479e 65.5px,#2a2f8e 98.5px,#2e3895 167px)"></i>
<i style="left:1680px;top:731px;width:167px;height:2px;background:linear-gradient(90deg,#3b61ad 0,#3b66b0 2.5px,#3b58a8 5.5px,#3a4da2 39.5px,#3b59a9 53.5px,#3b6bb4 62.5px,#3b62ae 64.5px,#34449c 65.5px,#2a2f8f 98.5px,#2e3895 167px)"></i>
<i style="left:1680px;top:733px;width:167px;height:2px;background:linear-gradient(90deg,#3b61ad 0,#3b66b0 2.5px,#3b57a8 4.5px,#394ca1 40.5px,#3b57a8 53.5px,#3b64af 62.5px,#3b5eac 64.5px,#32409a 65.5px,#2a308f 100.5px,#2e3895 167px)"></i>
<i style="left:1680px;top:735px;width:167px;height:3px;background:linear-gradient(90deg,#3b61ad 0,#3b66b0 2.5px,#3b55a6 3.5px,#384ba0 42.5px,#3b5baa 63.5px,#3b59a9 64.5px,#2f3996 65.5px,#2c3392 116.5px,#2e3895 167px)"></i>
<i style="left:1680px;top:738px;width:167px;height:4px;background:linear-gradient(90deg,#3b61ad 0,#3b66b0 2.5px,#3a52a4 3.5px,#3a4ea2 50.5px,#3b55a6 64.5px,#2b3291 65.5px,#2e3895 167px)"></i>
<i style="left:1680px;top:742px;width:167px;height:5px;background:linear-gradient(90deg,#3b61ad 0,#3b66b0 2.5px,#394da1 3.5px,#3a4fa2 52.5px,#3a4fa3 64.5px,#2a2f8f 65.5px,#2e3895 167px)"></i>
<i style="left:1680px;top:747px;width:167px;height:3px;background:linear-gradient(90deg,#3b61ad 0,#3b66b0 2.5px,#37489f 3.5px,#384aa0 64.5px,#292f8e 65.5px,#2e3895 167px)"></i>
<i style="left:1680px;top:750px;width:167px;height:1px;background:linear-gradient(90deg,#3b61ad 0,#3b66b0 2.5px,#3b59a9 3.5px,#3b66b0 5.5px,#36b2e7 9.5px,#38a2dc 11.5px,#3b65b0 14.5px,#3a52a4 22.5px,#3a52a4 64.5px,#292f8e 65.5px,#2e3895 167px)"></i>
<i style="left:1680px;top:751px;width:167px;height:1px;background:linear-gradient(90deg,#3b61ad 0,#3b65af 4.5px,#389cd8 6.5px,#3cbeea 7.5px,#5ec5d7 9.5px,#50c3df 11.5px,#39beec 12.5px,#3a78be 14.5px,#3b5dab 16.5px,#3a52a4 38.5px,#3a52a4 64.5px,#292f8e 65.5px,#2e3895 167px)"></i>
<i style="left:1680px;top:752px;width:167px;height:1px;background:linear-gradient(90deg,#3b61ad 0,#3b61ad 3.5px,#3a8ccd 5.5px,#39beec 6.5px,#5cc5d8 7.5px,#71c6b6 9.5px,#6dc7c7 11.5px,#35bdee 13.5px,#3a87c9 14.5px,#3b60ad 16.5px,#3a52a4 28.5px,#3a52a4 64.5px,#2a2f8e 65.5px,#2e3895 167px)"></i>
<i style="left:1680px;top:753px;width:167px;height:1px;background:linear-gradient(90deg,#3b61ad 0,#3b62ae 3.5px,#3b75bb 4.5px,#46c0e5 6.5px,#6bc8d0 7.5px,#75c4a4 9.5px,#75c4a5 10.5px,#67c7d2 12.5px,#41bfe7 13.5px,#3b71b9 15.5px,#3b56a7 18.5px,#3a52a4 64.5px,#2a2f8f 65.5px,#2e3895 167px)"></i>
<i style="left:1680px;top:754px;width:167px;height:1px;background:linear-gradient(90deg,#3b61ad 0,#3b61ae 3.5px,#3b72b9 4.5px,#41bfe7 6.5px,#65c7d4 7.5px,#74c5ac 9.5px,#70c6bd 11.5px,#61c6d6 12.5px,#3cbeea 13.5px,#398ece 14.5px,#3b6fb7 15.5px,#3b56a7 18.5px,#3a52a4 64.5px,#2a2f8f 65.5px,#2e3895 167px)"></i>
<i style="left:1680px;top:755px;width:167px;height:1px;background:linear-gradient(90deg,#3b61ad 0,#3b5fac 3.5px,#3a82c5 5.5px,#36afe5 6.5px,#64c6d4 8.5px,#6cc8cb 10.5px,#48c1e3 12.5px,#37a9e1 13.5px,#3a7fc3 14.5px,#3b66b0 15.5px,#3a52a5 21.5px,#3a52a4 64.5px,#2a2f8f 65.5px,#2e3895 167px)"></i>
<i style="left:1680px;top:756px;width:167px;height:1px;background:linear-gradient(90deg,#3b61ad 0,#3b66b0 2.5px,#3b5baa 3.5px,#3a84c7 6.5px,#39beec 8.5px,#42c0e7 10.5px,#37bded 11.5px,#3b6db5 14.5px,#3b55a6 18.5px,#3a52a4 64.5px,#2a308f 65.5px,#2e3895 167px)"></i>
<i style="left:1680px;top:757px;width:167px;height:1px;background:linear-gradient(90deg,#3b61ad 0,#3b66b0 2.5px,#3b58a8 3.5px,#3a88ca 9.5px,#3b76bc 12.5px,#3b58a8 16.5px,#3a52a4 64.5px,#2a3090 65.5px,#2e3895 167px)"></i>
<i style="left:1680px;top:758px;width:167px;height:1px;background:linear-gradient(90deg,#3b61ad 0,#3b66b0 2.5px,#3b56a7 3.5px,#3b64af 11.5px,#3a52a4 24.5px,#3a52a4 64.5px,#2a3090 65.5px,#2e3895 167px)"></i>
<i style="left:1680px;top:759px;width:167px;height:1px;background:linear-gradient(90deg,#3b61ad 0,#3b66b0 2.5px,#3b54a6 3.5px,#3a53a5 17.5px,#3a52a4 64.5px,#2a3090 65.5px,#2e3895 167px)"></i>
<svg width="1996" height="1170" viewBox="0 0 1996 1170" style="position:absolute;left:0;top:0"><style>
.gw{stroke:#fff;stroke-width:2;fill:none}
.gb{stroke:#000;stroke-width:2;stroke-dasharray:6 2.5;fill:none}
.tk{stroke:#000;stroke-width:2;fill:none}
.mg{stroke:#c4c4c4;stroke-width:1.6;stroke-dasharray:1.6 1.6;fill:none}
</style><line x1="151.7" y1="52.0" x2="151.7" y2="469.0" class="gw"/>
<line x1="151.7" y1="52.0" x2="151.7" y2="469.0" class="gb"/>
<line x1="193.3" y1="52.0" x2="193.3" y2="469.0" class="gw"/>
<line x1="193.3" y1="52.0" x2="193.3" y2="469.0" class="gb"/>
<line x1="235.0" y1="52.0" x2="235.0" y2="469.0" class="gw"/>
<line x1="235.0" y1="52.0" x2="235.0" y2="469.0" class="gb"/>
<line x1="276.6" y1="52.0" x2="276.6" y2="469.0" class="gw"/>
<line x1="276.6" y1="52.0" x2="276.6" y2="469.0" class="gb"/>
<line x1="318.3" y1="52.0" x2="318.3" y2="469.0" class="gw"/>
<line x1="318.3" y1="52.0" x2="318.3" y2="469.0" class="gb"/>
<line x1="360.0" y1="52.0" x2="360.0" y2="469.0" class="gw"/>
<line x1="360.0" y1="52.0" x2="360.0" y2="469.0" class="gb"/>
<line x1="401.6" y1="52.0" x2="401.6" y2="469.0" class="gw"/>
<line x1="401.6" y1="52.0" x2="401.6" y2="469.0" class="gb"/>
<line x1="443.3" y1="52.0" x2="443.3" y2="469.0" class="gw"/>
<line x1="443.3" y1="52.0" x2="443.3" y2="469.0" class="gb"/>
<line x1="484.9" y1="52.0" x2="484.9" y2="469.0" class="gw"/>
<line x1="484.9" y1="52.0" x2="484.9" y2="469.0" class="gb"/>
<line x1="110.0" y1="448.1" x2="526.6" y2="448.1" class="gw"/>
<line x1="110.0" y1="448.1" x2="526.6" y2="448.1" class="gb"/>
<line x1="110.0" y1="406.4" x2="526.6" y2="406.4" class="gw"/>
<line x1="110.0" y1="406.4" x2="526.6" y2="406.4" class="gb"/>
<line x1="110.0" y1="364.8" x2="526.6" y2="364.8" class="gw"/>
<line x1="110.0" y1="364.8" x2="526.6" y2="364.8" class="gb"/>
<line x1="110.0" y1="323.0" x2="526.6" y2="323.0" class="gw"/>
<line x1="110.0" y1="323.0" x2="526.6" y2="323.0" class="gb"/>
<line x1="110.0" y1="281.3" x2="526.6" y2="281.3" class="gw"/>
<line x1="110.0" y1="281.3" x2="526.6" y2="281.3" class="gb"/>
<line x1="110.0" y1="239.6" x2="526.6" y2="239.6" class="gw"/>
<line x1="110.0" y1="239.6" x2="526.6" y2="239.6" class="gb"/>
<line x1="110.0" y1="197.9" x2="526.6" y2="197.9" class="gw"/>
<line x1="110.0" y1="197.9" x2="526.6" y2="197.9" class="gb"/>
<line x1="110.0" y1="156.2" x2="526.6" y2="156.2" class="gw"/>
<line x1="110.0" y1="156.2" x2="526.6" y2="156.2" class="gb"/>
<line x1="110.0" y1="114.5" x2="526.6" y2="114.5" class="gw"/>
<line x1="110.0" y1="114.5" x2="526.6" y2="114.5" class="gb"/>
<line x1="110.0" y1="72.8" x2="526.6" y2="72.8" class="gw"/>
<line x1="110.0" y1="72.8" x2="526.6" y2="72.8" class="gb"/><line x1="836.0" y1="52.0" x2="836.0" y2="469.0" class="gw"/>
<line x1="836.0" y1="52.0" x2="836.0" y2="469.0" class="gb"/>
<line x1="877.6" y1="52.0" x2="877.6" y2="469.0" class="gw"/>
<line x1="877.6" y1="52.0" x2="877.6" y2="469.0" class="gb"/>
<line x1="919.3" y1="52.0" x2="919.3" y2="469.0" class="gw"/>
<line x1="919.3" y1="52.0" x2="919.3" y2="469.0" class="gb"/>
<line x1="960.9" y1="52.0" x2="960.9" y2="469.0" class="gw"/>
<line x1="960.9" y1="52.0" x2="960.9" y2="469.0" class="gb"/>
<line x1="1002.6" y1="52.0" x2="1002.6" y2="469.0" class="gw"/>
<line x1="1002.6" y1="52.0" x2="1002.6" y2="469.0" class="gb"/>
<line x1="1044.3" y1="52.0" x2="1044.3" y2="469.0" class="gw"/>
<line x1="1044.3" y1="52.0" x2="1044.3" y2="469.0" class="gb"/>
<line x1="1085.9" y1="52.0" x2="1085.9" y2="469.0" class="gw"/>
<line x1="1085.9" y1="52.0" x2="1085.9" y2="469.0" class="gb"/>
<line x1="1127.6" y1="52.0" x2="1127.6" y2="469.0" class="gw"/>
<line x1="1127.6" y1="52.0" x2="1127.6" y2="469.0" class="gb"/>
<line x1="1169.2" y1="52.0" x2="1169.2" y2="469.0" class="gw"/>
<line x1="1169.2" y1="52.0" x2="1169.2" y2="469.0" class="gb"/>
<line x1="794.3" y1="448.1" x2="1210.9" y2="448.1" class="gw"/>
<line x1="794.3" y1="448.1" x2="1210.9" y2="448.1" class="gb"/>
<line x1="794.3" y1="406.4" x2="1210.9" y2="406.4" class="gw"/>
<line x1="794.3" y1="406.4" x2="1210.9" y2="406.4" class="gb"/>
<line x1="794.3" y1="364.8" x2="1210.9" y2="364.8" class="gw"/>
<line x1="794.3" y1="364.8" x2="1210.9" y2="364.8" class="gb"/>
<line x1="794.3" y1="323.0" x2="1210.9" y2="323.0" class="gw"/>
<line x1="794.3" y1="323.0" x2="1210.9" y2="323.0" class="gb"/>
<line x1="794.3" y1="281.3" x2="1210.9" y2="281.3" class="gw"/>
<line x1="794.3" y1="281.3" x2="1210.9" y2="281.3" class="gb"/>
<line x1="794.3" y1="239.6" x2="1210.9" y2="239.6" class="gw"/>
<line x1="794.3" y1="239.6" x2="1210.9" y2="239.6" class="gb"/>
<line x1="794.3" y1="197.9" x2="1210.9" y2="197.9" class="gw"/>
<line x1="794.3" y1="197.9" x2="1210.9" y2="197.9" class="gb"/>
<line x1="794.3" y1="156.2" x2="1210.9" y2="156.2" class="gw"/>
<line x1="794.3" y1="156.2" x2="1210.9" y2="156.2" class="gb"/>
<line x1="794.3" y1="114.5" x2="1210.9" y2="114.5" class="gw"/>
<line x1="794.3" y1="114.5" x2="1210.9" y2="114.5" class="gb"/>
<line x1="794.3" y1="72.8" x2="1210.9" y2="72.8" class="gw"/>
<line x1="794.3" y1="72.8" x2="1210.9" y2="72.8" class="gb"/><line x1="1531.0" y1="52.0" x2="1531.0" y2="469.0" class="gw"/>
<line x1="1531.0" y1="52.0" x2="1531.0" y2="469.0" class="gb"/>
<line x1="1583.0" y1="52.0" x2="1583.0" y2="469.0" class="gw"/>
<line x1="1583.0" y1="52.0" x2="1583.0" y2="469.0" class="gb"/>
<line x1="1635.0" y1="52.0" x2="1635.0" y2="469.0" class="gw"/>
<line x1="1635.0" y1="52.0" x2="1635.0" y2="469.0" class="gb"/>
<line x1="1687.0" y1="52.0" x2="1687.0" y2="469.0" class="gw"/>
<line x1="1687.0" y1="52.0" x2="1687.0" y2="469.0" class="gb"/>
<line x1="1739.0" y1="52.0" x2="1739.0" y2="469.0" class="gw"/>
<line x1="1739.0" y1="52.0" x2="1739.0" y2="469.0" class="gb"/>
<line x1="1791.0" y1="52.0" x2="1791.0" y2="469.0" class="gw"/>
<line x1="1791.0" y1="52.0" x2="1791.0" y2="469.0" class="gb"/>
<line x1="1843.0" y1="52.0" x2="1843.0" y2="469.0" class="gw"/>
<line x1="1843.0" y1="52.0" x2="1843.0" y2="469.0" class="gb"/>
<line x1="1479.0" y1="448.1" x2="1895.0" y2="448.1" class="gw"/>
<line x1="1479.0" y1="448.1" x2="1895.0" y2="448.1" class="gb"/>
<line x1="1479.0" y1="406.4" x2="1895.0" y2="406.4" class="gw"/>
<line x1="1479.0" y1="406.4" x2="1895.0" y2="406.4" class="gb"/>
<line x1="1479.0" y1="364.8" x2="1895.0" y2="364.8" class="gw"/>
<line x1="1479.0" y1="364.8" x2="1895.0" y2="364.8" class="gb"/>
<line x1="1479.0" y1="323.0" x2="1895.0" y2="323.0" class="gw"/>
<line x1="1479.0" y1="323.0" x2="1895.0" y2="323.0" class="gb"/>
<line x1="1479.0" y1="281.3" x2="1895.0" y2="281.3" class="gw"/>
<line x1="1479.0" y1="281.3" x2="1895.0" y2="281.3" class="gb"/>
<line x1="1479.0" y1="239.6" x2="1895.0" y2="239.6" class="gw"/>
<line x1="1479.0" y1="239.6" x2="1895.0" y2="239.6" class="gb"/>
<line x1="1479.0" y1="197.9" x2="1895.0" y2="197.9" class="gw"/>
<line x1="1479.0" y1="197.9" x2="1895.0" y2="197.9" class="gb"/>
<line x1="1479.0" y1="156.2" x2="1895.0" y2="156.2" class="gw"/>
<line x1="1479.0" y1="156.2" x2="1895.0" y2="156.2" class="gb"/>
<line x1="1479.0" y1="114.5" x2="1895.0" y2="114.5" class="gw"/>
<line x1="1479.0" y1="114.5" x2="1895.0" y2="114.5" class="gb"/>
<line x1="1479.0" y1="72.8" x2="1895.0" y2="72.8" class="gw"/>
<line x1="1479.0" y1="72.8" x2="1895.0" y2="72.8" class="gb"/><rect x="1479.0" y="52.0" width="35.5" height="417.0" fill="#fff" fill-opacity="0.58"/><rect x="1856.2" y="52.0" width="38.8" height="417.0" fill="#fff" fill-opacity="0.58"/><line x1="1514.5" y1="52.0" x2="1514.5" y2="469.0" stroke="#2e2a86" stroke-width="2.6" stroke-dasharray="5 2.6"/><line x1="1856.2" y1="52.0" x2="1856.2" y2="469.0" stroke="#00957b" stroke-width="2.6" stroke-dasharray="5 2.6"/><rect x="110.0" y="52.4" width="416.6" height="417.6" fill="none" stroke="#000" stroke-width="2.6"/><rect x="794.3" y="52.4" width="416.6" height="417.6" fill="none" stroke="#000" stroke-width="2.6"/><rect x="1479.0" y="52.4" width="416.0" height="417.6" fill="none" stroke="#000" stroke-width="2.6"/><text x="91.5" y="64.2" font-size="27" text-anchor="end" font-family="'Liberation Serif','DejaVu Serif',serif" >2.25</text><text x="91.5" y="123.7" font-size="27" text-anchor="end" font-family="'Liberation Serif','DejaVu Serif',serif" >2.1</text><text x="91.5" y="165.4" font-size="27" text-anchor="end" font-family="'Liberation Serif','DejaVu Serif',serif" >2</text><text x="91.5" y="207.2" font-size="27" text-anchor="end" font-family="'Liberation Serif','DejaVu Serif',serif" >1.9</text><text x="91.5" y="248.8" font-size="27" text-anchor="end" font-family="'Liberation Serif','DejaVu Serif',serif" >1.8</text><text x="91.5" y="290.6" font-size="27" text-anchor="end" font-family="'Liberation Serif','DejaVu Serif',serif" >1.7</text><text x="91.5" y="332.2" font-size="27" text-anchor="end" font-family="'Liberation Serif','DejaVu Serif',serif" >1.6</text><text x="91.5" y="373.9" font-size="27" text-anchor="end" font-family="'Liberation Serif','DejaVu Serif',serif" >1.5</text><text x="91.5" y="415.7" font-size="27" text-anchor="end" font-family="'Liberation Serif','DejaVu Serif',serif" >1.4</text><text x="91.5" y="479.2" font-size="27" text-anchor="end" font-family="'Liberation Serif','DejaVu Serif',serif" >1.25</text><text x="780.0" y="64.2" font-size="27" text-anchor="end" font-family="'Liberation Serif','DejaVu Serif',serif" >2.25</text><text x="780.0" y="123.7" font-size="27" text-anchor="end" font-family="'Liberation Serif','DejaVu Serif',serif" >2.1</text><text x="780.0" y="165.4" font-size="27" text-anchor="end" font-family="'Liberation Serif','DejaVu Serif',serif" >2</text><text x="780.0" y="207.2" font-size="27" text-anchor="end" font-family="'Liberation Serif','DejaVu Serif',serif" >1.9</text><text x="780.0" y="248.8" font-size="27" text-anchor="end" font-family="'Liberation Serif','DejaVu Serif',serif" >1.8</text><text x="780.0" y="290.6" font-size="27" text-anchor="end" font-family="'Liberation Serif','DejaVu Serif',serif" >1.7</text><text x="780.0" y="332.2" font-size="27" text-anchor="end" font-family="'Liberation Serif','DejaVu Serif',serif" >1.6</text><text x="780.0" y="373.9" font-size="27" text-anchor="end" font-family="'Liberation Serif','DejaVu Serif',serif" >1.5</text><text x="780.0" y="415.7" font-size="27" text-anchor="end" font-family="'Liberation Serif','DejaVu Serif',serif" >1.4</text><text x="780.0" y="479.2" font-size="27" text-anchor="end" font-family="'Liberation Serif','DejaVu Serif',serif" >1.25</text><text x="1461.0" y="64.2" font-size="27" text-anchor="end" font-family="'Liberation Serif','DejaVu Serif',serif" >2.25</text><text x="1461.0" y="123.7" font-size="27" text-anchor="end" font-family="'Liberation Serif','DejaVu Serif',serif" >2.1</text><text x="1461.0" y="165.4" font-size="27" text-anchor="end" font-family="'Liberation Serif','DejaVu Serif',serif" >2</text><text x="1461.0" y="207.2" font-size="27" text-anchor="end" font-family="'Liberation Serif','DejaVu Serif',serif" >1.9</text><text x="1461.0" y="248.8" font-size="27" text-anchor="end" font-family="'Liberation Serif','DejaVu Serif',serif" >1.8</text><text x="1461.0" y="290.6" font-size="27" text-anchor="end" font-family="'Liberation Serif','DejaVu Serif',serif" >1.7</text><text x="1461.0" y="332.2" font-size="27" text-anchor="end" font-family="'Liberation Serif','DejaVu Serif',serif" >1.6</text><text x="1461.0" y="373.9" font-size="27" text-anchor="end" font-family="'Liberation Serif','DejaVu Serif',serif" >1.5</text><text x="1461.0" y="415.7" font-size="27" text-anchor="end" font-family="'Liberation Serif','DejaVu Serif',serif" >1.4</text><text x="1461.0" y="479.2" font-size="27" text-anchor="end" font-family="'Liberation Serif','DejaVu Serif',serif" >1.25</text><text x="111.5" y="510.4" font-size="27" text-anchor="middle" font-family="'Liberation Serif','DejaVu Serif',serif" >193</text><text x="194.8" y="510.4" font-size="27" text-anchor="middle" font-family="'Liberation Serif','DejaVu Serif',serif" >193.2</text><text x="278.1" y="510.4" font-size="27" text-anchor="middle" font-family="'Liberation Serif','DejaVu Serif',serif" >193.4</text><text x="361.5" y="510.4" font-size="27" text-anchor="middle" font-family="'Liberation Serif','DejaVu Serif',serif" >193.6</text><text x="444.8" y="510.4" font-size="27" text-anchor="middle" font-family="'Liberation Serif','DejaVu Serif',serif" >193.8</text><text x="528.1" y="510.4" font-size="27" text-anchor="middle" font-family="'Liberation Serif','DejaVu Serif',serif" >194</text><text x="319.3" y="560.0" font-size="35" text-anchor="middle" font-family="'Liberation Serif','DejaVu Serif',serif" >Frequency [THz]</text><text x="795.8" y="510.4" font-size="27" text-anchor="middle" font-family="'Liberation Serif','DejaVu Serif',serif" >193</text><text x="879.1" y="510.4" font-size="27" text-anchor="middle" font-family="'Liberation Serif','DejaVu Serif',serif" >193.2</text><text x="962.4" y="510.4" font-size="27" text-anchor="middle" font-family="'Liberation Serif','DejaVu Serif',serif" >193.4</text><text x="1045.8" y="510.4" font-size="27" text-anchor="middle" font-family="'Liberation Serif','DejaVu Serif',serif" >193.6</text><text x="1129.1" y="510.4" font-size="27" text-anchor="middle" font-family="'Liberation Serif','DejaVu Serif',serif" >193.8</text><text x="1212.4" y="510.4" font-size="27" text-anchor="middle" font-family="'Liberation Serif','DejaVu Serif',serif" >194</text><text x="1003.6" y="560.0" font-size="35" text-anchor="middle" font-family="'Liberation Serif','DejaVu Serif',serif" >Frequency [THz]</text><text x="1480.0" y="510.4" font-size="27" text-anchor="middle" font-family="'Liberation Serif','DejaVu Serif',serif" >-1</text><text x="1584.0" y="510.4" font-size="27" text-anchor="middle" font-family="'Liberation Serif','DejaVu Serif',serif" >-0.5</text><text x="1688.0" y="510.4" font-size="27" text-anchor="middle" font-family="'Liberation Serif','DejaVu Serif',serif" >0</text><text x="1792.0" y="510.4" font-size="27" text-anchor="middle" font-family="'Liberation Serif','DejaVu Serif',serif" >0.5</text><text x="1896.0" y="510.4" font-size="27" text-anchor="middle" font-family="'Liberation Serif','DejaVu Serif',serif" >1</text><text x="1655.15" y="559.80" font-size="35.5" font-family="'Liberation Serif','DejaVu Serif',serif" font-style="italic">z</text><text x="1673.00" y="566.83" font-size="46.7" font-family="'Liberation Serif','DejaVu Serif',serif">/</text><text x="1689.51" y="560.30" font-size="35.5" font-family="'Liberation Serif','DejaVu Serif',serif" font-style="italic">λ</text><text x="1706.76" y="567.04" font-size="26" font-family="'Liberation Serif','DejaVu Serif',serif">0</text><g transform="translate(24.5,300) rotate(-90)"><text x="19.13" y="0.00" font-size="35.5" font-family="'Liberation Serif','DejaVu Serif',serif" font-style="italic">δ</text><text x="39.00" y="7.20" font-size="46.7" font-family="'Liberation Serif','DejaVu Serif',serif">/</text><text x="56.11" y="0.00" font-size="35.5" font-family="'Liberation Serif','DejaVu Serif',serif" font-style="italic">λ</text><text x="73.96" y="7.50" font-size="26" font-family="'Liberation Serif','DejaVu Serif',serif">0</text></g><g transform="translate(709.5,300) rotate(-90)"><text x="19.13" y="0.00" font-size="35.5" font-family="'Liberation Serif','DejaVu Serif',serif" font-style="italic">δ</text><text x="39.00" y="7.20" font-size="46.7" font-family="'Liberation Serif','DejaVu Serif',serif">/</text><text x="56.11" y="0.00" font-size="35.5" font-family="'Liberation Serif','DejaVu Serif',serif" font-style="italic">λ</text><text x="73.96" y="7.50" font-size="26" font-family="'Liberation Serif','DejaVu Serif',serif">0</text></g><g transform="translate(1392.1,300) rotate(-90)"><text x="19.13" y="0.00" font-size="35.5" font-family="'Liberation Serif','DejaVu Serif',serif" font-style="italic">δ</text><text x="39.00" y="7.20" font-size="46.7" font-family="'Liberation Serif','DejaVu Serif',serif">/</text><text x="56.11" y="0.00" font-size="35.5" font-family="'Liberation Serif','DejaVu Serif',serif" font-style="italic">λ</text><text x="73.96" y="7.50" font-size="26" font-family="'Liberation Serif','DejaVu Serif',serif">0</text></g><text x="267.82" y="23.76" font-size="34" font-family="'Liberation Serif','DejaVu Serif',serif" font-weight="bold">|</text><text x="277.75" y="25.90" font-size="35.5" font-family="'Liberation Serif','DejaVu Serif',serif" font-style="italic">E</text><text x="296.48" y="32.80" font-size="26" font-family="'Liberation Serif','DejaVu Serif',serif">T</text><text x="315.00" y="32.33" font-size="46.7" font-family="'Liberation Serif','DejaVu Serif',serif">/</text><text x="331.96" y="25.90" font-size="35.5" font-family="'Liberation Serif','DejaVu Serif',serif" font-style="italic">E</text><text x="350.96" y="32.80" font-size="26" font-family="'Liberation Serif','DejaVu Serif',serif">I</text><text x="362.82" y="23.76" font-size="34" font-family="'Liberation Serif','DejaVu Serif',serif" font-weight="bold">|</text><text x="1002" y="26" font-size="33" text-anchor="middle" font-family="'Liberation Serif','DejaVu Serif',serif">∠<tspan font-style="italic">E</tspan><tspan font-size="24" dy="6">T</tspan><tspan dy="-6"> − ∠</tspan><tspan font-style="italic">E</tspan><tspan font-size="24" dy="6">I</tspan><tspan dy="-6"> [deg]</tspan></text><text x="1626.22" y="23.66" font-size="34" font-family="'Liberation Serif','DejaVu Serif',serif" font-weight="bold">|</text><text x="1636.76" y="25.90" font-size="35.5" font-family="'Liberation Serif','DejaVu Serif',serif" font-style="italic">E</text><text x="1655.32" y="33.20" font-size="28.5" font-family="'Liberation Serif','DejaVu Serif',serif">tot</text><text x="1692.40" y="32.33" font-size="46.7" font-family="'Liberation Serif','DejaVu Serif',serif">/</text><text x="1709.06" y="25.90" font-size="35.5" font-family="'Liberation Serif','DejaVu Serif',serif" font-style="italic">E</text><text x="1727.56" y="33.00" font-size="26" font-family="'Liberation Serif','DejaVu Serif',serif">I</text><text x="1739.22" y="23.66" font-size="34" font-family="'Liberation Serif','DejaVu Serif',serif" font-weight="bold">|</text><text x="1162.82" y="629.66" font-size="34" font-family="'Liberation Serif','DejaVu Serif',serif" font-weight="bold">|</text><text x="1173.36" y="631.90" font-size="35.5" font-family="'Liberation Serif','DejaVu Serif',serif" font-style="italic">E</text><text x="1191.91" y="639.20" font-size="28.5" font-family="'Liberation Serif','DejaVu Serif',serif">tot</text><text x="1229.00" y="638.33" font-size="46.7" font-family="'Liberation Serif','DejaVu Serif',serif">/</text><text x="1245.65" y="631.90" font-size="35.5" font-family="'Liberation Serif','DejaVu Serif',serif" font-style="italic">E</text><text x="1264.16" y="639.00" font-size="26" font-family="'Liberation Serif','DejaVu Serif',serif">I</text><text x="1275.82" y="629.66" font-size="34" font-family="'Liberation Serif','DejaVu Serif',serif" font-weight="bold">|</text><text x="2.3" y="33.9" font-size="42.5" font-weight="bold" font-family="'Liberation Sans',Arial,sans-serif">(a)</text><text x="681.3" y="33.9" font-size="42.5" font-weight="bold" font-family="'Liberation Sans',Arial,sans-serif">(b)</text><text x="1365.9" y="33.9" font-size="42.5" font-weight="bold" font-family="'Liberation Sans',Arial,sans-serif">(c)</text><text x="2.4" y="638.4" font-size="42.5" font-weight="bold" font-family="'Liberation Sans',Arial,sans-serif">(d)</text><text x="424.1" y="638.4" font-size="42.5" font-weight="bold" font-family="'Liberation Sans',Arial,sans-serif">(e)</text><defs><linearGradient id="ga" x1="0" y1="1" x2="0" y2="0"><stop offset="0.0000" stop-color="#3a4d9f"/><stop offset="0.0700" stop-color="#3b5ba8"/><stop offset="0.1300" stop-color="#3a7fc3"/><stop offset="0.1900" stop-color="#36b9ea"/><stop offset="0.2500" stop-color="#54c4e4"/><stop offset="0.3200" stop-color="#6fc8cf"/><stop offset="0.4000" stop-color="#6fc29a"/><stop offset="0.4600" stop-color="#6bbd5a"/><stop offset="0.5200" stop-color="#69bb46"/><stop offset="0.6000" stop-color="#8ec640"/><stop offset="0.6800" stop-color="#c9dc2b"/><stop offset="0.7400" stop-color="#f5ea14"/><stop offset="0.8000" stop-color="#fcc312"/><stop offset="0.8600" stop-color="#f8961d"/><stop offset="0.9200" stop-color="#f26522"/><stop offset="1.0000" stop-color="#ed1c24"/></linearGradient><linearGradient id="gb" x1="0" y1="1" x2="0" y2="0"><stop offset="0.0000" stop-color="#ee2a24"/><stop offset="0.0694" stop-color="#f47b20"/><stop offset="0.1389" stop-color="#fdd20f"/><stop offset="0.1667" stop-color="#fff200"/><stop offset="0.2222" stop-color="#c4d92e"/><stop offset="0.2778" stop-color="#80c342"/><stop offset="0.3333" stop-color="#62b946"/><stop offset="0.3889" stop-color="#67bd70"/><stop offset="0.4444" stop-color="#6bc3ab"/><stop offset="0.5000" stop-color="#6cc8c8"/><stop offset="0.5417" stop-color="#2ab8ea"/><stop offset="0.5972" stop-color="#3a80c2"/><stop offset="0.6667" stop-color="#3a53a4"/><stop offset="0.7361" stop-color="#4a4c9f"/><stop offset="0.7917" stop-color="#7a479c"/><stop offset="0.8472" stop-color="#b1489b"/><stop offset="0.8889" stop-color="#d9399a"/><stop offset="0.9306" stop-color="#ec1a82"/><stop offset="0.9722" stop-color="#ed1a50"/><stop offset="1.0000" stop-color="#ee1c25"/></linearGradient><linearGradient id="gc" x1="0" y1="1" x2="0" y2="0"><stop offset="0.0000" stop-color="#272a86"/><stop offset="0.0350" stop-color="#2a3090"/><stop offset="0.0650" stop-color="#33429b"/><stop offset="0.1250" stop-color="#3a4ea2"/><stop offset="0.2000" stop-color="#3b59a9"/><stop offset="0.2500" stop-color="#3b66b0"/><stop offset="0.3000" stop-color="#3a88ca"/><stop offset="0.3400" stop-color="#35bdee"/><stop offset="0.4000" stop-color="#6bc8d0"/><stop offset="0.4500" stop-color="#76c4a2"/><stop offset="0.5000" stop-color="#8fc463"/><stop offset="0.5750" stop-color="#c6d843"/><stop offset="0.6350" stop-color="#fff200"/><stop offset="0.7000" stop-color="#fbb040"/><stop offset="0.7750" stop-color="#f26522"/><stop offset="0.8500" stop-color="#ed1c24"/><stop offset="0.9250" stop-color="#c1272d"/><stop offset="1.0000" stop-color="#8b1a1a"/></linearGradient></defs><rect x="556.3" y="51.9" width="20.2" height="417.6" fill="url(#ga)" stroke="#2a2a2a" stroke-width="2.2"/><rect x="1237.4" y="51.9" width="20.3" height="417.6" fill="url(#gb)" stroke="#2a2a2a" stroke-width="2.2"/><rect x="1924.8" y="51.9" width="19.2" height="417.6" fill="url(#gc)" stroke="#2a2a2a" stroke-width="2.2"/><rect x="1937.1" y="658.1" width="20.5" height="114.5" fill="url(#gc)" stroke="#000" stroke-width="2.3"/><text x="593.0" y="478.2" font-size="27" text-anchor="start" font-family="'Liberation Serif','DejaVu Serif',serif" >0</text><text x="593.0" y="394.8" font-size="27" text-anchor="start" font-family="'Liberation Serif','DejaVu Serif',serif" >0.2</text><text x="593.0" y="311.4" font-size="27" text-anchor="start" font-family="'Liberation Serif','DejaVu Serif',serif" >0.4</text><text x="593.0" y="228.0" font-size="27" text-anchor="start" font-family="'Liberation Serif','DejaVu Serif',serif" >0.6</text><text x="593.0" y="144.6" font-size="27" text-anchor="start" font-family="'Liberation Serif','DejaVu Serif',serif" >0.8</text><text x="593.0" y="61.2" font-size="27" text-anchor="start" font-family="'Liberation Serif','DejaVu Serif',serif" >1</text><text x="1276.0" y="478.2" font-size="27" text-anchor="start" font-family="'Liberation Serif','DejaVu Serif',serif" >0</text><text x="1276.0" y="408.7" font-size="27" text-anchor="start" font-family="'Liberation Serif','DejaVu Serif',serif" >60</text><text x="1276.0" y="339.2" font-size="27" text-anchor="start" font-family="'Liberation Serif','DejaVu Serif',serif" >120</text><text x="1276.0" y="269.7" font-size="27" text-anchor="start" font-family="'Liberation Serif','DejaVu Serif',serif" >180</text><text x="1276.0" y="200.2" font-size="27" text-anchor="start" font-family="'Liberation Serif','DejaVu Serif',serif" >240</text><text x="1276.0" y="130.7" font-size="27" text-anchor="start" font-family="'Liberation Serif','DejaVu Serif',serif" >300</text><text x="1276.0" y="61.2" font-size="27" text-anchor="start" font-family="'Liberation Serif','DejaVu Serif',serif" >360</text><text x="1962.0" y="478.2" font-size="27" text-anchor="start" font-family="'Liberation Serif','DejaVu Serif',serif" >0</text><text x="1962.0" y="373.9" font-size="27" text-anchor="start" font-family="'Liberation Serif','DejaVu Serif',serif" >5</text><text x="1962.0" y="269.7" font-size="27" text-anchor="start" font-family="'Liberation Serif','DejaVu Serif',serif" >10</text><text x="1962.0" y="165.4" font-size="27" text-anchor="start" font-family="'Liberation Serif','DejaVu Serif',serif" >15</text><text x="1962.0" y="61.2" font-size="27" text-anchor="start" font-family="'Liberation Serif','DejaVu Serif',serif" >20</text><text x="1969.0" y="781.7" font-size="27" text-anchor="start" font-family="'Liberation Serif','DejaVu Serif',serif" >0</text><text x="1966.5" y="720.7" font-size="27" text-anchor="start" font-family="'Liberation Serif','DejaVu Serif',serif" >10</text><text x="1969.0" y="667.7" font-size="27" text-anchor="start" font-family="'Liberation Serif','DejaVu Serif',serif" >20</text><line x1="537" y1="715.5" x2="601.5" y2="715.5" stroke="#c8c8c8" stroke-width="2.2"/><line x1="1846.5" y1="715.5" x2="1911" y2="715.5" stroke="#c8c8c8" stroke-width="2.2"/><line x1="537" y1="715.5" x2="550" y2="715.5" stroke="#333" stroke-width="2.2"/><line x1="1898" y1="715.5" x2="1911" y2="715.5" stroke="#333" stroke-width="2.2"/><line x1="765.3" y1="658.5" x2="765.3" y2="671.5" class="tk"/>
<line x1="765.3" y1="772.5" x2="765.3" y2="759.5" class="tk"/>
<line x1="994.7" y1="658.5" x2="994.7" y2="671.5" class="tk"/>
<line x1="994.7" y1="772.5" x2="994.7" y2="759.5" class="tk"/>
<line x1="1224.0" y1="658.5" x2="1224.0" y2="671.5" class="tk"/>
<line x1="1224.0" y1="772.5" x2="1224.0" y2="759.5" class="tk"/>
<line x1="1453.3" y1="658.5" x2="1453.3" y2="671.5" class="tk"/>
<line x1="1453.3" y1="772.5" x2="1453.3" y2="759.5" class="tk"/>
<line x1="1682.7" y1="658.5" x2="1682.7" y2="671.5" class="tk"/>
<line x1="1682.7" y1="772.5" x2="1682.7" y2="759.5" class="tk"/><rect x="536.0" y="658.5" width="1376.0" height="114.0" fill="none" stroke="#000" stroke-width="2.6"/><line x1="536.0" y1="1063.3" x2="1912.0" y2="1063.3" class="mg"/>
<line x1="536.0" y1="1046.2" x2="1912.0" y2="1046.2" class="mg"/>
<line x1="536.0" y1="1034.1" x2="1912.0" y2="1034.1" class="mg"/>
<line x1="536.0" y1="1024.7" x2="1912.0" y2="1024.7" class="mg"/>
<line x1="536.0" y1="1017.0" x2="1912.0" y2="1017.0" class="mg"/>
<line x1="536.0" y1="1010.5" x2="1912.0" y2="1010.5" class="mg"/>
<line x1="536.0" y1="1004.8" x2="1912.0" y2="1004.8" class="mg"/>
<line x1="536.0" y1="999.8" x2="1912.0" y2="999.8" class="mg"/>
<line x1="536.0" y1="995.4" x2="1912.0" y2="995.4" class="mg"/>
<line x1="536.0" y1="966.1" x2="1912.0" y2="966.1" class="mg"/>
<line x1="536.0" y1="949.0" x2="1912.0" y2="949.0" class="mg"/>
<line x1="536.0" y1="936.9" x2="1912.0" y2="936.9" class="mg"/>
<line x1="536.0" y1="927.5" x2="1912.0" y2="927.5" class="mg"/>
<line x1="536.0" y1="919.8" x2="1912.0" y2="919.8" class="mg"/>
<line x1="536.0" y1="913.3" x2="1912.0" y2="913.3" class="mg"/>
<line x1="536.0" y1="907.6" x2="1912.0" y2="907.6" class="mg"/>
<line x1="536.0" y1="902.6" x2="1912.0" y2="902.6" class="mg"/>
<line x1="536.0" y1="898.2" x2="1912.0" y2="898.2" class="mg"/>
<line x1="536.0" y1="868.9" x2="1912.0" y2="868.9" class="mg"/>
<line x1="536.0" y1="851.8" x2="1912.0" y2="851.8" class="mg"/>
<line x1="536.0" y1="839.7" x2="1912.0" y2="839.7" class="mg"/>
<line x1="536.0" y1="830.3" x2="1912.0" y2="830.3" class="mg"/>
<line x1="536.0" y1="822.6" x2="1912.0" y2="822.6" class="mg"/>
<line x1="536.0" y1="816.1" x2="1912.0" y2="816.1" class="mg"/>
<line x1="536.0" y1="810.4" x2="1912.0" y2="810.4" class="mg"/>
<line x1="536.0" y1="805.4" x2="1912.0" y2="805.4" class="mg"/>
<line x1="765.3" y1="801.0" x2="765.3" y2="1092.6" class="mg"/>
<line x1="994.7" y1="801.0" x2="994.7" y2="1092.6" class="mg"/>
<line x1="1224.0" y1="801.0" x2="1224.0" y2="1092.6" class="mg"/>
<line x1="1453.3" y1="801.0" x2="1453.3" y2="1092.6" class="mg"/>
<line x1="1682.7" y1="801.0" x2="1682.7" y2="1092.6" class="mg"/><line x1="536.0" y1="1092.6" x2="549.0" y2="1092.6" class="tk"/>
<line x1="1912.0" y1="1092.6" x2="1899.0" y2="1092.6" class="tk"/>
<line x1="536.0" y1="1063.3" x2="542.5" y2="1063.3" class="tk"/>
<line x1="1912.0" y1="1063.3" x2="1905.5" y2="1063.3" class="tk"/>
<line x1="536.0" y1="1046.2" x2="542.5" y2="1046.2" class="tk"/>
<line x1="1912.0" y1="1046.2" x2="1905.5" y2="1046.2" class="tk"/>
<line x1="536.0" y1="1034.1" x2="542.5" y2="1034.1" class="tk"/>
<line x1="1912.0" y1="1034.1" x2="1905.5" y2="1034.1" class="tk"/>
<line x1="536.0" y1="1024.7" x2="542.5" y2="1024.7" class="tk"/>
<line x1="1912.0" y1="1024.7" x2="1905.5" y2="1024.7" class="tk"/>
<line x1="536.0" y1="1017.0" x2="542.5" y2="1017.0" class="tk"/>
<line x1="1912.0" y1="1017.0" x2="1905.5" y2="1017.0" class="tk"/>
<line x1="536.0" y1="1010.5" x2="542.5" y2="1010.5" class="tk"/>
<line x1="1912.0" y1="1010.5" x2="1905.5" y2="1010.5" class="tk"/>
<line x1="536.0" y1="1004.8" x2="542.5" y2="1004.8" class="tk"/>
<line x1="1912.0" y1="1004.8" x2="1905.5" y2="1004.8" class="tk"/>
<line x1="536.0" y1="999.8" x2="542.5" y2="999.8" class="tk"/>
<line x1="1912.0" y1="999.8" x2="1905.5" y2="999.8" class="tk"/>
<line x1="536.0" y1="995.4" x2="549.0" y2="995.4" class="tk"/>
<line x1="1912.0" y1="995.4" x2="1899.0" y2="995.4" class="tk"/>
<line x1="536.0" y1="966.1" x2="542.5" y2="966.1" class="tk"/>
<line x1="1912.0" y1="966.1" x2="1905.5" y2="966.1" class="tk"/>
<line x1="536.0" y1="949.0" x2="542.5" y2="949.0" class="tk"/>
<line x1="1912.0" y1="949.0" x2="1905.5" y2="949.0" class="tk"/>
<line x1="536.0" y1="936.9" x2="542.5" y2="936.9" class="tk"/>
<line x1="1912.0" y1="936.9" x2="1905.5" y2="936.9" class="tk"/>
<line x1="536.0" y1="927.5" x2="542.5" y2="927.5" class="tk"/>
<line x1="1912.0" y1="927.5" x2="1905.5" y2="927.5" class="tk"/>
<line x1="536.0" y1="919.8" x2="542.5" y2="919.8" class="tk"/>
<line x1="1912.0" y1="919.8" x2="1905.5" y2="919.8" class="tk"/>
<line x1="536.0" y1="913.3" x2="542.5" y2="913.3" class="tk"/>
<line x1="1912.0" y1="913.3" x2="1905.5" y2="913.3" class="tk"/>
<line x1="536.0" y1="907.6" x2="542.5" y2="907.6" class="tk"/>
<line x1="1912.0" y1="907.6" x2="1905.5" y2="907.6" class="tk"/>
<line x1="536.0" y1="902.6" x2="542.5" y2="902.6" class="tk"/>
<line x1="1912.0" y1="902.6" x2="1905.5" y2="902.6" class="tk"/>
<line x1="536.0" y1="898.2" x2="549.0" y2="898.2" class="tk"/>
<line x1="1912.0" y1="898.2" x2="1899.0" y2="898.2" class="tk"/>
<line x1="536.0" y1="868.9" x2="542.5" y2="868.9" class="tk"/>
<line x1="1912.0" y1="868.9" x2="1905.5" y2="868.9" class="tk"/>
<line x1="536.0" y1="851.8" x2="542.5" y2="851.8" class="tk"/>
<line x1="1912.0" y1="851.8" x2="1905.5" y2="851.8" class="tk"/>
<line x1="536.0" y1="839.7" x2="542.5" y2="839.7" class="tk"/>
<line x1="1912.0" y1="839.7" x2="1905.5" y2="839.7" class="tk"/>
<line x1="536.0" y1="830.3" x2="542.5" y2="830.3" class="tk"/>
<line x1="1912.0" y1="830.3" x2="1905.5" y2="830.3" class="tk"/>
<line x1="536.0" y1="822.6" x2="542.5" y2="822.6" class="tk"/>
<line x1="1912.0" y1="822.6" x2="1905.5" y2="822.6" class="tk"/>
<line x1="536.0" y1="816.1" x2="542.5" y2="816.1" class="tk"/>
<line x1="1912.0" y1="816.1" x2="1905.5" y2="816.1" class="tk"/>
<line x1="536.0" y1="810.4" x2="542.5" y2="810.4" class="tk"/>
<line x1="1912.0" y1="810.4" x2="1905.5" y2="810.4" class="tk"/>
<line x1="536.0" y1="805.4" x2="542.5" y2="805.4" class="tk"/>
<line x1="1912.0" y1="805.4" x2="1905.5" y2="805.4" class="tk"/>
<line x1="536.0" y1="801.0" x2="549.0" y2="801.0" class="tk"/>
<line x1="1912.0" y1="801.0" x2="1899.0" y2="801.0" class="tk"/>
<line x1="765.3" y1="801.0" x2="765.3" y2="814.0" class="tk"/>
<line x1="765.3" y1="1092.6" x2="765.3" y2="1079.6" class="tk"/>
<line x1="994.7" y1="801.0" x2="994.7" y2="814.0" class="tk"/>
<line x1="994.7" y1="1092.6" x2="994.7" y2="1079.6" class="tk"/>
<line x1="1224.0" y1="801.0" x2="1224.0" y2="814.0" class="tk"/>
<line x1="1224.0" y1="1092.6" x2="1224.0" y2="1079.6" class="tk"/>
<line x1="1453.3" y1="801.0" x2="1453.3" y2="814.0" class="tk"/>
<line x1="1453.3" y1="1092.6" x2="1453.3" y2="1079.6" class="tk"/>
<line x1="1682.7" y1="801.0" x2="1682.7" y2="814.0" class="tk"/>
<line x1="1682.7" y1="1092.6" x2="1682.7" y2="1079.6" class="tk"/><path d="M601.3,987.1C602.8,986.8 606.6,985.1 610.2,985.4C613.8,985.6 618.6,986.9 622.8,988.6C627.0,990.3 631.2,992.7 635.4,995.5C639.6,998.3 644.4,1003.1 648.0,1005.6C651.6,1008.1 653.8,1010.6 656.8,1010.6C659.8,1010.6 662.1,1008.8 665.7,1005.6C669.3,1002.5 674.1,995.4 678.3,991.7C682.5,988.0 687.5,985.2 690.9,983.6C694.2,982.0 694.6,981.7 698.4,982.1C702.2,982.5 709.8,985.3 713.6,986.1C717.4,986.9 717.3,986.2 721.1,987.1C724.9,988.0 732.1,991.2 736.3,991.2C740.5,991.2 742.2,990.4 746.4,987.1C750.6,983.8 757.3,977.9 761.5,971.5C765.7,965.1 768.2,958.0 771.6,948.8C775.0,939.5 778.6,926.5 781.7,916.0C784.9,905.5 787.6,893.2 790.5,885.8C793.4,878.4 796.1,872.9 799.3,871.4C802.4,869.9 805.2,873.9 809.4,876.9C813.6,879.9 820.0,888.9 824.6,889.5C829.2,890.1 833.6,883.2 837.2,880.7C840.8,878.2 843.3,874.7 846.0,874.7C848.7,874.7 851.3,876.8 853.6,880.7C855.9,884.7 857.6,892.9 859.9,898.4C862.2,903.9 864.0,908.2 867.4,913.5C870.8,918.8 876.2,925.5 880.0,929.9C883.8,934.3 886.8,936.4 890.1,940.0C893.5,943.6 897.2,946.0 900.1,951.3C903.0,956.5 905.2,963.1 907.7,971.5C910.2,979.9 913.0,989.8 915.2,1001.8C917.4,1013.8 919.1,1042.2 920.8,1043.4C922.5,1044.7 923.3,1019.6 925.3,1009.3C927.3,999.0 929.9,989.6 932.9,981.6C935.9,973.6 939.6,966.8 943.0,961.4C946.4,956.0 949.8,949.7 953.1,949.3C956.5,948.9 960.2,955.2 963.1,958.9C966.0,962.6 968.2,964.8 970.7,971.5C973.2,978.2 976.4,990.0 978.3,999.2C980.2,1008.5 981.0,1014.2 982.1,1027.0C983.2,1039.8 983.6,1079.6 984.6,1076.2C985.6,1072.8 986.9,1027.6 988.4,1006.8C989.9,986.0 991.7,965.2 993.4,951.3C995.1,937.4 996.5,932.0 998.4,923.6C1000.3,915.2 1002.7,908.5 1004.8,900.9C1006.9,893.3 1009.0,884.4 1011.1,878.2C1013.2,872.0 1015.3,865.3 1017.4,863.6C1019.5,861.9 1021.6,863.2 1023.7,868.1C1025.8,873.0 1028.3,883.6 1030.0,893.3C1031.7,903.0 1032.8,907.6 1033.8,926.1C1034.8,944.6 1035.2,1003.5 1036.3,1004.3C1037.3,1005.1 1038.8,946.6 1040.1,931.1C1041.3,915.6 1042.7,915.0 1043.8,911.0C1044.9,907.0 1045.6,906.4 1046.9,907.2C1048.2,908.0 1050.0,908.6 1051.4,916.0C1052.8,923.4 1054.2,931.5 1055.2,951.3C1056.2,971.1 1056.7,1038.8 1057.7,1034.6C1058.8,1030.4 1060.0,950.1 1061.5,926.1C1063.0,902.1 1064.4,899.1 1066.5,890.8C1068.6,882.5 1072.0,877.9 1074.1,876.2C1076.2,874.5 1075.8,877.2 1079.2,880.7C1082.6,884.2 1090.1,892.5 1094.3,897.1C1098.5,901.7 1100.6,901.0 1104.4,908.4C1108.2,915.8 1114.1,929.9 1117.0,941.2C1119.9,952.6 1120.7,951.4 1122.0,976.5C1123.3,1001.6 1124.0,1092.0 1125.1,1092.0C1126.1,1092.0 1126.9,1001.6 1128.3,976.5C1129.7,951.4 1131.1,951.3 1133.4,941.2C1135.7,931.1 1138.6,922.9 1142.2,916.0C1145.8,909.1 1150.2,903.5 1154.8,899.6C1159.4,895.7 1165.0,892.6 1170.0,892.8C1175.0,893.0 1180.5,896.6 1185.1,900.9C1189.7,905.2 1194.5,911.4 1197.6,918.5C1200.7,925.6 1202.0,933.3 1203.9,943.8C1205.8,954.3 1207.5,967.7 1208.9,981.6C1210.3,995.5 1211.4,1011.2 1212.2,1027.0C1213.0,1042.8 1213.3,1080.4 1214.0,1076.2C1214.7,1072.0 1215.5,1021.8 1216.5,1001.8C1217.5,981.8 1218.6,968.6 1220.3,956.4C1222.0,944.2 1223.7,937.0 1226.6,928.6C1229.5,920.2 1234.3,911.6 1237.9,905.9C1241.5,900.2 1244.6,896.9 1248.0,894.6C1251.4,892.3 1254.7,892.0 1258.1,892.1C1261.5,892.2 1264.4,892.6 1268.2,895.3C1272.0,898.0 1277.0,902.8 1280.8,908.4C1284.6,914.0 1288.2,920.6 1290.9,928.6C1293.6,936.6 1295.5,944.2 1297.2,956.4C1298.9,968.6 1300.1,982.9 1301.0,1001.8C1301.9,1020.7 1301.9,1069.9 1302.5,1069.9C1303.1,1069.9 1303.8,1020.7 1304.8,1001.8C1305.8,982.9 1306.6,969.4 1308.5,956.4C1310.4,943.4 1313.1,932.9 1316.1,923.6C1319.0,914.4 1322.4,907.6 1326.2,900.9C1330.0,894.2 1335.0,887.8 1338.8,883.2C1342.6,878.6 1345.5,877.3 1348.9,873.1C1352.3,868.9 1356.1,863.5 1359.0,858.0C1361.9,852.5 1364.4,845.6 1366.5,840.4C1368.6,835.1 1369.5,829.8 1371.6,826.5C1373.7,823.2 1376.3,820.5 1379.2,820.7C1382.1,820.9 1385.9,825.3 1389.2,827.7C1392.5,830.1 1395.9,835.3 1399.3,835.3C1402.7,835.3 1405.4,830.7 1409.4,827.7C1413.4,824.7 1419.5,817.8 1423.3,817.2C1427.1,816.6 1429.6,819.7 1432.1,824.0C1434.6,828.3 1436.3,836.4 1438.4,842.9C1440.5,849.4 1442.0,854.7 1444.7,863.1C1447.4,871.5 1451.2,884.3 1454.8,893.3C1458.4,902.3 1462.0,911.6 1466.2,917.3C1470.4,923.0 1476.0,924.7 1480.0,927.4C1484.0,930.1 1486.7,931.9 1490.0,933.7C1493.3,935.5 1496.7,936.3 1500.1,938.2C1503.5,940.1 1506.4,941.1 1510.2,945.0C1514.0,948.9 1519.0,954.9 1522.8,961.4C1526.6,967.9 1530.2,975.7 1532.9,984.1C1535.6,992.5 1537.3,1001.8 1539.2,1011.9C1541.1,1022.0 1542.5,1044.6 1544.2,1044.6C1545.9,1044.6 1547.4,1022.0 1549.3,1011.9C1551.2,1001.8 1552.9,992.1 1555.6,984.1C1558.3,976.1 1561.9,969.6 1565.7,963.9C1569.5,958.2 1574.5,953.2 1578.3,950.1C1582.1,947.0 1585.1,945.2 1588.4,945.0C1591.8,944.8 1594.6,945.8 1598.4,948.8C1602.2,951.8 1607.3,957.2 1611.1,962.7C1614.9,968.2 1618.4,973.8 1621.1,981.6C1623.8,989.4 1625.5,996.9 1627.5,1009.3C1629.5,1021.7 1631.5,1053.9 1633.0,1056.0C1634.5,1058.1 1634.9,1032.6 1636.3,1021.9C1637.7,1011.2 1638.8,1000.9 1641.3,991.7C1643.8,982.5 1647.2,973.6 1651.4,966.5C1655.6,959.4 1662.3,953.6 1666.5,948.8C1670.7,944.0 1673.9,941.3 1676.6,937.5C1679.3,933.7 1680.8,926.7 1682.9,926.1C1685.0,925.5 1687.1,928.7 1689.2,933.7C1691.3,938.8 1693.8,945.9 1695.5,956.4C1697.2,966.9 1698.2,980.3 1699.3,996.7C1700.4,1013.1 1700.9,1057.2 1701.9,1054.7C1703.0,1052.2 1704.4,996.7 1705.6,981.6C1706.8,966.5 1707.8,967.3 1708.9,963.9C1710.0,960.5 1711.1,959.3 1712.4,961.4C1713.7,963.5 1715.3,967.7 1716.5,976.5C1717.7,985.3 1718.6,999.7 1719.5,1014.4C1720.4,1029.1 1721.1,1069.0 1722.0,1064.8C1722.9,1060.6 1723.7,1009.4 1725.0,989.2C1726.3,969.0 1727.8,955.1 1729.6,943.8C1731.4,932.4 1733.8,925.8 1735.9,921.1C1738.0,916.4 1740.3,914.7 1742.2,915.5C1744.1,916.3 1745.2,919.3 1747.3,926.1C1749.4,932.9 1752.5,947.1 1754.8,956.4C1757.1,965.6 1759.0,973.6 1761.1,981.6C1763.2,989.6 1765.5,998.4 1767.4,1004.3C1769.3,1010.2 1770.6,1014.2 1772.5,1016.9C1774.4,1019.5 1776.5,1021.0 1778.8,1020.2C1781.1,1019.4 1784.0,1014.5 1786.3,1011.9C1788.6,1009.3 1789.9,1006.1 1792.6,1004.8C1795.3,1003.4 1798.5,1004.5 1802.7,1003.8C1806.9,1003.1 1813.3,1001.4 1817.9,1000.5C1822.5,999.6 1825.9,999.3 1830.5,998.7C1835.1,998.1 1843.1,997.0 1845.6,996.7" fill="none" stroke="#4a8ccf" stroke-width="3" stroke-linejoin="round" stroke-linecap="round"/><line x1="790.3" y1="658.5" x2="790.3" y2="1092.6" stroke="#00957b" stroke-width="2.6" stroke-dasharray="5 2.6"/>
<line x1="857.2" y1="658.5" x2="857.2" y2="1092.6" stroke="#00957b" stroke-width="2.6" stroke-dasharray="5 2.6"/>
<line x1="1368.9" y1="658.5" x2="1368.9" y2="1092.6" stroke="#00957b" stroke-width="2.6" stroke-dasharray="5 2.6"/>
<line x1="1435.9" y1="658.5" x2="1435.9" y2="1092.6" stroke="#00957b" stroke-width="2.6" stroke-dasharray="5 2.6"/>
<line x1="1015.8" y1="658.5" x2="1015.8" y2="1092.6" stroke="#2e2a86" stroke-width="2.6" stroke-dasharray="5 2.6"/>
<line x1="1077.7" y1="658.5" x2="1077.7" y2="1092.6" stroke="#2e2a86" stroke-width="2.6" stroke-dasharray="5 2.6"/>
<line x1="1682.2" y1="658.5" x2="1682.2" y2="1092.6" stroke="#2e2a86" stroke-width="2.6" stroke-dasharray="5 2.6"/>
<line x1="1744.2" y1="658.5" x2="1744.2" y2="1092.6" stroke="#2e2a86" stroke-width="2.6" stroke-dasharray="5 2.6"/><rect x="536.0" y="801.0" width="1376.0" height="291.6" fill="none" stroke="#000" stroke-width="2.6"/><text x="520.5" y="669.7" font-size="27" text-anchor="end" font-family="'Liberation Serif','DejaVu Serif',serif" >0.5</text><text x="520.5" y="724.7" font-size="27" text-anchor="end" font-family="'Liberation Serif','DejaVu Serif',serif" >0</text><text x="520.5" y="779.7" font-size="27" text-anchor="end" font-family="'Liberation Serif','DejaVu Serif',serif" >-0.5</text><text x="513" y="1104.0" font-size="27" text-anchor="end" font-family="'Liberation Serif','DejaVu Serif',serif">10</text><text x="514.5" y="1092.8" font-size="16.5" text-anchor="start" font-family="'Liberation Serif','DejaVu Serif',serif">-1</text><text x="513" y="1006.8" font-size="27" text-anchor="end" font-family="'Liberation Serif','DejaVu Serif',serif">10</text><text x="514.5" y="995.6" font-size="16.5" text-anchor="start" font-family="'Liberation Serif','DejaVu Serif',serif">0</text><text x="513" y="909.6" font-size="27" text-anchor="end" font-family="'Liberation Serif','DejaVu Serif',serif">10</text><text x="514.5" y="898.4" font-size="16.5" text-anchor="start" font-family="'Liberation Serif','DejaVu Serif',serif">1</text><text x="513" y="812.4" font-size="27" text-anchor="end" font-family="'Liberation Serif','DejaVu Serif',serif">10</text><text x="514.5" y="801.2" font-size="16.5" text-anchor="start" font-family="'Liberation Serif','DejaVu Serif',serif">2</text><text x="536.0" y="1124.3" font-size="27" text-anchor="middle" font-family="'Liberation Serif','DejaVu Serif',serif" >-6</text><text x="765.3" y="1124.3" font-size="27" text-anchor="middle" font-family="'Liberation Serif','DejaVu Serif',serif" >-4</text><text x="994.7" y="1124.3" font-size="27" text-anchor="middle" font-family="'Liberation Serif','DejaVu Serif',serif" >-2</text><text x="1224.0" y="1124.3" font-size="27" text-anchor="middle" font-family="'Liberation Serif','DejaVu Serif',serif" >0</text><text x="1453.3" y="1124.3" font-size="27" text-anchor="middle" font-family="'Liberation Serif','DejaVu Serif',serif" >2</text><text x="1682.7" y="1124.3" font-size="27" text-anchor="middle" font-family="'Liberation Serif','DejaVu Serif',serif" >4</text><text x="1912.0" y="1124.3" font-size="27" text-anchor="middle" font-family="'Liberation Serif','DejaVu Serif',serif" >6</text><text x="1224" y="1163" font-size="35" text-anchor="middle" font-family="'Liberation Serif','DejaVu Serif',serif"><tspan font-style="italic">z</tspan> [μm]</text><text transform="translate(462.5,713.5) rotate(-90)" font-size="36" text-anchor="middle" font-family="'Liberation Serif','DejaVu Serif',serif"><tspan font-style="italic">y</tspan> [μm]</text><g transform="translate(460.8,1060) rotate(-90)"><text x="3.52" y="-2.00" font-size="34" font-family="'Liberation Serif','DejaVu Serif',serif" font-weight="bold">|</text><text x="13.96" y="0.00" font-size="35.5" font-family="'Liberation Serif','DejaVu Serif',serif" font-style="italic">E</text><text x="32.52" y="7.00" font-size="28.5" font-family="'Liberation Serif','DejaVu Serif',serif">tot</text><text x="69.40" y="6.50" font-size="46.7" font-family="'Liberation Serif','DejaVu Serif',serif">/</text><text x="86.45" y="0.00" font-size="35.5" font-family="'Liberation Serif','DejaVu Serif',serif" font-style="italic">E</text><text x="105.06" y="7.00" font-size="26" font-family="'Liberation Serif','DejaVu Serif',serif">I</text><text x="116.82" y="-2.00" font-size="34" font-family="'Liberation Serif','DejaVu Serif',serif" font-weight="bold">|</text><text x="125.38" y="0.00" font-size="35.5" font-family="'Liberation Serif','DejaVu Serif',serif">,</text><text x="141.84" y="0.00" font-size="35.5" font-family="'Liberation Serif','DejaVu Serif',serif" font-style="italic">y</text><text x="169.22" y="0.00" font-size="35.5" font-family="'Liberation Serif','DejaVu Serif',serif">=</text><text x="204.48" y="0.00" font-size="35.5" font-family="'Liberation Serif','DejaVu Serif',serif">0</text></g><defs><marker id="ah" viewBox="-15 -8 16 16" markerWidth="16" markerHeight="16" refX="0" refY="0" orient="auto-start-reverse" markerUnits="userSpaceOnUse"><path d="M0,0 L-14,-6.6 L-9.5,0 L-14,6.6 Z" fill="#000"/></marker></defs>
<g id="pd">
<polygon points="218.1,721.6 331.5,786.3 331.8,899.2 218.3,963.6 105.8,899.2 106.0,786.3" fill="#bce3f0"/>
<line x1="218.1" y1="835.7" x2="218.1" y2="721.6" stroke="#5da5d8" stroke-width="2"/>
<line x1="218.1" y1="835.7" x2="105.8" y2="899.2" stroke="#5da5d8" stroke-width="2"/>
<line x1="218.1" y1="835.7" x2="331.8" y2="899.2" stroke="#5da5d8" stroke-width="2"/>
<ellipse cx="239.3" cy="830.0" rx="58.0" ry="33.0" transform="rotate(60.0 239.3 830.0)" fill="#f5afb9"/>
<polygon points="225.0,905.2 268.3,880.2 210.3,779.8 167.0,804.8" fill="#f5afb9"/>
<ellipse cx="239.3" cy="830.0" rx="58.0" ry="33.0" transform="rotate(60.0 239.3 830.0)" fill="none" stroke="#d9725f" stroke-width="1.6"/>
<path d="M210.3,779.8 L212.6,778.6 L215.1,777.8 L217.8,777.3 L220.6,777.1 L223.4,777.3 L226.4,777.8 L229.5,778.6 L232.6,779.7 L235.8,781.1 L239.0,782.8 L242.2,784.8 L245.4,787.1 L248.5,789.7 L251.6,792.5 L254.6,795.5 L257.5,798.8 L260.3,802.2 L263.0,805.8 L265.5,809.6 L267.9,813.5 L270.1,817.5 L272.1,821.6 L273.9,825.7 L275.4,829.8 L276.8,834.0 L277.9,838.1 L278.8,842.2 L279.5,846.2 L279.9,850.1 L280.0,853.9 L279.9,857.5 L279.6,860.9 L279.0,864.2 L278.1,867.3 L277.0,870.1 L275.7,872.7 L274.2,875.0 L272.4,877.0 L270.5,878.8 L268.3,880.2" fill="none" stroke="#a3301f" stroke-width="2.4"/>
<line x1="225.0" y1="905.2" x2="268.3" y2="880.2" stroke="#a3301f" stroke-width="2.4"/>
<line x1="167.0" y1="804.8" x2="210.3" y2="779.8" stroke="#a3301f" stroke-width="2.4"/>
<ellipse cx="196.0" cy="855.0" rx="58.0" ry="33.0" transform="rotate(60.0 196.0 855.0)" fill="#f5afb9" stroke="#a3301f" stroke-width="2.4"/>
<line x1="218.1" y1="721.6" x2="106.0" y2="786.3" stroke="#1652a3" stroke-width="2.4" stroke-linecap="round"/>
<line x1="218.1" y1="721.6" x2="331.5" y2="786.3" stroke="#1652a3" stroke-width="2.4" stroke-linecap="round"/>
<line x1="106.0" y1="786.3" x2="218.1" y2="849.5" stroke="#1652a3" stroke-width="2.4" stroke-linecap="round"/>
<line x1="331.5" y1="786.3" x2="218.1" y2="849.5" stroke="#1652a3" stroke-width="2.4" stroke-linecap="round"/>
<line x1="218.1" y1="849.5" x2="218.3" y2="963.6" stroke="#1652a3" stroke-width="2.4" stroke-linecap="round"/>
<line x1="106.0" y1="786.3" x2="105.8" y2="899.2" stroke="#1652a3" stroke-width="2.4" stroke-linecap="round"/>
<line x1="331.5" y1="786.3" x2="331.8" y2="899.2" stroke="#1652a3" stroke-width="2.4" stroke-linecap="round"/>
<line x1="105.8" y1="899.2" x2="218.3" y2="963.6" stroke="#1652a3" stroke-width="2.4" stroke-linecap="round"/>
<line x1="331.8" y1="899.2" x2="218.3" y2="963.6" stroke="#1652a3" stroke-width="2.4" stroke-linecap="round"/>
<line x1="197.7" y1="860.8" x2="157.5" y2="855.4" stroke="#000" stroke-width="2.2" marker-end="url(#ah)"/>
<line x1="103.7" y1="900.3" x2="27.8" y2="944.0" stroke="#000" stroke-width="2.7"/>
<line x1="215.6" y1="965.2" x2="140.8" y2="1008.6" stroke="#000" stroke-width="2.7"/>
<line x1="280.6" y1="879.2" x2="392.5" y2="943.8" stroke="#000" stroke-width="2.7"/>
<line x1="225.6" y1="911.7" x2="337.5" y2="976.7" stroke="#000" stroke-width="2.7"/>
<line x1="46.9" y1="931.4" x2="162.3" y2="996.6" stroke="#000" stroke-width="2.5" marker-start="url(#ah)" marker-end="url(#ah)"/>
<line x1="384.7" y1="937.8" x2="326.7" y2="970.7" stroke="#000" stroke-width="2.5" marker-start="url(#ah)" marker-end="url(#ah)"/>
<text x="78.5" y="986.5" font-size="37" font-style="italic" font-family="'Liberation Serif','DejaVu Serif',serif">a</text>
<text x="358.5" y="979.5" font-size="37" font-style="italic" font-family="'Liberation Serif','DejaVu Serif',serif">h</text>
<text x="182" y="884.5" font-size="37" font-style="italic" font-family="'Liberation Serif','DejaVu Serif',serif">r</text>
</g></svg>
</body></html>
